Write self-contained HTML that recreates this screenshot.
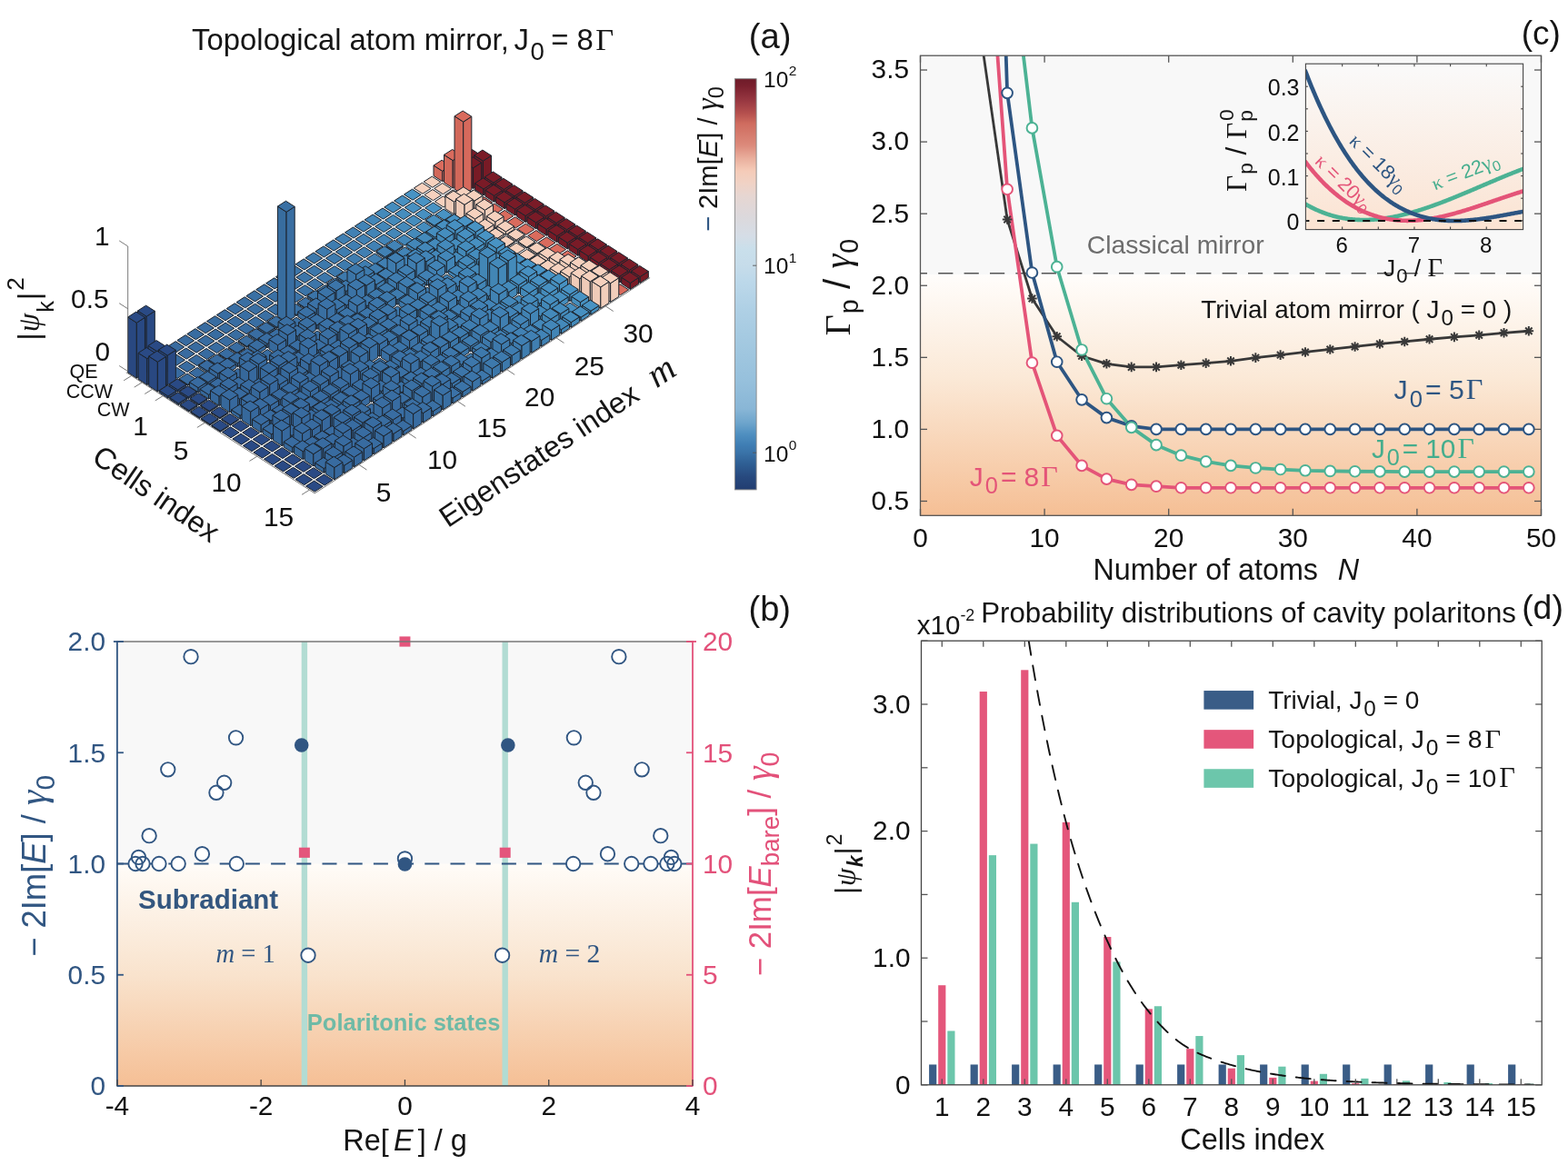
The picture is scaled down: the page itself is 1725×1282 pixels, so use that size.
<!DOCTYPE html><html><head><meta charset="utf-8"><title>Topological atom mirror</title><style>html,body{margin:0;padding:0;background:#fff;overflow:hidden}svg{display:block}</style></head><body><svg width="1725" height="1282" viewBox="0 0 1725 1282"><defs>
<linearGradient id="gc" x1="0" y1="0" x2="0" y2="1"><stop offset="0" stop-color="#f8f8f8"/><stop offset="0.475" stop-color="#f8f8f8"/><stop offset="0.477" stop-color="#fffdfb"/><stop offset="0.70" stop-color="#fbe9d7"/><stop offset="1" stop-color="#f5bf95"/></linearGradient>
<linearGradient id="gb" x1="0" y1="0" x2="0" y2="1"><stop offset="0" stop-color="#f8f8f8"/><stop offset="0.499" stop-color="#f8f8f8"/><stop offset="0.501" stop-color="#fffcf8"/><stop offset="0.75" stop-color="#f9e3cd"/><stop offset="1" stop-color="#f5bf95"/></linearGradient>
<linearGradient id="gi" x1="0" y1="0" x2="0" y2="1"><stop offset="0" stop-color="#fafafa"/><stop offset="1" stop-color="#fbe3d2"/></linearGradient>
<linearGradient id="gcb" x1="0" y1="1" x2="0" y2="0"><stop offset="0" stop-color="#223d70"/><stop offset="0.031" stop-color="#27497e"/><stop offset="0.064" stop-color="#2f5f94"/><stop offset="0.09" stop-color="#3a73a8"/><stop offset="0.108" stop-color="#3f7db3"/><stop offset="0.135" stop-color="#4f8fc0"/><stop offset="0.163" stop-color="#6ea5cc"/><stop offset="0.197" stop-color="#89b6d6"/><stop offset="0.263" stop-color="#96c0dc"/><stop offset="0.351" stop-color="#a2c8e0"/><stop offset="0.44" stop-color="#afd0e5"/><stop offset="0.506" stop-color="#bcd8ea"/><stop offset="0.546" stop-color="#c6dcea"/><stop offset="0.584" stop-color="#c9dfeb"/><stop offset="0.617" stop-color="#d5dde6"/><stop offset="0.668" stop-color="#dcd8db"/><stop offset="0.714" stop-color="#e6d6d2"/><stop offset="0.746" stop-color="#f0d2c5"/><stop offset="0.776" stop-color="#f5cbb8"/><stop offset="0.805" stop-color="#eab09e"/><stop offset="0.838" stop-color="#dc8a7b"/><stop offset="0.891" stop-color="#cf6c5f"/><stop offset="0.916" stop-color="#b5504e"/><stop offset="0.949" stop-color="#963640"/><stop offset="0.982" stop-color="#7a202e"/><stop offset="1.0" stop-color="#6e1c29"/></linearGradient>
<clipPath id="clipc"><rect x="1012.5" y="61.2" width="683" height="506.1"/></clipPath>
<clipPath id="clipi"><rect x="1436.4" y="70.2" width="239.2" height="182.4"/></clipPath>
</defs>
<rect x="0" y="0" width="1725" height="1282" fill="#fff"/>
<rect x="1012.5" y="61.2" width="683.0" height="506.09999999999997" fill="url(#gc)"/>
<line x1="1012.5" y1="300.8" x2="1695.5" y2="300.8" stroke="#555" stroke-width="1.6" stroke-dasharray="16.2 12.2" stroke-dashoffset="8.7"/>
<g clip-path="url(#clipc)">
<path d="M1080.8 51.71 L1108.12 241.5 L1135.44 328.48 L1162.76 370.24 L1190.08 391.75 L1217.4 400.29 L1244.72 403.92 L1272.04 403.92 L1299.36 401.71 L1326.68 399.65 L1354 397.28 L1381.32 393.64 L1408.64 390.64 L1435.96 387.48 L1463.28 384.47 L1490.6 381.47 L1517.92 378.46 L1545.24 375.93 L1572.56 373.24 L1599.88 370.87 L1627.2 368.81 L1654.52 366.28 L1681.84 364.23" fill="none" stroke="#383838" stroke-width="2.8" stroke-linejoin="round" stroke-linecap="round" />
<path d="M1080.8 -168.13 L1108.12 208.29 L1135.44 399.18 L1162.76 479.37 L1190.08 512.42 L1217.4 527.13 L1244.72 533.3 L1272.04 535.19 L1299.36 536.78 L1326.68 536.78 L1354 536.78 L1381.32 536.78 L1408.64 536.78 L1435.96 536.78 L1463.28 536.78 L1490.6 536.78 L1517.92 536.78 L1545.24 536.78 L1572.56 536.78 L1599.88 536.78 L1627.2 536.78 L1654.52 536.78 L1681.84 536.78" fill="none" stroke="#e45478" stroke-width="3.8" stroke-linejoin="round" stroke-linecap="round" />
<path d="M1080.8 -713.77 L1108.12 102.32 L1135.44 300.02 L1162.76 398.23 L1190.08 439.83 L1217.4 459.6 L1244.72 468.77 L1272.04 472.41 L1299.36 472.41 L1326.68 472.41 L1354 472.41 L1381.32 472.41 L1408.64 472.41 L1435.96 472.41 L1463.28 472.41 L1490.6 472.41 L1517.92 472.41 L1545.24 472.41 L1572.56 472.41 L1599.88 472.41 L1627.2 472.41 L1654.52 472.41 L1681.84 472.41" fill="none" stroke="#2d5582" stroke-width="3.8" stroke-linejoin="round" stroke-linecap="round" />
<path d="M1108.12 -87.47 L1135.44 140.91 L1162.76 293.69 L1190.08 384.95 L1217.4 438.72 L1244.72 470.35 L1272.04 489.65 L1299.36 501.19 L1326.68 507.83 L1354 512.42 L1381.32 514.95 L1408.64 516.53 L1435.96 517.8 L1463.28 518.43 L1490.6 518.75 L1517.92 518.9 L1545.24 519.06 L1572.56 519.06 L1599.88 519.06 L1627.2 519.06 L1654.52 519.06 L1681.84 519.06" fill="none" stroke="#4cb294" stroke-width="3.8" stroke-linejoin="round" stroke-linecap="round" />
</g>
<path d="M1102.82 241.5L1113.42 241.5M1104.37 237.75L1111.87 245.25M1108.12 236.2L1108.12 246.8M1111.87 237.75L1104.37 245.25" stroke="#383838" stroke-width="2.0" fill="none"/>
<path d="M1130.14 328.48L1140.74 328.48M1131.69 324.74L1139.19 332.23M1135.44 323.18L1135.44 333.78M1139.19 324.74L1131.69 332.23" stroke="#383838" stroke-width="2.0" fill="none"/>
<path d="M1157.46 370.24L1168.06 370.24M1159.01 366.49L1166.51 373.98M1162.76 364.94L1162.76 375.54M1166.51 366.49L1159.01 373.98" stroke="#383838" stroke-width="2.0" fill="none"/>
<path d="M1184.78 391.75L1195.38 391.75M1186.33 388L1193.83 395.49M1190.08 386.45L1190.08 397.05M1193.83 388L1186.33 395.49" stroke="#383838" stroke-width="2.0" fill="none"/>
<path d="M1212.1 400.29L1222.7 400.29M1213.65 396.54L1221.15 404.03M1217.4 394.99L1217.4 405.59M1221.15 396.54L1213.65 404.03" stroke="#383838" stroke-width="2.0" fill="none"/>
<path d="M1239.42 403.92L1250.02 403.92M1240.97 400.18L1248.47 407.67M1244.72 398.62L1244.72 409.22M1248.47 400.18L1240.97 407.67" stroke="#383838" stroke-width="2.0" fill="none"/>
<path d="M1266.74 403.92L1277.34 403.92M1268.29 400.18L1275.79 407.67M1272.04 398.62L1272.04 409.22M1275.79 400.18L1268.29 407.67" stroke="#383838" stroke-width="2.0" fill="none"/>
<path d="M1294.06 401.71L1304.66 401.71M1295.61 397.96L1303.11 405.46M1299.36 396.41L1299.36 407.01M1303.11 397.96L1295.61 405.46" stroke="#383838" stroke-width="2.0" fill="none"/>
<path d="M1321.38 399.65L1331.98 399.65M1322.93 395.91L1330.43 403.4M1326.68 394.35L1326.68 404.95M1330.43 395.91L1322.93 403.4" stroke="#383838" stroke-width="2.0" fill="none"/>
<path d="M1348.7 397.28L1359.3 397.28M1350.25 393.53L1357.75 401.03M1354 391.98L1354 402.58M1357.75 393.53L1350.25 401.03" stroke="#383838" stroke-width="2.0" fill="none"/>
<path d="M1376.02 393.64L1386.62 393.64M1377.57 389.9L1385.07 397.39M1381.32 388.34L1381.32 398.94M1385.07 389.9L1377.57 397.39" stroke="#383838" stroke-width="2.0" fill="none"/>
<path d="M1403.34 390.64L1413.94 390.64M1404.89 386.89L1412.39 394.39M1408.64 385.34L1408.64 395.94M1412.39 386.89L1404.89 394.39" stroke="#383838" stroke-width="2.0" fill="none"/>
<path d="M1430.66 387.48L1441.26 387.48M1432.21 383.73L1439.71 391.22M1435.96 382.18L1435.96 392.78M1439.71 383.73L1432.21 391.22" stroke="#383838" stroke-width="2.0" fill="none"/>
<path d="M1457.98 384.47L1468.58 384.47M1459.53 380.72L1467.03 388.22M1463.28 379.17L1463.28 389.77M1467.03 380.72L1459.53 388.22" stroke="#383838" stroke-width="2.0" fill="none"/>
<path d="M1485.3 381.47L1495.9 381.47M1486.85 377.72L1494.35 385.21M1490.6 376.17L1490.6 386.77M1494.35 377.72L1486.85 385.21" stroke="#383838" stroke-width="2.0" fill="none"/>
<path d="M1512.62 378.46L1523.22 378.46M1514.17 374.71L1521.67 382.21M1517.92 373.16L1517.92 383.76M1521.67 374.71L1514.17 382.21" stroke="#383838" stroke-width="2.0" fill="none"/>
<path d="M1539.94 375.93L1550.54 375.93M1541.49 372.18L1548.99 379.68M1545.24 370.63L1545.24 381.23M1548.99 372.18L1541.49 379.68" stroke="#383838" stroke-width="2.0" fill="none"/>
<path d="M1567.26 373.24L1577.86 373.24M1568.81 369.49L1576.31 376.99M1572.56 367.94L1572.56 378.54M1576.31 369.49L1568.81 376.99" stroke="#383838" stroke-width="2.0" fill="none"/>
<path d="M1594.58 370.87L1605.18 370.87M1596.13 367.12L1603.63 374.62M1599.88 365.57L1599.88 376.17M1603.63 367.12L1596.13 374.62" stroke="#383838" stroke-width="2.0" fill="none"/>
<path d="M1621.9 368.81L1632.5 368.81M1623.45 365.07L1630.95 372.56M1627.2 363.51L1627.2 374.11M1630.95 365.07L1623.45 372.56" stroke="#383838" stroke-width="2.0" fill="none"/>
<path d="M1649.22 366.28L1659.82 366.28M1650.77 362.54L1658.27 370.03M1654.52 360.98L1654.52 371.58M1658.27 362.54L1650.77 370.03" stroke="#383838" stroke-width="2.0" fill="none"/>
<path d="M1676.54 364.23L1687.14 364.23M1678.09 360.48L1685.59 367.98M1681.84 358.93L1681.84 369.53M1685.59 360.48L1678.09 367.98" stroke="#383838" stroke-width="2.0" fill="none"/>
<circle cx="1108.12" cy="102.32" r="5.85" fill="#fff" stroke="#2d5582" stroke-width="1.95"/>
<circle cx="1135.44" cy="300.02" r="5.85" fill="#fff" stroke="#2d5582" stroke-width="1.95"/>
<circle cx="1162.76" cy="398.23" r="5.85" fill="#fff" stroke="#2d5582" stroke-width="1.95"/>
<circle cx="1190.08" cy="439.83" r="5.85" fill="#fff" stroke="#2d5582" stroke-width="1.95"/>
<circle cx="1217.4" cy="459.6" r="5.85" fill="#fff" stroke="#2d5582" stroke-width="1.95"/>
<circle cx="1244.72" cy="468.77" r="5.85" fill="#fff" stroke="#2d5582" stroke-width="1.95"/>
<circle cx="1272.04" cy="472.41" r="5.85" fill="#fff" stroke="#2d5582" stroke-width="1.95"/>
<circle cx="1299.36" cy="472.41" r="5.85" fill="#fff" stroke="#2d5582" stroke-width="1.95"/>
<circle cx="1326.68" cy="472.41" r="5.85" fill="#fff" stroke="#2d5582" stroke-width="1.95"/>
<circle cx="1354" cy="472.41" r="5.85" fill="#fff" stroke="#2d5582" stroke-width="1.95"/>
<circle cx="1381.32" cy="472.41" r="5.85" fill="#fff" stroke="#2d5582" stroke-width="1.95"/>
<circle cx="1408.64" cy="472.41" r="5.85" fill="#fff" stroke="#2d5582" stroke-width="1.95"/>
<circle cx="1435.96" cy="472.41" r="5.85" fill="#fff" stroke="#2d5582" stroke-width="1.95"/>
<circle cx="1463.28" cy="472.41" r="5.85" fill="#fff" stroke="#2d5582" stroke-width="1.95"/>
<circle cx="1490.6" cy="472.41" r="5.85" fill="#fff" stroke="#2d5582" stroke-width="1.95"/>
<circle cx="1517.92" cy="472.41" r="5.85" fill="#fff" stroke="#2d5582" stroke-width="1.95"/>
<circle cx="1545.24" cy="472.41" r="5.85" fill="#fff" stroke="#2d5582" stroke-width="1.95"/>
<circle cx="1572.56" cy="472.41" r="5.85" fill="#fff" stroke="#2d5582" stroke-width="1.95"/>
<circle cx="1599.88" cy="472.41" r="5.85" fill="#fff" stroke="#2d5582" stroke-width="1.95"/>
<circle cx="1627.2" cy="472.41" r="5.85" fill="#fff" stroke="#2d5582" stroke-width="1.95"/>
<circle cx="1654.52" cy="472.41" r="5.85" fill="#fff" stroke="#2d5582" stroke-width="1.95"/>
<circle cx="1681.84" cy="472.41" r="5.85" fill="#fff" stroke="#2d5582" stroke-width="1.95"/>
<circle cx="1135.44" cy="140.91" r="5.85" fill="#fff" stroke="#4cb294" stroke-width="1.95"/>
<circle cx="1162.76" cy="293.69" r="5.85" fill="#fff" stroke="#4cb294" stroke-width="1.95"/>
<circle cx="1190.08" cy="384.95" r="5.85" fill="#fff" stroke="#4cb294" stroke-width="1.95"/>
<circle cx="1217.4" cy="438.72" r="5.85" fill="#fff" stroke="#4cb294" stroke-width="1.95"/>
<circle cx="1244.72" cy="470.35" r="5.85" fill="#fff" stroke="#4cb294" stroke-width="1.95"/>
<circle cx="1272.04" cy="489.65" r="5.85" fill="#fff" stroke="#4cb294" stroke-width="1.95"/>
<circle cx="1299.36" cy="501.19" r="5.85" fill="#fff" stroke="#4cb294" stroke-width="1.95"/>
<circle cx="1326.68" cy="507.83" r="5.85" fill="#fff" stroke="#4cb294" stroke-width="1.95"/>
<circle cx="1354" cy="512.42" r="5.85" fill="#fff" stroke="#4cb294" stroke-width="1.95"/>
<circle cx="1381.32" cy="514.95" r="5.85" fill="#fff" stroke="#4cb294" stroke-width="1.95"/>
<circle cx="1408.64" cy="516.53" r="5.85" fill="#fff" stroke="#4cb294" stroke-width="1.95"/>
<circle cx="1435.96" cy="517.8" r="5.85" fill="#fff" stroke="#4cb294" stroke-width="1.95"/>
<circle cx="1463.28" cy="518.43" r="5.85" fill="#fff" stroke="#4cb294" stroke-width="1.95"/>
<circle cx="1490.6" cy="518.75" r="5.85" fill="#fff" stroke="#4cb294" stroke-width="1.95"/>
<circle cx="1517.92" cy="518.9" r="5.85" fill="#fff" stroke="#4cb294" stroke-width="1.95"/>
<circle cx="1545.24" cy="519.06" r="5.85" fill="#fff" stroke="#4cb294" stroke-width="1.95"/>
<circle cx="1572.56" cy="519.06" r="5.85" fill="#fff" stroke="#4cb294" stroke-width="1.95"/>
<circle cx="1599.88" cy="519.06" r="5.85" fill="#fff" stroke="#4cb294" stroke-width="1.95"/>
<circle cx="1627.2" cy="519.06" r="5.85" fill="#fff" stroke="#4cb294" stroke-width="1.95"/>
<circle cx="1654.52" cy="519.06" r="5.85" fill="#fff" stroke="#4cb294" stroke-width="1.95"/>
<circle cx="1681.84" cy="519.06" r="5.85" fill="#fff" stroke="#4cb294" stroke-width="1.95"/>
<circle cx="1108.12" cy="208.29" r="5.85" fill="#fff" stroke="#e45478" stroke-width="1.95"/>
<circle cx="1135.44" cy="399.18" r="5.85" fill="#fff" stroke="#e45478" stroke-width="1.95"/>
<circle cx="1162.76" cy="479.37" r="5.85" fill="#fff" stroke="#e45478" stroke-width="1.95"/>
<circle cx="1190.08" cy="512.42" r="5.85" fill="#fff" stroke="#e45478" stroke-width="1.95"/>
<circle cx="1217.4" cy="527.13" r="5.85" fill="#fff" stroke="#e45478" stroke-width="1.95"/>
<circle cx="1244.72" cy="533.3" r="5.85" fill="#fff" stroke="#e45478" stroke-width="1.95"/>
<circle cx="1272.04" cy="535.19" r="5.85" fill="#fff" stroke="#e45478" stroke-width="1.95"/>
<circle cx="1299.36" cy="536.78" r="5.85" fill="#fff" stroke="#e45478" stroke-width="1.95"/>
<circle cx="1326.68" cy="536.78" r="5.85" fill="#fff" stroke="#e45478" stroke-width="1.95"/>
<circle cx="1354" cy="536.78" r="5.85" fill="#fff" stroke="#e45478" stroke-width="1.95"/>
<circle cx="1381.32" cy="536.78" r="5.85" fill="#fff" stroke="#e45478" stroke-width="1.95"/>
<circle cx="1408.64" cy="536.78" r="5.85" fill="#fff" stroke="#e45478" stroke-width="1.95"/>
<circle cx="1435.96" cy="536.78" r="5.85" fill="#fff" stroke="#e45478" stroke-width="1.95"/>
<circle cx="1463.28" cy="536.78" r="5.85" fill="#fff" stroke="#e45478" stroke-width="1.95"/>
<circle cx="1490.6" cy="536.78" r="5.85" fill="#fff" stroke="#e45478" stroke-width="1.95"/>
<circle cx="1517.92" cy="536.78" r="5.85" fill="#fff" stroke="#e45478" stroke-width="1.95"/>
<circle cx="1545.24" cy="536.78" r="5.85" fill="#fff" stroke="#e45478" stroke-width="1.95"/>
<circle cx="1572.56" cy="536.78" r="5.85" fill="#fff" stroke="#e45478" stroke-width="1.95"/>
<circle cx="1599.88" cy="536.78" r="5.85" fill="#fff" stroke="#e45478" stroke-width="1.95"/>
<circle cx="1627.2" cy="536.78" r="5.85" fill="#fff" stroke="#e45478" stroke-width="1.95"/>
<circle cx="1654.52" cy="536.78" r="5.85" fill="#fff" stroke="#e45478" stroke-width="1.95"/>
<circle cx="1681.84" cy="536.78" r="5.85" fill="#fff" stroke="#e45478" stroke-width="1.95"/>
<rect x="1012.5" y="61.2" width="683.0" height="506.09999999999997" fill="none" stroke="#555" stroke-width="1.3"/>
<line x1="1012.5" y1="551.48" x2="1020" y2="551.48" stroke="#555" stroke-width="1.3" />
<line x1="1695.5" y1="551.48" x2="1688" y2="551.48" stroke="#555" stroke-width="1.3" />
<text x="1000" y="560.88" font-size="29.8" text-anchor="end" fill="#111" font-family="'Liberation Sans', Arial, sans-serif" >0.5</text>
<line x1="1012.5" y1="472.41" x2="1020" y2="472.41" stroke="#555" stroke-width="1.3" />
<line x1="1695.5" y1="472.41" x2="1688" y2="472.41" stroke="#555" stroke-width="1.3" />
<text x="1000" y="481.81" font-size="29.8" text-anchor="end" fill="#111" font-family="'Liberation Sans', Arial, sans-serif" >1.0</text>
<line x1="1012.5" y1="393.33" x2="1020" y2="393.33" stroke="#555" stroke-width="1.3" />
<line x1="1695.5" y1="393.33" x2="1688" y2="393.33" stroke="#555" stroke-width="1.3" />
<text x="1000" y="402.73" font-size="29.8" text-anchor="end" fill="#111" font-family="'Liberation Sans', Arial, sans-serif" >1.5</text>
<line x1="1012.5" y1="314.25" x2="1020" y2="314.25" stroke="#555" stroke-width="1.3" />
<line x1="1695.5" y1="314.25" x2="1688" y2="314.25" stroke="#555" stroke-width="1.3" />
<text x="1000" y="323.65" font-size="29.8" text-anchor="end" fill="#111" font-family="'Liberation Sans', Arial, sans-serif" >2.0</text>
<line x1="1012.5" y1="235.17" x2="1020" y2="235.17" stroke="#555" stroke-width="1.3" />
<line x1="1695.5" y1="235.17" x2="1688" y2="235.17" stroke="#555" stroke-width="1.3" />
<text x="1000" y="244.57" font-size="29.8" text-anchor="end" fill="#111" font-family="'Liberation Sans', Arial, sans-serif" >2.5</text>
<line x1="1012.5" y1="156.09" x2="1020" y2="156.09" stroke="#555" stroke-width="1.3" />
<line x1="1695.5" y1="156.09" x2="1688" y2="156.09" stroke="#555" stroke-width="1.3" />
<text x="1000" y="165.49" font-size="29.8" text-anchor="end" fill="#111" font-family="'Liberation Sans', Arial, sans-serif" >3.0</text>
<line x1="1012.5" y1="77.02" x2="1020" y2="77.02" stroke="#555" stroke-width="1.3" />
<line x1="1695.5" y1="77.02" x2="1688" y2="77.02" stroke="#555" stroke-width="1.3" />
<text x="1000" y="86.42" font-size="29.8" text-anchor="end" fill="#111" font-family="'Liberation Sans', Arial, sans-serif" >3.5</text>
<line x1="1012.5" y1="567.3" x2="1012.5" y2="559.8" stroke="#555" stroke-width="1.3" />
<line x1="1012.5" y1="61.2" x2="1012.5" y2="68.7" stroke="#555" stroke-width="1.3" />
<text x="1012.5" y="601.7" font-size="29.8" text-anchor="middle" fill="#111" font-family="'Liberation Sans', Arial, sans-serif" >0</text>
<line x1="1149.1" y1="567.3" x2="1149.1" y2="559.8" stroke="#555" stroke-width="1.3" />
<line x1="1149.1" y1="61.2" x2="1149.1" y2="68.7" stroke="#555" stroke-width="1.3" />
<text x="1149.1" y="601.7" font-size="29.8" text-anchor="middle" fill="#111" font-family="'Liberation Sans', Arial, sans-serif" >10</text>
<line x1="1285.7" y1="567.3" x2="1285.7" y2="559.8" stroke="#555" stroke-width="1.3" />
<line x1="1285.7" y1="61.2" x2="1285.7" y2="68.7" stroke="#555" stroke-width="1.3" />
<text x="1285.7" y="601.7" font-size="29.8" text-anchor="middle" fill="#111" font-family="'Liberation Sans', Arial, sans-serif" >20</text>
<line x1="1422.3" y1="567.3" x2="1422.3" y2="559.8" stroke="#555" stroke-width="1.3" />
<line x1="1422.3" y1="61.2" x2="1422.3" y2="68.7" stroke="#555" stroke-width="1.3" />
<text x="1422.3" y="601.7" font-size="29.8" text-anchor="middle" fill="#111" font-family="'Liberation Sans', Arial, sans-serif" >30</text>
<line x1="1558.9" y1="567.3" x2="1558.9" y2="559.8" stroke="#555" stroke-width="1.3" />
<line x1="1558.9" y1="61.2" x2="1558.9" y2="68.7" stroke="#555" stroke-width="1.3" />
<text x="1558.9" y="601.7" font-size="29.8" text-anchor="middle" fill="#111" font-family="'Liberation Sans', Arial, sans-serif" >40</text>
<line x1="1695.5" y1="567.3" x2="1695.5" y2="559.8" stroke="#555" stroke-width="1.3" />
<line x1="1695.5" y1="61.2" x2="1695.5" y2="68.7" stroke="#555" stroke-width="1.3" />
<text x="1695.5" y="601.7" font-size="29.8" text-anchor="middle" fill="#111" font-family="'Liberation Sans', Arial, sans-serif" >50</text>
<rect x="1436.4" y="70.2" width="239.19999999999982" height="182.39999999999998" fill="url(#gi)"/>
<g clip-path="url(#clipi)">
<path d="M1436 224.49 L1437.01 225.07 L1438.01 225.65 L1439.02 226.21 L1440.03 226.77 L1441.03 227.31 L1442.04 227.84 L1443.04 228.36 L1444.05 228.87 L1445.06 229.37 L1446.06 229.85 L1447.07 230.33 L1448.08 230.79 L1449.08 231.25 L1450.09 231.7 L1451.09 232.13 L1452.1 232.55 L1453.11 232.97 L1454.11 233.37 L1455.12 233.76 L1456.13 234.15 L1457.13 234.52 L1458.14 234.88 L1459.14 235.24 L1460.15 235.58 L1461.16 235.91 L1462.16 236.24 L1463.17 236.55 L1464.18 236.86 L1465.18 237.15 L1466.19 237.44 L1467.19 237.72 L1468.2 237.98 L1469.21 238.24 L1470.21 238.49 L1471.22 238.73 L1472.23 238.96 L1473.23 239.18 L1474.24 239.4 L1475.24 239.6 L1476.25 239.79 L1477.26 239.98 L1478.26 240.16 L1479.27 240.33 L1480.28 240.49 L1481.28 240.64 L1482.29 240.78 L1483.29 240.92 L1484.3 241.05 L1485.31 241.17 L1486.31 241.28 L1487.32 241.38 L1488.33 241.47 L1489.33 241.56 L1490.34 241.64 L1491.35 241.71 L1492.35 241.78 L1493.36 241.83 L1494.36 241.88 L1495.37 241.92 L1496.38 241.95 L1497.38 241.98 L1498.39 242 L1499.4 242.01 L1500.4 242.01 L1501.41 242.01 L1502.41 242 L1503.42 241.98 L1504.43 241.96 L1505.43 241.93 L1506.44 241.89 L1507.45 241.85 L1508.45 241.79 L1509.46 241.74 L1510.46 241.67 L1511.47 241.6 L1512.48 241.52 L1513.48 241.44 L1514.49 241.35 L1515.5 241.25 L1516.5 241.15 L1517.51 241.04 L1518.51 240.93 L1519.52 240.81 L1520.53 240.68 L1521.53 240.55 L1522.54 240.41 L1523.55 240.27 L1524.55 240.12 L1525.56 239.96 L1526.56 239.8 L1527.57 239.64 L1528.58 239.47 L1529.58 239.29 L1530.59 239.11 L1531.6 238.92 L1532.6 238.73 L1533.61 238.53 L1534.62 238.33 L1535.62 238.12 L1536.63 237.91 L1537.63 237.7 L1538.64 237.48 L1539.65 237.25 L1540.65 237.02 L1541.66 236.78 L1542.67 236.55 L1543.67 236.3 L1544.68 236.05 L1545.68 235.8 L1546.69 235.54 L1547.7 235.28 L1548.7 235.02 L1549.71 234.75 L1550.72 234.48 L1551.72 234.2 L1552.73 233.92 L1553.73 233.63 L1554.74 233.35 L1555.75 233.05 L1556.75 232.76 L1557.76 232.46 L1558.77 232.15 L1559.77 231.85 L1560.78 231.54 L1561.78 231.22 L1562.79 230.91 L1563.8 230.58 L1564.8 230.26 L1565.81 229.93 L1566.82 229.6 L1567.82 229.27 L1568.83 228.93 L1569.83 228.59 L1570.84 228.25 L1571.85 227.9 L1572.85 227.55 L1573.86 227.2 L1574.87 226.85 L1575.87 226.49 L1576.88 226.13 L1577.88 225.77 L1578.89 225.4 L1579.9 225.04 L1580.9 224.67 L1581.91 224.29 L1582.92 223.92 L1583.92 223.54 L1584.93 223.16 L1585.94 222.78 L1586.94 222.39 L1587.95 222.01 L1588.95 221.62 L1589.96 221.23 L1590.97 220.84 L1591.97 220.44 L1592.98 220.05 L1593.99 219.65 L1594.99 219.25 L1596 218.85 L1597 218.44 L1598.01 218.04 L1599.02 217.63 L1600.02 217.22 L1601.03 216.81 L1602.04 216.4 L1603.04 215.99 L1604.05 215.57 L1605.05 215.16 L1606.06 214.74 L1607.07 214.33 L1608.07 213.91 L1609.08 213.49 L1610.09 213.07 L1611.09 212.64 L1612.1 212.22 L1613.1 211.8 L1614.11 211.37 L1615.12 210.95 L1616.12 210.52 L1617.13 210.1 L1618.14 209.67 L1619.14 209.24 L1620.15 208.81 L1621.15 208.38 L1622.16 207.95 L1623.17 207.52 L1624.17 207.09 L1625.18 206.66 L1626.19 206.23 L1627.19 205.8 L1628.2 205.37 L1629.21 204.94 L1630.21 204.51 L1631.22 204.08 L1632.22 203.65 L1633.23 203.22 L1634.24 202.79 L1635.24 202.36 L1636.25 201.93 L1637.26 201.5 L1638.26 201.07 L1639.27 200.64 L1640.27 200.21 L1641.28 199.79 L1642.29 199.36 L1643.29 198.93 L1644.3 198.51 L1645.31 198.08 L1646.31 197.66 L1647.32 197.23 L1648.32 196.81 L1649.33 196.39 L1650.34 195.97 L1651.34 195.55 L1652.35 195.13 L1653.36 194.72 L1654.36 194.3 L1655.37 193.88 L1656.37 193.47 L1657.38 193.06 L1658.39 192.65 L1659.39 192.24 L1660.4 191.83 L1661.41 191.43 L1662.41 191.02 L1663.42 190.62 L1664.42 190.22 L1665.43 189.82 L1666.44 189.42 L1667.44 189.03 L1668.45 188.63 L1669.46 188.24 L1670.46 187.85 L1671.47 187.46 L1672.47 187.08 L1673.48 186.69 L1674.49 186.31 L1675.49 185.93 L1676.5 185.56" fill="none" stroke="#4cb294" stroke-width="4.6" stroke-linejoin="round" stroke-linecap="round" />
<path d="M1436 177.91 L1437.01 179.23 L1438.01 180.53 L1439.02 181.82 L1440.03 183.09 L1441.03 184.34 L1442.04 185.58 L1443.04 186.8 L1444.05 188.01 L1445.06 189.2 L1446.06 190.37 L1447.07 191.53 L1448.08 192.67 L1449.08 193.8 L1450.09 194.91 L1451.09 196.01 L1452.1 197.09 L1453.11 198.16 L1454.11 199.22 L1455.12 200.25 L1456.13 201.28 L1457.13 202.28 L1458.14 203.28 L1459.14 204.26 L1460.15 205.22 L1461.16 206.17 L1462.16 207.11 L1463.17 208.03 L1464.18 208.94 L1465.18 209.83 L1466.19 210.71 L1467.19 211.58 L1468.2 212.43 L1469.21 213.27 L1470.21 214.09 L1471.22 214.91 L1472.23 215.7 L1473.23 216.49 L1474.24 217.26 L1475.24 218.02 L1476.25 218.76 L1477.26 219.49 L1478.26 220.21 L1479.27 220.91 L1480.28 221.61 L1481.28 222.29 L1482.29 222.95 L1483.29 223.61 L1484.3 224.25 L1485.31 224.88 L1486.31 225.5 L1487.32 226.1 L1488.33 226.69 L1489.33 227.27 L1490.34 227.84 L1491.35 228.4 L1492.35 228.94 L1493.36 229.47 L1494.36 229.99 L1495.37 230.5 L1496.38 231 L1497.38 231.48 L1498.39 231.96 L1499.4 232.42 L1500.4 232.87 L1501.41 233.31 L1502.41 233.74 L1503.42 234.16 L1504.43 234.57 L1505.43 234.96 L1506.44 235.35 L1507.45 235.72 L1508.45 236.09 L1509.46 236.44 L1510.46 236.79 L1511.47 237.12 L1512.48 237.44 L1513.48 237.75 L1514.49 238.05 L1515.5 238.35 L1516.5 238.63 L1517.51 238.9 L1518.51 239.16 L1519.52 239.41 L1520.53 239.66 L1521.53 239.89 L1522.54 240.11 L1523.55 240.33 L1524.55 240.53 L1525.56 240.73 L1526.56 240.91 L1527.57 241.09 L1528.58 241.26 L1529.58 241.41 L1530.59 241.56 L1531.6 241.71 L1532.6 241.84 L1533.61 241.96 L1534.62 242.08 L1535.62 242.18 L1536.63 242.28 L1537.63 242.37 L1538.64 242.45 L1539.65 242.53 L1540.65 242.59 L1541.66 242.65 L1542.67 242.7 L1543.67 242.74 L1544.68 242.77 L1545.68 242.8 L1546.69 242.82 L1547.7 242.83 L1548.7 242.83 L1549.71 242.82 L1550.72 242.81 L1551.72 242.79 L1552.73 242.77 L1553.73 242.73 L1554.74 242.69 L1555.75 242.65 L1556.75 242.59 L1557.76 242.53 L1558.77 242.46 L1559.77 242.39 L1560.78 242.31 L1561.78 242.22 L1562.79 242.13 L1563.8 242.03 L1564.8 241.92 L1565.81 241.81 L1566.82 241.69 L1567.82 241.57 L1568.83 241.44 L1569.83 241.3 L1570.84 241.16 L1571.85 241.02 L1572.85 240.86 L1573.86 240.7 L1574.87 240.54 L1575.87 240.37 L1576.88 240.2 L1577.88 240.02 L1578.89 239.83 L1579.9 239.64 L1580.9 239.45 L1581.91 239.25 L1582.92 239.05 L1583.92 238.84 L1584.93 238.62 L1585.94 238.41 L1586.94 238.18 L1587.95 237.96 L1588.95 237.73 L1589.96 237.49 L1590.97 237.25 L1591.97 237.01 L1592.98 236.76 L1593.99 236.51 L1594.99 236.25 L1596 235.99 L1597 235.73 L1598.01 235.46 L1599.02 235.19 L1600.02 234.92 L1601.03 234.64 L1602.04 234.36 L1603.04 234.08 L1604.05 233.79 L1605.05 233.5 L1606.06 233.21 L1607.07 232.92 L1608.07 232.62 L1609.08 232.32 L1610.09 232.01 L1611.09 231.71 L1612.1 231.4 L1613.1 231.09 L1614.11 230.78 L1615.12 230.46 L1616.12 230.14 L1617.13 229.82 L1618.14 229.5 L1619.14 229.18 L1620.15 228.85 L1621.15 228.53 L1622.16 228.2 L1623.17 227.87 L1624.17 227.53 L1625.18 227.2 L1626.19 226.87 L1627.19 226.53 L1628.2 226.19 L1629.21 225.85 L1630.21 225.51 L1631.22 225.17 L1632.22 224.83 L1633.23 224.49 L1634.24 224.15 L1635.24 223.8 L1636.25 223.46 L1637.26 223.11 L1638.26 222.77 L1639.27 222.42 L1640.27 222.08 L1641.28 221.73 L1642.29 221.38 L1643.29 221.04 L1644.3 220.69 L1645.31 220.35 L1646.31 220 L1647.32 219.65 L1648.32 219.31 L1649.33 218.97 L1650.34 218.62 L1651.34 218.28 L1652.35 217.93 L1653.36 217.59 L1654.36 217.25 L1655.37 216.91 L1656.37 216.57 L1657.38 216.23 L1658.39 215.9 L1659.39 215.56 L1660.4 215.23 L1661.41 214.89 L1662.41 214.56 L1663.42 214.23 L1664.42 213.9 L1665.43 213.58 L1666.44 213.25 L1667.44 212.93 L1668.45 212.61 L1669.46 212.29 L1670.46 211.97 L1671.47 211.66 L1672.47 211.34 L1673.48 211.03 L1674.49 210.73 L1675.49 210.42 L1676.5 210.12" fill="none" stroke="#e45478" stroke-width="4.6" stroke-linejoin="round" stroke-linecap="round" />
<path d="M1436 77.98 L1437.01 80.61 L1438.01 83.2 L1439.02 85.77 L1440.03 88.31 L1441.03 90.83 L1442.04 93.31 L1443.04 95.77 L1444.05 98.2 L1445.06 100.61 L1446.06 102.98 L1447.07 105.33 L1448.08 107.66 L1449.08 109.96 L1450.09 112.23 L1451.09 114.48 L1452.1 116.7 L1453.11 118.89 L1454.11 121.06 L1455.12 123.2 L1456.13 125.32 L1457.13 127.41 L1458.14 129.48 L1459.14 131.52 L1460.15 133.54 L1461.16 135.54 L1462.16 137.51 L1463.17 139.45 L1464.18 141.37 L1465.18 143.27 L1466.19 145.14 L1467.19 146.99 L1468.2 148.82 L1469.21 150.62 L1470.21 152.4 L1471.22 154.16 L1472.23 155.9 L1473.23 157.61 L1474.24 159.3 L1475.24 160.96 L1476.25 162.61 L1477.26 164.23 L1478.26 165.83 L1479.27 167.41 L1480.28 168.97 L1481.28 170.51 L1482.29 172.02 L1483.29 173.51 L1484.3 174.99 L1485.31 176.44 L1486.31 177.87 L1487.32 179.28 L1488.33 180.67 L1489.33 182.04 L1490.34 183.39 L1491.35 184.72 L1492.35 186.03 L1493.36 187.32 L1494.36 188.6 L1495.37 189.85 L1496.38 191.08 L1497.38 192.3 L1498.39 193.49 L1499.4 194.67 L1500.4 195.83 L1501.41 196.97 L1502.41 198.09 L1503.42 199.19 L1504.43 200.28 L1505.43 201.35 L1506.44 202.4 L1507.45 203.43 L1508.45 204.45 L1509.46 205.45 L1510.46 206.43 L1511.47 207.39 L1512.48 208.34 L1513.48 209.28 L1514.49 210.19 L1515.5 211.09 L1516.5 211.97 L1517.51 212.84 L1518.51 213.69 L1519.52 214.53 L1520.53 215.35 L1521.53 216.16 L1522.54 216.95 L1523.55 217.72 L1524.55 218.49 L1525.56 219.23 L1526.56 219.96 L1527.57 220.68 L1528.58 221.39 L1529.58 222.07 L1530.59 222.75 L1531.6 223.41 L1532.6 224.06 L1533.61 224.7 L1534.62 225.32 L1535.62 225.93 L1536.63 226.52 L1537.63 227.1 L1538.64 227.67 L1539.65 228.23 L1540.65 228.78 L1541.66 229.31 L1542.67 229.83 L1543.67 230.34 L1544.68 230.84 L1545.68 231.33 L1546.69 231.8 L1547.7 232.26 L1548.7 232.71 L1549.71 233.15 L1550.72 233.58 L1551.72 234 L1552.73 234.41 L1553.73 234.81 L1554.74 235.19 L1555.75 235.57 L1556.75 235.93 L1557.76 236.28 L1558.77 236.63 L1559.77 236.96 L1560.78 237.28 L1561.78 237.6 L1562.79 237.9 L1563.8 238.19 L1564.8 238.48 L1565.81 238.75 L1566.82 239.01 L1567.82 239.27 L1568.83 239.51 L1569.83 239.75 L1570.84 239.98 L1571.85 240.19 L1572.85 240.4 L1573.86 240.6 L1574.87 240.8 L1575.87 240.98 L1576.88 241.15 L1577.88 241.32 L1578.89 241.47 L1579.9 241.62 L1580.9 241.76 L1581.91 241.9 L1582.92 242.02 L1583.92 242.14 L1584.93 242.25 L1585.94 242.35 L1586.94 242.44 L1587.95 242.53 L1588.95 242.61 L1589.96 242.68 L1590.97 242.75 L1591.97 242.8 L1592.98 242.85 L1593.99 242.9 L1594.99 242.94 L1596 242.97 L1597 242.99 L1598.01 243.01 L1599.02 243.02 L1600.02 243.02 L1601.03 243.02 L1602.04 243.02 L1603.04 243 L1604.05 242.98 L1605.05 242.96 L1606.06 242.93 L1607.07 242.89 L1608.07 242.85 L1609.08 242.8 L1610.09 242.75 L1611.09 242.69 L1612.1 242.63 L1613.1 242.56 L1614.11 242.49 L1615.12 242.41 L1616.12 242.33 L1617.13 242.25 L1618.14 242.16 L1619.14 242.06 L1620.15 241.96 L1621.15 241.86 L1622.16 241.75 L1623.17 241.64 L1624.17 241.53 L1625.18 241.41 L1626.19 241.28 L1627.19 241.16 L1628.2 241.03 L1629.21 240.9 L1630.21 240.76 L1631.22 240.62 L1632.22 240.48 L1633.23 240.33 L1634.24 240.18 L1635.24 240.03 L1636.25 239.88 L1637.26 239.72 L1638.26 239.56 L1639.27 239.4 L1640.27 239.24 L1641.28 239.08 L1642.29 238.91 L1643.29 238.74 L1644.3 238.57 L1645.31 238.4 L1646.31 238.22 L1647.32 238.04 L1648.32 237.87 L1649.33 237.69 L1650.34 237.51 L1651.34 237.33 L1652.35 237.15 L1653.36 236.96 L1654.36 236.78 L1655.37 236.59 L1656.37 236.41 L1657.38 236.22 L1658.39 236.04 L1659.39 235.85 L1660.4 235.66 L1661.41 235.47 L1662.41 235.29 L1663.42 235.1 L1664.42 234.91 L1665.43 234.73 L1666.44 234.54 L1667.44 234.35 L1668.45 234.17 L1669.46 233.98 L1670.46 233.8 L1671.47 233.62 L1672.47 233.44 L1673.48 233.26 L1674.49 233.08 L1675.49 232.9 L1676.5 232.72" fill="none" stroke="#2d5582" stroke-width="4.6" stroke-linejoin="round" stroke-linecap="round" />
<line x1="1436.4" y1="243" x2="1675.6" y2="243" stroke="#111" stroke-width="2.0" stroke-dasharray="8 8.7" stroke-dashoffset="4"/>
</g>
<rect x="1436.4" y="70.2" width="239.19999999999982" height="182.39999999999998" fill="none" stroke="#444" stroke-width="1.1"/>
<line x1="1476.65" y1="252.6" x2="1476.65" y2="249.6" stroke="#444" stroke-width="1.1" />
<line x1="1476.65" y1="70.2" x2="1476.65" y2="73.2" stroke="#444" stroke-width="1.1" />
<line x1="1516.3" y1="252.6" x2="1516.3" y2="249.6" stroke="#444" stroke-width="1.1" />
<line x1="1516.3" y1="70.2" x2="1516.3" y2="73.2" stroke="#444" stroke-width="1.1" />
<line x1="1555.95" y1="252.6" x2="1555.95" y2="249.6" stroke="#444" stroke-width="1.1" />
<line x1="1555.95" y1="70.2" x2="1555.95" y2="73.2" stroke="#444" stroke-width="1.1" />
<line x1="1595.6" y1="252.6" x2="1595.6" y2="249.6" stroke="#444" stroke-width="1.1" />
<line x1="1595.6" y1="70.2" x2="1595.6" y2="73.2" stroke="#444" stroke-width="1.1" />
<line x1="1635.25" y1="252.6" x2="1635.25" y2="249.6" stroke="#444" stroke-width="1.1" />
<line x1="1635.25" y1="70.2" x2="1635.25" y2="73.2" stroke="#444" stroke-width="1.1" />
<line x1="1436.4" y1="242.8" x2="1438.9" y2="242.8" stroke="#444" stroke-width="1.1" />
<line x1="1675.6" y1="242.8" x2="1673.1" y2="242.8" stroke="#444" stroke-width="1.1" />
<line x1="1436.4" y1="218.2" x2="1438.9" y2="218.2" stroke="#444" stroke-width="1.1" />
<line x1="1675.6" y1="218.2" x2="1673.1" y2="218.2" stroke="#444" stroke-width="1.1" />
<line x1="1436.4" y1="193.6" x2="1438.9" y2="193.6" stroke="#444" stroke-width="1.1" />
<line x1="1675.6" y1="193.6" x2="1673.1" y2="193.6" stroke="#444" stroke-width="1.1" />
<line x1="1436.4" y1="169" x2="1438.9" y2="169" stroke="#444" stroke-width="1.1" />
<line x1="1675.6" y1="169" x2="1673.1" y2="169" stroke="#444" stroke-width="1.1" />
<line x1="1436.4" y1="144.4" x2="1438.9" y2="144.4" stroke="#444" stroke-width="1.1" />
<line x1="1675.6" y1="144.4" x2="1673.1" y2="144.4" stroke="#444" stroke-width="1.1" />
<line x1="1436.4" y1="119.8" x2="1438.9" y2="119.8" stroke="#444" stroke-width="1.1" />
<line x1="1675.6" y1="119.8" x2="1673.1" y2="119.8" stroke="#444" stroke-width="1.1" />
<line x1="1436.4" y1="95.2" x2="1438.9" y2="95.2" stroke="#444" stroke-width="1.1" />
<line x1="1675.6" y1="95.2" x2="1673.1" y2="95.2" stroke="#444" stroke-width="1.1" />
<text x="1429.5" y="253" font-size="25" text-anchor="end" fill="#111" font-family="'Liberation Sans', Arial, sans-serif" >0</text>
<text x="1429.5" y="203.8" font-size="25" text-anchor="end" fill="#111" font-family="'Liberation Sans', Arial, sans-serif" >0.1</text>
<text x="1429.5" y="154.6" font-size="25" text-anchor="end" fill="#111" font-family="'Liberation Sans', Arial, sans-serif" >0.2</text>
<text x="1429.5" y="105.4" font-size="25" text-anchor="end" fill="#111" font-family="'Liberation Sans', Arial, sans-serif" >0.3</text>
<text x="1476.15" y="277.8" font-size="24" text-anchor="middle" fill="#111" font-family="'Liberation Sans', Arial, sans-serif" >6</text>
<text x="1555.45" y="277.8" font-size="24" text-anchor="middle" fill="#111" font-family="'Liberation Sans', Arial, sans-serif" >7</text>
<text x="1634.75" y="277.8" font-size="24" text-anchor="middle" fill="#111" font-family="'Liberation Sans', Arial, sans-serif" >8</text>
<rect x="128.9" y="706.0" width="633.1" height="489.0" fill="url(#gb)"/>
<line x1="334.89" y1="706" x2="334.89" y2="1195" stroke="#b2dcd3" stroke-width="6.4" />
<line x1="555.69" y1="706" x2="555.69" y2="1195" stroke="#b2dcd3" stroke-width="6.4" />
<line x1="128.9" y1="950.5" x2="762" y2="950.5" stroke="#315682" stroke-width="2.0" stroke-dasharray="16 12.2"/>
<circle cx="210.02" cy="722.63" r="7.7" fill="#fff"/>
<circle cx="184.77" cy="846.83" r="7.7" fill="#fff"/>
<circle cx="259.56" cy="811.87" r="7.7" fill="#fff"/>
<circle cx="246.66" cy="861.26" r="7.7" fill="#fff"/>
<circle cx="237.95" cy="872.26" r="7.7" fill="#fff"/>
<circle cx="164.12" cy="919.69" r="7.7" fill="#fff"/>
<circle cx="222.44" cy="939.74" r="7.7" fill="#fff"/>
<circle cx="152.48" cy="943.41" r="7.7" fill="#fff"/>
<circle cx="149.08" cy="950.5" r="7.7" fill="#fff"/>
<circle cx="156.99" cy="950.5" r="7.7" fill="#fff"/>
<circle cx="174.96" cy="950.5" r="7.7" fill="#fff"/>
<circle cx="196.17" cy="950.5" r="7.7" fill="#fff"/>
<circle cx="260.27" cy="950.5" r="7.7" fill="#fff"/>
<circle cx="445.45" cy="944.88" r="7.7" fill="#fff"/>
<circle cx="339.01" cy="1051.23" r="7.7" fill="#fff"/>
<circle cx="552.6" cy="1051.23" r="7.7" fill="#fff"/>
<circle cx="680.88" cy="722.63" r="7.7" fill="#fff"/>
<circle cx="706.13" cy="846.83" r="7.7" fill="#fff"/>
<circle cx="631.34" cy="811.87" r="7.7" fill="#fff"/>
<circle cx="644.24" cy="861.26" r="7.7" fill="#fff"/>
<circle cx="652.95" cy="872.26" r="7.7" fill="#fff"/>
<circle cx="726.78" cy="919.69" r="7.7" fill="#fff"/>
<circle cx="668.46" cy="939.74" r="7.7" fill="#fff"/>
<circle cx="738.42" cy="943.41" r="7.7" fill="#fff"/>
<circle cx="741.82" cy="950.5" r="7.7" fill="#fff"/>
<circle cx="733.91" cy="950.5" r="7.7" fill="#fff"/>
<circle cx="715.94" cy="950.5" r="7.7" fill="#fff"/>
<circle cx="694.73" cy="950.5" r="7.7" fill="#fff"/>
<circle cx="630.63" cy="950.5" r="7.7" fill="#fff"/>
<circle cx="210.02" cy="722.63" r="7.7" fill="none" stroke="#315682" stroke-width="1.9"/>
<circle cx="184.77" cy="846.83" r="7.7" fill="none" stroke="#315682" stroke-width="1.9"/>
<circle cx="259.56" cy="811.87" r="7.7" fill="none" stroke="#315682" stroke-width="1.9"/>
<circle cx="246.66" cy="861.26" r="7.7" fill="none" stroke="#315682" stroke-width="1.9"/>
<circle cx="237.95" cy="872.26" r="7.7" fill="none" stroke="#315682" stroke-width="1.9"/>
<circle cx="164.12" cy="919.69" r="7.7" fill="none" stroke="#315682" stroke-width="1.9"/>
<circle cx="222.44" cy="939.74" r="7.7" fill="none" stroke="#315682" stroke-width="1.9"/>
<circle cx="152.48" cy="943.41" r="7.7" fill="none" stroke="#315682" stroke-width="1.9"/>
<circle cx="149.08" cy="950.5" r="7.7" fill="none" stroke="#315682" stroke-width="1.9"/>
<circle cx="156.99" cy="950.5" r="7.7" fill="none" stroke="#315682" stroke-width="1.9"/>
<circle cx="174.96" cy="950.5" r="7.7" fill="none" stroke="#315682" stroke-width="1.9"/>
<circle cx="196.17" cy="950.5" r="7.7" fill="none" stroke="#315682" stroke-width="1.9"/>
<circle cx="260.27" cy="950.5" r="7.7" fill="none" stroke="#315682" stroke-width="1.9"/>
<circle cx="445.45" cy="944.88" r="7.7" fill="none" stroke="#315682" stroke-width="1.9"/>
<circle cx="339.01" cy="1051.23" r="7.7" fill="none" stroke="#315682" stroke-width="1.9"/>
<circle cx="552.6" cy="1051.23" r="7.7" fill="none" stroke="#315682" stroke-width="1.9"/>
<circle cx="680.88" cy="722.63" r="7.7" fill="none" stroke="#315682" stroke-width="1.9"/>
<circle cx="706.13" cy="846.83" r="7.7" fill="none" stroke="#315682" stroke-width="1.9"/>
<circle cx="631.34" cy="811.87" r="7.7" fill="none" stroke="#315682" stroke-width="1.9"/>
<circle cx="644.24" cy="861.26" r="7.7" fill="none" stroke="#315682" stroke-width="1.9"/>
<circle cx="652.95" cy="872.26" r="7.7" fill="none" stroke="#315682" stroke-width="1.9"/>
<circle cx="726.78" cy="919.69" r="7.7" fill="none" stroke="#315682" stroke-width="1.9"/>
<circle cx="668.46" cy="939.74" r="7.7" fill="none" stroke="#315682" stroke-width="1.9"/>
<circle cx="738.42" cy="943.41" r="7.7" fill="none" stroke="#315682" stroke-width="1.9"/>
<circle cx="741.82" cy="950.5" r="7.7" fill="none" stroke="#315682" stroke-width="1.9"/>
<circle cx="733.91" cy="950.5" r="7.7" fill="none" stroke="#315682" stroke-width="1.9"/>
<circle cx="715.94" cy="950.5" r="7.7" fill="none" stroke="#315682" stroke-width="1.9"/>
<circle cx="694.73" cy="950.5" r="7.7" fill="none" stroke="#315682" stroke-width="1.9"/>
<circle cx="630.63" cy="950.5" r="7.7" fill="none" stroke="#315682" stroke-width="1.9"/>
<circle cx="445.45" cy="950.99" r="7.8" fill="#315682"/>
<circle cx="331.73" cy="819.94" r="7.8" fill="#315682"/>
<circle cx="558.85" cy="819.94" r="7.8" fill="#315682"/>
<rect x="439.45" y="700.4" width="12" height="11.2" fill="#e4557c"/>
<rect x="328.89" y="932.67" width="12" height="11.2" fill="#e4557c"/>
<rect x="549.69" y="932.67" width="12" height="11.2" fill="#e4557c"/>
<line x1="128.9" y1="706" x2="762" y2="706" stroke="#777" stroke-width="1.3" />
<line x1="128.9" y1="1195" x2="762" y2="1195" stroke="#444" stroke-width="1.3" />
<line x1="128.9" y1="705.4" x2="128.9" y2="1195.6" stroke="#315682" stroke-width="1.8" />
<line x1="762" y1="705.4" x2="762" y2="1195.6" stroke="#e3517a" stroke-width="1.8" />
<line x1="124.9" y1="706" x2="128.9" y2="706" stroke="#315682" stroke-width="1.8" />
<line x1="762" y1="706" x2="766" y2="706" stroke="#e3517a" stroke-width="1.8" />
<line x1="128.9" y1="1195" x2="135.9" y2="1195" stroke="#315682" stroke-width="1.8" />
<line x1="762" y1="1195" x2="755" y2="1195" stroke="#e3517a" stroke-width="1.8" />
<text x="116" y="1205.3" font-size="29.8" text-anchor="end" fill="#315682" font-family="'Liberation Sans', Arial, sans-serif" >0</text>
<text x="773" y="1205.3" font-size="29.8" text-anchor="start" fill="#e3517a" font-family="'Liberation Sans', Arial, sans-serif" >0</text>
<line x1="128.9" y1="1072.75" x2="135.9" y2="1072.75" stroke="#315682" stroke-width="1.8" />
<line x1="762" y1="1072.75" x2="755" y2="1072.75" stroke="#e3517a" stroke-width="1.8" />
<text x="116" y="1083.05" font-size="29.8" text-anchor="end" fill="#315682" font-family="'Liberation Sans', Arial, sans-serif" >0.5</text>
<text x="773" y="1083.05" font-size="29.8" text-anchor="start" fill="#e3517a" font-family="'Liberation Sans', Arial, sans-serif" >5</text>
<line x1="128.9" y1="950.5" x2="135.9" y2="950.5" stroke="#315682" stroke-width="1.8" />
<line x1="762" y1="950.5" x2="755" y2="950.5" stroke="#e3517a" stroke-width="1.8" />
<text x="116" y="960.8" font-size="29.8" text-anchor="end" fill="#315682" font-family="'Liberation Sans', Arial, sans-serif" >1.0</text>
<text x="773" y="960.8" font-size="29.8" text-anchor="start" fill="#e3517a" font-family="'Liberation Sans', Arial, sans-serif" >10</text>
<line x1="128.9" y1="828.25" x2="135.9" y2="828.25" stroke="#315682" stroke-width="1.8" />
<line x1="762" y1="828.25" x2="755" y2="828.25" stroke="#e3517a" stroke-width="1.8" />
<text x="116" y="838.55" font-size="29.8" text-anchor="end" fill="#315682" font-family="'Liberation Sans', Arial, sans-serif" >1.5</text>
<text x="773" y="838.55" font-size="29.8" text-anchor="start" fill="#e3517a" font-family="'Liberation Sans', Arial, sans-serif" >15</text>
<line x1="128.9" y1="706" x2="135.9" y2="706" stroke="#315682" stroke-width="1.8" />
<line x1="762" y1="706" x2="755" y2="706" stroke="#e3517a" stroke-width="1.8" />
<text x="116" y="716.3" font-size="29.8" text-anchor="end" fill="#315682" font-family="'Liberation Sans', Arial, sans-serif" >2.0</text>
<text x="773" y="716.3" font-size="29.8" text-anchor="start" fill="#e3517a" font-family="'Liberation Sans', Arial, sans-serif" >20</text>
<line x1="128.9" y1="1195" x2="128.9" y2="1188" stroke="#444" stroke-width="1.3" />
<text x="128.9" y="1227.4" font-size="29.8" text-anchor="middle" fill="#111" font-family="'Liberation Sans', Arial, sans-serif" >-4</text>
<line x1="287.17" y1="1195" x2="287.17" y2="1188" stroke="#444" stroke-width="1.3" />
<text x="287.17" y="1227.4" font-size="29.8" text-anchor="middle" fill="#111" font-family="'Liberation Sans', Arial, sans-serif" >-2</text>
<line x1="445.45" y1="1195" x2="445.45" y2="1188" stroke="#444" stroke-width="1.3" />
<text x="445.45" y="1227.4" font-size="29.8" text-anchor="middle" fill="#111" font-family="'Liberation Sans', Arial, sans-serif" >0</text>
<line x1="603.73" y1="1195" x2="603.73" y2="1188" stroke="#444" stroke-width="1.3" />
<text x="603.73" y="1227.4" font-size="29.8" text-anchor="middle" fill="#111" font-family="'Liberation Sans', Arial, sans-serif" >2</text>
<line x1="762" y1="1195" x2="762" y2="1188" stroke="#444" stroke-width="1.3" />
<text x="762" y="1227.4" font-size="29.8" text-anchor="middle" fill="#111" font-family="'Liberation Sans', Arial, sans-serif" >4</text>
<rect x="1022.1" y="1171.46" width="8.2" height="22.34" fill="#3a5d87"/>
<rect x="1032.2" y="1084.21" width="8.2" height="109.59" fill="#e4567b"/>
<rect x="1042.3" y="1134.47" width="8.2" height="59.33" fill="#6cc6ab"/>
<rect x="1067.6" y="1171.46" width="8.2" height="22.34" fill="#3a5d87"/>
<rect x="1077.7" y="761.04" width="8.2" height="432.76" fill="#e4567b"/>
<rect x="1087.8" y="941.12" width="8.2" height="252.68" fill="#6cc6ab"/>
<rect x="1113.1" y="1171.46" width="8.2" height="22.34" fill="#3a5d87"/>
<rect x="1123.2" y="737.31" width="8.2" height="456.49" fill="#e4567b"/>
<rect x="1133.3" y="928.56" width="8.2" height="265.24" fill="#6cc6ab"/>
<rect x="1158.6" y="1171.46" width="8.2" height="22.34" fill="#3a5d87"/>
<rect x="1168.7" y="904.83" width="8.2" height="288.97" fill="#e4567b"/>
<rect x="1178.8" y="992.78" width="8.2" height="201.02" fill="#6cc6ab"/>
<rect x="1204.1" y="1171.46" width="8.2" height="22.34" fill="#3a5d87"/>
<rect x="1214.2" y="1031.03" width="8.2" height="162.77" fill="#e4567b"/>
<rect x="1224.3" y="1058.39" width="8.2" height="135.41" fill="#6cc6ab"/>
<rect x="1249.6" y="1171.46" width="8.2" height="22.34" fill="#3a5d87"/>
<rect x="1259.7" y="1110.32" width="8.2" height="83.48" fill="#e4567b"/>
<rect x="1269.8" y="1107.25" width="8.2" height="86.55" fill="#6cc6ab"/>
<rect x="1295.1" y="1171.46" width="8.2" height="22.34" fill="#3a5d87"/>
<rect x="1305.2" y="1154.15" width="8.2" height="39.65" fill="#e4567b"/>
<rect x="1315.3" y="1140.05" width="8.2" height="53.75" fill="#6cc6ab"/>
<rect x="1340.6" y="1171.46" width="8.2" height="22.34" fill="#3a5d87"/>
<rect x="1350.7" y="1175.65" width="8.2" height="18.15" fill="#e4567b"/>
<rect x="1360.8" y="1161.13" width="8.2" height="32.67" fill="#6cc6ab"/>
<rect x="1386.1" y="1171.46" width="8.2" height="22.34" fill="#3a5d87"/>
<rect x="1396.2" y="1185.84" width="8.2" height="7.96" fill="#e4567b"/>
<rect x="1406.3" y="1173.7" width="8.2" height="20.1" fill="#6cc6ab"/>
<rect x="1431.6" y="1171.46" width="8.2" height="22.34" fill="#3a5d87"/>
<rect x="1441.7" y="1189.61" width="8.2" height="4.19" fill="#e4567b"/>
<rect x="1451.8" y="1181.79" width="8.2" height="12.01" fill="#6cc6ab"/>
<rect x="1477.1" y="1171.46" width="8.2" height="22.34" fill="#3a5d87"/>
<rect x="1487.2" y="1192.12" width="8.2" height="1.68" fill="#e4567b"/>
<rect x="1497.3" y="1186.82" width="8.2" height="6.98" fill="#6cc6ab"/>
<rect x="1522.6" y="1171.46" width="8.2" height="22.34" fill="#3a5d87"/>
<rect x="1532.7" y="1193.2" width="8.2" height="0.6" fill="#e4567b"/>
<rect x="1542.8" y="1189.33" width="8.2" height="4.47" fill="#6cc6ab"/>
<rect x="1568.1" y="1171.46" width="8.2" height="22.34" fill="#3a5d87"/>
<rect x="1578.2" y="1193.2" width="8.2" height="0.6" fill="#e4567b"/>
<rect x="1588.3" y="1191.01" width="8.2" height="2.79" fill="#6cc6ab"/>
<rect x="1613.6" y="1171.46" width="8.2" height="22.34" fill="#3a5d87"/>
<rect x="1623.7" y="1193.2" width="8.2" height="0.6" fill="#e4567b"/>
<rect x="1633.8" y="1192.12" width="8.2" height="1.68" fill="#6cc6ab"/>
<rect x="1659.1" y="1171.46" width="8.2" height="22.34" fill="#3a5d87"/>
<rect x="1669.2" y="1193.2" width="8.2" height="0.6" fill="#e4567b"/>
<rect x="1679.3" y="1192.68" width="8.2" height="1.12" fill="#6cc6ab"/>
<clipPath id="clipd"><rect x="1013.5" y="705.2" width="682.7" height="488.6"/></clipPath>
<g clip-path="url(#clipd)">
<path d="M1127.3 677.28 L1128.7 686.3 L1130.11 695.18 L1131.51 703.93 L1132.91 712.55 L1134.31 721.02 L1135.72 729.35 L1137.12 737.53 L1138.52 745.57 L1139.92 753.48 L1141.33 761.24 L1142.73 768.88 L1144.13 776.38 L1145.53 783.76 L1146.94 791.01 L1148.34 798.14 L1149.74 805.14 L1151.14 812.03 L1152.55 818.81 L1153.95 825.47 L1155.35 832.02 L1156.76 838.46 L1158.16 844.79 L1159.56 851.01 L1160.96 857.14 L1162.37 863.16 L1163.77 869.08 L1165.17 874.91 L1166.57 880.63 L1167.98 886.27 L1169.38 891.81 L1170.78 897.26 L1172.18 902.62 L1173.59 907.88 L1174.99 913.04 L1176.39 918.1 L1177.79 923.07 L1179.2 927.95 L1180.6 932.74 L1182 937.44 L1183.41 942.06 L1184.81 946.6 L1186.21 951.07 L1187.61 955.45 L1189.02 959.76 L1190.42 964 L1191.82 968.17 L1193.22 972.28 L1194.63 976.31 L1196.03 980.28 L1197.43 984.19 L1198.83 988.03 L1200.24 991.82 L1201.64 995.54 L1203.04 999.21 L1204.44 1002.83 L1205.85 1006.39 L1207.25 1009.89 L1208.65 1013.35 L1210.06 1016.75 L1211.46 1020.1 L1212.86 1023.4 L1214.26 1026.66 L1215.67 1029.87 L1217.07 1033.03 L1218.47 1036.15 L1219.87 1039.22 L1221.28 1042.25 L1222.68 1045.24 L1224.08 1048.17 L1225.48 1051.07 L1226.89 1053.92 L1228.29 1056.72 L1229.69 1059.48 L1231.09 1062.19 L1232.5 1064.86 L1233.9 1067.48 L1235.3 1070.06 L1236.71 1072.59 L1238.11 1075.08 L1239.51 1077.53 L1240.91 1079.93 L1242.32 1082.29 L1243.72 1084.6 L1245.12 1086.87 L1246.52 1089.1 L1247.93 1091.29 L1249.33 1093.44 L1250.73 1095.54 L1252.13 1097.61 L1253.54 1099.63 L1254.94 1101.61 L1256.34 1103.56 L1257.74 1105.46 L1259.15 1107.33 L1260.55 1109.16 L1261.95 1110.95 L1263.36 1112.7 L1264.76 1114.42 L1266.16 1116.12 L1267.56 1117.8 L1268.97 1119.45 L1270.37 1121.08 L1271.77 1122.68 L1273.17 1124.26 L1274.58 1125.81 L1275.98 1127.33 L1277.38 1128.82 L1278.78 1130.28 L1280.19 1131.71 L1281.59 1133.11 L1282.99 1134.48 L1284.39 1135.82 L1285.8 1137.12 L1287.2 1138.4 L1288.6 1139.64 L1290.01 1140.86 L1291.41 1142.04 L1292.81 1143.19 L1294.21 1144.31 L1295.62 1145.39 L1297.02 1146.45 L1298.42 1147.48 L1299.82 1148.47 L1301.23 1149.44 L1302.63 1150.37 L1304.03 1151.28 L1305.43 1152.16 L1306.84 1153.01 L1308.24 1153.83 L1309.64 1154.62 L1311.04 1155.39 L1312.45 1156.14 L1313.85 1156.86 L1315.25 1157.56 L1316.66 1158.25 L1318.06 1158.91 L1319.46 1159.56 L1320.86 1160.19 L1322.27 1160.8 L1323.67 1161.4 L1325.07 1161.98 L1326.47 1162.55 L1327.88 1163.11 L1329.28 1163.65 L1330.68 1164.19 L1332.08 1164.71 L1333.49 1165.22 L1334.89 1165.72 L1336.29 1166.21 L1337.69 1166.7 L1339.1 1167.17 L1340.5 1167.64 L1341.9 1168.1 L1343.31 1168.55 L1344.71 1168.99 L1346.11 1169.43 L1347.51 1169.87 L1348.92 1170.29 L1350.32 1170.71 L1351.72 1171.13 L1353.12 1171.54 L1354.53 1171.94 L1355.93 1172.34 L1357.33 1172.74 L1358.73 1173.12 L1360.14 1173.5 L1361.54 1173.87 L1362.94 1174.24 L1364.34 1174.6 L1365.75 1174.95 L1367.15 1175.3 L1368.55 1175.64 L1369.96 1175.97 L1371.36 1176.3 L1372.76 1176.62 L1374.16 1176.94 L1375.57 1177.25 L1376.97 1177.56 L1378.37 1177.86 L1379.77 1178.15 L1381.18 1178.44 L1382.58 1178.73 L1383.98 1179.01 L1385.38 1179.28 L1386.79 1179.55 L1388.19 1179.82 L1389.59 1180.08 L1390.99 1180.34 L1392.4 1180.59 L1393.8 1180.84 L1395.2 1181.08 L1396.61 1181.32 L1398.01 1181.56 L1399.41 1181.79 L1400.81 1182.02 L1402.22 1182.24 L1403.62 1182.46 L1405.02 1182.68 L1406.42 1182.89 L1407.83 1183.1 L1409.23 1183.31 L1410.63 1183.51 L1412.03 1183.71 L1413.44 1183.91 L1414.84 1184.1 L1416.24 1184.29 L1417.64 1184.47 L1419.05 1184.65 L1420.45 1184.83 L1421.85 1185.01 L1423.26 1185.18 L1424.66 1185.35 L1426.06 1185.51 L1427.46 1185.68 L1428.87 1185.83 L1430.27 1185.99 L1431.67 1186.14 L1433.07 1186.29 L1434.48 1186.44 L1435.88 1186.58 L1437.28 1186.72 L1438.68 1186.86 L1440.09 1187 L1441.49 1187.13 L1442.89 1187.26 L1444.29 1187.39 L1445.7 1187.51 L1447.1 1187.63 L1448.5 1187.75 L1449.91 1187.87 L1451.31 1187.98 L1452.71 1188.09 L1454.11 1188.2 L1455.52 1188.31 L1456.92 1188.42 L1458.32 1188.52 L1459.72 1188.62 L1461.13 1188.72 L1462.53 1188.82 L1463.93 1188.92 L1465.33 1189.01 L1466.74 1189.1 L1468.14 1189.19 L1469.54 1189.28 L1470.94 1189.37 L1472.35 1189.45 L1473.75 1189.54 L1475.15 1189.62 L1476.56 1189.7 L1477.96 1189.78 L1479.36 1189.85 L1480.76 1189.93 L1482.17 1190 L1483.57 1190.08 L1484.97 1190.15 L1486.37 1190.22 L1487.78 1190.28 L1489.18 1190.35 L1490.58 1190.42 L1491.98 1190.48 L1493.39 1190.54 L1494.79 1190.61 L1496.19 1190.67 L1497.59 1190.72 L1499 1190.78 L1500.4 1190.84 L1501.8 1190.89 L1503.21 1190.95 L1504.61 1191 L1506.01 1191.05 L1507.41 1191.11 L1508.82 1191.16 L1510.22 1191.21 L1511.62 1191.25 L1513.02 1191.3 L1514.43 1191.35 L1515.83 1191.39 L1517.23 1191.44 L1518.63 1191.48 L1520.04 1191.53 L1521.44 1191.57 L1522.84 1191.61 L1524.24 1191.65 L1525.65 1191.69 L1527.05 1191.73 L1528.45 1191.77 L1529.86 1191.81 L1531.26 1191.84 L1532.66 1191.88 L1534.06 1191.92 L1535.47 1191.95 L1536.87 1191.99 L1538.27 1192.02 L1539.67 1192.05 L1541.08 1192.09 L1542.48 1192.12 L1543.88 1192.15 L1545.28 1192.18 L1546.69 1192.21 L1548.09 1192.25 L1549.49 1192.28 L1550.89 1192.3 L1552.3 1192.33 L1553.7 1192.36 L1555.1 1192.39 L1556.51 1192.42 L1557.91 1192.44 L1559.31 1192.47 L1560.71 1192.49 L1562.12 1192.52 L1563.52 1192.54 L1564.92 1192.57 L1566.32 1192.59 L1567.73 1192.61 L1569.13 1192.64 L1570.53 1192.66 L1571.93 1192.68 L1573.34 1192.7 L1574.74 1192.72 L1576.14 1192.74 L1577.54 1192.76 L1578.95 1192.78 L1580.35 1192.8 L1581.75 1192.82 L1583.16 1192.83 L1584.56 1192.85 L1585.96 1192.87 L1587.36 1192.88 L1588.77 1192.9 L1590.17 1192.91 L1591.57 1192.93 L1592.97 1192.94 L1594.38 1192.96 L1595.78 1192.97 L1597.18 1192.99 L1598.58 1193 L1599.99 1193.01 L1601.39 1193.03 L1602.79 1193.04 L1604.19 1193.05 L1605.6 1193.06 L1607 1193.08 L1608.4 1193.09 L1609.81 1193.1 L1611.21 1193.11 L1612.61 1193.12 L1614.01 1193.13 L1615.42 1193.15 L1616.82 1193.16 L1618.22 1193.17 L1619.62 1193.18 L1621.03 1193.19 L1622.43 1193.2 L1623.83 1193.21 L1625.23 1193.22 L1626.64 1193.23 L1628.04 1193.24 L1629.44 1193.25 L1630.84 1193.26 L1632.25 1193.27 L1633.65 1193.28 L1635.05 1193.29 L1636.46 1193.3 L1637.86 1193.31 L1639.26 1193.32 L1640.66 1193.33 L1642.07 1193.34 L1643.47 1193.35 L1644.87 1193.36 L1646.27 1193.37 L1647.68 1193.38 L1649.08 1193.39 L1650.48 1193.39 L1651.88 1193.4 L1653.29 1193.41 L1654.69 1193.42 L1656.09 1193.43 L1657.49 1193.44 L1658.9 1193.44 L1660.3 1193.45 L1661.7 1193.46 L1663.11 1193.47 L1664.51 1193.47 L1665.91 1193.48 L1667.31 1193.49 L1668.72 1193.5 L1670.12 1193.5 L1671.52 1193.51 L1672.92 1193.52 L1674.33 1193.53 L1675.73 1193.53 L1677.13 1193.54 L1678.53 1193.55 L1679.94 1193.56 L1681.34 1193.56 L1682.74 1193.57 L1684.14 1193.58 L1685.55 1193.58 L1686.95 1193.59" fill="none" stroke="#111" stroke-width="1.9" stroke-linejoin="round" stroke-linecap="round" stroke-dasharray="16 12"/>
</g>
<rect x="1013.5" y="705.2" width="682.7" height="488.5999999999999" fill="none" stroke="#444" stroke-width="1.3"/>
<line x1="1013.5" y1="1193.8" x2="1020.5" y2="1193.8" stroke="#555" stroke-width="1.3" />
<line x1="1696.2" y1="1193.8" x2="1689.2" y2="1193.8" stroke="#555" stroke-width="1.3" />
<line x1="1013.5" y1="1124" x2="1020.5" y2="1124" stroke="#555" stroke-width="1.3" />
<line x1="1696.2" y1="1124" x2="1689.2" y2="1124" stroke="#555" stroke-width="1.3" />
<line x1="1013.5" y1="1054.2" x2="1020.5" y2="1054.2" stroke="#555" stroke-width="1.3" />
<line x1="1696.2" y1="1054.2" x2="1689.2" y2="1054.2" stroke="#555" stroke-width="1.3" />
<line x1="1013.5" y1="984.4" x2="1020.5" y2="984.4" stroke="#555" stroke-width="1.3" />
<line x1="1696.2" y1="984.4" x2="1689.2" y2="984.4" stroke="#555" stroke-width="1.3" />
<line x1="1013.5" y1="914.6" x2="1020.5" y2="914.6" stroke="#555" stroke-width="1.3" />
<line x1="1696.2" y1="914.6" x2="1689.2" y2="914.6" stroke="#555" stroke-width="1.3" />
<line x1="1013.5" y1="844.8" x2="1020.5" y2="844.8" stroke="#555" stroke-width="1.3" />
<line x1="1696.2" y1="844.8" x2="1689.2" y2="844.8" stroke="#555" stroke-width="1.3" />
<line x1="1013.5" y1="775" x2="1020.5" y2="775" stroke="#555" stroke-width="1.3" />
<line x1="1696.2" y1="775" x2="1689.2" y2="775" stroke="#555" stroke-width="1.3" />
<line x1="1013.5" y1="705.2" x2="1020.5" y2="705.2" stroke="#555" stroke-width="1.3" />
<line x1="1696.2" y1="705.2" x2="1689.2" y2="705.2" stroke="#555" stroke-width="1.3" />
<text x="1001.5" y="1203.5" font-size="29.8" text-anchor="end" fill="#111" font-family="'Liberation Sans', Arial, sans-serif" >0</text>
<text x="1001.5" y="1063.9" font-size="29.8" text-anchor="end" fill="#111" font-family="'Liberation Sans', Arial, sans-serif" >1.0</text>
<text x="1001.5" y="924.3" font-size="29.8" text-anchor="end" fill="#111" font-family="'Liberation Sans', Arial, sans-serif" >2.0</text>
<text x="1001.5" y="784.7" font-size="29.8" text-anchor="end" fill="#111" font-family="'Liberation Sans', Arial, sans-serif" >3.0</text>
<line x1="1036.3" y1="1193.8" x2="1036.3" y2="1187.3" stroke="#555" stroke-width="1.3" />
<line x1="1036.3" y1="705.2" x2="1036.3" y2="711.7" stroke="#555" stroke-width="1.3" />
<text x="1036.3" y="1227.8" font-size="29.8" text-anchor="middle" fill="#111" font-family="'Liberation Sans', Arial, sans-serif" >1</text>
<line x1="1081.8" y1="1193.8" x2="1081.8" y2="1187.3" stroke="#555" stroke-width="1.3" />
<line x1="1081.8" y1="705.2" x2="1081.8" y2="711.7" stroke="#555" stroke-width="1.3" />
<text x="1081.8" y="1227.8" font-size="29.8" text-anchor="middle" fill="#111" font-family="'Liberation Sans', Arial, sans-serif" >2</text>
<line x1="1127.3" y1="1193.8" x2="1127.3" y2="1187.3" stroke="#555" stroke-width="1.3" />
<line x1="1127.3" y1="705.2" x2="1127.3" y2="711.7" stroke="#555" stroke-width="1.3" />
<text x="1127.3" y="1227.8" font-size="29.8" text-anchor="middle" fill="#111" font-family="'Liberation Sans', Arial, sans-serif" >3</text>
<line x1="1172.8" y1="1193.8" x2="1172.8" y2="1187.3" stroke="#555" stroke-width="1.3" />
<line x1="1172.8" y1="705.2" x2="1172.8" y2="711.7" stroke="#555" stroke-width="1.3" />
<text x="1172.8" y="1227.8" font-size="29.8" text-anchor="middle" fill="#111" font-family="'Liberation Sans', Arial, sans-serif" >4</text>
<line x1="1218.3" y1="1193.8" x2="1218.3" y2="1187.3" stroke="#555" stroke-width="1.3" />
<line x1="1218.3" y1="705.2" x2="1218.3" y2="711.7" stroke="#555" stroke-width="1.3" />
<text x="1218.3" y="1227.8" font-size="29.8" text-anchor="middle" fill="#111" font-family="'Liberation Sans', Arial, sans-serif" >5</text>
<line x1="1263.8" y1="1193.8" x2="1263.8" y2="1187.3" stroke="#555" stroke-width="1.3" />
<line x1="1263.8" y1="705.2" x2="1263.8" y2="711.7" stroke="#555" stroke-width="1.3" />
<text x="1263.8" y="1227.8" font-size="29.8" text-anchor="middle" fill="#111" font-family="'Liberation Sans', Arial, sans-serif" >6</text>
<line x1="1309.3" y1="1193.8" x2="1309.3" y2="1187.3" stroke="#555" stroke-width="1.3" />
<line x1="1309.3" y1="705.2" x2="1309.3" y2="711.7" stroke="#555" stroke-width="1.3" />
<text x="1309.3" y="1227.8" font-size="29.8" text-anchor="middle" fill="#111" font-family="'Liberation Sans', Arial, sans-serif" >7</text>
<line x1="1354.8" y1="1193.8" x2="1354.8" y2="1187.3" stroke="#555" stroke-width="1.3" />
<line x1="1354.8" y1="705.2" x2="1354.8" y2="711.7" stroke="#555" stroke-width="1.3" />
<text x="1354.8" y="1227.8" font-size="29.8" text-anchor="middle" fill="#111" font-family="'Liberation Sans', Arial, sans-serif" >8</text>
<line x1="1400.3" y1="1193.8" x2="1400.3" y2="1187.3" stroke="#555" stroke-width="1.3" />
<line x1="1400.3" y1="705.2" x2="1400.3" y2="711.7" stroke="#555" stroke-width="1.3" />
<text x="1400.3" y="1227.8" font-size="29.8" text-anchor="middle" fill="#111" font-family="'Liberation Sans', Arial, sans-serif" >9</text>
<line x1="1445.8" y1="1193.8" x2="1445.8" y2="1187.3" stroke="#555" stroke-width="1.3" />
<line x1="1445.8" y1="705.2" x2="1445.8" y2="711.7" stroke="#555" stroke-width="1.3" />
<text x="1445.8" y="1227.8" font-size="29.8" text-anchor="middle" fill="#111" font-family="'Liberation Sans', Arial, sans-serif" >10</text>
<line x1="1491.3" y1="1193.8" x2="1491.3" y2="1187.3" stroke="#555" stroke-width="1.3" />
<line x1="1491.3" y1="705.2" x2="1491.3" y2="711.7" stroke="#555" stroke-width="1.3" />
<text x="1491.3" y="1227.8" font-size="29.8" text-anchor="middle" fill="#111" font-family="'Liberation Sans', Arial, sans-serif" >11</text>
<line x1="1536.8" y1="1193.8" x2="1536.8" y2="1187.3" stroke="#555" stroke-width="1.3" />
<line x1="1536.8" y1="705.2" x2="1536.8" y2="711.7" stroke="#555" stroke-width="1.3" />
<text x="1536.8" y="1227.8" font-size="29.8" text-anchor="middle" fill="#111" font-family="'Liberation Sans', Arial, sans-serif" >12</text>
<line x1="1582.3" y1="1193.8" x2="1582.3" y2="1187.3" stroke="#555" stroke-width="1.3" />
<line x1="1582.3" y1="705.2" x2="1582.3" y2="711.7" stroke="#555" stroke-width="1.3" />
<text x="1582.3" y="1227.8" font-size="29.8" text-anchor="middle" fill="#111" font-family="'Liberation Sans', Arial, sans-serif" >13</text>
<line x1="1627.8" y1="1193.8" x2="1627.8" y2="1187.3" stroke="#555" stroke-width="1.3" />
<line x1="1627.8" y1="705.2" x2="1627.8" y2="711.7" stroke="#555" stroke-width="1.3" />
<text x="1627.8" y="1227.8" font-size="29.8" text-anchor="middle" fill="#111" font-family="'Liberation Sans', Arial, sans-serif" >14</text>
<line x1="1673.3" y1="1193.8" x2="1673.3" y2="1187.3" stroke="#555" stroke-width="1.3" />
<line x1="1673.3" y1="705.2" x2="1673.3" y2="711.7" stroke="#555" stroke-width="1.3" />
<text x="1673.3" y="1227.8" font-size="29.8" text-anchor="middle" fill="#111" font-family="'Liberation Sans', Arial, sans-serif" >15</text>
<rect x="1324.4" y="760.05" width="54.7" height="20.6" fill="#3a5d87"/>
<rect x="1324.4" y="803.15" width="54.7" height="20.6" fill="#e4567b"/>
<rect x="1324.4" y="846.25" width="54.7" height="20.6" fill="#6cc6ab"/>
<g>
<line x1="138.87" y1="409.81" x2="346.22" y2="542.84" stroke="#6a6a6a" stroke-width="0.9" />
<line x1="346.22" y1="542.84" x2="715.12" y2="305.52" stroke="#6a6a6a" stroke-width="0.9" />
<path d="M498.7 179.51L508.38 185.72L508.38 177.47L498.7 171.26Z" fill="#761a26" stroke="#1c232c" stroke-width="1.0" stroke-linejoin="round"/>
<path d="M508.38 185.72L517.5 179.85L517.5 171.61L508.38 177.47Z" fill="#781b26" stroke="#1c232c" stroke-width="1.0" stroke-linejoin="round"/>
<path d="M498.7 171.26L507.82 165.4L517.5 171.61L508.38 177.47Z" fill="#7a1b27" stroke="#1c232c" stroke-width="1.0" stroke-linejoin="round"/>
<path d="M487.85 186.49L497.53 192.7L497.53 185.83L487.85 179.62Z" fill="#761a26" stroke="#1c232c" stroke-width="1.0" stroke-linejoin="round"/>
<path d="M497.53 192.7L506.65 186.83L506.65 179.96L497.53 185.83Z" fill="#781b26" stroke="#1c232c" stroke-width="1.0" stroke-linejoin="round"/>
<path d="M487.85 179.62L496.97 173.75L506.65 179.96L497.53 185.83Z" fill="#7a1b27" stroke="#1c232c" stroke-width="1.0" stroke-linejoin="round"/>
<path d="M510.22 186.9L519.9 193.11L519.9 176.62L510.22 170.41Z" fill="#761a26" stroke="#1c232c" stroke-width="1.0" stroke-linejoin="round"/>
<path d="M519.9 193.11L529.02 187.24L529.02 170.75L519.9 176.62Z" fill="#781b26" stroke="#1c232c" stroke-width="1.0" stroke-linejoin="round"/>
<path d="M510.22 170.41L519.34 164.55L529.02 170.75L519.9 176.62Z" fill="#7a1b27" stroke="#1c232c" stroke-width="1.0" stroke-linejoin="round"/>
<path d="M477 193.47L486.68 199.68L486.68 188.27L477 182.06Z" fill="#d2685a" stroke="#1c232c" stroke-width="1.0" stroke-linejoin="round"/>
<path d="M486.68 199.68L495.8 193.81L495.8 182.41L486.68 188.27Z" fill="#d6695c" stroke="#1c232c" stroke-width="1.0" stroke-linejoin="round"/>
<path d="M477 182.06L486.12 176.2L495.8 182.41L486.68 188.27Z" fill="#d96b5d" stroke="#1c232c" stroke-width="1.0" stroke-linejoin="round"/>
<path d="M499.37 193.88L509.05 200.09L509.05 186.35L499.37 180.14Z" fill="#761a26" stroke="#1c232c" stroke-width="1.0" stroke-linejoin="round"/>
<path d="M509.05 200.09L518.17 194.22L518.17 180.48L509.05 186.35Z" fill="#781b26" stroke="#1c232c" stroke-width="1.0" stroke-linejoin="round"/>
<path d="M499.37 180.14L508.49 174.27L518.17 180.48L509.05 186.35Z" fill="#7a1b27" stroke="#1c232c" stroke-width="1.0" stroke-linejoin="round"/>
<path d="M521.74 194.29L531.42 200.5L531.42 177.14L521.74 170.93Z" fill="#761a26" stroke="#1c232c" stroke-width="1.0" stroke-linejoin="round"/>
<path d="M531.42 200.5L540.54 194.63L540.54 171.27L531.42 177.14Z" fill="#781b26" stroke="#1c232c" stroke-width="1.0" stroke-linejoin="round"/>
<path d="M521.74 170.93L530.86 165.07L540.54 171.27L531.42 177.14Z" fill="#7a1b27" stroke="#1c232c" stroke-width="1.0" stroke-linejoin="round"/>
<path d="M466.15 200.04L475.27 194.17L484.95 200.38L475.83 206.24Z" fill="#f6d1be" stroke="#1c232c" stroke-width="1.0" stroke-linejoin="round"/>
<path d="M488.52 200.86L498.2 207.07L498.2 176.56L488.52 170.35Z" fill="#d2685a" stroke="#1c232c" stroke-width="1.0" stroke-linejoin="round"/>
<path d="M498.2 207.07L507.32 201.2L507.32 170.7L498.2 176.56Z" fill="#d6695c" stroke="#1c232c" stroke-width="1.0" stroke-linejoin="round"/>
<path d="M488.52 170.35L497.64 164.49L507.32 170.7L498.2 176.56Z" fill="#d96b5d" stroke="#1c232c" stroke-width="1.0" stroke-linejoin="round"/>
<path d="M510.89 201.27L520.57 207.48L520.57 184.8L510.89 178.6Z" fill="#761a26" stroke="#1c232c" stroke-width="1.0" stroke-linejoin="round"/>
<path d="M520.57 207.48L529.69 201.61L529.69 178.94L520.57 184.8Z" fill="#781b26" stroke="#1c232c" stroke-width="1.0" stroke-linejoin="round"/>
<path d="M510.89 178.6L520.01 172.73L529.69 178.94L520.57 184.8Z" fill="#7a1b27" stroke="#1c232c" stroke-width="1.0" stroke-linejoin="round"/>
<path d="M533.26 201.68L542.94 207.89L542.94 201.02L533.26 194.81Z" fill="#761a26" stroke="#1c232c" stroke-width="1.0" stroke-linejoin="round"/>
<path d="M542.94 207.89L552.06 202.02L552.06 195.15L542.94 201.02Z" fill="#781b26" stroke="#1c232c" stroke-width="1.0" stroke-linejoin="round"/>
<path d="M533.26 194.81L542.38 188.94L552.06 195.15L542.94 201.02Z" fill="#7a1b27" stroke="#1c232c" stroke-width="1.0" stroke-linejoin="round"/>
<path d="M455.3 207.02L464.42 201.15L474.1 207.36L464.98 213.22Z" fill="#f6d1be" stroke="#1c232c" stroke-width="1.0" stroke-linejoin="round"/>
<path d="M477.67 207.43L486.79 201.56L496.47 207.77L487.35 213.63Z" fill="#f6d1be" stroke="#1c232c" stroke-width="1.0" stroke-linejoin="round"/>
<path d="M500.04 208.25L509.72 214.46L509.72 134.08L500.04 127.87Z" fill="#d2685a" stroke="#1c232c" stroke-width="1.0" stroke-linejoin="round"/>
<path d="M509.72 214.46L518.84 208.59L518.84 128.21L509.72 134.08Z" fill="#d6695c" stroke="#1c232c" stroke-width="1.0" stroke-linejoin="round"/>
<path d="M500.04 127.87L509.16 122.01L518.84 128.21L509.72 134.08Z" fill="#d96b5d" stroke="#1c232c" stroke-width="1.0" stroke-linejoin="round"/>
<path d="M522.41 208.66L532.09 214.87L532.09 208L522.41 201.79Z" fill="#761a26" stroke="#1c232c" stroke-width="1.0" stroke-linejoin="round"/>
<path d="M532.09 214.87L541.21 209L541.21 202.13L532.09 208Z" fill="#781b26" stroke="#1c232c" stroke-width="1.0" stroke-linejoin="round"/>
<path d="M522.41 201.79L531.53 195.92L541.21 202.13L532.09 208Z" fill="#7a1b27" stroke="#1c232c" stroke-width="1.0" stroke-linejoin="round"/>
<path d="M544.78 209.07L554.46 215.28L554.46 208.41L544.78 202.2Z" fill="#761a26" stroke="#1c232c" stroke-width="1.0" stroke-linejoin="round"/>
<path d="M554.46 215.28L563.58 209.41L563.58 202.54L554.46 208.41Z" fill="#781b26" stroke="#1c232c" stroke-width="1.0" stroke-linejoin="round"/>
<path d="M544.78 202.2L553.9 196.33L563.58 202.54L554.46 208.41Z" fill="#7a1b27" stroke="#1c232c" stroke-width="1.0" stroke-linejoin="round"/>
<path d="M444.45 214L453.57 208.13L463.25 214.34L454.13 220.2Z" fill="#4893c4" stroke="#1c232c" stroke-width="1.0" stroke-linejoin="round"/>
<path d="M466.82 214.41L475.94 208.54L485.62 214.75L476.5 220.61Z" fill="#f6d1be" stroke="#1c232c" stroke-width="1.0" stroke-linejoin="round"/>
<path d="M489.19 214.82L498.31 208.95L507.99 215.16L498.87 221.02Z" fill="#f6d1be" stroke="#1c232c" stroke-width="1.0" stroke-linejoin="round"/>
<path d="M511.56 215.09L520.68 209.22L530.36 215.43L521.24 221.3Z" fill="#d96b5d" stroke="#1c232c" stroke-width="1.0" stroke-linejoin="round"/>
<path d="M533.93 216.05L543.61 222.26L543.61 215.39L533.93 209.18Z" fill="#761a26" stroke="#1c232c" stroke-width="1.0" stroke-linejoin="round"/>
<path d="M543.61 222.26L552.73 216.39L552.73 209.52L543.61 215.39Z" fill="#781b26" stroke="#1c232c" stroke-width="1.0" stroke-linejoin="round"/>
<path d="M533.93 209.18L543.05 203.31L552.73 209.52L543.61 215.39Z" fill="#7a1b27" stroke="#1c232c" stroke-width="1.0" stroke-linejoin="round"/>
<path d="M556.3 216.46L565.98 222.67L565.98 215.8L556.3 209.59Z" fill="#761a26" stroke="#1c232c" stroke-width="1.0" stroke-linejoin="round"/>
<path d="M565.98 222.67L575.1 216.8L575.1 209.93L565.98 215.8Z" fill="#781b26" stroke="#1c232c" stroke-width="1.0" stroke-linejoin="round"/>
<path d="M556.3 209.59L565.42 203.72L575.1 209.93L565.98 215.8Z" fill="#7a1b27" stroke="#1c232c" stroke-width="1.0" stroke-linejoin="round"/>
<path d="M433.6 220.98L442.72 215.11L452.4 221.32L443.28 227.18Z" fill="#4790c1" stroke="#1c232c" stroke-width="1.0" stroke-linejoin="round"/>
<path d="M455.97 221.39L465.09 215.52L474.77 221.73L465.65 227.59Z" fill="#4893c4" stroke="#1c232c" stroke-width="1.0" stroke-linejoin="round"/>
<path d="M478.34 221.8L487.46 215.93L497.14 222.14L488.02 228Z" fill="#f6d1be" stroke="#1c232c" stroke-width="1.0" stroke-linejoin="round"/>
<path d="M500.71 222.62L510.39 228.83L510.39 217.83L500.71 211.63Z" fill="#efcbb8" stroke="#1c232c" stroke-width="1.0" stroke-linejoin="round"/>
<path d="M510.39 228.83L519.51 222.96L519.51 211.97L510.39 217.83Z" fill="#f2cebb" stroke="#1c232c" stroke-width="1.0" stroke-linejoin="round"/>
<path d="M500.71 211.63L509.83 205.76L519.51 211.97L510.39 217.83Z" fill="#f6d1be" stroke="#1c232c" stroke-width="1.0" stroke-linejoin="round"/>
<path d="M523.08 222.48L532.2 216.62L541.88 222.82L532.76 228.69Z" fill="#d96b5d" stroke="#1c232c" stroke-width="1.0" stroke-linejoin="round"/>
<path d="M545.45 223.44L555.13 229.65L555.13 222.78L545.45 216.57Z" fill="#761a26" stroke="#1c232c" stroke-width="1.0" stroke-linejoin="round"/>
<path d="M555.13 229.65L564.25 223.78L564.25 216.91L555.13 222.78Z" fill="#781b26" stroke="#1c232c" stroke-width="1.0" stroke-linejoin="round"/>
<path d="M545.45 216.57L554.57 210.7L564.25 216.91L555.13 222.78Z" fill="#7a1b27" stroke="#1c232c" stroke-width="1.0" stroke-linejoin="round"/>
<path d="M567.82 223.85L577.5 230.06L577.5 223.19L567.82 216.98Z" fill="#761a26" stroke="#1c232c" stroke-width="1.0" stroke-linejoin="round"/>
<path d="M577.5 230.06L586.62 224.19L586.62 217.32L577.5 223.19Z" fill="#781b26" stroke="#1c232c" stroke-width="1.0" stroke-linejoin="round"/>
<path d="M567.82 216.98L576.94 211.11L586.62 217.32L577.5 223.19Z" fill="#7a1b27" stroke="#1c232c" stroke-width="1.0" stroke-linejoin="round"/>
<path d="M422.75 227.96L431.87 222.09L441.55 228.3L432.43 234.16Z" fill="#458dbe" stroke="#1c232c" stroke-width="1.0" stroke-linejoin="round"/>
<path d="M445.12 228.37L454.24 222.5L463.92 228.71L454.8 234.57Z" fill="#4790c1" stroke="#1c232c" stroke-width="1.0" stroke-linejoin="round"/>
<path d="M467.49 228.78L476.61 222.91L486.29 229.12L477.17 234.98Z" fill="#4893c4" stroke="#1c232c" stroke-width="1.0" stroke-linejoin="round"/>
<path d="M489.86 229.6L499.54 235.81L499.54 222.07L489.86 215.86Z" fill="#efcbb8" stroke="#1c232c" stroke-width="1.0" stroke-linejoin="round"/>
<path d="M499.54 235.81L508.66 229.94L508.66 216.2L499.54 222.07Z" fill="#f2cebb" stroke="#1c232c" stroke-width="1.0" stroke-linejoin="round"/>
<path d="M489.86 215.86L498.98 209.99L508.66 216.2L499.54 222.07Z" fill="#f6d1be" stroke="#1c232c" stroke-width="1.0" stroke-linejoin="round"/>
<path d="M512.23 230.01L521.91 236.22L521.91 221.1L512.23 214.89Z" fill="#efcbb8" stroke="#1c232c" stroke-width="1.0" stroke-linejoin="round"/>
<path d="M521.91 236.22L531.03 230.35L531.03 215.24L521.91 221.1Z" fill="#f2cebb" stroke="#1c232c" stroke-width="1.0" stroke-linejoin="round"/>
<path d="M512.23 214.89L521.35 209.03L531.03 215.24L521.91 221.1Z" fill="#f6d1be" stroke="#1c232c" stroke-width="1.0" stroke-linejoin="round"/>
<path d="M534.6 229.87L543.72 224L553.4 230.21L544.28 236.08Z" fill="#d96b5d" stroke="#1c232c" stroke-width="1.0" stroke-linejoin="round"/>
<path d="M556.97 230.83L566.65 237.04L566.65 230.17L556.97 223.96Z" fill="#761a26" stroke="#1c232c" stroke-width="1.0" stroke-linejoin="round"/>
<path d="M566.65 237.04L575.77 231.17L575.77 224.3L566.65 230.17Z" fill="#781b26" stroke="#1c232c" stroke-width="1.0" stroke-linejoin="round"/>
<path d="M556.97 223.96L566.09 218.09L575.77 224.3L566.65 230.17Z" fill="#7a1b27" stroke="#1c232c" stroke-width="1.0" stroke-linejoin="round"/>
<path d="M579.34 231.24L589.02 237.45L589.02 230.58L579.34 224.37Z" fill="#761a26" stroke="#1c232c" stroke-width="1.0" stroke-linejoin="round"/>
<path d="M589.02 237.45L598.14 231.58L598.14 224.71L589.02 230.58Z" fill="#781b26" stroke="#1c232c" stroke-width="1.0" stroke-linejoin="round"/>
<path d="M579.34 224.37L588.46 218.5L598.14 224.71L589.02 230.58Z" fill="#7a1b27" stroke="#1c232c" stroke-width="1.0" stroke-linejoin="round"/>
<path d="M411.9 234.94L421.02 229.07L430.7 235.28L421.58 241.14Z" fill="#448abb" stroke="#1c232c" stroke-width="1.0" stroke-linejoin="round"/>
<path d="M434.27 235.35L443.39 229.48L453.07 235.69L443.95 241.55Z" fill="#458dbe" stroke="#1c232c" stroke-width="1.0" stroke-linejoin="round"/>
<path d="M456.64 235.76L465.76 229.89L475.44 236.1L466.32 241.96Z" fill="#4790c1" stroke="#1c232c" stroke-width="1.0" stroke-linejoin="round"/>
<path d="M479.01 235.92L488.13 230.06L497.81 236.27L488.69 242.13Z" fill="#4893c4" stroke="#1c232c" stroke-width="1.0" stroke-linejoin="round"/>
<path d="M501.38 236.99L511.06 243.2L511.06 225.33L501.38 219.13Z" fill="#efcbb8" stroke="#1c232c" stroke-width="1.0" stroke-linejoin="round"/>
<path d="M511.06 243.2L520.18 237.33L520.18 219.47L511.06 225.33Z" fill="#f2cebb" stroke="#1c232c" stroke-width="1.0" stroke-linejoin="round"/>
<path d="M501.38 219.13L510.5 213.26L520.18 219.47L511.06 225.33Z" fill="#f6d1be" stroke="#1c232c" stroke-width="1.0" stroke-linejoin="round"/>
<path d="M523.75 237.4L533.43 243.61L533.43 231.24L523.75 225.03Z" fill="#efcbb8" stroke="#1c232c" stroke-width="1.0" stroke-linejoin="round"/>
<path d="M533.43 243.61L542.55 237.74L542.55 225.38L533.43 231.24Z" fill="#f2cebb" stroke="#1c232c" stroke-width="1.0" stroke-linejoin="round"/>
<path d="M523.75 225.03L532.87 219.17L542.55 225.38L533.43 231.24Z" fill="#f6d1be" stroke="#1c232c" stroke-width="1.0" stroke-linejoin="round"/>
<path d="M546.12 237.26L555.24 231.39L564.92 237.6L555.8 243.47Z" fill="#d96b5d" stroke="#1c232c" stroke-width="1.0" stroke-linejoin="round"/>
<path d="M568.49 238.22L578.17 244.43L578.17 237.56L568.49 231.35Z" fill="#761a26" stroke="#1c232c" stroke-width="1.0" stroke-linejoin="round"/>
<path d="M578.17 244.43L587.29 238.56L587.29 231.69L578.17 237.56Z" fill="#781b26" stroke="#1c232c" stroke-width="1.0" stroke-linejoin="round"/>
<path d="M568.49 231.35L577.61 225.48L587.29 231.69L578.17 237.56Z" fill="#7a1b27" stroke="#1c232c" stroke-width="1.0" stroke-linejoin="round"/>
<path d="M590.86 238.63L600.54 244.84L600.54 237.97L590.86 231.76Z" fill="#761a26" stroke="#1c232c" stroke-width="1.0" stroke-linejoin="round"/>
<path d="M600.54 244.84L609.66 238.97L609.66 232.1L600.54 237.97Z" fill="#781b26" stroke="#1c232c" stroke-width="1.0" stroke-linejoin="round"/>
<path d="M590.86 231.76L599.98 225.89L609.66 232.1L600.54 237.97Z" fill="#7a1b27" stroke="#1c232c" stroke-width="1.0" stroke-linejoin="round"/>
<path d="M401.05 241.92L410.17 236.05L419.85 242.26L410.73 248.12Z" fill="#4387b9" stroke="#1c232c" stroke-width="1.0" stroke-linejoin="round"/>
<path d="M423.42 242.33L432.54 236.46L442.22 242.67L433.1 248.53Z" fill="#448abb" stroke="#1c232c" stroke-width="1.0" stroke-linejoin="round"/>
<path d="M445.79 242.74L454.91 236.87L464.59 243.08L455.47 248.94Z" fill="#458dbe" stroke="#1c232c" stroke-width="1.0" stroke-linejoin="round"/>
<path d="M468.16 243.56L477.84 249.77L477.84 248.27L468.16 242.06Z" fill="#458cbb" stroke="#1c232c" stroke-width="1.0" stroke-linejoin="round"/>
<path d="M477.84 249.77L486.96 243.9L486.96 242.4L477.84 248.27Z" fill="#468ebe" stroke="#1c232c" stroke-width="1.0" stroke-linejoin="round"/>
<path d="M468.16 242.06L477.28 236.19L486.96 242.4L477.84 248.27Z" fill="#4790c1" stroke="#1c232c" stroke-width="1.0" stroke-linejoin="round"/>
<path d="M490.53 243.97L500.21 250.18L500.21 247.75L490.53 241.54Z" fill="#468fbe" stroke="#1c232c" stroke-width="1.0" stroke-linejoin="round"/>
<path d="M500.21 250.18L509.33 244.31L509.33 241.89L500.21 247.75Z" fill="#4791c1" stroke="#1c232c" stroke-width="1.0" stroke-linejoin="round"/>
<path d="M490.53 241.54L499.65 235.68L509.33 241.89L500.21 247.75Z" fill="#4893c4" stroke="#1c232c" stroke-width="1.0" stroke-linejoin="round"/>
<path d="M512.9 244.38L522.58 250.59L522.58 240.97L512.9 234.76Z" fill="#efcbb8" stroke="#1c232c" stroke-width="1.0" stroke-linejoin="round"/>
<path d="M522.58 250.59L531.7 244.72L531.7 235.1L522.58 240.97Z" fill="#f2cebb" stroke="#1c232c" stroke-width="1.0" stroke-linejoin="round"/>
<path d="M512.9 234.76L522.02 228.9L531.7 235.1L522.58 240.97Z" fill="#f6d1be" stroke="#1c232c" stroke-width="1.0" stroke-linejoin="round"/>
<path d="M535.27 244.79L544.95 251L544.95 244.13L535.27 237.92Z" fill="#efcbb8" stroke="#1c232c" stroke-width="1.0" stroke-linejoin="round"/>
<path d="M544.95 251L554.07 245.13L554.07 238.26L544.95 244.13Z" fill="#f2cebb" stroke="#1c232c" stroke-width="1.0" stroke-linejoin="round"/>
<path d="M535.27 237.92L544.39 232.05L554.07 238.26L544.95 244.13Z" fill="#f6d1be" stroke="#1c232c" stroke-width="1.0" stroke-linejoin="round"/>
<path d="M557.64 244.65L566.76 238.78L576.44 244.99L567.32 250.86Z" fill="#d96b5d" stroke="#1c232c" stroke-width="1.0" stroke-linejoin="round"/>
<path d="M580.01 245.61L589.69 251.82L589.69 244.95L580.01 238.74Z" fill="#761a26" stroke="#1c232c" stroke-width="1.0" stroke-linejoin="round"/>
<path d="M589.69 251.82L598.81 245.95L598.81 239.08L589.69 244.95Z" fill="#781b26" stroke="#1c232c" stroke-width="1.0" stroke-linejoin="round"/>
<path d="M580.01 238.74L589.13 232.87L598.81 239.08L589.69 244.95Z" fill="#7a1b27" stroke="#1c232c" stroke-width="1.0" stroke-linejoin="round"/>
<path d="M602.38 246.02L612.06 252.23L612.06 245.36L602.38 239.15Z" fill="#761a26" stroke="#1c232c" stroke-width="1.0" stroke-linejoin="round"/>
<path d="M612.06 252.23L621.18 246.36L621.18 239.49L612.06 245.36Z" fill="#781b26" stroke="#1c232c" stroke-width="1.0" stroke-linejoin="round"/>
<path d="M602.38 239.15L611.5 233.28L621.18 239.49L612.06 245.36Z" fill="#7a1b27" stroke="#1c232c" stroke-width="1.0" stroke-linejoin="round"/>
<path d="M390.2 248.9L399.32 243.03L409 249.24L399.88 255.1Z" fill="#4284b7" stroke="#1c232c" stroke-width="1.0" stroke-linejoin="round"/>
<path d="M412.57 249.31L421.69 243.44L431.37 249.65L422.25 255.51Z" fill="#4387b9" stroke="#1c232c" stroke-width="1.0" stroke-linejoin="round"/>
<path d="M434.94 249.72L444.06 243.85L453.74 250.06L444.62 255.92Z" fill="#448abb" stroke="#1c232c" stroke-width="1.0" stroke-linejoin="round"/>
<path d="M457.31 249.89L466.43 244.03L476.11 250.24L466.99 256.1Z" fill="#458dbe" stroke="#1c232c" stroke-width="1.0" stroke-linejoin="round"/>
<path d="M479.68 250.95L489.36 257.16L489.36 253.94L479.68 247.73Z" fill="#458cbb" stroke="#1c232c" stroke-width="1.0" stroke-linejoin="round"/>
<path d="M489.36 257.16L498.48 251.29L498.48 248.07L489.36 253.94Z" fill="#468ebe" stroke="#1c232c" stroke-width="1.0" stroke-linejoin="round"/>
<path d="M479.68 247.73L488.8 241.87L498.48 248.07L489.36 253.94Z" fill="#4790c1" stroke="#1c232c" stroke-width="1.0" stroke-linejoin="round"/>
<path d="M502.05 251.36L511.73 257.57L511.73 249.32L502.05 243.11Z" fill="#468fbe" stroke="#1c232c" stroke-width="1.0" stroke-linejoin="round"/>
<path d="M511.73 257.57L520.85 251.7L520.85 243.46L511.73 249.32Z" fill="#4791c1" stroke="#1c232c" stroke-width="1.0" stroke-linejoin="round"/>
<path d="M502.05 243.11L511.17 237.25L520.85 243.46L511.73 249.32Z" fill="#4893c4" stroke="#1c232c" stroke-width="1.0" stroke-linejoin="round"/>
<path d="M524.42 251.77L534.1 257.98L534.1 253.17L524.42 246.96Z" fill="#efcbb8" stroke="#1c232c" stroke-width="1.0" stroke-linejoin="round"/>
<path d="M534.1 257.98L543.22 252.11L543.22 247.3L534.1 253.17Z" fill="#f2cebb" stroke="#1c232c" stroke-width="1.0" stroke-linejoin="round"/>
<path d="M524.42 246.96L533.54 241.1L543.22 247.3L534.1 253.17Z" fill="#f6d1be" stroke="#1c232c" stroke-width="1.0" stroke-linejoin="round"/>
<path d="M546.79 252.18L556.47 258.39L556.47 254.95L546.79 248.74Z" fill="#efcbb8" stroke="#1c232c" stroke-width="1.0" stroke-linejoin="round"/>
<path d="M556.47 258.39L565.59 252.52L565.59 249.09L556.47 254.95Z" fill="#f2cebb" stroke="#1c232c" stroke-width="1.0" stroke-linejoin="round"/>
<path d="M546.79 248.74L555.91 242.88L565.59 249.09L556.47 254.95Z" fill="#f6d1be" stroke="#1c232c" stroke-width="1.0" stroke-linejoin="round"/>
<path d="M569.16 252.04L578.28 246.18L587.96 252.38L578.84 258.25Z" fill="#d96b5d" stroke="#1c232c" stroke-width="1.0" stroke-linejoin="round"/>
<path d="M591.53 253L601.21 259.21L601.21 252.34L591.53 246.13Z" fill="#761a26" stroke="#1c232c" stroke-width="1.0" stroke-linejoin="round"/>
<path d="M601.21 259.21L610.33 253.34L610.33 246.47L601.21 252.34Z" fill="#781b26" stroke="#1c232c" stroke-width="1.0" stroke-linejoin="round"/>
<path d="M591.53 246.13L600.65 240.26L610.33 246.47L601.21 252.34Z" fill="#7a1b27" stroke="#1c232c" stroke-width="1.0" stroke-linejoin="round"/>
<path d="M613.9 253.41L623.58 259.62L623.58 252.75L613.9 246.54Z" fill="#761a26" stroke="#1c232c" stroke-width="1.0" stroke-linejoin="round"/>
<path d="M623.58 259.62L632.7 253.75L632.7 246.88L623.58 252.75Z" fill="#781b26" stroke="#1c232c" stroke-width="1.0" stroke-linejoin="round"/>
<path d="M613.9 246.54L623.02 240.67L632.7 246.88L623.58 252.75Z" fill="#7a1b27" stroke="#1c232c" stroke-width="1.0" stroke-linejoin="round"/>
<path d="M379.35 255.88L388.47 250.01L398.15 256.22L389.03 262.08Z" fill="#4181b4" stroke="#1c232c" stroke-width="1.0" stroke-linejoin="round"/>
<path d="M401.72 256.29L410.84 250.42L420.52 256.63L411.4 262.49Z" fill="#4284b7" stroke="#1c232c" stroke-width="1.0" stroke-linejoin="round"/>
<path d="M424.09 256.7L433.21 250.83L442.89 257.04L433.77 262.9Z" fill="#4387b9" stroke="#1c232c" stroke-width="1.0" stroke-linejoin="round"/>
<path d="M446.46 256.94L455.58 251.07L465.26 257.28L456.14 263.14Z" fill="#448abb" stroke="#1c232c" stroke-width="1.0" stroke-linejoin="round"/>
<path d="M468.83 257.93L478.51 264.14L478.51 261.08L468.83 254.87Z" fill="#4389b8" stroke="#1c232c" stroke-width="1.0" stroke-linejoin="round"/>
<path d="M478.51 264.14L487.63 258.27L487.63 255.21L478.51 261.08Z" fill="#448bbb" stroke="#1c232c" stroke-width="1.0" stroke-linejoin="round"/>
<path d="M468.83 254.87L477.95 249.01L487.63 255.21L478.51 261.08Z" fill="#458dbe" stroke="#1c232c" stroke-width="1.0" stroke-linejoin="round"/>
<path d="M491.2 258.34L500.88 264.55L500.88 253.68L491.2 247.47Z" fill="#458cbb" stroke="#1c232c" stroke-width="1.0" stroke-linejoin="round"/>
<path d="M500.88 264.55L510 258.68L510 247.82L500.88 253.68Z" fill="#468ebe" stroke="#1c232c" stroke-width="1.0" stroke-linejoin="round"/>
<path d="M491.2 247.47L500.32 241.61L510 247.82L500.88 253.68Z" fill="#4790c1" stroke="#1c232c" stroke-width="1.0" stroke-linejoin="round"/>
<path d="M513.57 258.75L523.25 264.96L523.25 255.38L513.57 249.18Z" fill="#468fbe" stroke="#1c232c" stroke-width="1.0" stroke-linejoin="round"/>
<path d="M523.25 264.96L532.37 259.09L532.37 249.52L523.25 255.38Z" fill="#4791c1" stroke="#1c232c" stroke-width="1.0" stroke-linejoin="round"/>
<path d="M513.57 249.18L522.69 243.31L532.37 249.52L523.25 255.38Z" fill="#4893c4" stroke="#1c232c" stroke-width="1.0" stroke-linejoin="round"/>
<path d="M535.94 259.16L545.62 265.37L545.62 263.3L535.94 257.1Z" fill="#efcbb8" stroke="#1c232c" stroke-width="1.0" stroke-linejoin="round"/>
<path d="M545.62 265.37L554.74 259.5L554.74 257.44L545.62 263.3Z" fill="#f2cebb" stroke="#1c232c" stroke-width="1.0" stroke-linejoin="round"/>
<path d="M535.94 257.1L545.06 251.23L554.74 257.44L545.62 263.3Z" fill="#f6d1be" stroke="#1c232c" stroke-width="1.0" stroke-linejoin="round"/>
<path d="M558.31 259.57L567.99 265.78L567.99 264.13L558.31 257.92Z" fill="#efcbb8" stroke="#1c232c" stroke-width="1.0" stroke-linejoin="round"/>
<path d="M567.99 265.78L577.11 259.91L577.11 258.26L567.99 264.13Z" fill="#f2cebb" stroke="#1c232c" stroke-width="1.0" stroke-linejoin="round"/>
<path d="M558.31 257.92L567.43 252.06L577.11 258.26L567.99 264.13Z" fill="#f6d1be" stroke="#1c232c" stroke-width="1.0" stroke-linejoin="round"/>
<path d="M580.68 259.43L589.8 253.56L599.48 259.77L590.36 265.64Z" fill="#d96b5d" stroke="#1c232c" stroke-width="1.0" stroke-linejoin="round"/>
<path d="M603.05 260.39L612.73 266.6L612.73 259.73L603.05 253.52Z" fill="#761a26" stroke="#1c232c" stroke-width="1.0" stroke-linejoin="round"/>
<path d="M612.73 266.6L621.85 260.73L621.85 253.86L612.73 259.73Z" fill="#781b26" stroke="#1c232c" stroke-width="1.0" stroke-linejoin="round"/>
<path d="M603.05 253.52L612.17 247.65L621.85 253.86L612.73 259.73Z" fill="#7a1b27" stroke="#1c232c" stroke-width="1.0" stroke-linejoin="round"/>
<path d="M625.42 260.8L635.1 267.01L635.1 260.14L625.42 253.93Z" fill="#761a26" stroke="#1c232c" stroke-width="1.0" stroke-linejoin="round"/>
<path d="M635.1 267.01L644.22 261.14L644.22 254.27L635.1 260.14Z" fill="#781b26" stroke="#1c232c" stroke-width="1.0" stroke-linejoin="round"/>
<path d="M625.42 253.93L634.54 248.06L644.22 254.27L635.1 260.14Z" fill="#7a1b27" stroke="#1c232c" stroke-width="1.0" stroke-linejoin="round"/>
<path d="M368.5 262.86L377.62 256.99L387.3 263.2L378.18 269.06Z" fill="#407fb2" stroke="#1c232c" stroke-width="1.0" stroke-linejoin="round"/>
<path d="M390.87 263.27L399.99 257.4L409.67 263.61L400.55 269.47Z" fill="#4181b4" stroke="#1c232c" stroke-width="1.0" stroke-linejoin="round"/>
<path d="M413.24 263.68L422.36 257.81L432.04 264.02L422.92 269.88Z" fill="#4284b7" stroke="#1c232c" stroke-width="1.0" stroke-linejoin="round"/>
<path d="M435.61 263.95L444.73 258.08L454.41 264.29L445.29 270.16Z" fill="#4387b9" stroke="#1c232c" stroke-width="1.0" stroke-linejoin="round"/>
<path d="M457.98 264.91L467.66 271.12L467.66 267.72L457.98 261.52Z" fill="#4286b5" stroke="#1c232c" stroke-width="1.0" stroke-linejoin="round"/>
<path d="M467.66 271.12L476.78 265.25L476.78 261.86L467.66 267.72Z" fill="#4388b8" stroke="#1c232c" stroke-width="1.0" stroke-linejoin="round"/>
<path d="M457.98 261.52L467.1 255.65L476.78 261.86L467.66 267.72Z" fill="#448abb" stroke="#1c232c" stroke-width="1.0" stroke-linejoin="round"/>
<path d="M480.35 265.32L490.03 271.53L490.03 262.65L480.35 256.44Z" fill="#4389b8" stroke="#1c232c" stroke-width="1.0" stroke-linejoin="round"/>
<path d="M490.03 271.53L499.15 265.66L499.15 256.78L490.03 262.65Z" fill="#448bbb" stroke="#1c232c" stroke-width="1.0" stroke-linejoin="round"/>
<path d="M480.35 256.44L489.47 250.58L499.15 256.78L490.03 262.65Z" fill="#458dbe" stroke="#1c232c" stroke-width="1.0" stroke-linejoin="round"/>
<path d="M502.72 265.73L512.4 271.94L512.4 263.49L502.72 257.28Z" fill="#458cbb" stroke="#1c232c" stroke-width="1.0" stroke-linejoin="round"/>
<path d="M512.4 271.94L521.52 266.07L521.52 257.62L512.4 263.49Z" fill="#468ebe" stroke="#1c232c" stroke-width="1.0" stroke-linejoin="round"/>
<path d="M502.72 257.28L511.84 251.42L521.52 257.62L512.4 263.49Z" fill="#4790c1" stroke="#1c232c" stroke-width="1.0" stroke-linejoin="round"/>
<path d="M525.09 266.14L534.77 272.35L534.77 265.23L525.09 259.02Z" fill="#468fbe" stroke="#1c232c" stroke-width="1.0" stroke-linejoin="round"/>
<path d="M534.77 272.35L543.89 266.48L543.89 259.37L534.77 265.23Z" fill="#4791c1" stroke="#1c232c" stroke-width="1.0" stroke-linejoin="round"/>
<path d="M525.09 259.02L534.21 253.16L543.89 259.37L534.77 265.23Z" fill="#4893c4" stroke="#1c232c" stroke-width="1.0" stroke-linejoin="round"/>
<path d="M547.46 266.55L557.14 272.76L557.14 271.66L547.46 265.45Z" fill="#efcbb8" stroke="#1c232c" stroke-width="1.0" stroke-linejoin="round"/>
<path d="M557.14 272.76L566.26 266.89L566.26 265.79L557.14 271.66Z" fill="#f2cebb" stroke="#1c232c" stroke-width="1.0" stroke-linejoin="round"/>
<path d="M547.46 265.45L556.58 259.59L566.26 265.79L557.14 271.66Z" fill="#f6d1be" stroke="#1c232c" stroke-width="1.0" stroke-linejoin="round"/>
<path d="M569.83 266.96L579.51 273.17L579.51 272.07L569.83 265.86Z" fill="#efcbb8" stroke="#1c232c" stroke-width="1.0" stroke-linejoin="round"/>
<path d="M579.51 273.17L588.63 267.3L588.63 266.2L579.51 272.07Z" fill="#f2cebb" stroke="#1c232c" stroke-width="1.0" stroke-linejoin="round"/>
<path d="M569.83 265.86L578.95 260L588.63 266.2L579.51 272.07Z" fill="#f6d1be" stroke="#1c232c" stroke-width="1.0" stroke-linejoin="round"/>
<path d="M592.2 266.82L601.32 260.95L611 267.16L601.88 273.03Z" fill="#d96b5d" stroke="#1c232c" stroke-width="1.0" stroke-linejoin="round"/>
<path d="M614.57 267.78L624.25 273.99L624.25 267.12L614.57 260.91Z" fill="#761a26" stroke="#1c232c" stroke-width="1.0" stroke-linejoin="round"/>
<path d="M624.25 273.99L633.37 268.12L633.37 261.25L624.25 267.12Z" fill="#781b26" stroke="#1c232c" stroke-width="1.0" stroke-linejoin="round"/>
<path d="M614.57 260.91L623.69 255.04L633.37 261.25L624.25 267.12Z" fill="#7a1b27" stroke="#1c232c" stroke-width="1.0" stroke-linejoin="round"/>
<path d="M636.94 268.19L646.62 274.4L646.62 267.53L636.94 261.32Z" fill="#761a26" stroke="#1c232c" stroke-width="1.0" stroke-linejoin="round"/>
<path d="M646.62 274.4L655.74 268.53L655.74 261.66L646.62 267.53Z" fill="#781b26" stroke="#1c232c" stroke-width="1.0" stroke-linejoin="round"/>
<path d="M636.94 261.32L646.06 255.45L655.74 261.66L646.62 267.53Z" fill="#7a1b27" stroke="#1c232c" stroke-width="1.0" stroke-linejoin="round"/>
<path d="M357.65 269.84L366.77 263.97L376.45 270.18L367.33 276.04Z" fill="#3f7db0" stroke="#1c232c" stroke-width="1.0" stroke-linejoin="round"/>
<path d="M380.02 270.25L389.14 264.38L398.82 270.59L389.7 276.45Z" fill="#407fb2" stroke="#1c232c" stroke-width="1.0" stroke-linejoin="round"/>
<path d="M402.39 270.66L411.51 264.79L421.19 271L412.07 276.86Z" fill="#4181b4" stroke="#1c232c" stroke-width="1.0" stroke-linejoin="round"/>
<path d="M424.76 271.48L434.44 277.69L434.44 276.29L424.76 270.08Z" fill="#4080b2" stroke="#1c232c" stroke-width="1.0" stroke-linejoin="round"/>
<path d="M434.44 277.69L443.56 271.82L443.56 270.43L434.44 276.29Z" fill="#4182b4" stroke="#1c232c" stroke-width="1.0" stroke-linejoin="round"/>
<path d="M424.76 270.08L433.88 264.22L443.56 270.43L434.44 276.29Z" fill="#4284b7" stroke="#1c232c" stroke-width="1.0" stroke-linejoin="round"/>
<path d="M447.13 271.89L456.81 278.1L456.81 274.55L447.13 268.34Z" fill="#4183b3" stroke="#1c232c" stroke-width="1.0" stroke-linejoin="round"/>
<path d="M456.81 278.1L465.93 272.23L465.93 268.69L456.81 274.55Z" fill="#4285b6" stroke="#1c232c" stroke-width="1.0" stroke-linejoin="round"/>
<path d="M447.13 268.34L456.25 262.48L465.93 268.69L456.81 274.55Z" fill="#4387b9" stroke="#1c232c" stroke-width="1.0" stroke-linejoin="round"/>
<path d="M469.5 272.3L479.18 278.51L479.18 274.3L469.5 268.1Z" fill="#4286b5" stroke="#1c232c" stroke-width="1.0" stroke-linejoin="round"/>
<path d="M479.18 278.51L488.3 272.64L488.3 268.44L479.18 274.3Z" fill="#4388b8" stroke="#1c232c" stroke-width="1.0" stroke-linejoin="round"/>
<path d="M469.5 268.1L478.62 262.23L488.3 268.44L479.18 274.3Z" fill="#448abb" stroke="#1c232c" stroke-width="1.0" stroke-linejoin="round"/>
<path d="M491.87 272.71L501.55 278.92L501.55 274.51L491.87 268.3Z" fill="#4389b8" stroke="#1c232c" stroke-width="1.0" stroke-linejoin="round"/>
<path d="M501.55 278.92L510.67 273.05L510.67 268.65L501.55 274.51Z" fill="#448bbb" stroke="#1c232c" stroke-width="1.0" stroke-linejoin="round"/>
<path d="M491.87 268.3L500.99 262.44L510.67 268.65L501.55 274.51Z" fill="#458dbe" stroke="#1c232c" stroke-width="1.0" stroke-linejoin="round"/>
<path d="M514.24 273.12L523.92 279.33L523.92 273.56L514.24 267.36Z" fill="#458cbb" stroke="#1c232c" stroke-width="1.0" stroke-linejoin="round"/>
<path d="M523.92 279.33L533.04 273.46L533.04 267.7L523.92 273.56Z" fill="#468ebe" stroke="#1c232c" stroke-width="1.0" stroke-linejoin="round"/>
<path d="M514.24 267.36L523.36 261.49L533.04 267.7L523.92 273.56Z" fill="#4790c1" stroke="#1c232c" stroke-width="1.0" stroke-linejoin="round"/>
<path d="M536.61 273.53L546.29 279.74L546.29 273.41L536.61 267.2Z" fill="#468fbe" stroke="#1c232c" stroke-width="1.0" stroke-linejoin="round"/>
<path d="M546.29 279.74L555.41 273.87L555.41 267.55L546.29 273.41Z" fill="#4791c1" stroke="#1c232c" stroke-width="1.0" stroke-linejoin="round"/>
<path d="M536.61 267.2L545.73 261.34L555.41 267.55L546.29 273.41Z" fill="#4893c4" stroke="#1c232c" stroke-width="1.0" stroke-linejoin="round"/>
<path d="M558.98 273.11L568.1 267.25L577.78 273.46L568.66 279.32Z" fill="#f6d1be" stroke="#1c232c" stroke-width="1.0" stroke-linejoin="round"/>
<path d="M581.35 274.35L591.03 280.56L591.03 278.91L581.35 272.7Z" fill="#efcbb8" stroke="#1c232c" stroke-width="1.0" stroke-linejoin="round"/>
<path d="M591.03 280.56L600.15 274.69L600.15 273.04L591.03 278.91Z" fill="#f2cebb" stroke="#1c232c" stroke-width="1.0" stroke-linejoin="round"/>
<path d="M581.35 272.7L590.47 266.84L600.15 273.04L591.03 278.91Z" fill="#f6d1be" stroke="#1c232c" stroke-width="1.0" stroke-linejoin="round"/>
<path d="M603.72 274.21L612.84 268.34L622.52 274.55L613.4 280.42Z" fill="#d96b5d" stroke="#1c232c" stroke-width="1.0" stroke-linejoin="round"/>
<path d="M626.09 275.17L635.77 281.38L635.77 274.51L626.09 268.3Z" fill="#761a26" stroke="#1c232c" stroke-width="1.0" stroke-linejoin="round"/>
<path d="M635.77 281.38L644.89 275.51L644.89 268.64L635.77 274.51Z" fill="#781b26" stroke="#1c232c" stroke-width="1.0" stroke-linejoin="round"/>
<path d="M626.09 268.3L635.21 262.43L644.89 268.64L635.77 274.51Z" fill="#7a1b27" stroke="#1c232c" stroke-width="1.0" stroke-linejoin="round"/>
<path d="M648.46 275.58L658.14 281.79L658.14 274.92L648.46 268.71Z" fill="#761a26" stroke="#1c232c" stroke-width="1.0" stroke-linejoin="round"/>
<path d="M658.14 281.79L667.26 275.92L667.26 269.05L658.14 274.92Z" fill="#781b26" stroke="#1c232c" stroke-width="1.0" stroke-linejoin="round"/>
<path d="M648.46 268.71L657.58 262.84L667.26 269.05L658.14 274.92Z" fill="#7a1b27" stroke="#1c232c" stroke-width="1.0" stroke-linejoin="round"/>
<path d="M346.8 276.82L355.92 270.95L365.6 277.16L356.48 283.02Z" fill="#3e7bae" stroke="#1c232c" stroke-width="1.0" stroke-linejoin="round"/>
<path d="M369.17 277.23L378.29 271.36L387.97 277.57L378.85 283.43Z" fill="#3f7db0" stroke="#1c232c" stroke-width="1.0" stroke-linejoin="round"/>
<path d="M391.54 277.64L400.66 271.77L410.34 277.98L401.22 283.84Z" fill="#407fb2" stroke="#1c232c" stroke-width="1.0" stroke-linejoin="round"/>
<path d="M413.91 278.46L423.59 284.67L423.59 282.9L413.91 276.69Z" fill="#3f7daf" stroke="#1c232c" stroke-width="1.0" stroke-linejoin="round"/>
<path d="M423.59 284.67L432.71 278.8L432.71 277.04L423.59 282.9Z" fill="#407fb1" stroke="#1c232c" stroke-width="1.0" stroke-linejoin="round"/>
<path d="M413.91 276.69L423.03 270.83L432.71 277.04L423.59 282.9Z" fill="#4181b4" stroke="#1c232c" stroke-width="1.0" stroke-linejoin="round"/>
<path d="M436.28 278.87L445.96 285.08L445.96 284.01L436.28 277.8Z" fill="#4080b2" stroke="#1c232c" stroke-width="1.0" stroke-linejoin="round"/>
<path d="M445.96 285.08L455.08 279.21L455.08 278.15L445.96 284.01Z" fill="#4182b4" stroke="#1c232c" stroke-width="1.0" stroke-linejoin="round"/>
<path d="M436.28 277.8L445.4 271.94L455.08 278.15L445.96 284.01Z" fill="#4284b7" stroke="#1c232c" stroke-width="1.0" stroke-linejoin="round"/>
<path d="M458.65 279.28L468.33 285.49L468.33 278.43L458.65 272.22Z" fill="#4183b3" stroke="#1c232c" stroke-width="1.0" stroke-linejoin="round"/>
<path d="M468.33 285.49L477.45 279.62L477.45 272.56L468.33 278.43Z" fill="#4285b6" stroke="#1c232c" stroke-width="1.0" stroke-linejoin="round"/>
<path d="M458.65 272.22L467.77 266.35L477.45 272.56L468.33 278.43Z" fill="#4387b9" stroke="#1c232c" stroke-width="1.0" stroke-linejoin="round"/>
<path d="M481.02 279.69L490.7 285.9L490.7 275.36L481.02 269.15Z" fill="#4286b5" stroke="#1c232c" stroke-width="1.0" stroke-linejoin="round"/>
<path d="M490.7 285.9L499.82 280.03L499.82 269.49L490.7 275.36Z" fill="#4388b8" stroke="#1c232c" stroke-width="1.0" stroke-linejoin="round"/>
<path d="M481.02 269.15L490.14 263.29L499.82 269.49L490.7 275.36Z" fill="#448abb" stroke="#1c232c" stroke-width="1.0" stroke-linejoin="round"/>
<path d="M503.39 280.1L513.07 286.31L513.07 276.74L503.39 270.53Z" fill="#4389b8" stroke="#1c232c" stroke-width="1.0" stroke-linejoin="round"/>
<path d="M513.07 286.31L522.19 280.44L522.19 270.87L513.07 276.74Z" fill="#448bbb" stroke="#1c232c" stroke-width="1.0" stroke-linejoin="round"/>
<path d="M503.39 270.53L512.51 264.67L522.19 270.87L513.07 276.74Z" fill="#458dbe" stroke="#1c232c" stroke-width="1.0" stroke-linejoin="round"/>
<path d="M525.76 280.51L535.44 286.72L535.44 282.93L525.76 276.73Z" fill="#458cbb" stroke="#1c232c" stroke-width="1.0" stroke-linejoin="round"/>
<path d="M535.44 286.72L544.56 280.85L544.56 277.07L535.44 282.93Z" fill="#468ebe" stroke="#1c232c" stroke-width="1.0" stroke-linejoin="round"/>
<path d="M525.76 276.73L534.88 270.86L544.56 277.07L535.44 282.93Z" fill="#4790c1" stroke="#1c232c" stroke-width="1.0" stroke-linejoin="round"/>
<path d="M548.13 280.92L557.81 287.13L557.81 283.39L548.13 277.18Z" fill="#468fbe" stroke="#1c232c" stroke-width="1.0" stroke-linejoin="round"/>
<path d="M557.81 287.13L566.93 281.26L566.93 277.53L557.81 283.39Z" fill="#4791c1" stroke="#1c232c" stroke-width="1.0" stroke-linejoin="round"/>
<path d="M548.13 277.18L557.25 271.32L566.93 277.53L557.81 283.39Z" fill="#4893c4" stroke="#1c232c" stroke-width="1.0" stroke-linejoin="round"/>
<path d="M570.5 281.33L580.18 287.54L580.18 286.44L570.5 280.23Z" fill="#efcbb8" stroke="#1c232c" stroke-width="1.0" stroke-linejoin="round"/>
<path d="M580.18 287.54L589.3 281.67L589.3 280.57L580.18 286.44Z" fill="#f2cebb" stroke="#1c232c" stroke-width="1.0" stroke-linejoin="round"/>
<path d="M570.5 280.23L579.62 274.37L589.3 280.57L580.18 286.44Z" fill="#f6d1be" stroke="#1c232c" stroke-width="1.0" stroke-linejoin="round"/>
<path d="M592.87 281.74L602.55 287.95L602.55 284.51L592.87 278.3Z" fill="#efcbb8" stroke="#1c232c" stroke-width="1.0" stroke-linejoin="round"/>
<path d="M602.55 287.95L611.67 282.08L611.67 278.65L602.55 284.51Z" fill="#f2cebb" stroke="#1c232c" stroke-width="1.0" stroke-linejoin="round"/>
<path d="M592.87 278.3L601.99 272.44L611.67 278.65L602.55 284.51Z" fill="#f6d1be" stroke="#1c232c" stroke-width="1.0" stroke-linejoin="round"/>
<path d="M615.24 281.6L624.36 275.73L634.04 281.94L624.92 287.81Z" fill="#d96b5d" stroke="#1c232c" stroke-width="1.0" stroke-linejoin="round"/>
<path d="M637.61 282.56L647.29 288.77L647.29 281.9L637.61 275.69Z" fill="#761a26" stroke="#1c232c" stroke-width="1.0" stroke-linejoin="round"/>
<path d="M647.29 288.77L656.41 282.9L656.41 276.03L647.29 281.9Z" fill="#781b26" stroke="#1c232c" stroke-width="1.0" stroke-linejoin="round"/>
<path d="M637.61 275.69L646.73 269.82L656.41 276.03L647.29 281.9Z" fill="#7a1b27" stroke="#1c232c" stroke-width="1.0" stroke-linejoin="round"/>
<path d="M659.98 282.97L669.66 289.18L669.66 282.31L659.98 276.1Z" fill="#761a26" stroke="#1c232c" stroke-width="1.0" stroke-linejoin="round"/>
<path d="M669.66 289.18L678.78 283.31L678.78 276.44L669.66 282.31Z" fill="#781b26" stroke="#1c232c" stroke-width="1.0" stroke-linejoin="round"/>
<path d="M659.98 276.1L669.1 270.23L678.78 276.44L669.66 282.31Z" fill="#7a1b27" stroke="#1c232c" stroke-width="1.0" stroke-linejoin="round"/>
<path d="M335.95 283.8L345.07 277.93L354.75 284.14L345.63 290Z" fill="#3d79ac" stroke="#1c232c" stroke-width="1.0" stroke-linejoin="round"/>
<path d="M358.32 284.21L367.44 278.34L377.12 284.55L368 290.41Z" fill="#3e7bae" stroke="#1c232c" stroke-width="1.0" stroke-linejoin="round"/>
<path d="M380.69 284.62L389.81 278.75L399.49 284.96L390.37 290.82Z" fill="#3f7db0" stroke="#1c232c" stroke-width="1.0" stroke-linejoin="round"/>
<path d="M403.06 284.81L412.18 278.95L421.86 285.15L412.74 291.02Z" fill="#407fb2" stroke="#1c232c" stroke-width="1.0" stroke-linejoin="round"/>
<path d="M425.43 285.85L435.11 292.06L435.11 289.28L425.43 283.07Z" fill="#3f7daf" stroke="#1c232c" stroke-width="1.0" stroke-linejoin="round"/>
<path d="M435.11 292.06L444.23 286.19L444.23 283.41L435.11 289.28Z" fill="#407fb1" stroke="#1c232c" stroke-width="1.0" stroke-linejoin="round"/>
<path d="M425.43 283.07L434.55 277.21L444.23 283.41L435.11 289.28Z" fill="#4181b4" stroke="#1c232c" stroke-width="1.0" stroke-linejoin="round"/>
<path d="M447.8 286.26L457.48 292.47L457.48 286.12L447.8 279.91Z" fill="#4080b2" stroke="#1c232c" stroke-width="1.0" stroke-linejoin="round"/>
<path d="M457.48 292.47L466.6 286.6L466.6 280.26L457.48 286.12Z" fill="#4182b4" stroke="#1c232c" stroke-width="1.0" stroke-linejoin="round"/>
<path d="M447.8 279.91L456.92 274.05L466.6 280.26L457.48 286.12Z" fill="#4284b7" stroke="#1c232c" stroke-width="1.0" stroke-linejoin="round"/>
<path d="M470.17 286.67L479.85 292.88L479.85 287.15L470.17 280.95Z" fill="#4183b3" stroke="#1c232c" stroke-width="1.0" stroke-linejoin="round"/>
<path d="M479.85 292.88L488.97 287.01L488.97 281.29L479.85 287.15Z" fill="#4285b6" stroke="#1c232c" stroke-width="1.0" stroke-linejoin="round"/>
<path d="M470.17 280.95L479.29 275.08L488.97 281.29L479.85 287.15Z" fill="#4387b9" stroke="#1c232c" stroke-width="1.0" stroke-linejoin="round"/>
<path d="M492.54 287.08L502.22 293.29L502.22 289.14L492.54 282.93Z" fill="#4286b5" stroke="#1c232c" stroke-width="1.0" stroke-linejoin="round"/>
<path d="M502.22 293.29L511.34 287.42L511.34 283.27L502.22 289.14Z" fill="#4388b8" stroke="#1c232c" stroke-width="1.0" stroke-linejoin="round"/>
<path d="M492.54 282.93L501.66 277.06L511.34 283.27L502.22 289.14Z" fill="#448abb" stroke="#1c232c" stroke-width="1.0" stroke-linejoin="round"/>
<path d="M514.91 287.49L524.59 293.7L524.59 285.7L514.91 279.49Z" fill="#4389b8" stroke="#1c232c" stroke-width="1.0" stroke-linejoin="round"/>
<path d="M524.59 293.7L533.71 287.83L533.71 279.84L524.59 285.7Z" fill="#448bbb" stroke="#1c232c" stroke-width="1.0" stroke-linejoin="round"/>
<path d="M514.91 279.49L524.03 273.63L533.71 279.84L524.59 285.7Z" fill="#458dbe" stroke="#1c232c" stroke-width="1.0" stroke-linejoin="round"/>
<path d="M537.28 287.9L546.96 294.11L546.96 290.18L537.28 283.97Z" fill="#458cbb" stroke="#1c232c" stroke-width="1.0" stroke-linejoin="round"/>
<path d="M546.96 294.11L556.08 288.24L556.08 284.32L546.96 290.18Z" fill="#468ebe" stroke="#1c232c" stroke-width="1.0" stroke-linejoin="round"/>
<path d="M537.28 283.97L546.4 278.11L556.08 284.32L546.96 290.18Z" fill="#4790c1" stroke="#1c232c" stroke-width="1.0" stroke-linejoin="round"/>
<path d="M559.65 288.31L569.33 294.52L569.33 290.76L559.65 284.55Z" fill="#468fbe" stroke="#1c232c" stroke-width="1.0" stroke-linejoin="round"/>
<path d="M569.33 294.52L578.45 288.65L578.45 284.89L569.33 290.76Z" fill="#4791c1" stroke="#1c232c" stroke-width="1.0" stroke-linejoin="round"/>
<path d="M559.65 284.55L568.77 278.69L578.45 284.89L569.33 290.76Z" fill="#4893c4" stroke="#1c232c" stroke-width="1.0" stroke-linejoin="round"/>
<path d="M582.02 288.72L591.7 294.93L591.7 292.86L582.02 286.66Z" fill="#efcbb8" stroke="#1c232c" stroke-width="1.0" stroke-linejoin="round"/>
<path d="M591.7 294.93L600.82 289.06L600.82 287L591.7 292.86Z" fill="#f2cebb" stroke="#1c232c" stroke-width="1.0" stroke-linejoin="round"/>
<path d="M582.02 286.66L591.14 280.79L600.82 287L591.7 292.86Z" fill="#f6d1be" stroke="#1c232c" stroke-width="1.0" stroke-linejoin="round"/>
<path d="M604.39 289.13L614.07 295.34L614.07 289.15L604.39 282.94Z" fill="#efcbb8" stroke="#1c232c" stroke-width="1.0" stroke-linejoin="round"/>
<path d="M614.07 295.34L623.19 289.47L623.19 283.29L614.07 289.15Z" fill="#f2cebb" stroke="#1c232c" stroke-width="1.0" stroke-linejoin="round"/>
<path d="M604.39 282.94L613.51 277.08L623.19 283.29L614.07 289.15Z" fill="#f6d1be" stroke="#1c232c" stroke-width="1.0" stroke-linejoin="round"/>
<path d="M626.76 288.99L635.88 283.12L645.56 289.33L636.44 295.2Z" fill="#d96b5d" stroke="#1c232c" stroke-width="1.0" stroke-linejoin="round"/>
<path d="M649.13 289.95L658.81 296.16L658.81 289.29L649.13 283.08Z" fill="#761a26" stroke="#1c232c" stroke-width="1.0" stroke-linejoin="round"/>
<path d="M658.81 296.16L667.93 290.29L667.93 283.42L658.81 289.29Z" fill="#781b26" stroke="#1c232c" stroke-width="1.0" stroke-linejoin="round"/>
<path d="M649.13 283.08L658.25 277.21L667.93 283.42L658.81 289.29Z" fill="#7a1b27" stroke="#1c232c" stroke-width="1.0" stroke-linejoin="round"/>
<path d="M671.5 290.36L681.18 296.57L681.18 289.7L671.5 283.49Z" fill="#761a26" stroke="#1c232c" stroke-width="1.0" stroke-linejoin="round"/>
<path d="M681.18 296.57L690.3 290.7L690.3 283.83L681.18 289.7Z" fill="#781b26" stroke="#1c232c" stroke-width="1.0" stroke-linejoin="round"/>
<path d="M671.5 283.49L680.62 277.62L690.3 283.83L681.18 289.7Z" fill="#7a1b27" stroke="#1c232c" stroke-width="1.0" stroke-linejoin="round"/>
<path d="M325.1 290.78L334.22 284.91L343.9 291.12L334.78 296.98Z" fill="#3d77ab" stroke="#1c232c" stroke-width="1.0" stroke-linejoin="round"/>
<path d="M347.47 291.19L356.59 285.32L366.27 291.53L357.15 297.39Z" fill="#3d79ac" stroke="#1c232c" stroke-width="1.0" stroke-linejoin="round"/>
<path d="M369.84 291.6L378.96 285.73L388.64 291.94L379.52 297.8Z" fill="#3e7bae" stroke="#1c232c" stroke-width="1.0" stroke-linejoin="round"/>
<path d="M392.21 291.79L401.33 285.93L411.01 292.14L401.89 298Z" fill="#3f7db0" stroke="#1c232c" stroke-width="1.0" stroke-linejoin="round"/>
<path d="M414.58 292.83L424.26 299.04L424.26 295.61L414.58 289.4Z" fill="#3e7bad" stroke="#1c232c" stroke-width="1.0" stroke-linejoin="round"/>
<path d="M424.26 299.04L433.38 293.17L433.38 289.74L424.26 295.61Z" fill="#3f7daf" stroke="#1c232c" stroke-width="1.0" stroke-linejoin="round"/>
<path d="M414.58 289.4L423.7 283.54L433.38 289.74L424.26 295.61Z" fill="#407fb2" stroke="#1c232c" stroke-width="1.0" stroke-linejoin="round"/>
<path d="M436.95 293.24L446.63 299.45L446.63 292.81L436.95 286.61Z" fill="#3f7daf" stroke="#1c232c" stroke-width="1.0" stroke-linejoin="round"/>
<path d="M446.63 299.45L455.75 293.58L455.75 286.95L446.63 292.81Z" fill="#407fb1" stroke="#1c232c" stroke-width="1.0" stroke-linejoin="round"/>
<path d="M436.95 286.61L446.07 280.74L455.75 286.95L446.63 292.81Z" fill="#4181b4" stroke="#1c232c" stroke-width="1.0" stroke-linejoin="round"/>
<path d="M459.32 293.65L469 299.86L469 287.77L459.32 281.57Z" fill="#4080b2" stroke="#1c232c" stroke-width="1.0" stroke-linejoin="round"/>
<path d="M469 299.86L478.12 293.99L478.12 281.91L469 287.77Z" fill="#4182b4" stroke="#1c232c" stroke-width="1.0" stroke-linejoin="round"/>
<path d="M459.32 281.57L468.44 275.7L478.12 281.91L469 287.77Z" fill="#4284b7" stroke="#1c232c" stroke-width="1.0" stroke-linejoin="round"/>
<path d="M481.69 294.06L491.37 300.27L491.37 287.45L481.69 281.24Z" fill="#4183b3" stroke="#1c232c" stroke-width="1.0" stroke-linejoin="round"/>
<path d="M491.37 300.27L500.49 294.4L500.49 281.58L491.37 287.45Z" fill="#4285b6" stroke="#1c232c" stroke-width="1.0" stroke-linejoin="round"/>
<path d="M481.69 281.24L490.81 275.37L500.49 281.58L491.37 287.45Z" fill="#4387b9" stroke="#1c232c" stroke-width="1.0" stroke-linejoin="round"/>
<path d="M504.06 294.47L513.74 300.68L513.74 293.05L504.06 286.84Z" fill="#4286b5" stroke="#1c232c" stroke-width="1.0" stroke-linejoin="round"/>
<path d="M513.74 300.68L522.86 294.81L522.86 287.18L513.74 293.05Z" fill="#4388b8" stroke="#1c232c" stroke-width="1.0" stroke-linejoin="round"/>
<path d="M504.06 286.84L513.18 280.98L522.86 287.18L513.74 293.05Z" fill="#448abb" stroke="#1c232c" stroke-width="1.0" stroke-linejoin="round"/>
<path d="M526.43 294.88L536.11 301.09L536.11 294.18L526.43 287.98Z" fill="#4389b8" stroke="#1c232c" stroke-width="1.0" stroke-linejoin="round"/>
<path d="M536.11 301.09L545.23 295.22L545.23 288.32L536.11 294.18Z" fill="#448bbb" stroke="#1c232c" stroke-width="1.0" stroke-linejoin="round"/>
<path d="M526.43 287.98L535.55 282.11L545.23 288.32L536.11 294.18Z" fill="#458dbe" stroke="#1c232c" stroke-width="1.0" stroke-linejoin="round"/>
<path d="M548.8 295.29L558.48 301.5L558.48 295.67L548.8 289.46Z" fill="#458cbb" stroke="#1c232c" stroke-width="1.0" stroke-linejoin="round"/>
<path d="M558.48 301.5L567.6 295.63L567.6 289.81L558.48 295.67Z" fill="#468ebe" stroke="#1c232c" stroke-width="1.0" stroke-linejoin="round"/>
<path d="M548.8 289.46L557.92 283.6L567.6 289.81L558.48 295.67Z" fill="#4790c1" stroke="#1c232c" stroke-width="1.0" stroke-linejoin="round"/>
<path d="M571.17 295.7L580.85 301.91L580.85 296.82L571.17 290.61Z" fill="#468fbe" stroke="#1c232c" stroke-width="1.0" stroke-linejoin="round"/>
<path d="M580.85 301.91L589.97 296.04L589.97 290.95L580.85 296.82Z" fill="#4791c1" stroke="#1c232c" stroke-width="1.0" stroke-linejoin="round"/>
<path d="M571.17 290.61L580.29 284.75L589.97 290.95L580.85 296.82Z" fill="#4893c4" stroke="#1c232c" stroke-width="1.0" stroke-linejoin="round"/>
<path d="M593.54 296.11L603.22 302.32L603.22 298.19L593.54 291.99Z" fill="#efcbb8" stroke="#1c232c" stroke-width="1.0" stroke-linejoin="round"/>
<path d="M603.22 302.32L612.34 296.45L612.34 292.33L603.22 298.19Z" fill="#f2cebb" stroke="#1c232c" stroke-width="1.0" stroke-linejoin="round"/>
<path d="M593.54 291.99L602.66 286.12L612.34 292.33L603.22 298.19Z" fill="#f6d1be" stroke="#1c232c" stroke-width="1.0" stroke-linejoin="round"/>
<path d="M615.91 296.52L625.59 302.73L625.59 291.73L615.91 285.53Z" fill="#efcbb8" stroke="#1c232c" stroke-width="1.0" stroke-linejoin="round"/>
<path d="M625.59 302.73L634.71 296.86L634.71 285.87L625.59 291.73Z" fill="#f2cebb" stroke="#1c232c" stroke-width="1.0" stroke-linejoin="round"/>
<path d="M615.91 285.53L625.03 279.66L634.71 285.87L625.59 291.73Z" fill="#f6d1be" stroke="#1c232c" stroke-width="1.0" stroke-linejoin="round"/>
<path d="M638.28 296.38L647.4 290.51L657.08 296.72L647.96 302.59Z" fill="#d96b5d" stroke="#1c232c" stroke-width="1.0" stroke-linejoin="round"/>
<path d="M660.65 297.34L670.33 303.55L670.33 296.68L660.65 290.47Z" fill="#761a26" stroke="#1c232c" stroke-width="1.0" stroke-linejoin="round"/>
<path d="M670.33 303.55L679.45 297.68L679.45 290.81L670.33 296.68Z" fill="#781b26" stroke="#1c232c" stroke-width="1.0" stroke-linejoin="round"/>
<path d="M660.65 290.47L669.77 284.6L679.45 290.81L670.33 296.68Z" fill="#7a1b27" stroke="#1c232c" stroke-width="1.0" stroke-linejoin="round"/>
<path d="M683.02 297.75L692.7 303.96L692.7 297.09L683.02 290.88Z" fill="#761a26" stroke="#1c232c" stroke-width="1.0" stroke-linejoin="round"/>
<path d="M692.7 303.96L701.82 298.09L701.82 291.22L692.7 297.09Z" fill="#781b26" stroke="#1c232c" stroke-width="1.0" stroke-linejoin="round"/>
<path d="M683.02 290.88L692.14 285.01L701.82 291.22L692.7 297.09Z" fill="#7a1b27" stroke="#1c232c" stroke-width="1.0" stroke-linejoin="round"/>
<path d="M314.25 297.76L323.37 291.89L333.05 298.1L323.93 303.96Z" fill="#3c75a9" stroke="#1c232c" stroke-width="1.0" stroke-linejoin="round"/>
<path d="M336.62 298.17L345.74 292.3L355.42 298.51L346.3 304.37Z" fill="#3d77ab" stroke="#1c232c" stroke-width="1.0" stroke-linejoin="round"/>
<path d="M358.99 298.58L368.11 292.71L377.79 298.92L368.67 304.78Z" fill="#3d79ac" stroke="#1c232c" stroke-width="1.0" stroke-linejoin="round"/>
<path d="M381.36 298.85L390.48 292.98L400.16 299.19L391.04 305.06Z" fill="#3e7bae" stroke="#1c232c" stroke-width="1.0" stroke-linejoin="round"/>
<path d="M403.73 299.81L413.41 306.02L413.41 301.68L403.73 295.48Z" fill="#3d79ab" stroke="#1c232c" stroke-width="1.0" stroke-linejoin="round"/>
<path d="M413.41 306.02L422.53 300.15L422.53 295.82L413.41 301.68Z" fill="#3e7bad" stroke="#1c232c" stroke-width="1.0" stroke-linejoin="round"/>
<path d="M403.73 295.48L412.85 289.61L422.53 295.82L413.41 301.68Z" fill="#3f7db0" stroke="#1c232c" stroke-width="1.0" stroke-linejoin="round"/>
<path d="M426.1 300.22L435.78 306.43L435.78 289.79L426.1 283.58Z" fill="#3e7bad" stroke="#1c232c" stroke-width="1.0" stroke-linejoin="round"/>
<path d="M435.78 306.43L444.9 300.56L444.9 283.93L435.78 289.79Z" fill="#3f7daf" stroke="#1c232c" stroke-width="1.0" stroke-linejoin="round"/>
<path d="M426.1 283.58L435.22 277.72L444.9 283.93L435.78 289.79Z" fill="#407fb2" stroke="#1c232c" stroke-width="1.0" stroke-linejoin="round"/>
<path d="M448.47 300.63L458.15 306.84L458.15 289.77L448.47 283.57Z" fill="#3f7daf" stroke="#1c232c" stroke-width="1.0" stroke-linejoin="round"/>
<path d="M458.15 306.84L467.27 300.97L467.27 283.91L458.15 289.77Z" fill="#407fb1" stroke="#1c232c" stroke-width="1.0" stroke-linejoin="round"/>
<path d="M448.47 283.57L457.59 277.7L467.27 283.91L458.15 289.77Z" fill="#4181b4" stroke="#1c232c" stroke-width="1.0" stroke-linejoin="round"/>
<path d="M470.84 301.04L480.52 307.25L480.52 298.05L470.84 291.84Z" fill="#4080b2" stroke="#1c232c" stroke-width="1.0" stroke-linejoin="round"/>
<path d="M480.52 307.25L489.64 301.38L489.64 292.19L480.52 298.05Z" fill="#4182b4" stroke="#1c232c" stroke-width="1.0" stroke-linejoin="round"/>
<path d="M470.84 291.84L479.96 285.98L489.64 292.19L480.52 298.05Z" fill="#4284b7" stroke="#1c232c" stroke-width="1.0" stroke-linejoin="round"/>
<path d="M493.21 301.45L502.89 307.66L502.89 303.74L493.21 297.53Z" fill="#4183b3" stroke="#1c232c" stroke-width="1.0" stroke-linejoin="round"/>
<path d="M502.89 307.66L512.01 301.79L512.01 297.88L502.89 303.74Z" fill="#4285b6" stroke="#1c232c" stroke-width="1.0" stroke-linejoin="round"/>
<path d="M493.21 297.53L502.33 291.67L512.01 297.88L502.89 303.74Z" fill="#4387b9" stroke="#1c232c" stroke-width="1.0" stroke-linejoin="round"/>
<path d="M515.58 301.86L525.26 308.07L525.26 302.6L515.58 296.39Z" fill="#4286b5" stroke="#1c232c" stroke-width="1.0" stroke-linejoin="round"/>
<path d="M525.26 308.07L534.38 302.2L534.38 296.74L525.26 302.6Z" fill="#4388b8" stroke="#1c232c" stroke-width="1.0" stroke-linejoin="round"/>
<path d="M515.58 296.39L524.7 290.53L534.38 296.74L525.26 302.6Z" fill="#448abb" stroke="#1c232c" stroke-width="1.0" stroke-linejoin="round"/>
<path d="M537.95 302.27L547.63 308.48L547.63 300.23L537.95 294.02Z" fill="#4389b8" stroke="#1c232c" stroke-width="1.0" stroke-linejoin="round"/>
<path d="M547.63 308.48L556.75 302.61L556.75 294.37L547.63 300.23Z" fill="#448bbb" stroke="#1c232c" stroke-width="1.0" stroke-linejoin="round"/>
<path d="M537.95 294.02L547.07 288.16L556.75 294.37L547.63 300.23Z" fill="#458dbe" stroke="#1c232c" stroke-width="1.0" stroke-linejoin="round"/>
<path d="M560.32 302.68L570 308.89L570 300.39L560.32 294.18Z" fill="#458cbb" stroke="#1c232c" stroke-width="1.0" stroke-linejoin="round"/>
<path d="M570 308.89L579.12 303.02L579.12 294.52L570 300.39Z" fill="#468ebe" stroke="#1c232c" stroke-width="1.0" stroke-linejoin="round"/>
<path d="M560.32 294.18L569.44 288.32L579.12 294.52L570 300.39Z" fill="#4790c1" stroke="#1c232c" stroke-width="1.0" stroke-linejoin="round"/>
<path d="M582.69 303.09L592.37 309.3L592.37 302.89L582.69 296.68Z" fill="#468fbe" stroke="#1c232c" stroke-width="1.0" stroke-linejoin="round"/>
<path d="M592.37 309.3L601.49 303.43L601.49 297.02L592.37 302.89Z" fill="#4791c1" stroke="#1c232c" stroke-width="1.0" stroke-linejoin="round"/>
<path d="M582.69 296.68L591.81 290.82L601.49 297.02L592.37 302.89Z" fill="#4893c4" stroke="#1c232c" stroke-width="1.0" stroke-linejoin="round"/>
<path d="M605.06 303.5L614.74 309.71L614.74 301.46L605.06 295.25Z" fill="#efcbb8" stroke="#1c232c" stroke-width="1.0" stroke-linejoin="round"/>
<path d="M614.74 309.71L623.86 303.84L623.86 295.6L614.74 301.46Z" fill="#f2cebb" stroke="#1c232c" stroke-width="1.0" stroke-linejoin="round"/>
<path d="M605.06 295.25L614.18 289.39L623.86 295.6L614.74 301.46Z" fill="#f6d1be" stroke="#1c232c" stroke-width="1.0" stroke-linejoin="round"/>
<path d="M627.43 303.91L637.11 310.12L637.11 295L627.43 288.79Z" fill="#efcbb8" stroke="#1c232c" stroke-width="1.0" stroke-linejoin="round"/>
<path d="M637.11 310.12L646.23 304.25L646.23 289.14L637.11 295Z" fill="#f2cebb" stroke="#1c232c" stroke-width="1.0" stroke-linejoin="round"/>
<path d="M627.43 288.79L636.55 282.93L646.23 289.14L637.11 295Z" fill="#f6d1be" stroke="#1c232c" stroke-width="1.0" stroke-linejoin="round"/>
<path d="M649.8 303.77L658.92 297.91L668.6 304.11L659.48 309.98Z" fill="#d96b5d" stroke="#1c232c" stroke-width="1.0" stroke-linejoin="round"/>
<path d="M672.17 304.73L681.85 310.94L681.85 304.07L672.17 297.86Z" fill="#761a26" stroke="#1c232c" stroke-width="1.0" stroke-linejoin="round"/>
<path d="M681.85 310.94L690.97 305.07L690.97 298.2L681.85 304.07Z" fill="#781b26" stroke="#1c232c" stroke-width="1.0" stroke-linejoin="round"/>
<path d="M672.17 297.86L681.29 291.99L690.97 298.2L681.85 304.07Z" fill="#7a1b27" stroke="#1c232c" stroke-width="1.0" stroke-linejoin="round"/>
<path d="M694.54 305.14L704.22 311.35L704.22 304.48L694.54 298.27Z" fill="#761a26" stroke="#1c232c" stroke-width="1.0" stroke-linejoin="round"/>
<path d="M704.22 311.35L713.34 305.48L713.34 298.61L704.22 304.48Z" fill="#781b26" stroke="#1c232c" stroke-width="1.0" stroke-linejoin="round"/>
<path d="M694.54 298.27L703.66 292.4L713.34 298.61L704.22 304.48Z" fill="#7a1b27" stroke="#1c232c" stroke-width="1.0" stroke-linejoin="round"/>
<path d="M303.4 304.74L312.52 298.87L322.2 305.08L313.08 310.94Z" fill="#3b74a8" stroke="#1c232c" stroke-width="1.0" stroke-linejoin="round"/>
<path d="M325.77 305.15L334.89 299.28L344.57 305.49L335.45 311.35Z" fill="#3c75a9" stroke="#1c232c" stroke-width="1.0" stroke-linejoin="round"/>
<path d="M348.14 305.56L357.26 299.69L366.94 305.9L357.82 311.76Z" fill="#3d77ab" stroke="#1c232c" stroke-width="1.0" stroke-linejoin="round"/>
<path d="M370.51 306.38L380.19 312.59L380.19 310.7L370.51 304.5Z" fill="#3b75a7" stroke="#1c232c" stroke-width="1.0" stroke-linejoin="round"/>
<path d="M380.19 312.59L389.31 306.72L389.31 304.84L380.19 310.7Z" fill="#3c77a9" stroke="#1c232c" stroke-width="1.0" stroke-linejoin="round"/>
<path d="M370.51 304.5L379.63 298.63L389.31 304.84L380.19 310.7Z" fill="#3d79ac" stroke="#1c232c" stroke-width="1.0" stroke-linejoin="round"/>
<path d="M392.88 306.79L402.56 313L402.56 304.84L392.88 298.63Z" fill="#3c77a9" stroke="#1c232c" stroke-width="1.0" stroke-linejoin="round"/>
<path d="M402.56 313L411.68 307.13L411.68 298.98L402.56 304.84Z" fill="#3d79ab" stroke="#1c232c" stroke-width="1.0" stroke-linejoin="round"/>
<path d="M392.88 298.63L402 292.77L411.68 298.98L402.56 304.84Z" fill="#3e7bae" stroke="#1c232c" stroke-width="1.0" stroke-linejoin="round"/>
<path d="M415.25 307.2L424.93 313.41L424.93 307.32L415.25 301.11Z" fill="#3d79ab" stroke="#1c232c" stroke-width="1.0" stroke-linejoin="round"/>
<path d="M424.93 313.41L434.05 307.54L434.05 301.46L424.93 307.32Z" fill="#3e7bad" stroke="#1c232c" stroke-width="1.0" stroke-linejoin="round"/>
<path d="M415.25 301.11L424.37 295.25L434.05 301.46L424.93 307.32Z" fill="#3f7db0" stroke="#1c232c" stroke-width="1.0" stroke-linejoin="round"/>
<path d="M437.62 307.61L447.3 313.82L447.3 303.28L437.62 297.07Z" fill="#3e7bad" stroke="#1c232c" stroke-width="1.0" stroke-linejoin="round"/>
<path d="M447.3 313.82L456.42 307.95L456.42 297.41L447.3 303.28Z" fill="#3f7daf" stroke="#1c232c" stroke-width="1.0" stroke-linejoin="round"/>
<path d="M437.62 297.07L446.74 291.2L456.42 297.41L447.3 303.28Z" fill="#407fb2" stroke="#1c232c" stroke-width="1.0" stroke-linejoin="round"/>
<path d="M459.99 308.02L469.67 314.23L469.67 308.95L459.99 302.74Z" fill="#3f7daf" stroke="#1c232c" stroke-width="1.0" stroke-linejoin="round"/>
<path d="M469.67 314.23L478.79 308.36L478.79 303.08L469.67 308.95Z" fill="#407fb1" stroke="#1c232c" stroke-width="1.0" stroke-linejoin="round"/>
<path d="M459.99 302.74L469.11 296.87L478.79 303.08L469.67 308.95Z" fill="#4181b4" stroke="#1c232c" stroke-width="1.0" stroke-linejoin="round"/>
<path d="M482.36 307.88L491.48 302.02L501.16 308.22L492.04 314.09Z" fill="#4284b7" stroke="#1c232c" stroke-width="1.0" stroke-linejoin="round"/>
<path d="M504.73 308.84L514.41 315.05L514.41 306.14L504.73 299.93Z" fill="#4183b3" stroke="#1c232c" stroke-width="1.0" stroke-linejoin="round"/>
<path d="M514.41 315.05L523.53 309.18L523.53 300.27L514.41 306.14Z" fill="#4285b6" stroke="#1c232c" stroke-width="1.0" stroke-linejoin="round"/>
<path d="M504.73 299.93L513.85 294.07L523.53 300.27L514.41 306.14Z" fill="#4387b9" stroke="#1c232c" stroke-width="1.0" stroke-linejoin="round"/>
<path d="M527.1 309.25L536.78 315.46L536.78 283.85L527.1 277.65Z" fill="#4286b5" stroke="#1c232c" stroke-width="1.0" stroke-linejoin="round"/>
<path d="M536.78 315.46L545.9 309.59L545.9 277.99L536.78 283.85Z" fill="#4388b8" stroke="#1c232c" stroke-width="1.0" stroke-linejoin="round"/>
<path d="M527.1 277.65L536.22 271.78L545.9 277.99L536.78 283.85Z" fill="#448abb" stroke="#1c232c" stroke-width="1.0" stroke-linejoin="round"/>
<path d="M549.47 309.66L559.15 315.87L559.15 287.01L549.47 280.8Z" fill="#4389b8" stroke="#1c232c" stroke-width="1.0" stroke-linejoin="round"/>
<path d="M559.15 315.87L568.27 310L568.27 281.15L559.15 287.01Z" fill="#448bbb" stroke="#1c232c" stroke-width="1.0" stroke-linejoin="round"/>
<path d="M549.47 280.8L558.59 274.94L568.27 281.15L559.15 287.01Z" fill="#458dbe" stroke="#1c232c" stroke-width="1.0" stroke-linejoin="round"/>
<path d="M571.84 310.07L581.52 316.28L581.52 304.7L571.84 298.49Z" fill="#458cbb" stroke="#1c232c" stroke-width="1.0" stroke-linejoin="round"/>
<path d="M581.52 316.28L590.64 310.41L590.64 298.83L581.52 304.7Z" fill="#468ebe" stroke="#1c232c" stroke-width="1.0" stroke-linejoin="round"/>
<path d="M571.84 298.49L580.96 292.63L590.64 298.83L581.52 304.7Z" fill="#4790c1" stroke="#1c232c" stroke-width="1.0" stroke-linejoin="round"/>
<path d="M594.21 310.48L603.89 316.69L603.89 309.14L594.21 302.93Z" fill="#468fbe" stroke="#1c232c" stroke-width="1.0" stroke-linejoin="round"/>
<path d="M603.89 316.69L613.01 310.82L613.01 303.27L603.89 309.14Z" fill="#4791c1" stroke="#1c232c" stroke-width="1.0" stroke-linejoin="round"/>
<path d="M594.21 302.93L603.33 297.07L613.01 303.27L603.89 309.14Z" fill="#4893c4" stroke="#1c232c" stroke-width="1.0" stroke-linejoin="round"/>
<path d="M616.58 310.89L626.26 317.1L626.26 304.73L616.58 298.52Z" fill="#efcbb8" stroke="#1c232c" stroke-width="1.0" stroke-linejoin="round"/>
<path d="M626.26 317.1L635.38 311.23L635.38 298.87L626.26 304.73Z" fill="#f2cebb" stroke="#1c232c" stroke-width="1.0" stroke-linejoin="round"/>
<path d="M616.58 298.52L625.7 292.66L635.38 298.87L626.26 304.73Z" fill="#f6d1be" stroke="#1c232c" stroke-width="1.0" stroke-linejoin="round"/>
<path d="M638.95 311.3L648.63 317.51L648.63 298.27L638.95 292.06Z" fill="#efcbb8" stroke="#1c232c" stroke-width="1.0" stroke-linejoin="round"/>
<path d="M648.63 317.51L657.75 311.64L657.75 292.41L648.63 298.27Z" fill="#f2cebb" stroke="#1c232c" stroke-width="1.0" stroke-linejoin="round"/>
<path d="M638.95 292.06L648.07 286.2L657.75 292.41L648.63 298.27Z" fill="#f6d1be" stroke="#1c232c" stroke-width="1.0" stroke-linejoin="round"/>
<path d="M661.32 311.16L670.44 305.3L680.12 311.5L671 317.37Z" fill="#d96b5d" stroke="#1c232c" stroke-width="1.0" stroke-linejoin="round"/>
<path d="M683.69 312.12L693.37 318.33L693.37 311.46L683.69 305.25Z" fill="#761a26" stroke="#1c232c" stroke-width="1.0" stroke-linejoin="round"/>
<path d="M693.37 318.33L702.49 312.46L702.49 305.59L693.37 311.46Z" fill="#781b26" stroke="#1c232c" stroke-width="1.0" stroke-linejoin="round"/>
<path d="M683.69 305.25L692.81 299.38L702.49 305.59L693.37 311.46Z" fill="#7a1b27" stroke="#1c232c" stroke-width="1.0" stroke-linejoin="round"/>
<path d="M292.55 311.72L301.67 305.85L311.35 312.06L302.23 317.92Z" fill="#3b72a7" stroke="#1c232c" stroke-width="1.0" stroke-linejoin="round"/>
<path d="M314.92 312.13L324.04 306.26L333.72 312.47L324.6 318.33Z" fill="#3b74a8" stroke="#1c232c" stroke-width="1.0" stroke-linejoin="round"/>
<path d="M337.29 312.54L346.41 306.67L356.09 312.88L346.97 318.74Z" fill="#3c75a9" stroke="#1c232c" stroke-width="1.0" stroke-linejoin="round"/>
<path d="M359.66 313.36L369.34 319.57L369.34 318.07L359.66 311.86Z" fill="#3b73a6" stroke="#1c232c" stroke-width="1.0" stroke-linejoin="round"/>
<path d="M369.34 319.57L378.46 313.7L378.46 312.21L369.34 318.07Z" fill="#3c75a8" stroke="#1c232c" stroke-width="1.0" stroke-linejoin="round"/>
<path d="M359.66 311.86L368.78 306L378.46 312.21L369.34 318.07Z" fill="#3d77ab" stroke="#1c232c" stroke-width="1.0" stroke-linejoin="round"/>
<path d="M382.03 313.77L391.71 319.98L391.71 302.11L382.03 295.9Z" fill="#3b75a7" stroke="#1c232c" stroke-width="1.0" stroke-linejoin="round"/>
<path d="M391.71 319.98L400.83 314.11L400.83 296.25L391.71 302.11Z" fill="#3c77a9" stroke="#1c232c" stroke-width="1.0" stroke-linejoin="round"/>
<path d="M382.03 295.9L391.15 290.04L400.83 296.25L391.71 302.11Z" fill="#3d79ac" stroke="#1c232c" stroke-width="1.0" stroke-linejoin="round"/>
<path d="M404.4 314.18L414.08 320.39L414.08 313.19L404.4 306.98Z" fill="#3c77a9" stroke="#1c232c" stroke-width="1.0" stroke-linejoin="round"/>
<path d="M414.08 320.39L423.2 314.52L423.2 307.32L414.08 313.19Z" fill="#3d79ab" stroke="#1c232c" stroke-width="1.0" stroke-linejoin="round"/>
<path d="M404.4 306.98L413.52 301.12L423.2 307.32L414.08 313.19Z" fill="#3e7bae" stroke="#1c232c" stroke-width="1.0" stroke-linejoin="round"/>
<path d="M426.77 314.59L436.45 320.8L436.45 311.65L426.77 305.44Z" fill="#3d79ab" stroke="#1c232c" stroke-width="1.0" stroke-linejoin="round"/>
<path d="M436.45 320.8L445.57 314.93L445.57 305.78L436.45 311.65Z" fill="#3e7bad" stroke="#1c232c" stroke-width="1.0" stroke-linejoin="round"/>
<path d="M426.77 305.44L435.89 299.58L445.57 305.78L436.45 311.65Z" fill="#3f7db0" stroke="#1c232c" stroke-width="1.0" stroke-linejoin="round"/>
<path d="M449.14 315L458.82 321.21L458.82 316.75L449.14 310.54Z" fill="#3e7bad" stroke="#1c232c" stroke-width="1.0" stroke-linejoin="round"/>
<path d="M458.82 321.21L467.94 315.34L467.94 310.88L458.82 316.75Z" fill="#3f7daf" stroke="#1c232c" stroke-width="1.0" stroke-linejoin="round"/>
<path d="M449.14 310.54L458.26 304.68L467.94 310.88L458.82 316.75Z" fill="#407fb2" stroke="#1c232c" stroke-width="1.0" stroke-linejoin="round"/>
<path d="M471.51 315.41L481.19 321.62L481.19 313.34L471.51 307.13Z" fill="#3f7daf" stroke="#1c232c" stroke-width="1.0" stroke-linejoin="round"/>
<path d="M481.19 321.62L490.31 315.75L490.31 307.47L481.19 313.34Z" fill="#407fb1" stroke="#1c232c" stroke-width="1.0" stroke-linejoin="round"/>
<path d="M471.51 307.13L480.63 301.27L490.31 307.47L481.19 313.34Z" fill="#4181b4" stroke="#1c232c" stroke-width="1.0" stroke-linejoin="round"/>
<path d="M493.88 315.82L503.56 322.03L503.56 315.38L493.88 309.17Z" fill="#4080b2" stroke="#1c232c" stroke-width="1.0" stroke-linejoin="round"/>
<path d="M503.56 322.03L512.68 316.16L512.68 309.51L503.56 315.38Z" fill="#4182b4" stroke="#1c232c" stroke-width="1.0" stroke-linejoin="round"/>
<path d="M493.88 309.17L503 303.31L512.68 309.51L503.56 315.38Z" fill="#4284b7" stroke="#1c232c" stroke-width="1.0" stroke-linejoin="round"/>
<path d="M516.25 316.23L525.93 322.44L525.93 313.56L516.25 307.35Z" fill="#4183b3" stroke="#1c232c" stroke-width="1.0" stroke-linejoin="round"/>
<path d="M525.93 322.44L535.05 316.57L535.05 307.69L525.93 313.56Z" fill="#4285b6" stroke="#1c232c" stroke-width="1.0" stroke-linejoin="round"/>
<path d="M516.25 307.35L525.37 301.48L535.05 307.69L525.93 313.56Z" fill="#4387b9" stroke="#1c232c" stroke-width="1.0" stroke-linejoin="round"/>
<path d="M538.62 316.64L548.3 322.85L548.3 295.37L538.62 289.16Z" fill="#4286b5" stroke="#1c232c" stroke-width="1.0" stroke-linejoin="round"/>
<path d="M548.3 322.85L557.42 316.98L557.42 289.5L548.3 295.37Z" fill="#4388b8" stroke="#1c232c" stroke-width="1.0" stroke-linejoin="round"/>
<path d="M538.62 289.16L547.74 283.29L557.42 289.5L548.3 295.37Z" fill="#448abb" stroke="#1c232c" stroke-width="1.0" stroke-linejoin="round"/>
<path d="M560.99 317.05L570.67 323.26L570.67 313.71L560.99 307.5Z" fill="#4389b8" stroke="#1c232c" stroke-width="1.0" stroke-linejoin="round"/>
<path d="M570.67 323.26L579.79 317.39L579.79 307.85L570.67 313.71Z" fill="#448bbb" stroke="#1c232c" stroke-width="1.0" stroke-linejoin="round"/>
<path d="M560.99 307.5L570.11 301.64L579.79 307.85L570.67 313.71Z" fill="#458dbe" stroke="#1c232c" stroke-width="1.0" stroke-linejoin="round"/>
<path d="M583.36 317.46L593.04 323.67L593.04 314.63L583.36 308.42Z" fill="#458cbb" stroke="#1c232c" stroke-width="1.0" stroke-linejoin="round"/>
<path d="M593.04 323.67L602.16 317.8L602.16 308.77L593.04 314.63Z" fill="#468ebe" stroke="#1c232c" stroke-width="1.0" stroke-linejoin="round"/>
<path d="M583.36 308.42L592.48 302.56L602.16 308.77L593.04 314.63Z" fill="#4790c1" stroke="#1c232c" stroke-width="1.0" stroke-linejoin="round"/>
<path d="M605.73 317.87L615.41 324.08L615.41 312.94L605.73 306.73Z" fill="#468fbe" stroke="#1c232c" stroke-width="1.0" stroke-linejoin="round"/>
<path d="M615.41 324.08L624.53 318.21L624.53 307.07L615.41 312.94Z" fill="#4791c1" stroke="#1c232c" stroke-width="1.0" stroke-linejoin="round"/>
<path d="M605.73 306.73L614.85 300.87L624.53 307.07L615.41 312.94Z" fill="#4893c4" stroke="#1c232c" stroke-width="1.0" stroke-linejoin="round"/>
<path d="M628.1 318.28L637.78 324.49L637.78 306.62L628.1 300.42Z" fill="#efcbb8" stroke="#1c232c" stroke-width="1.0" stroke-linejoin="round"/>
<path d="M637.78 324.49L646.9 318.62L646.9 300.76L637.78 306.62Z" fill="#f2cebb" stroke="#1c232c" stroke-width="1.0" stroke-linejoin="round"/>
<path d="M628.1 300.42L637.22 294.55L646.9 300.76L637.78 306.62Z" fill="#f6d1be" stroke="#1c232c" stroke-width="1.0" stroke-linejoin="round"/>
<path d="M650.47 318.69L660.15 324.9L660.15 304.29L650.47 298.08Z" fill="#efcbb8" stroke="#1c232c" stroke-width="1.0" stroke-linejoin="round"/>
<path d="M660.15 324.9L669.27 319.03L669.27 298.42L660.15 304.29Z" fill="#f2cebb" stroke="#1c232c" stroke-width="1.0" stroke-linejoin="round"/>
<path d="M650.47 298.08L659.59 292.21L669.27 298.42L660.15 304.29Z" fill="#f6d1be" stroke="#1c232c" stroke-width="1.0" stroke-linejoin="round"/>
<path d="M672.84 318.55L681.96 312.69L691.64 318.89L682.52 324.76Z" fill="#d96b5d" stroke="#1c232c" stroke-width="1.0" stroke-linejoin="round"/>
<path d="M281.7 318.7L290.82 312.83L300.5 319.04L291.38 324.9Z" fill="#3a71a5" stroke="#1c232c" stroke-width="1.0" stroke-linejoin="round"/>
<path d="M304.07 319.11L313.19 313.24L322.87 319.45L313.75 325.31Z" fill="#3b72a7" stroke="#1c232c" stroke-width="1.0" stroke-linejoin="round"/>
<path d="M326.44 319.52L335.56 313.65L345.24 319.86L336.12 325.72Z" fill="#3b74a8" stroke="#1c232c" stroke-width="1.0" stroke-linejoin="round"/>
<path d="M348.81 320.34L358.49 326.55L358.49 325.56L348.81 319.35Z" fill="#3a71a4" stroke="#1c232c" stroke-width="1.0" stroke-linejoin="round"/>
<path d="M358.49 326.55L367.61 320.68L367.61 319.69L358.49 325.56Z" fill="#3b73a6" stroke="#1c232c" stroke-width="1.0" stroke-linejoin="round"/>
<path d="M348.81 319.35L357.93 313.49L367.61 319.69L358.49 325.56Z" fill="#3c75a9" stroke="#1c232c" stroke-width="1.0" stroke-linejoin="round"/>
<path d="M371.18 320.75L380.86 326.96L380.86 320.42L371.18 314.21Z" fill="#3b73a6" stroke="#1c232c" stroke-width="1.0" stroke-linejoin="round"/>
<path d="M380.86 326.96L389.98 321.09L389.98 314.56L380.86 320.42Z" fill="#3c75a8" stroke="#1c232c" stroke-width="1.0" stroke-linejoin="round"/>
<path d="M371.18 314.21L380.3 308.35L389.98 314.56L380.86 320.42Z" fill="#3d77ab" stroke="#1c232c" stroke-width="1.0" stroke-linejoin="round"/>
<path d="M393.55 321.16L403.23 327.37L403.23 314.12L393.55 307.91Z" fill="#3b75a7" stroke="#1c232c" stroke-width="1.0" stroke-linejoin="round"/>
<path d="M403.23 327.37L412.35 321.5L412.35 308.26L403.23 314.12Z" fill="#3c77a9" stroke="#1c232c" stroke-width="1.0" stroke-linejoin="round"/>
<path d="M393.55 307.91L402.67 302.05L412.35 308.26L403.23 314.12Z" fill="#3d79ac" stroke="#1c232c" stroke-width="1.0" stroke-linejoin="round"/>
<path d="M415.92 321.57L425.6 327.78L425.6 322.91L415.92 316.71Z" fill="#3c77a9" stroke="#1c232c" stroke-width="1.0" stroke-linejoin="round"/>
<path d="M425.6 327.78L434.72 321.91L434.72 317.05L425.6 322.91Z" fill="#3d79ab" stroke="#1c232c" stroke-width="1.0" stroke-linejoin="round"/>
<path d="M415.92 316.71L425.04 310.84L434.72 317.05L425.6 322.91Z" fill="#3e7bae" stroke="#1c232c" stroke-width="1.0" stroke-linejoin="round"/>
<path d="M438.29 321.98L447.97 328.19L447.97 316.47L438.29 310.26Z" fill="#3d79ab" stroke="#1c232c" stroke-width="1.0" stroke-linejoin="round"/>
<path d="M447.97 328.19L457.09 322.32L457.09 310.61L447.97 316.47Z" fill="#3e7bad" stroke="#1c232c" stroke-width="1.0" stroke-linejoin="round"/>
<path d="M438.29 310.26L447.41 304.4L457.09 310.61L447.97 316.47Z" fill="#3f7db0" stroke="#1c232c" stroke-width="1.0" stroke-linejoin="round"/>
<path d="M460.66 321.84L469.78 315.97L479.46 322.18L470.34 328.05Z" fill="#407fb2" stroke="#1c232c" stroke-width="1.0" stroke-linejoin="round"/>
<path d="M483.03 322.8L492.71 329.01L492.71 317.5L483.03 311.29Z" fill="#3f7daf" stroke="#1c232c" stroke-width="1.0" stroke-linejoin="round"/>
<path d="M492.71 329.01L501.83 323.14L501.83 311.63L492.71 317.5Z" fill="#407fb1" stroke="#1c232c" stroke-width="1.0" stroke-linejoin="round"/>
<path d="M483.03 311.29L492.15 305.43L501.83 311.63L492.71 317.5Z" fill="#4181b4" stroke="#1c232c" stroke-width="1.0" stroke-linejoin="round"/>
<path d="M505.4 323.21L515.08 329.42L515.08 315.69L505.4 309.48Z" fill="#4080b2" stroke="#1c232c" stroke-width="1.0" stroke-linejoin="round"/>
<path d="M515.08 329.42L524.2 323.55L524.2 309.82L515.08 315.69Z" fill="#4182b4" stroke="#1c232c" stroke-width="1.0" stroke-linejoin="round"/>
<path d="M505.4 309.48L514.52 303.62L524.2 309.82L515.08 315.69Z" fill="#4284b7" stroke="#1c232c" stroke-width="1.0" stroke-linejoin="round"/>
<path d="M527.77 323.62L537.45 329.83L537.45 325.94L527.77 319.74Z" fill="#4183b3" stroke="#1c232c" stroke-width="1.0" stroke-linejoin="round"/>
<path d="M537.45 329.83L546.57 323.96L546.57 320.08L537.45 325.94Z" fill="#4285b6" stroke="#1c232c" stroke-width="1.0" stroke-linejoin="round"/>
<path d="M527.77 319.74L536.89 313.87L546.57 320.08L537.45 325.94Z" fill="#4387b9" stroke="#1c232c" stroke-width="1.0" stroke-linejoin="round"/>
<path d="M550.14 324.03L559.82 330.24L559.82 321.4L550.14 315.2Z" fill="#4286b5" stroke="#1c232c" stroke-width="1.0" stroke-linejoin="round"/>
<path d="M559.82 330.24L568.94 324.37L568.94 315.54L559.82 321.4Z" fill="#4388b8" stroke="#1c232c" stroke-width="1.0" stroke-linejoin="round"/>
<path d="M550.14 315.2L559.26 309.33L568.94 315.54L559.82 321.4Z" fill="#448abb" stroke="#1c232c" stroke-width="1.0" stroke-linejoin="round"/>
<path d="M572.51 324.44L582.19 330.65L582.19 322.56L572.51 316.35Z" fill="#4389b8" stroke="#1c232c" stroke-width="1.0" stroke-linejoin="round"/>
<path d="M582.19 330.65L591.31 324.78L591.31 316.69L582.19 322.56Z" fill="#448bbb" stroke="#1c232c" stroke-width="1.0" stroke-linejoin="round"/>
<path d="M572.51 316.35L581.63 310.48L591.31 316.69L582.19 322.56Z" fill="#458dbe" stroke="#1c232c" stroke-width="1.0" stroke-linejoin="round"/>
<path d="M594.88 324.85L604.56 331.06L604.56 322.81L594.88 316.6Z" fill="#458cbb" stroke="#1c232c" stroke-width="1.0" stroke-linejoin="round"/>
<path d="M604.56 331.06L613.68 325.19L613.68 316.95L604.56 322.81Z" fill="#468ebe" stroke="#1c232c" stroke-width="1.0" stroke-linejoin="round"/>
<path d="M594.88 316.6L604 310.74L613.68 316.95L604.56 322.81Z" fill="#4790c1" stroke="#1c232c" stroke-width="1.0" stroke-linejoin="round"/>
<path d="M617.25 325.26L626.93 331.47L626.93 324.24L617.25 318.04Z" fill="#468fbe" stroke="#1c232c" stroke-width="1.0" stroke-linejoin="round"/>
<path d="M626.93 331.47L636.05 325.6L636.05 318.38L626.93 324.24Z" fill="#4791c1" stroke="#1c232c" stroke-width="1.0" stroke-linejoin="round"/>
<path d="M617.25 318.04L626.37 312.17L636.05 318.38L626.93 324.24Z" fill="#4893c4" stroke="#1c232c" stroke-width="1.0" stroke-linejoin="round"/>
<path d="M639.62 325.67L649.3 331.88L649.3 309.89L639.62 303.68Z" fill="#efcbb8" stroke="#1c232c" stroke-width="1.0" stroke-linejoin="round"/>
<path d="M649.3 331.88L658.42 326.01L658.42 304.03L649.3 309.89Z" fill="#f2cebb" stroke="#1c232c" stroke-width="1.0" stroke-linejoin="round"/>
<path d="M639.62 303.68L648.74 297.82L658.42 304.03L649.3 309.89Z" fill="#f6d1be" stroke="#1c232c" stroke-width="1.0" stroke-linejoin="round"/>
<path d="M661.99 326.08L671.67 332.29L671.67 311.68L661.99 305.47Z" fill="#efcbb8" stroke="#1c232c" stroke-width="1.0" stroke-linejoin="round"/>
<path d="M671.67 332.29L680.79 326.42L680.79 305.81L671.67 311.68Z" fill="#f2cebb" stroke="#1c232c" stroke-width="1.0" stroke-linejoin="round"/>
<path d="M661.99 305.47L671.11 299.6L680.79 305.81L671.67 311.68Z" fill="#f6d1be" stroke="#1c232c" stroke-width="1.0" stroke-linejoin="round"/>
<path d="M270.85 325.68L279.97 319.81L289.65 326.02L280.53 331.88Z" fill="#3a70a4" stroke="#1c232c" stroke-width="1.0" stroke-linejoin="round"/>
<path d="M293.22 326.09L302.34 320.22L312.02 326.43L302.9 332.29Z" fill="#3a71a5" stroke="#1c232c" stroke-width="1.0" stroke-linejoin="round"/>
<path d="M315.59 326.5L324.71 320.63L334.39 326.84L325.27 332.7Z" fill="#3b72a7" stroke="#1c232c" stroke-width="1.0" stroke-linejoin="round"/>
<path d="M337.96 327.32L347.64 333.53L347.64 331.62L337.96 325.41Z" fill="#3971a3" stroke="#1c232c" stroke-width="1.0" stroke-linejoin="round"/>
<path d="M347.64 333.53L356.76 327.66L356.76 325.75L347.64 331.62Z" fill="#3a72a5" stroke="#1c232c" stroke-width="1.0" stroke-linejoin="round"/>
<path d="M337.96 325.41L347.08 319.55L356.76 325.75L347.64 331.62Z" fill="#3b74a8" stroke="#1c232c" stroke-width="1.0" stroke-linejoin="round"/>
<path d="M360.33 327.73L370.01 333.94L370.01 320L360.33 313.79Z" fill="#3a71a4" stroke="#1c232c" stroke-width="1.0" stroke-linejoin="round"/>
<path d="M370.01 333.94L379.13 328.07L379.13 314.14L370.01 320Z" fill="#3b73a6" stroke="#1c232c" stroke-width="1.0" stroke-linejoin="round"/>
<path d="M360.33 313.79L369.45 307.93L379.13 314.14L370.01 320Z" fill="#3c75a9" stroke="#1c232c" stroke-width="1.0" stroke-linejoin="round"/>
<path d="M382.7 328.14L392.38 334.35L392.38 319.29L382.7 313.08Z" fill="#3b73a6" stroke="#1c232c" stroke-width="1.0" stroke-linejoin="round"/>
<path d="M392.38 334.35L401.5 328.48L401.5 313.42L392.38 319.29Z" fill="#3c75a8" stroke="#1c232c" stroke-width="1.0" stroke-linejoin="round"/>
<path d="M382.7 313.08L391.82 307.22L401.5 313.42L392.38 319.29Z" fill="#3d77ab" stroke="#1c232c" stroke-width="1.0" stroke-linejoin="round"/>
<path d="M405.07 328.55L414.75 334.76L414.75 329.78L405.07 323.57Z" fill="#3b75a7" stroke="#1c232c" stroke-width="1.0" stroke-linejoin="round"/>
<path d="M414.75 334.76L423.87 328.89L423.87 323.91L414.75 329.78Z" fill="#3c77a9" stroke="#1c232c" stroke-width="1.0" stroke-linejoin="round"/>
<path d="M405.07 323.57L414.19 317.7L423.87 323.91L414.75 329.78Z" fill="#3d79ac" stroke="#1c232c" stroke-width="1.0" stroke-linejoin="round"/>
<path d="M427.44 328.96L437.12 335.17L437.12 329.76L427.44 323.55Z" fill="#3c77a9" stroke="#1c232c" stroke-width="1.0" stroke-linejoin="round"/>
<path d="M437.12 335.17L446.24 329.3L446.24 323.89L437.12 329.76Z" fill="#3d79ab" stroke="#1c232c" stroke-width="1.0" stroke-linejoin="round"/>
<path d="M427.44 323.55L436.56 317.69L446.24 323.89L437.12 329.76Z" fill="#3e7bae" stroke="#1c232c" stroke-width="1.0" stroke-linejoin="round"/>
<path d="M449.81 329.37L459.49 335.58L459.49 322.86L449.81 316.65Z" fill="#3d79ab" stroke="#1c232c" stroke-width="1.0" stroke-linejoin="round"/>
<path d="M459.49 335.58L468.61 329.71L468.61 317L459.49 322.86Z" fill="#3e7bad" stroke="#1c232c" stroke-width="1.0" stroke-linejoin="round"/>
<path d="M449.81 316.65L458.93 310.79L468.61 317L459.49 322.86Z" fill="#3f7db0" stroke="#1c232c" stroke-width="1.0" stroke-linejoin="round"/>
<path d="M472.18 329.78L481.86 335.99L481.86 318.76L472.18 312.55Z" fill="#3e7bad" stroke="#1c232c" stroke-width="1.0" stroke-linejoin="round"/>
<path d="M481.86 335.99L490.98 330.12L490.98 312.9L481.86 318.76Z" fill="#3f7daf" stroke="#1c232c" stroke-width="1.0" stroke-linejoin="round"/>
<path d="M472.18 312.55L481.3 306.69L490.98 312.9L481.86 318.76Z" fill="#407fb2" stroke="#1c232c" stroke-width="1.0" stroke-linejoin="round"/>
<path d="M494.55 330.19L504.23 336.4L504.23 330.97L494.55 324.76Z" fill="#3f7daf" stroke="#1c232c" stroke-width="1.0" stroke-linejoin="round"/>
<path d="M504.23 336.4L513.35 330.53L513.35 325.1L504.23 330.97Z" fill="#407fb1" stroke="#1c232c" stroke-width="1.0" stroke-linejoin="round"/>
<path d="M494.55 324.76L503.67 318.89L513.35 325.1L504.23 330.97Z" fill="#4181b4" stroke="#1c232c" stroke-width="1.0" stroke-linejoin="round"/>
<path d="M516.92 330.6L526.6 336.81L526.6 329.11L516.92 322.9Z" fill="#4080b2" stroke="#1c232c" stroke-width="1.0" stroke-linejoin="round"/>
<path d="M526.6 336.81L535.72 330.94L535.72 323.25L526.6 329.11Z" fill="#4182b4" stroke="#1c232c" stroke-width="1.0" stroke-linejoin="round"/>
<path d="M516.92 322.9L526.04 317.04L535.72 323.25L526.6 329.11Z" fill="#4284b7" stroke="#1c232c" stroke-width="1.0" stroke-linejoin="round"/>
<path d="M539.29 331.01L548.97 337.22L548.97 323.99L539.29 317.78Z" fill="#4183b3" stroke="#1c232c" stroke-width="1.0" stroke-linejoin="round"/>
<path d="M548.97 337.22L558.09 331.35L558.09 318.12L548.97 323.99Z" fill="#4285b6" stroke="#1c232c" stroke-width="1.0" stroke-linejoin="round"/>
<path d="M539.29 317.78L548.41 311.92L558.09 318.12L548.97 323.99Z" fill="#4387b9" stroke="#1c232c" stroke-width="1.0" stroke-linejoin="round"/>
<path d="M561.66 330.87L570.78 325L580.46 331.21L571.34 337.08Z" fill="#448abb" stroke="#1c232c" stroke-width="1.0" stroke-linejoin="round"/>
<path d="M584.03 331.83L593.71 338.04L593.71 333.88L584.03 327.68Z" fill="#4389b8" stroke="#1c232c" stroke-width="1.0" stroke-linejoin="round"/>
<path d="M593.71 338.04L602.83 332.17L602.83 328.02L593.71 333.88Z" fill="#448bbb" stroke="#1c232c" stroke-width="1.0" stroke-linejoin="round"/>
<path d="M584.03 327.68L593.15 321.81L602.83 328.02L593.71 333.88Z" fill="#458dbe" stroke="#1c232c" stroke-width="1.0" stroke-linejoin="round"/>
<path d="M606.4 332.24L616.08 338.45L616.08 332.59L606.4 326.38Z" fill="#458cbb" stroke="#1c232c" stroke-width="1.0" stroke-linejoin="round"/>
<path d="M616.08 338.45L625.2 332.58L625.2 326.73L616.08 332.59Z" fill="#468ebe" stroke="#1c232c" stroke-width="1.0" stroke-linejoin="round"/>
<path d="M606.4 326.38L615.52 320.52L625.2 326.73L616.08 332.59Z" fill="#4790c1" stroke="#1c232c" stroke-width="1.0" stroke-linejoin="round"/>
<path d="M628.77 332.65L638.45 338.86L638.45 332.57L628.77 326.37Z" fill="#468fbe" stroke="#1c232c" stroke-width="1.0" stroke-linejoin="round"/>
<path d="M638.45 338.86L647.57 332.99L647.57 326.71L638.45 332.57Z" fill="#4791c1" stroke="#1c232c" stroke-width="1.0" stroke-linejoin="round"/>
<path d="M628.77 326.37L637.89 320.5L647.57 326.71L638.45 332.57Z" fill="#4893c4" stroke="#1c232c" stroke-width="1.0" stroke-linejoin="round"/>
<path d="M651.14 333.06L660.82 339.27L660.82 315.91L651.14 309.7Z" fill="#efcbb8" stroke="#1c232c" stroke-width="1.0" stroke-linejoin="round"/>
<path d="M660.82 339.27L669.94 333.4L669.94 310.04L660.82 315.91Z" fill="#f2cebb" stroke="#1c232c" stroke-width="1.0" stroke-linejoin="round"/>
<path d="M651.14 309.7L660.26 303.84L669.94 310.04L660.82 315.91Z" fill="#f6d1be" stroke="#1c232c" stroke-width="1.0" stroke-linejoin="round"/>
<path d="M260 332.66L269.12 326.79L278.8 333L269.68 338.86Z" fill="#3a6fa3" stroke="#1c232c" stroke-width="1.0" stroke-linejoin="round"/>
<path d="M282.37 333.07L291.49 327.2L301.17 333.41L292.05 339.27Z" fill="#3a70a4" stroke="#1c232c" stroke-width="1.0" stroke-linejoin="round"/>
<path d="M304.74 333.48L313.86 327.61L323.54 333.82L314.42 339.68Z" fill="#3a71a5" stroke="#1c232c" stroke-width="1.0" stroke-linejoin="round"/>
<path d="M327.11 334.3L336.79 340.51L336.79 339.34L327.11 333.13Z" fill="#396fa2" stroke="#1c232c" stroke-width="1.0" stroke-linejoin="round"/>
<path d="M336.79 340.51L345.91 334.64L345.91 333.47L336.79 339.34Z" fill="#3a70a4" stroke="#1c232c" stroke-width="1.0" stroke-linejoin="round"/>
<path d="M327.11 333.13L336.23 327.26L345.91 333.47L336.79 339.34Z" fill="#3b72a7" stroke="#1c232c" stroke-width="1.0" stroke-linejoin="round"/>
<path d="M349.48 334.71L359.16 340.92L359.16 327.55L349.48 321.34Z" fill="#3971a3" stroke="#1c232c" stroke-width="1.0" stroke-linejoin="round"/>
<path d="M359.16 340.92L368.28 335.05L368.28 321.68L359.16 327.55Z" fill="#3a72a5" stroke="#1c232c" stroke-width="1.0" stroke-linejoin="round"/>
<path d="M349.48 321.34L358.6 315.48L368.28 321.68L359.16 327.55Z" fill="#3b74a8" stroke="#1c232c" stroke-width="1.0" stroke-linejoin="round"/>
<path d="M371.85 335.12L381.53 341.33L381.53 335.95L371.85 329.74Z" fill="#3a71a4" stroke="#1c232c" stroke-width="1.0" stroke-linejoin="round"/>
<path d="M381.53 341.33L390.65 335.46L390.65 330.09L381.53 335.95Z" fill="#3b73a6" stroke="#1c232c" stroke-width="1.0" stroke-linejoin="round"/>
<path d="M371.85 329.74L380.97 323.88L390.65 330.09L381.53 335.95Z" fill="#3c75a9" stroke="#1c232c" stroke-width="1.0" stroke-linejoin="round"/>
<path d="M394.22 335.53L403.9 341.74L403.9 336.59L394.22 330.38Z" fill="#3b73a6" stroke="#1c232c" stroke-width="1.0" stroke-linejoin="round"/>
<path d="M403.9 341.74L413.02 335.87L413.02 330.73L403.9 336.59Z" fill="#3c75a8" stroke="#1c232c" stroke-width="1.0" stroke-linejoin="round"/>
<path d="M394.22 330.38L403.34 324.52L413.02 330.73L403.9 336.59Z" fill="#3d77ab" stroke="#1c232c" stroke-width="1.0" stroke-linejoin="round"/>
<path d="M416.59 335.94L426.27 342.15L426.27 332.67L416.59 326.46Z" fill="#3b75a7" stroke="#1c232c" stroke-width="1.0" stroke-linejoin="round"/>
<path d="M426.27 342.15L435.39 336.28L435.39 326.81L426.27 332.67Z" fill="#3c77a9" stroke="#1c232c" stroke-width="1.0" stroke-linejoin="round"/>
<path d="M416.59 326.46L425.71 320.6L435.39 326.81L426.27 332.67Z" fill="#3d79ac" stroke="#1c232c" stroke-width="1.0" stroke-linejoin="round"/>
<path d="M438.96 336.35L448.64 342.56L448.64 336.4L438.96 330.2Z" fill="#3c77a9" stroke="#1c232c" stroke-width="1.0" stroke-linejoin="round"/>
<path d="M448.64 342.56L457.76 336.69L457.76 330.54L448.64 336.4Z" fill="#3d79ab" stroke="#1c232c" stroke-width="1.0" stroke-linejoin="round"/>
<path d="M438.96 330.2L448.08 324.33L457.76 330.54L448.64 336.4Z" fill="#3e7bae" stroke="#1c232c" stroke-width="1.0" stroke-linejoin="round"/>
<path d="M461.33 336.76L471.01 342.97L471.01 333.19L461.33 326.98Z" fill="#3d79ab" stroke="#1c232c" stroke-width="1.0" stroke-linejoin="round"/>
<path d="M471.01 342.97L480.13 337.1L480.13 327.33L471.01 333.19Z" fill="#3e7bad" stroke="#1c232c" stroke-width="1.0" stroke-linejoin="round"/>
<path d="M461.33 326.98L470.45 321.12L480.13 327.33L471.01 333.19Z" fill="#3f7db0" stroke="#1c232c" stroke-width="1.0" stroke-linejoin="round"/>
<path d="M483.7 337.17L493.38 343.38L493.38 332.27L483.7 326.07Z" fill="#3e7bad" stroke="#1c232c" stroke-width="1.0" stroke-linejoin="round"/>
<path d="M493.38 343.38L502.5 337.51L502.5 326.41L493.38 332.27Z" fill="#3f7daf" stroke="#1c232c" stroke-width="1.0" stroke-linejoin="round"/>
<path d="M483.7 326.07L492.82 320.2L502.5 326.41L493.38 332.27Z" fill="#407fb2" stroke="#1c232c" stroke-width="1.0" stroke-linejoin="round"/>
<path d="M506.07 337.58L515.75 343.79L515.75 332.36L506.07 326.16Z" fill="#3f7daf" stroke="#1c232c" stroke-width="1.0" stroke-linejoin="round"/>
<path d="M515.75 343.79L524.87 337.92L524.87 326.5L515.75 332.36Z" fill="#407fb1" stroke="#1c232c" stroke-width="1.0" stroke-linejoin="round"/>
<path d="M506.07 326.16L515.19 320.29L524.87 326.5L515.75 332.36Z" fill="#4181b4" stroke="#1c232c" stroke-width="1.0" stroke-linejoin="round"/>
<path d="M528.44 337.99L538.12 344.2L538.12 341.22L528.44 335.02Z" fill="#4080b2" stroke="#1c232c" stroke-width="1.0" stroke-linejoin="round"/>
<path d="M538.12 344.2L547.24 338.33L547.24 335.36L538.12 341.22Z" fill="#4182b4" stroke="#1c232c" stroke-width="1.0" stroke-linejoin="round"/>
<path d="M528.44 335.02L537.56 329.15L547.24 335.36L538.12 341.22Z" fill="#4284b7" stroke="#1c232c" stroke-width="1.0" stroke-linejoin="round"/>
<path d="M550.81 338.4L560.49 344.61L560.49 337.43L550.81 331.23Z" fill="#4183b3" stroke="#1c232c" stroke-width="1.0" stroke-linejoin="round"/>
<path d="M560.49 344.61L569.61 338.74L569.61 331.57L560.49 337.43Z" fill="#4285b6" stroke="#1c232c" stroke-width="1.0" stroke-linejoin="round"/>
<path d="M550.81 331.23L559.93 325.36L569.61 331.57L560.49 337.43Z" fill="#4387b9" stroke="#1c232c" stroke-width="1.0" stroke-linejoin="round"/>
<path d="M573.18 338.81L582.86 345.02L582.86 335.13L573.18 328.93Z" fill="#4286b5" stroke="#1c232c" stroke-width="1.0" stroke-linejoin="round"/>
<path d="M582.86 345.02L591.98 339.15L591.98 329.27L582.86 335.13Z" fill="#4388b8" stroke="#1c232c" stroke-width="1.0" stroke-linejoin="round"/>
<path d="M573.18 328.93L582.3 323.06L591.98 329.27L582.86 335.13Z" fill="#448abb" stroke="#1c232c" stroke-width="1.0" stroke-linejoin="round"/>
<path d="M595.55 339.22L605.23 345.43L605.23 335.47L595.55 329.26Z" fill="#4389b8" stroke="#1c232c" stroke-width="1.0" stroke-linejoin="round"/>
<path d="M605.23 345.43L614.35 339.56L614.35 329.61L605.23 335.47Z" fill="#448bbb" stroke="#1c232c" stroke-width="1.0" stroke-linejoin="round"/>
<path d="M595.55 329.26L604.67 323.4L614.35 329.61L605.23 335.47Z" fill="#458dbe" stroke="#1c232c" stroke-width="1.0" stroke-linejoin="round"/>
<path d="M617.92 339.08L627.04 333.21L636.72 339.42L627.6 345.29Z" fill="#4790c1" stroke="#1c232c" stroke-width="1.0" stroke-linejoin="round"/>
<path d="M640.29 340.04L649.97 346.25L649.97 342.21L640.29 336Z" fill="#468fbe" stroke="#1c232c" stroke-width="1.0" stroke-linejoin="round"/>
<path d="M649.97 346.25L659.09 340.38L659.09 336.34L649.97 342.21Z" fill="#4791c1" stroke="#1c232c" stroke-width="1.0" stroke-linejoin="round"/>
<path d="M640.29 336L649.41 330.14L659.09 336.34L649.97 342.21Z" fill="#4893c4" stroke="#1c232c" stroke-width="1.0" stroke-linejoin="round"/>
<path d="M249.15 339.64L258.27 333.77L267.95 339.98L258.83 345.84Z" fill="#396ea3" stroke="#1c232c" stroke-width="1.0" stroke-linejoin="round"/>
<path d="M271.52 340.05L280.64 334.18L290.32 340.39L281.2 346.25Z" fill="#3a6fa3" stroke="#1c232c" stroke-width="1.0" stroke-linejoin="round"/>
<path d="M293.89 340.46L303.01 334.59L312.69 340.8L303.57 346.66Z" fill="#3a70a4" stroke="#1c232c" stroke-width="1.0" stroke-linejoin="round"/>
<path d="M316.26 341.28L325.94 347.49L325.94 346.4L316.26 340.19Z" fill="#386ea0" stroke="#1c232c" stroke-width="1.0" stroke-linejoin="round"/>
<path d="M325.94 347.49L335.06 341.62L335.06 340.53L325.94 346.4Z" fill="#396fa3" stroke="#1c232c" stroke-width="1.0" stroke-linejoin="round"/>
<path d="M316.26 340.19L325.38 334.32L335.06 340.53L325.94 346.4Z" fill="#3a71a5" stroke="#1c232c" stroke-width="1.0" stroke-linejoin="round"/>
<path d="M338.63 341.69L348.31 347.9L348.31 340.05L338.63 333.84Z" fill="#396fa2" stroke="#1c232c" stroke-width="1.0" stroke-linejoin="round"/>
<path d="M348.31 347.9L357.43 342.03L357.43 334.18L348.31 340.05Z" fill="#3a70a4" stroke="#1c232c" stroke-width="1.0" stroke-linejoin="round"/>
<path d="M338.63 333.84L347.75 327.98L357.43 334.18L348.31 340.05Z" fill="#3b72a7" stroke="#1c232c" stroke-width="1.0" stroke-linejoin="round"/>
<path d="M361 342.1L370.68 348.31L370.68 340.78L361 334.57Z" fill="#3971a3" stroke="#1c232c" stroke-width="1.0" stroke-linejoin="round"/>
<path d="M370.68 348.31L379.8 342.44L379.8 334.91L370.68 340.78Z" fill="#3a72a5" stroke="#1c232c" stroke-width="1.0" stroke-linejoin="round"/>
<path d="M361 334.57L370.12 328.71L379.8 334.91L370.68 340.78Z" fill="#3b74a8" stroke="#1c232c" stroke-width="1.0" stroke-linejoin="round"/>
<path d="M383.37 342.51L393.05 348.72L393.05 336.56L383.37 330.36Z" fill="#3a71a4" stroke="#1c232c" stroke-width="1.0" stroke-linejoin="round"/>
<path d="M393.05 348.72L402.17 342.85L402.17 330.7L393.05 336.56Z" fill="#3b73a6" stroke="#1c232c" stroke-width="1.0" stroke-linejoin="round"/>
<path d="M383.37 330.36L392.49 324.49L402.17 330.7L393.05 336.56Z" fill="#3c75a9" stroke="#1c232c" stroke-width="1.0" stroke-linejoin="round"/>
<path d="M405.74 342.92L415.42 349.13L415.42 339.15L405.74 332.94Z" fill="#3b73a6" stroke="#1c232c" stroke-width="1.0" stroke-linejoin="round"/>
<path d="M415.42 349.13L424.54 343.26L424.54 333.28L415.42 339.15Z" fill="#3c75a8" stroke="#1c232c" stroke-width="1.0" stroke-linejoin="round"/>
<path d="M405.74 332.94L414.86 327.08L424.54 333.28L415.42 339.15Z" fill="#3d77ab" stroke="#1c232c" stroke-width="1.0" stroke-linejoin="round"/>
<path d="M428.11 342.78L437.23 336.92L446.91 343.12L437.79 348.99Z" fill="#3d79ac" stroke="#1c232c" stroke-width="1.0" stroke-linejoin="round"/>
<path d="M450.48 343.74L460.16 349.95L460.16 341.11L450.48 334.9Z" fill="#3c77a9" stroke="#1c232c" stroke-width="1.0" stroke-linejoin="round"/>
<path d="M460.16 349.95L469.28 344.08L469.28 335.24L460.16 341.11Z" fill="#3d79ab" stroke="#1c232c" stroke-width="1.0" stroke-linejoin="round"/>
<path d="M450.48 334.9L459.6 329.04L469.28 335.24L460.16 341.11Z" fill="#3e7bae" stroke="#1c232c" stroke-width="1.0" stroke-linejoin="round"/>
<path d="M472.85 344.15L482.53 350.36L482.53 344.07L472.85 337.87Z" fill="#3d79ab" stroke="#1c232c" stroke-width="1.0" stroke-linejoin="round"/>
<path d="M482.53 350.36L491.65 344.49L491.65 338.21L482.53 344.07Z" fill="#3e7bad" stroke="#1c232c" stroke-width="1.0" stroke-linejoin="round"/>
<path d="M472.85 337.87L481.97 332L491.65 338.21L482.53 344.07Z" fill="#3f7db0" stroke="#1c232c" stroke-width="1.0" stroke-linejoin="round"/>
<path d="M495.22 344.56L504.9 350.77L504.9 346.42L495.22 340.21Z" fill="#3e7bad" stroke="#1c232c" stroke-width="1.0" stroke-linejoin="round"/>
<path d="M504.9 350.77L514.02 344.9L514.02 340.55L504.9 346.42Z" fill="#3f7daf" stroke="#1c232c" stroke-width="1.0" stroke-linejoin="round"/>
<path d="M495.22 340.21L504.34 334.35L514.02 340.55L504.9 346.42Z" fill="#407fb2" stroke="#1c232c" stroke-width="1.0" stroke-linejoin="round"/>
<path d="M517.59 344.97L527.27 351.18L527.27 341.93L517.59 335.72Z" fill="#3f7daf" stroke="#1c232c" stroke-width="1.0" stroke-linejoin="round"/>
<path d="M527.27 351.18L536.39 345.31L536.39 336.07L527.27 341.93Z" fill="#407fb1" stroke="#1c232c" stroke-width="1.0" stroke-linejoin="round"/>
<path d="M517.59 335.72L526.71 329.86L536.39 336.07L527.27 341.93Z" fill="#4181b4" stroke="#1c232c" stroke-width="1.0" stroke-linejoin="round"/>
<path d="M539.96 345.38L549.64 351.59L549.64 345.45L539.96 339.24Z" fill="#4080b2" stroke="#1c232c" stroke-width="1.0" stroke-linejoin="round"/>
<path d="M549.64 351.59L558.76 345.72L558.76 339.59L549.64 345.45Z" fill="#4182b4" stroke="#1c232c" stroke-width="1.0" stroke-linejoin="round"/>
<path d="M539.96 339.24L549.08 333.38L558.76 339.59L549.64 345.45Z" fill="#4284b7" stroke="#1c232c" stroke-width="1.0" stroke-linejoin="round"/>
<path d="M562.33 345.79L572.01 352L572.01 344.9L562.33 338.69Z" fill="#4183b3" stroke="#1c232c" stroke-width="1.0" stroke-linejoin="round"/>
<path d="M572.01 352L581.13 346.13L581.13 339.04L572.01 344.9Z" fill="#4285b6" stroke="#1c232c" stroke-width="1.0" stroke-linejoin="round"/>
<path d="M562.33 338.69L571.45 332.83L581.13 339.04L572.01 344.9Z" fill="#4387b9" stroke="#1c232c" stroke-width="1.0" stroke-linejoin="round"/>
<path d="M584.7 346.2L594.38 352.41L594.38 348.11L584.7 341.91Z" fill="#4286b5" stroke="#1c232c" stroke-width="1.0" stroke-linejoin="round"/>
<path d="M594.38 352.41L603.5 346.54L603.5 342.25L594.38 348.11Z" fill="#4388b8" stroke="#1c232c" stroke-width="1.0" stroke-linejoin="round"/>
<path d="M584.7 341.91L593.82 336.04L603.5 342.25L594.38 348.11Z" fill="#448abb" stroke="#1c232c" stroke-width="1.0" stroke-linejoin="round"/>
<path d="M607.07 346.61L616.75 352.82L616.75 345.35L607.07 339.15Z" fill="#4389b8" stroke="#1c232c" stroke-width="1.0" stroke-linejoin="round"/>
<path d="M616.75 352.82L625.87 346.95L625.87 339.49L616.75 345.35Z" fill="#448bbb" stroke="#1c232c" stroke-width="1.0" stroke-linejoin="round"/>
<path d="M607.07 339.15L616.19 333.28L625.87 339.49L616.75 345.35Z" fill="#458dbe" stroke="#1c232c" stroke-width="1.0" stroke-linejoin="round"/>
<path d="M629.44 347.02L639.12 353.23L639.12 349.13L629.44 342.93Z" fill="#458cbb" stroke="#1c232c" stroke-width="1.0" stroke-linejoin="round"/>
<path d="M639.12 353.23L648.24 347.36L648.24 343.27L639.12 349.13Z" fill="#468ebe" stroke="#1c232c" stroke-width="1.0" stroke-linejoin="round"/>
<path d="M629.44 342.93L638.56 337.06L648.24 343.27L639.12 349.13Z" fill="#4790c1" stroke="#1c232c" stroke-width="1.0" stroke-linejoin="round"/>
<path d="M238.3 346.62L247.42 340.75L257.1 346.96L247.98 352.82Z" fill="#396da2" stroke="#1c232c" stroke-width="1.0" stroke-linejoin="round"/>
<path d="M260.67 347.03L269.79 341.16L279.47 347.37L270.35 353.23Z" fill="#396ea3" stroke="#1c232c" stroke-width="1.0" stroke-linejoin="round"/>
<path d="M283.04 347.44L292.16 341.57L301.84 347.78L292.72 353.64Z" fill="#3a6fa3" stroke="#1c232c" stroke-width="1.0" stroke-linejoin="round"/>
<path d="M305.41 348.26L315.09 354.47L315.09 233.28L305.41 227.07Z" fill="#386d9f" stroke="#1c232c" stroke-width="1.0" stroke-linejoin="round"/>
<path d="M315.09 354.47L324.21 348.6L324.21 227.42L315.09 233.28Z" fill="#396ea2" stroke="#1c232c" stroke-width="1.0" stroke-linejoin="round"/>
<path d="M305.41 227.07L314.53 221.21L324.21 227.42L315.09 233.28Z" fill="#3a70a4" stroke="#1c232c" stroke-width="1.0" stroke-linejoin="round"/>
<path d="M327.78 348.67L337.46 354.88L337.46 349.38L327.78 343.18Z" fill="#386ea0" stroke="#1c232c" stroke-width="1.0" stroke-linejoin="round"/>
<path d="M337.46 354.88L346.58 349.01L346.58 343.52L337.46 349.38Z" fill="#396fa3" stroke="#1c232c" stroke-width="1.0" stroke-linejoin="round"/>
<path d="M327.78 343.18L336.9 337.31L346.58 343.52L337.46 349.38Z" fill="#3a71a5" stroke="#1c232c" stroke-width="1.0" stroke-linejoin="round"/>
<path d="M350.15 349.08L359.83 355.29L359.83 340.33L350.15 334.12Z" fill="#396fa2" stroke="#1c232c" stroke-width="1.0" stroke-linejoin="round"/>
<path d="M359.83 355.29L368.95 349.42L368.95 334.47L359.83 340.33Z" fill="#3a70a4" stroke="#1c232c" stroke-width="1.0" stroke-linejoin="round"/>
<path d="M350.15 334.12L359.27 328.26L368.95 334.47L359.83 340.33Z" fill="#3b72a7" stroke="#1c232c" stroke-width="1.0" stroke-linejoin="round"/>
<path d="M372.52 349.49L382.2 355.7L382.2 350.35L372.52 344.14Z" fill="#3971a3" stroke="#1c232c" stroke-width="1.0" stroke-linejoin="round"/>
<path d="M382.2 355.7L391.32 349.83L391.32 344.49L382.2 350.35Z" fill="#3a72a5" stroke="#1c232c" stroke-width="1.0" stroke-linejoin="round"/>
<path d="M372.52 344.14L381.64 338.28L391.32 344.49L382.2 350.35Z" fill="#3b74a8" stroke="#1c232c" stroke-width="1.0" stroke-linejoin="round"/>
<path d="M394.89 349.9L404.57 356.11L404.57 350.46L394.89 344.25Z" fill="#3a71a4" stroke="#1c232c" stroke-width="1.0" stroke-linejoin="round"/>
<path d="M404.57 356.11L413.69 350.24L413.69 344.59L404.57 350.46Z" fill="#3b73a6" stroke="#1c232c" stroke-width="1.0" stroke-linejoin="round"/>
<path d="M394.89 344.25L404.01 338.39L413.69 344.59L404.57 350.46Z" fill="#3c75a9" stroke="#1c232c" stroke-width="1.0" stroke-linejoin="round"/>
<path d="M417.26 350.31L426.94 356.52L426.94 346.87L417.26 340.66Z" fill="#3b73a6" stroke="#1c232c" stroke-width="1.0" stroke-linejoin="round"/>
<path d="M426.94 356.52L436.06 350.65L436.06 341L426.94 346.87Z" fill="#3c75a8" stroke="#1c232c" stroke-width="1.0" stroke-linejoin="round"/>
<path d="M417.26 340.66L426.38 334.8L436.06 341L426.94 346.87Z" fill="#3d77ab" stroke="#1c232c" stroke-width="1.0" stroke-linejoin="round"/>
<path d="M439.63 350.72L449.31 356.93L449.31 346.21L439.63 340Z" fill="#3b75a7" stroke="#1c232c" stroke-width="1.0" stroke-linejoin="round"/>
<path d="M449.31 356.93L458.43 351.06L458.43 340.34L449.31 346.21Z" fill="#3c77a9" stroke="#1c232c" stroke-width="1.0" stroke-linejoin="round"/>
<path d="M439.63 340L448.75 334.13L458.43 340.34L449.31 346.21Z" fill="#3d79ac" stroke="#1c232c" stroke-width="1.0" stroke-linejoin="round"/>
<path d="M462 351.13L471.68 357.34L471.68 347.09L462 340.88Z" fill="#3c77a9" stroke="#1c232c" stroke-width="1.0" stroke-linejoin="round"/>
<path d="M471.68 357.34L480.8 351.47L480.8 341.22L471.68 347.09Z" fill="#3d79ab" stroke="#1c232c" stroke-width="1.0" stroke-linejoin="round"/>
<path d="M462 340.88L471.12 335.02L480.8 341.22L471.68 347.09Z" fill="#3e7bae" stroke="#1c232c" stroke-width="1.0" stroke-linejoin="round"/>
<path d="M484.37 351.54L494.05 357.75L494.05 352.9L484.37 346.69Z" fill="#3d79ab" stroke="#1c232c" stroke-width="1.0" stroke-linejoin="round"/>
<path d="M494.05 357.75L503.17 351.88L503.17 347.03L494.05 352.9Z" fill="#3e7bad" stroke="#1c232c" stroke-width="1.0" stroke-linejoin="round"/>
<path d="M484.37 346.69L493.49 340.83L503.17 347.03L494.05 352.9Z" fill="#3f7db0" stroke="#1c232c" stroke-width="1.0" stroke-linejoin="round"/>
<path d="M506.74 351.95L516.42 358.16L516.42 348.57L506.74 342.37Z" fill="#3e7bad" stroke="#1c232c" stroke-width="1.0" stroke-linejoin="round"/>
<path d="M516.42 358.16L525.54 352.29L525.54 342.71L516.42 348.57Z" fill="#3f7daf" stroke="#1c232c" stroke-width="1.0" stroke-linejoin="round"/>
<path d="M506.74 342.37L515.86 336.5L525.54 342.71L516.42 348.57Z" fill="#407fb2" stroke="#1c232c" stroke-width="1.0" stroke-linejoin="round"/>
<path d="M529.11 352.36L538.79 358.57L538.79 352.33L529.11 346.12Z" fill="#3f7daf" stroke="#1c232c" stroke-width="1.0" stroke-linejoin="round"/>
<path d="M538.79 358.57L547.91 352.7L547.91 346.47L538.79 352.33Z" fill="#407fb1" stroke="#1c232c" stroke-width="1.0" stroke-linejoin="round"/>
<path d="M529.11 346.12L538.23 340.26L547.91 346.47L538.79 352.33Z" fill="#4181b4" stroke="#1c232c" stroke-width="1.0" stroke-linejoin="round"/>
<path d="M551.48 352.77L561.16 358.98L561.16 349.08L551.48 342.88Z" fill="#4080b2" stroke="#1c232c" stroke-width="1.0" stroke-linejoin="round"/>
<path d="M561.16 358.98L570.28 353.11L570.28 343.22L561.16 349.08Z" fill="#4182b4" stroke="#1c232c" stroke-width="1.0" stroke-linejoin="round"/>
<path d="M551.48 342.88L560.6 337.01L570.28 343.22L561.16 349.08Z" fill="#4284b7" stroke="#1c232c" stroke-width="1.0" stroke-linejoin="round"/>
<path d="M573.85 353.18L583.53 359.39L583.53 345.39L573.85 339.18Z" fill="#4183b3" stroke="#1c232c" stroke-width="1.0" stroke-linejoin="round"/>
<path d="M583.53 359.39L592.65 353.52L592.65 339.53L583.53 345.39Z" fill="#4285b6" stroke="#1c232c" stroke-width="1.0" stroke-linejoin="round"/>
<path d="M573.85 339.18L582.97 333.32L592.65 339.53L583.53 345.39Z" fill="#4387b9" stroke="#1c232c" stroke-width="1.0" stroke-linejoin="round"/>
<path d="M596.22 353.59L605.9 359.8L605.9 351.25L596.22 345.04Z" fill="#4286b5" stroke="#1c232c" stroke-width="1.0" stroke-linejoin="round"/>
<path d="M605.9 359.8L615.02 353.93L615.02 345.39L605.9 351.25Z" fill="#4388b8" stroke="#1c232c" stroke-width="1.0" stroke-linejoin="round"/>
<path d="M596.22 345.04L605.34 339.18L615.02 345.39L605.9 351.25Z" fill="#448abb" stroke="#1c232c" stroke-width="1.0" stroke-linejoin="round"/>
<path d="M618.59 354L628.27 360.21L628.27 354.73L618.59 348.52Z" fill="#4389b8" stroke="#1c232c" stroke-width="1.0" stroke-linejoin="round"/>
<path d="M628.27 360.21L637.39 354.34L637.39 348.87L628.27 354.73Z" fill="#448bbb" stroke="#1c232c" stroke-width="1.0" stroke-linejoin="round"/>
<path d="M618.59 348.52L627.71 342.66L637.39 348.87L628.27 354.73Z" fill="#458dbe" stroke="#1c232c" stroke-width="1.0" stroke-linejoin="round"/>
<path d="M227.45 353.6L236.57 347.73L246.25 353.94L237.13 359.8Z" fill="#396da1" stroke="#1c232c" stroke-width="1.0" stroke-linejoin="round"/>
<path d="M249.82 354.01L258.94 348.14L268.62 354.35L259.5 360.21Z" fill="#396da2" stroke="#1c232c" stroke-width="1.0" stroke-linejoin="round"/>
<path d="M272.19 354.42L281.31 348.55L290.99 354.76L281.87 360.62Z" fill="#396ea3" stroke="#1c232c" stroke-width="1.0" stroke-linejoin="round"/>
<path d="M294.56 355.24L304.24 361.45L304.24 359.92L294.56 353.71Z" fill="#386c9e" stroke="#1c232c" stroke-width="1.0" stroke-linejoin="round"/>
<path d="M304.24 361.45L313.36 355.58L313.36 354.06L304.24 359.92Z" fill="#396da1" stroke="#1c232c" stroke-width="1.0" stroke-linejoin="round"/>
<path d="M294.56 353.71L303.68 347.85L313.36 354.06L304.24 359.92Z" fill="#3a6fa3" stroke="#1c232c" stroke-width="1.0" stroke-linejoin="round"/>
<path d="M316.93 355.1L326.05 349.24L335.73 355.44L326.61 361.31Z" fill="#3a70a4" stroke="#1c232c" stroke-width="1.0" stroke-linejoin="round"/>
<path d="M339.3 356.06L348.98 362.27L348.98 357.72L339.3 351.52Z" fill="#386ea0" stroke="#1c232c" stroke-width="1.0" stroke-linejoin="round"/>
<path d="M348.98 362.27L358.1 356.4L358.1 351.86L348.98 357.72Z" fill="#396fa3" stroke="#1c232c" stroke-width="1.0" stroke-linejoin="round"/>
<path d="M339.3 351.52L348.42 345.65L358.1 351.86L348.98 357.72Z" fill="#3a71a5" stroke="#1c232c" stroke-width="1.0" stroke-linejoin="round"/>
<path d="M361.67 356.47L371.35 362.68L371.35 356.6L361.67 350.39Z" fill="#396fa2" stroke="#1c232c" stroke-width="1.0" stroke-linejoin="round"/>
<path d="M371.35 362.68L380.47 356.81L380.47 350.73L371.35 356.6Z" fill="#3a70a4" stroke="#1c232c" stroke-width="1.0" stroke-linejoin="round"/>
<path d="M361.67 350.39L370.79 344.52L380.47 350.73L371.35 356.6Z" fill="#3b72a7" stroke="#1c232c" stroke-width="1.0" stroke-linejoin="round"/>
<path d="M384.04 356.88L393.72 363.09L393.72 356.83L384.04 350.62Z" fill="#3971a3" stroke="#1c232c" stroke-width="1.0" stroke-linejoin="round"/>
<path d="M393.72 363.09L402.84 357.22L402.84 350.96L393.72 356.83Z" fill="#3a72a5" stroke="#1c232c" stroke-width="1.0" stroke-linejoin="round"/>
<path d="M384.04 350.62L393.16 344.76L402.84 350.96L393.72 356.83Z" fill="#3b74a8" stroke="#1c232c" stroke-width="1.0" stroke-linejoin="round"/>
<path d="M406.41 357.29L416.09 363.5L416.09 352.1L406.41 345.89Z" fill="#3a71a4" stroke="#1c232c" stroke-width="1.0" stroke-linejoin="round"/>
<path d="M416.09 363.5L425.21 357.63L425.21 346.24L416.09 352.1Z" fill="#3b73a6" stroke="#1c232c" stroke-width="1.0" stroke-linejoin="round"/>
<path d="M406.41 345.89L415.53 340.03L425.21 346.24L416.09 352.1Z" fill="#3c75a9" stroke="#1c232c" stroke-width="1.0" stroke-linejoin="round"/>
<path d="M428.78 357.7L438.46 363.91L438.46 358.98L428.78 352.78Z" fill="#3b73a6" stroke="#1c232c" stroke-width="1.0" stroke-linejoin="round"/>
<path d="M438.46 363.91L447.58 358.04L447.58 353.12L438.46 358.98Z" fill="#3c75a8" stroke="#1c232c" stroke-width="1.0" stroke-linejoin="round"/>
<path d="M428.78 352.78L437.9 346.91L447.58 353.12L438.46 358.98Z" fill="#3d77ab" stroke="#1c232c" stroke-width="1.0" stroke-linejoin="round"/>
<path d="M451.15 358.11L460.83 364.32L460.83 359.92L451.15 353.72Z" fill="#3b75a7" stroke="#1c232c" stroke-width="1.0" stroke-linejoin="round"/>
<path d="M460.83 364.32L469.95 358.45L469.95 354.06L460.83 359.92Z" fill="#3c77a9" stroke="#1c232c" stroke-width="1.0" stroke-linejoin="round"/>
<path d="M451.15 353.72L460.27 347.85L469.95 354.06L460.83 359.92Z" fill="#3d79ac" stroke="#1c232c" stroke-width="1.0" stroke-linejoin="round"/>
<path d="M473.52 358.52L483.2 364.73L483.2 353.71L473.52 347.5Z" fill="#3c77a9" stroke="#1c232c" stroke-width="1.0" stroke-linejoin="round"/>
<path d="M483.2 364.73L492.32 358.86L492.32 347.85L483.2 353.71Z" fill="#3d79ab" stroke="#1c232c" stroke-width="1.0" stroke-linejoin="round"/>
<path d="M473.52 347.5L482.64 341.64L492.32 347.85L483.2 353.71Z" fill="#3e7bae" stroke="#1c232c" stroke-width="1.0" stroke-linejoin="round"/>
<path d="M495.89 358.93L505.57 365.14L505.57 360.37L495.89 354.16Z" fill="#3d79ab" stroke="#1c232c" stroke-width="1.0" stroke-linejoin="round"/>
<path d="M505.57 365.14L514.69 359.27L514.69 354.51L505.57 360.37Z" fill="#3e7bad" stroke="#1c232c" stroke-width="1.0" stroke-linejoin="round"/>
<path d="M495.89 354.16L505.01 348.3L514.69 354.51L505.57 360.37Z" fill="#3f7db0" stroke="#1c232c" stroke-width="1.0" stroke-linejoin="round"/>
<path d="M518.26 359.34L527.94 365.55L527.94 351.15L518.26 344.94Z" fill="#3e7bad" stroke="#1c232c" stroke-width="1.0" stroke-linejoin="round"/>
<path d="M527.94 365.55L537.06 359.68L537.06 345.29L527.94 351.15Z" fill="#3f7daf" stroke="#1c232c" stroke-width="1.0" stroke-linejoin="round"/>
<path d="M518.26 344.94L527.38 339.08L537.06 345.29L527.94 351.15Z" fill="#407fb2" stroke="#1c232c" stroke-width="1.0" stroke-linejoin="round"/>
<path d="M540.63 359.75L550.31 365.96L550.31 349.65L540.63 343.45Z" fill="#3f7daf" stroke="#1c232c" stroke-width="1.0" stroke-linejoin="round"/>
<path d="M550.31 365.96L559.43 360.09L559.43 343.79L550.31 349.65Z" fill="#407fb1" stroke="#1c232c" stroke-width="1.0" stroke-linejoin="round"/>
<path d="M540.63 343.45L549.75 337.58L559.43 343.79L550.31 349.65Z" fill="#4181b4" stroke="#1c232c" stroke-width="1.0" stroke-linejoin="round"/>
<path d="M563 360.16L572.68 366.37L572.68 357.53L563 351.33Z" fill="#4080b2" stroke="#1c232c" stroke-width="1.0" stroke-linejoin="round"/>
<path d="M572.68 366.37L581.8 360.5L581.8 351.67L572.68 357.53Z" fill="#4182b4" stroke="#1c232c" stroke-width="1.0" stroke-linejoin="round"/>
<path d="M563 351.33L572.12 345.46L581.8 351.67L572.68 357.53Z" fill="#4284b7" stroke="#1c232c" stroke-width="1.0" stroke-linejoin="round"/>
<path d="M585.37 360.57L595.05 366.78L595.05 363.11L585.37 356.9Z" fill="#4183b3" stroke="#1c232c" stroke-width="1.0" stroke-linejoin="round"/>
<path d="M595.05 366.78L604.17 360.91L604.17 357.24L595.05 363.11Z" fill="#4285b6" stroke="#1c232c" stroke-width="1.0" stroke-linejoin="round"/>
<path d="M585.37 356.9L594.49 351.04L604.17 357.24L595.05 363.11Z" fill="#4387b9" stroke="#1c232c" stroke-width="1.0" stroke-linejoin="round"/>
<path d="M607.74 360.98L617.42 367.19L617.42 362.63L607.74 356.42Z" fill="#4286b5" stroke="#1c232c" stroke-width="1.0" stroke-linejoin="round"/>
<path d="M617.42 367.19L626.54 361.32L626.54 356.76L617.42 362.63Z" fill="#4388b8" stroke="#1c232c" stroke-width="1.0" stroke-linejoin="round"/>
<path d="M607.74 356.42L616.86 350.55L626.54 356.76L617.42 362.63Z" fill="#448abb" stroke="#1c232c" stroke-width="1.0" stroke-linejoin="round"/>
<path d="M216.6 360.58L225.72 354.71L235.4 360.92L226.28 366.78Z" fill="#386ca1" stroke="#1c232c" stroke-width="1.0" stroke-linejoin="round"/>
<path d="M238.97 360.99L248.09 355.12L257.77 361.33L248.65 367.19Z" fill="#396da1" stroke="#1c232c" stroke-width="1.0" stroke-linejoin="round"/>
<path d="M261.34 361.4L270.46 355.53L280.14 361.74L271.02 367.6Z" fill="#396da2" stroke="#1c232c" stroke-width="1.0" stroke-linejoin="round"/>
<path d="M283.71 362.22L293.39 368.43L293.39 366.64L283.71 360.44Z" fill="#376b9e" stroke="#1c232c" stroke-width="1.0" stroke-linejoin="round"/>
<path d="M293.39 368.43L302.51 362.56L302.51 360.78L293.39 366.64Z" fill="#386ca1" stroke="#1c232c" stroke-width="1.0" stroke-linejoin="round"/>
<path d="M283.71 360.44L292.83 354.57L302.51 360.78L293.39 366.64Z" fill="#396ea3" stroke="#1c232c" stroke-width="1.0" stroke-linejoin="round"/>
<path d="M306.08 362.63L315.76 368.84L315.76 360.27L306.08 354.06Z" fill="#386c9e" stroke="#1c232c" stroke-width="1.0" stroke-linejoin="round"/>
<path d="M315.76 368.84L324.88 362.97L324.88 354.41L315.76 360.27Z" fill="#396da1" stroke="#1c232c" stroke-width="1.0" stroke-linejoin="round"/>
<path d="M306.08 354.06L315.2 348.2L324.88 354.41L315.76 360.27Z" fill="#3a6fa3" stroke="#1c232c" stroke-width="1.0" stroke-linejoin="round"/>
<path d="M328.45 363.04L338.13 369.25L338.13 361.12L328.45 354.92Z" fill="#386d9f" stroke="#1c232c" stroke-width="1.0" stroke-linejoin="round"/>
<path d="M338.13 369.25L347.25 363.38L347.25 355.26L338.13 361.12Z" fill="#396ea2" stroke="#1c232c" stroke-width="1.0" stroke-linejoin="round"/>
<path d="M328.45 354.92L337.57 349.05L347.25 355.26L338.13 361.12Z" fill="#3a70a4" stroke="#1c232c" stroke-width="1.0" stroke-linejoin="round"/>
<path d="M350.82 363.45L360.5 369.66L360.5 362.36L350.82 356.15Z" fill="#386ea0" stroke="#1c232c" stroke-width="1.0" stroke-linejoin="round"/>
<path d="M360.5 369.66L369.62 363.79L369.62 356.5L360.5 362.36Z" fill="#396fa3" stroke="#1c232c" stroke-width="1.0" stroke-linejoin="round"/>
<path d="M350.82 356.15L359.94 350.29L369.62 356.5L360.5 362.36Z" fill="#3a71a5" stroke="#1c232c" stroke-width="1.0" stroke-linejoin="round"/>
<path d="M373.19 363.86L382.87 370.07L382.87 358.94L373.19 352.73Z" fill="#396fa2" stroke="#1c232c" stroke-width="1.0" stroke-linejoin="round"/>
<path d="M382.87 370.07L391.99 364.2L391.99 353.07L382.87 358.94Z" fill="#3a70a4" stroke="#1c232c" stroke-width="1.0" stroke-linejoin="round"/>
<path d="M373.19 352.73L382.31 346.87L391.99 353.07L382.87 358.94Z" fill="#3b72a7" stroke="#1c232c" stroke-width="1.0" stroke-linejoin="round"/>
<path d="M395.56 364.27L405.24 370.48L405.24 360.84L395.56 354.63Z" fill="#3971a3" stroke="#1c232c" stroke-width="1.0" stroke-linejoin="round"/>
<path d="M405.24 370.48L414.36 364.61L414.36 354.98L405.24 360.84Z" fill="#3a72a5" stroke="#1c232c" stroke-width="1.0" stroke-linejoin="round"/>
<path d="M395.56 354.63L404.68 348.77L414.36 354.98L405.24 360.84Z" fill="#3b74a8" stroke="#1c232c" stroke-width="1.0" stroke-linejoin="round"/>
<path d="M417.93 364.68L427.61 370.89L427.61 362.59L417.93 356.39Z" fill="#3a71a4" stroke="#1c232c" stroke-width="1.0" stroke-linejoin="round"/>
<path d="M427.61 370.89L436.73 365.02L436.73 356.73L427.61 362.59Z" fill="#3b73a6" stroke="#1c232c" stroke-width="1.0" stroke-linejoin="round"/>
<path d="M417.93 356.39L427.05 350.52L436.73 356.73L427.61 362.59Z" fill="#3c75a9" stroke="#1c232c" stroke-width="1.0" stroke-linejoin="round"/>
<path d="M440.3 365.09L449.98 371.3L449.98 357.93L440.3 351.73Z" fill="#3b73a6" stroke="#1c232c" stroke-width="1.0" stroke-linejoin="round"/>
<path d="M449.98 371.3L459.1 365.43L459.1 352.07L449.98 357.93Z" fill="#3c75a8" stroke="#1c232c" stroke-width="1.0" stroke-linejoin="round"/>
<path d="M440.3 351.73L449.42 345.86L459.1 352.07L449.98 357.93Z" fill="#3d77ab" stroke="#1c232c" stroke-width="1.0" stroke-linejoin="round"/>
<path d="M462.67 365.5L472.35 371.71L472.35 360.28L462.67 354.08Z" fill="#3b75a7" stroke="#1c232c" stroke-width="1.0" stroke-linejoin="round"/>
<path d="M472.35 371.71L481.47 365.84L481.47 354.42L472.35 360.28Z" fill="#3c77a9" stroke="#1c232c" stroke-width="1.0" stroke-linejoin="round"/>
<path d="M462.67 354.08L471.79 348.21L481.47 354.42L472.35 360.28Z" fill="#3d79ac" stroke="#1c232c" stroke-width="1.0" stroke-linejoin="round"/>
<path d="M485.04 365.91L494.72 372.12L494.72 362.44L485.04 356.23Z" fill="#3c77a9" stroke="#1c232c" stroke-width="1.0" stroke-linejoin="round"/>
<path d="M494.72 372.12L503.84 366.25L503.84 356.58L494.72 362.44Z" fill="#3d79ab" stroke="#1c232c" stroke-width="1.0" stroke-linejoin="round"/>
<path d="M485.04 356.23L494.16 350.37L503.84 356.58L494.72 362.44Z" fill="#3e7bae" stroke="#1c232c" stroke-width="1.0" stroke-linejoin="round"/>
<path d="M507.41 366.32L517.09 372.53L517.09 363.71L507.41 357.5Z" fill="#3d79ab" stroke="#1c232c" stroke-width="1.0" stroke-linejoin="round"/>
<path d="M517.09 372.53L526.21 366.66L526.21 357.85L517.09 363.71Z" fill="#3e7bad" stroke="#1c232c" stroke-width="1.0" stroke-linejoin="round"/>
<path d="M507.41 357.5L516.53 351.64L526.21 357.85L517.09 363.71Z" fill="#3f7db0" stroke="#1c232c" stroke-width="1.0" stroke-linejoin="round"/>
<path d="M529.78 366.73L539.46 372.94L539.46 365.49L529.78 359.28Z" fill="#3e7bad" stroke="#1c232c" stroke-width="1.0" stroke-linejoin="round"/>
<path d="M539.46 372.94L548.58 367.07L548.58 359.62L539.46 365.49Z" fill="#3f7daf" stroke="#1c232c" stroke-width="1.0" stroke-linejoin="round"/>
<path d="M529.78 359.28L538.9 353.42L548.58 359.62L539.46 365.49Z" fill="#407fb2" stroke="#1c232c" stroke-width="1.0" stroke-linejoin="round"/>
<path d="M552.15 367.14L561.83 373.35L561.83 367.62L552.15 361.41Z" fill="#3f7daf" stroke="#1c232c" stroke-width="1.0" stroke-linejoin="round"/>
<path d="M561.83 373.35L570.95 367.48L570.95 361.76L561.83 367.62Z" fill="#407fb1" stroke="#1c232c" stroke-width="1.0" stroke-linejoin="round"/>
<path d="M552.15 361.41L561.27 355.55L570.95 361.76L561.83 367.62Z" fill="#4181b4" stroke="#1c232c" stroke-width="1.0" stroke-linejoin="round"/>
<path d="M574.52 367.55L584.2 373.76L584.2 369.49L574.52 363.28Z" fill="#4080b2" stroke="#1c232c" stroke-width="1.0" stroke-linejoin="round"/>
<path d="M584.2 373.76L593.32 367.89L593.32 363.62L584.2 369.49Z" fill="#4182b4" stroke="#1c232c" stroke-width="1.0" stroke-linejoin="round"/>
<path d="M574.52 363.28L583.64 357.42L593.32 363.62L584.2 369.49Z" fill="#4284b7" stroke="#1c232c" stroke-width="1.0" stroke-linejoin="round"/>
<path d="M596.89 367.96L606.57 374.17L606.57 363.56L596.89 357.35Z" fill="#4183b3" stroke="#1c232c" stroke-width="1.0" stroke-linejoin="round"/>
<path d="M606.57 374.17L615.69 368.3L615.69 357.7L606.57 363.56Z" fill="#4285b6" stroke="#1c232c" stroke-width="1.0" stroke-linejoin="round"/>
<path d="M596.89 357.35L606.01 351.49L615.69 357.7L606.57 363.56Z" fill="#4387b9" stroke="#1c232c" stroke-width="1.0" stroke-linejoin="round"/>
<path d="M205.75 367.56L214.87 361.69L224.55 367.9L215.43 373.76Z" fill="#386ca1" stroke="#1c232c" stroke-width="1.0" stroke-linejoin="round"/>
<path d="M228.12 367.97L237.24 362.1L246.92 368.31L237.8 374.17Z" fill="#386ca1" stroke="#1c232c" stroke-width="1.0" stroke-linejoin="round"/>
<path d="M250.49 368.38L259.61 362.51L269.29 368.72L260.17 374.58Z" fill="#396da1" stroke="#1c232c" stroke-width="1.0" stroke-linejoin="round"/>
<path d="M272.86 369.2L282.54 375.41L282.54 373.59L272.86 367.38Z" fill="#376a9d" stroke="#1c232c" stroke-width="1.0" stroke-linejoin="round"/>
<path d="M282.54 375.41L291.66 369.54L291.66 367.72L282.54 373.59Z" fill="#386ba0" stroke="#1c232c" stroke-width="1.0" stroke-linejoin="round"/>
<path d="M272.86 367.38L281.98 361.52L291.66 367.72L282.54 373.59Z" fill="#396da2" stroke="#1c232c" stroke-width="1.0" stroke-linejoin="round"/>
<path d="M295.23 369.61L304.91 375.82L304.91 374.03L295.23 367.83Z" fill="#376b9e" stroke="#1c232c" stroke-width="1.0" stroke-linejoin="round"/>
<path d="M304.91 375.82L314.03 369.95L314.03 368.17L304.91 374.03Z" fill="#386ca1" stroke="#1c232c" stroke-width="1.0" stroke-linejoin="round"/>
<path d="M295.23 367.83L304.35 361.96L314.03 368.17L304.91 374.03Z" fill="#396ea3" stroke="#1c232c" stroke-width="1.0" stroke-linejoin="round"/>
<path d="M317.6 370.02L327.28 376.23L327.28 370.12L317.6 363.91Z" fill="#386c9e" stroke="#1c232c" stroke-width="1.0" stroke-linejoin="round"/>
<path d="M327.28 376.23L336.4 370.36L336.4 364.26L327.28 370.12Z" fill="#396da1" stroke="#1c232c" stroke-width="1.0" stroke-linejoin="round"/>
<path d="M317.6 363.91L326.72 358.05L336.4 364.26L327.28 370.12Z" fill="#3a6fa3" stroke="#1c232c" stroke-width="1.0" stroke-linejoin="round"/>
<path d="M339.97 369.88L349.09 364.01L358.77 370.22L349.65 376.09Z" fill="#3a70a4" stroke="#1c232c" stroke-width="1.0" stroke-linejoin="round"/>
<path d="M362.34 370.84L372.02 377.05L372.02 365.74L362.34 359.53Z" fill="#386ea0" stroke="#1c232c" stroke-width="1.0" stroke-linejoin="round"/>
<path d="M372.02 377.05L381.14 371.18L381.14 359.87L372.02 365.74Z" fill="#396fa3" stroke="#1c232c" stroke-width="1.0" stroke-linejoin="round"/>
<path d="M362.34 359.53L371.46 353.67L381.14 359.87L372.02 365.74Z" fill="#3a71a5" stroke="#1c232c" stroke-width="1.0" stroke-linejoin="round"/>
<path d="M384.71 371.25L394.39 377.46L394.39 362.33L384.71 356.12Z" fill="#396fa2" stroke="#1c232c" stroke-width="1.0" stroke-linejoin="round"/>
<path d="M394.39 377.46L403.51 371.59L403.51 356.47L394.39 362.33Z" fill="#3a70a4" stroke="#1c232c" stroke-width="1.0" stroke-linejoin="round"/>
<path d="M384.71 356.12L393.83 350.26L403.51 356.47L394.39 362.33Z" fill="#3b72a7" stroke="#1c232c" stroke-width="1.0" stroke-linejoin="round"/>
<path d="M407.08 371.66L416.76 377.87L416.76 367.75L407.08 361.54Z" fill="#3971a3" stroke="#1c232c" stroke-width="1.0" stroke-linejoin="round"/>
<path d="M416.76 377.87L425.88 372L425.88 361.88L416.76 367.75Z" fill="#3a72a5" stroke="#1c232c" stroke-width="1.0" stroke-linejoin="round"/>
<path d="M407.08 361.54L416.2 355.67L425.88 361.88L416.76 367.75Z" fill="#3b74a8" stroke="#1c232c" stroke-width="1.0" stroke-linejoin="round"/>
<path d="M429.45 372.07L439.13 378.28L439.13 369.48L429.45 363.28Z" fill="#3a71a4" stroke="#1c232c" stroke-width="1.0" stroke-linejoin="round"/>
<path d="M439.13 378.28L448.25 372.41L448.25 363.62L439.13 369.48Z" fill="#3b73a6" stroke="#1c232c" stroke-width="1.0" stroke-linejoin="round"/>
<path d="M429.45 363.28L438.57 357.41L448.25 363.62L439.13 369.48Z" fill="#3c75a9" stroke="#1c232c" stroke-width="1.0" stroke-linejoin="round"/>
<path d="M451.82 372.48L461.5 378.69L461.5 369.31L451.82 363.1Z" fill="#3b73a6" stroke="#1c232c" stroke-width="1.0" stroke-linejoin="round"/>
<path d="M461.5 378.69L470.62 372.82L470.62 363.44L461.5 369.31Z" fill="#3c75a8" stroke="#1c232c" stroke-width="1.0" stroke-linejoin="round"/>
<path d="M451.82 363.1L460.94 357.24L470.62 363.44L461.5 369.31Z" fill="#3d77ab" stroke="#1c232c" stroke-width="1.0" stroke-linejoin="round"/>
<path d="M474.19 372.89L483.87 379.1L483.87 359.36L474.19 353.15Z" fill="#3b75a7" stroke="#1c232c" stroke-width="1.0" stroke-linejoin="round"/>
<path d="M483.87 379.1L492.99 373.23L492.99 353.49L483.87 359.36Z" fill="#3c77a9" stroke="#1c232c" stroke-width="1.0" stroke-linejoin="round"/>
<path d="M474.19 353.15L483.31 347.29L492.99 353.49L483.87 359.36Z" fill="#3d79ac" stroke="#1c232c" stroke-width="1.0" stroke-linejoin="round"/>
<path d="M496.56 373.3L506.24 379.51L506.24 371.75L496.56 365.55Z" fill="#3c77a9" stroke="#1c232c" stroke-width="1.0" stroke-linejoin="round"/>
<path d="M506.24 379.51L515.36 373.64L515.36 365.89L506.24 371.75Z" fill="#3d79ab" stroke="#1c232c" stroke-width="1.0" stroke-linejoin="round"/>
<path d="M496.56 365.55L505.68 359.68L515.36 365.89L506.24 371.75Z" fill="#3e7bae" stroke="#1c232c" stroke-width="1.0" stroke-linejoin="round"/>
<path d="M518.93 373.71L528.61 379.92L528.61 369.2L518.93 362.99Z" fill="#3d79ab" stroke="#1c232c" stroke-width="1.0" stroke-linejoin="round"/>
<path d="M528.61 379.92L537.73 374.05L537.73 363.34L528.61 369.2Z" fill="#3e7bad" stroke="#1c232c" stroke-width="1.0" stroke-linejoin="round"/>
<path d="M518.93 362.99L528.05 357.13L537.73 363.34L528.61 369.2Z" fill="#3f7db0" stroke="#1c232c" stroke-width="1.0" stroke-linejoin="round"/>
<path d="M541.3 374.12L550.98 380.33L550.98 374.98L541.3 368.78Z" fill="#3e7bad" stroke="#1c232c" stroke-width="1.0" stroke-linejoin="round"/>
<path d="M550.98 380.33L560.1 374.46L560.1 369.12L550.98 374.98Z" fill="#3f7daf" stroke="#1c232c" stroke-width="1.0" stroke-linejoin="round"/>
<path d="M541.3 368.78L550.42 362.91L560.1 369.12L550.98 374.98Z" fill="#407fb2" stroke="#1c232c" stroke-width="1.0" stroke-linejoin="round"/>
<path d="M563.67 374.53L573.35 380.74L573.35 372.1L563.67 365.89Z" fill="#3f7daf" stroke="#1c232c" stroke-width="1.0" stroke-linejoin="round"/>
<path d="M573.35 380.74L582.47 374.87L582.47 366.23L573.35 372.1Z" fill="#407fb1" stroke="#1c232c" stroke-width="1.0" stroke-linejoin="round"/>
<path d="M563.67 365.89L572.79 360.03L582.47 366.23L573.35 372.1Z" fill="#4181b4" stroke="#1c232c" stroke-width="1.0" stroke-linejoin="round"/>
<path d="M586.04 374.94L595.72 381.15L595.72 374.4L586.04 368.19Z" fill="#4080b2" stroke="#1c232c" stroke-width="1.0" stroke-linejoin="round"/>
<path d="M595.72 381.15L604.84 375.28L604.84 368.54L595.72 374.4Z" fill="#4182b4" stroke="#1c232c" stroke-width="1.0" stroke-linejoin="round"/>
<path d="M586.04 368.19L595.16 362.33L604.84 368.54L595.72 374.4Z" fill="#4284b7" stroke="#1c232c" stroke-width="1.0" stroke-linejoin="round"/>
<path d="M194.9 374.54L204.02 368.67L213.7 374.88L204.58 380.74Z" fill="#386ba0" stroke="#1c232c" stroke-width="1.0" stroke-linejoin="round"/>
<path d="M217.27 374.95L226.39 369.08L236.07 375.29L226.95 381.15Z" fill="#386ca1" stroke="#1c232c" stroke-width="1.0" stroke-linejoin="round"/>
<path d="M239.64 375.36L248.76 369.49L258.44 375.7L249.32 381.56Z" fill="#386ca1" stroke="#1c232c" stroke-width="1.0" stroke-linejoin="round"/>
<path d="M262.01 376.18L271.69 382.39L271.69 381.28L262.01 375.07Z" fill="#376a9c" stroke="#1c232c" stroke-width="1.0" stroke-linejoin="round"/>
<path d="M271.69 382.39L280.81 376.52L280.81 375.41L271.69 381.28Z" fill="#386b9f" stroke="#1c232c" stroke-width="1.0" stroke-linejoin="round"/>
<path d="M262.01 375.07L271.13 369.21L280.81 375.41L271.69 381.28Z" fill="#396da1" stroke="#1c232c" stroke-width="1.0" stroke-linejoin="round"/>
<path d="M284.38 376.59L294.06 382.8L294.06 378.35L284.38 372.14Z" fill="#376a9d" stroke="#1c232c" stroke-width="1.0" stroke-linejoin="round"/>
<path d="M294.06 382.8L303.18 376.93L303.18 372.49L294.06 378.35Z" fill="#386ba0" stroke="#1c232c" stroke-width="1.0" stroke-linejoin="round"/>
<path d="M284.38 372.14L293.5 366.28L303.18 372.49L294.06 378.35Z" fill="#396da2" stroke="#1c232c" stroke-width="1.0" stroke-linejoin="round"/>
<path d="M306.75 377L316.43 383.21L316.43 368.85L306.75 362.64Z" fill="#376b9e" stroke="#1c232c" stroke-width="1.0" stroke-linejoin="round"/>
<path d="M316.43 383.21L325.55 377.34L325.55 362.98L316.43 368.85Z" fill="#386ca1" stroke="#1c232c" stroke-width="1.0" stroke-linejoin="round"/>
<path d="M306.75 362.64L315.87 356.78L325.55 362.98L316.43 368.85Z" fill="#396ea3" stroke="#1c232c" stroke-width="1.0" stroke-linejoin="round"/>
<path d="M329.12 377.41L338.8 383.62L338.8 374L329.12 367.79Z" fill="#386c9e" stroke="#1c232c" stroke-width="1.0" stroke-linejoin="round"/>
<path d="M338.8 383.62L347.92 377.75L347.92 368.13L338.8 374Z" fill="#396da1" stroke="#1c232c" stroke-width="1.0" stroke-linejoin="round"/>
<path d="M329.12 367.79L338.24 361.93L347.92 368.13L338.8 374Z" fill="#3a6fa3" stroke="#1c232c" stroke-width="1.0" stroke-linejoin="round"/>
<path d="M351.49 377.82L361.17 384.03L361.17 373.44L351.49 367.24Z" fill="#386d9f" stroke="#1c232c" stroke-width="1.0" stroke-linejoin="round"/>
<path d="M361.17 384.03L370.29 378.16L370.29 367.58L361.17 373.44Z" fill="#396ea2" stroke="#1c232c" stroke-width="1.0" stroke-linejoin="round"/>
<path d="M351.49 367.24L360.61 361.37L370.29 367.58L361.17 373.44Z" fill="#3a70a4" stroke="#1c232c" stroke-width="1.0" stroke-linejoin="round"/>
<path d="M373.86 378.23L383.54 384.44L383.54 367.78L373.86 361.57Z" fill="#386ea0" stroke="#1c232c" stroke-width="1.0" stroke-linejoin="round"/>
<path d="M383.54 384.44L392.66 378.57L392.66 361.92L383.54 367.78Z" fill="#396fa3" stroke="#1c232c" stroke-width="1.0" stroke-linejoin="round"/>
<path d="M373.86 361.57L382.98 355.71L392.66 361.92L383.54 367.78Z" fill="#3a71a5" stroke="#1c232c" stroke-width="1.0" stroke-linejoin="round"/>
<path d="M396.23 378.64L405.91 384.85L405.91 379L396.23 372.79Z" fill="#396fa2" stroke="#1c232c" stroke-width="1.0" stroke-linejoin="round"/>
<path d="M405.91 384.85L415.03 378.98L415.03 373.13L405.91 379Z" fill="#3a70a4" stroke="#1c232c" stroke-width="1.0" stroke-linejoin="round"/>
<path d="M396.23 372.79L405.35 366.93L415.03 373.13L405.91 379Z" fill="#3b72a7" stroke="#1c232c" stroke-width="1.0" stroke-linejoin="round"/>
<path d="M418.6 379.05L428.28 385.26L428.28 376.11L418.6 369.9Z" fill="#3971a3" stroke="#1c232c" stroke-width="1.0" stroke-linejoin="round"/>
<path d="M428.28 385.26L437.4 379.39L437.4 370.25L428.28 376.11Z" fill="#3a72a5" stroke="#1c232c" stroke-width="1.0" stroke-linejoin="round"/>
<path d="M418.6 369.9L427.72 364.04L437.4 370.25L428.28 376.11Z" fill="#3b74a8" stroke="#1c232c" stroke-width="1.0" stroke-linejoin="round"/>
<path d="M440.97 379.46L450.65 385.67L450.65 375L440.97 368.79Z" fill="#3a71a4" stroke="#1c232c" stroke-width="1.0" stroke-linejoin="round"/>
<path d="M450.65 385.67L459.77 379.8L459.77 369.14L450.65 375Z" fill="#3b73a6" stroke="#1c232c" stroke-width="1.0" stroke-linejoin="round"/>
<path d="M440.97 368.79L450.09 362.93L459.77 369.14L450.65 375Z" fill="#3c75a9" stroke="#1c232c" stroke-width="1.0" stroke-linejoin="round"/>
<path d="M463.34 379.87L473.02 386.08L473.02 380.11L463.34 373.9Z" fill="#3b73a6" stroke="#1c232c" stroke-width="1.0" stroke-linejoin="round"/>
<path d="M473.02 386.08L482.14 380.21L482.14 374.24L473.02 380.11Z" fill="#3c75a8" stroke="#1c232c" stroke-width="1.0" stroke-linejoin="round"/>
<path d="M463.34 373.9L472.46 368.03L482.14 374.24L473.02 380.11Z" fill="#3d77ab" stroke="#1c232c" stroke-width="1.0" stroke-linejoin="round"/>
<path d="M485.71 380.28L495.39 386.49L495.39 376.62L485.71 370.42Z" fill="#3b75a7" stroke="#1c232c" stroke-width="1.0" stroke-linejoin="round"/>
<path d="M495.39 386.49L504.51 380.62L504.51 370.76L495.39 376.62Z" fill="#3c77a9" stroke="#1c232c" stroke-width="1.0" stroke-linejoin="round"/>
<path d="M485.71 370.42L494.83 364.55L504.51 370.76L495.39 376.62Z" fill="#3d79ac" stroke="#1c232c" stroke-width="1.0" stroke-linejoin="round"/>
<path d="M508.08 380.69L517.76 386.9L517.76 381.01L508.08 374.8Z" fill="#3c77a9" stroke="#1c232c" stroke-width="1.0" stroke-linejoin="round"/>
<path d="M517.76 386.9L526.88 381.03L526.88 375.15L517.76 381.01Z" fill="#3d79ab" stroke="#1c232c" stroke-width="1.0" stroke-linejoin="round"/>
<path d="M508.08 374.8L517.2 368.94L526.88 375.15L517.76 381.01Z" fill="#3e7bae" stroke="#1c232c" stroke-width="1.0" stroke-linejoin="round"/>
<path d="M530.45 381.1L540.13 387.31L540.13 376.51L530.45 370.31Z" fill="#3d79ab" stroke="#1c232c" stroke-width="1.0" stroke-linejoin="round"/>
<path d="M540.13 387.31L549.25 381.44L549.25 370.65L540.13 376.51Z" fill="#3e7bad" stroke="#1c232c" stroke-width="1.0" stroke-linejoin="round"/>
<path d="M530.45 370.31L539.57 364.44L549.25 370.65L540.13 376.51Z" fill="#3f7db0" stroke="#1c232c" stroke-width="1.0" stroke-linejoin="round"/>
<path d="M552.82 381.51L562.5 387.72L562.5 377.87L552.82 371.67Z" fill="#3e7bad" stroke="#1c232c" stroke-width="1.0" stroke-linejoin="round"/>
<path d="M562.5 387.72L571.62 381.85L571.62 372.01L562.5 377.87Z" fill="#3f7daf" stroke="#1c232c" stroke-width="1.0" stroke-linejoin="round"/>
<path d="M552.82 371.67L561.94 365.8L571.62 372.01L562.5 377.87Z" fill="#407fb2" stroke="#1c232c" stroke-width="1.0" stroke-linejoin="round"/>
<path d="M575.19 381.92L584.87 388.13L584.87 375.5L575.19 369.29Z" fill="#3f7daf" stroke="#1c232c" stroke-width="1.0" stroke-linejoin="round"/>
<path d="M584.87 388.13L593.99 382.26L593.99 369.63L584.87 375.5Z" fill="#407fb1" stroke="#1c232c" stroke-width="1.0" stroke-linejoin="round"/>
<path d="M575.19 369.29L584.31 363.42L593.99 369.63L584.87 375.5Z" fill="#4181b4" stroke="#1c232c" stroke-width="1.0" stroke-linejoin="round"/>
<path d="M184.05 381.52L193.17 375.65L202.85 381.86L193.73 387.72Z" fill="#386ba0" stroke="#1c232c" stroke-width="1.0" stroke-linejoin="round"/>
<path d="M206.42 381.93L215.54 376.06L225.22 382.27L216.1 388.13Z" fill="#386ba0" stroke="#1c232c" stroke-width="1.0" stroke-linejoin="round"/>
<path d="M228.79 382.34L237.91 376.47L247.59 382.68L238.47 388.54Z" fill="#386ca1" stroke="#1c232c" stroke-width="1.0" stroke-linejoin="round"/>
<path d="M251.16 383.16L260.84 389.37L260.84 388.43L251.16 382.22Z" fill="#36699c" stroke="#1c232c" stroke-width="1.0" stroke-linejoin="round"/>
<path d="M260.84 389.37L269.96 383.5L269.96 382.56L260.84 388.43Z" fill="#376a9f" stroke="#1c232c" stroke-width="1.0" stroke-linejoin="round"/>
<path d="M251.16 382.22L260.28 376.36L269.96 382.56L260.84 388.43Z" fill="#386ca1" stroke="#1c232c" stroke-width="1.0" stroke-linejoin="round"/>
<path d="M273.53 383.57L283.21 389.78L283.21 385.75L273.53 379.54Z" fill="#376a9c" stroke="#1c232c" stroke-width="1.0" stroke-linejoin="round"/>
<path d="M283.21 389.78L292.33 383.91L292.33 379.89L283.21 385.75Z" fill="#386b9f" stroke="#1c232c" stroke-width="1.0" stroke-linejoin="round"/>
<path d="M273.53 379.54L282.65 373.68L292.33 379.89L283.21 385.75Z" fill="#396da1" stroke="#1c232c" stroke-width="1.0" stroke-linejoin="round"/>
<path d="M295.9 383.98L305.58 390.19L305.58 379.74L295.9 373.53Z" fill="#376a9d" stroke="#1c232c" stroke-width="1.0" stroke-linejoin="round"/>
<path d="M305.58 390.19L314.7 384.32L314.7 373.88L305.58 379.74Z" fill="#386ba0" stroke="#1c232c" stroke-width="1.0" stroke-linejoin="round"/>
<path d="M295.9 373.53L305.02 367.67L314.7 373.88L305.58 379.74Z" fill="#396da2" stroke="#1c232c" stroke-width="1.0" stroke-linejoin="round"/>
<path d="M318.27 384.39L327.95 390.6L327.95 385.84L318.27 379.64Z" fill="#376b9e" stroke="#1c232c" stroke-width="1.0" stroke-linejoin="round"/>
<path d="M327.95 390.6L337.07 384.73L337.07 379.98L327.95 385.84Z" fill="#386ca1" stroke="#1c232c" stroke-width="1.0" stroke-linejoin="round"/>
<path d="M318.27 379.64L327.39 373.77L337.07 379.98L327.95 385.84Z" fill="#396ea3" stroke="#1c232c" stroke-width="1.0" stroke-linejoin="round"/>
<path d="M340.64 384.8L350.32 391.01L350.32 385.39L340.64 379.18Z" fill="#386c9e" stroke="#1c232c" stroke-width="1.0" stroke-linejoin="round"/>
<path d="M350.32 391.01L359.44 385.14L359.44 379.53L350.32 385.39Z" fill="#396da1" stroke="#1c232c" stroke-width="1.0" stroke-linejoin="round"/>
<path d="M340.64 379.18L349.76 373.32L359.44 379.53L350.32 385.39Z" fill="#3a6fa3" stroke="#1c232c" stroke-width="1.0" stroke-linejoin="round"/>
<path d="M363.01 385.21L372.69 391.42L372.69 386.09L363.01 379.88Z" fill="#386d9f" stroke="#1c232c" stroke-width="1.0" stroke-linejoin="round"/>
<path d="M372.69 391.42L381.81 385.55L381.81 380.23L372.69 386.09Z" fill="#396ea2" stroke="#1c232c" stroke-width="1.0" stroke-linejoin="round"/>
<path d="M363.01 379.88L372.13 374.02L381.81 380.23L372.69 386.09Z" fill="#3a70a4" stroke="#1c232c" stroke-width="1.0" stroke-linejoin="round"/>
<path d="M385.38 385.62L395.06 391.83L395.06 377.76L385.38 371.55Z" fill="#386ea0" stroke="#1c232c" stroke-width="1.0" stroke-linejoin="round"/>
<path d="M395.06 391.83L404.18 385.96L404.18 371.89L395.06 377.76Z" fill="#396fa3" stroke="#1c232c" stroke-width="1.0" stroke-linejoin="round"/>
<path d="M385.38 371.55L394.5 365.69L404.18 371.89L395.06 377.76Z" fill="#3a71a5" stroke="#1c232c" stroke-width="1.0" stroke-linejoin="round"/>
<path d="M407.75 386.03L417.43 392.24L417.43 378.9L407.75 372.69Z" fill="#396fa2" stroke="#1c232c" stroke-width="1.0" stroke-linejoin="round"/>
<path d="M417.43 392.24L426.55 386.37L426.55 373.04L417.43 378.9Z" fill="#3a70a4" stroke="#1c232c" stroke-width="1.0" stroke-linejoin="round"/>
<path d="M407.75 372.69L416.87 366.83L426.55 373.04L417.43 378.9Z" fill="#3b72a7" stroke="#1c232c" stroke-width="1.0" stroke-linejoin="round"/>
<path d="M430.12 386.44L439.8 392.65L439.8 387.81L430.12 381.61Z" fill="#3971a3" stroke="#1c232c" stroke-width="1.0" stroke-linejoin="round"/>
<path d="M439.8 392.65L448.92 386.78L448.92 381.95L439.8 387.81Z" fill="#3a72a5" stroke="#1c232c" stroke-width="1.0" stroke-linejoin="round"/>
<path d="M430.12 381.61L439.24 375.74L448.92 381.95L439.8 387.81Z" fill="#3b74a8" stroke="#1c232c" stroke-width="1.0" stroke-linejoin="round"/>
<path d="M452.49 386.85L462.17 393.06L462.17 388.73L452.49 382.53Z" fill="#3a71a4" stroke="#1c232c" stroke-width="1.0" stroke-linejoin="round"/>
<path d="M462.17 393.06L471.29 387.19L471.29 382.87L462.17 388.73Z" fill="#3b73a6" stroke="#1c232c" stroke-width="1.0" stroke-linejoin="round"/>
<path d="M452.49 382.53L461.61 376.66L471.29 382.87L462.17 388.73Z" fill="#3c75a9" stroke="#1c232c" stroke-width="1.0" stroke-linejoin="round"/>
<path d="M474.86 387.26L484.54 393.47L484.54 382.45L474.86 376.24Z" fill="#3b73a6" stroke="#1c232c" stroke-width="1.0" stroke-linejoin="round"/>
<path d="M484.54 393.47L493.66 387.6L493.66 376.59L484.54 382.45Z" fill="#3c75a8" stroke="#1c232c" stroke-width="1.0" stroke-linejoin="round"/>
<path d="M474.86 376.24L483.98 370.38L493.66 376.59L484.54 382.45Z" fill="#3d77ab" stroke="#1c232c" stroke-width="1.0" stroke-linejoin="round"/>
<path d="M497.23 387.67L506.91 393.88L506.91 388.27L497.23 382.06Z" fill="#3b75a7" stroke="#1c232c" stroke-width="1.0" stroke-linejoin="round"/>
<path d="M506.91 393.88L516.03 388.01L516.03 382.41L506.91 388.27Z" fill="#3c77a9" stroke="#1c232c" stroke-width="1.0" stroke-linejoin="round"/>
<path d="M497.23 382.06L506.35 376.2L516.03 382.41L506.91 388.27Z" fill="#3d79ac" stroke="#1c232c" stroke-width="1.0" stroke-linejoin="round"/>
<path d="M519.6 388.08L529.28 394.29L529.28 388.61L519.6 382.4Z" fill="#3c77a9" stroke="#1c232c" stroke-width="1.0" stroke-linejoin="round"/>
<path d="M529.28 394.29L538.4 388.42L538.4 382.75L529.28 388.61Z" fill="#3d79ab" stroke="#1c232c" stroke-width="1.0" stroke-linejoin="round"/>
<path d="M519.6 382.4L528.72 376.54L538.4 382.75L529.28 388.61Z" fill="#3e7bae" stroke="#1c232c" stroke-width="1.0" stroke-linejoin="round"/>
<path d="M541.97 388.49L551.65 394.7L551.65 379.07L541.97 372.86Z" fill="#3d79ab" stroke="#1c232c" stroke-width="1.0" stroke-linejoin="round"/>
<path d="M551.65 394.7L560.77 388.83L560.77 373.21L551.65 379.07Z" fill="#3e7bad" stroke="#1c232c" stroke-width="1.0" stroke-linejoin="round"/>
<path d="M541.97 372.86L551.09 367L560.77 373.21L551.65 379.07Z" fill="#3f7db0" stroke="#1c232c" stroke-width="1.0" stroke-linejoin="round"/>
<path d="M564.34 388.9L574.02 395.11L574.02 380.54L564.34 374.34Z" fill="#3e7bad" stroke="#1c232c" stroke-width="1.0" stroke-linejoin="round"/>
<path d="M574.02 395.11L583.14 389.24L583.14 374.68L574.02 380.54Z" fill="#3f7daf" stroke="#1c232c" stroke-width="1.0" stroke-linejoin="round"/>
<path d="M564.34 374.34L573.46 368.47L583.14 374.68L574.02 380.54Z" fill="#407fb2" stroke="#1c232c" stroke-width="1.0" stroke-linejoin="round"/>
<path d="M173.2 388.5L182.32 382.63L192 388.84L182.88 394.7Z" fill="#386ba0" stroke="#1c232c" stroke-width="1.0" stroke-linejoin="round"/>
<path d="M195.57 388.91L204.69 383.04L214.37 389.25L205.25 395.11Z" fill="#386ba0" stroke="#1c232c" stroke-width="1.0" stroke-linejoin="round"/>
<path d="M217.94 389.32L227.06 383.45L236.74 389.66L227.62 395.52Z" fill="#386ba0" stroke="#1c232c" stroke-width="1.0" stroke-linejoin="round"/>
<path d="M240.31 390.14L249.99 396.35L249.99 395.4L240.31 389.19Z" fill="#36699c" stroke="#1c232c" stroke-width="1.0" stroke-linejoin="round"/>
<path d="M249.99 396.35L259.11 390.48L259.11 389.54L249.99 395.4Z" fill="#376a9f" stroke="#1c232c" stroke-width="1.0" stroke-linejoin="round"/>
<path d="M240.31 389.19L249.43 383.33L259.11 389.54L249.99 395.4Z" fill="#386ca1" stroke="#1c232c" stroke-width="1.0" stroke-linejoin="round"/>
<path d="M262.68 390.55L272.36 396.76L272.36 395.38L262.68 389.17Z" fill="#36699c" stroke="#1c232c" stroke-width="1.0" stroke-linejoin="round"/>
<path d="M272.36 396.76L281.48 390.89L281.48 389.51L272.36 395.38Z" fill="#376a9f" stroke="#1c232c" stroke-width="1.0" stroke-linejoin="round"/>
<path d="M262.68 389.17L271.8 383.31L281.48 389.51L272.36 395.38Z" fill="#386ca1" stroke="#1c232c" stroke-width="1.0" stroke-linejoin="round"/>
<path d="M285.05 390.41L294.17 384.55L303.85 390.75L294.73 396.62Z" fill="#396da1" stroke="#1c232c" stroke-width="1.0" stroke-linejoin="round"/>
<path d="M307.42 391.37L317.1 397.58L317.1 392.29L307.42 386.08Z" fill="#376a9d" stroke="#1c232c" stroke-width="1.0" stroke-linejoin="round"/>
<path d="M317.1 397.58L326.22 391.71L326.22 386.43L317.1 392.29Z" fill="#386ba0" stroke="#1c232c" stroke-width="1.0" stroke-linejoin="round"/>
<path d="M307.42 386.08L316.54 380.22L326.22 386.43L317.1 392.29Z" fill="#396da2" stroke="#1c232c" stroke-width="1.0" stroke-linejoin="round"/>
<path d="M329.79 391.78L339.47 397.99L339.47 383.67L329.79 377.46Z" fill="#376b9e" stroke="#1c232c" stroke-width="1.0" stroke-linejoin="round"/>
<path d="M339.47 397.99L348.59 392.12L348.59 377.8L339.47 383.67Z" fill="#386ca1" stroke="#1c232c" stroke-width="1.0" stroke-linejoin="round"/>
<path d="M329.79 377.46L338.91 371.6L348.59 377.8L339.47 383.67Z" fill="#396ea3" stroke="#1c232c" stroke-width="1.0" stroke-linejoin="round"/>
<path d="M352.16 392.19L361.84 398.4L361.84 390.96L352.16 384.75Z" fill="#386c9e" stroke="#1c232c" stroke-width="1.0" stroke-linejoin="round"/>
<path d="M361.84 398.4L370.96 392.53L370.96 385.1L361.84 390.96Z" fill="#396da1" stroke="#1c232c" stroke-width="1.0" stroke-linejoin="round"/>
<path d="M352.16 384.75L361.28 378.89L370.96 385.1L361.84 390.96Z" fill="#3a6fa3" stroke="#1c232c" stroke-width="1.0" stroke-linejoin="round"/>
<path d="M374.53 392.6L384.21 398.81L384.21 383.23L374.53 377.02Z" fill="#386d9f" stroke="#1c232c" stroke-width="1.0" stroke-linejoin="round"/>
<path d="M384.21 398.81L393.33 392.94L393.33 377.37L384.21 383.23Z" fill="#396ea2" stroke="#1c232c" stroke-width="1.0" stroke-linejoin="round"/>
<path d="M374.53 377.02L383.65 371.16L393.33 377.37L384.21 383.23Z" fill="#3a70a4" stroke="#1c232c" stroke-width="1.0" stroke-linejoin="round"/>
<path d="M396.9 393.01L406.58 399.22L406.58 383.23L396.9 377.02Z" fill="#386ea0" stroke="#1c232c" stroke-width="1.0" stroke-linejoin="round"/>
<path d="M406.58 399.22L415.7 393.35L415.7 377.37L406.58 383.23Z" fill="#396fa3" stroke="#1c232c" stroke-width="1.0" stroke-linejoin="round"/>
<path d="M396.9 377.02L406.02 371.16L415.7 377.37L406.58 383.23Z" fill="#3a71a5" stroke="#1c232c" stroke-width="1.0" stroke-linejoin="round"/>
<path d="M419.27 393.42L428.95 399.63L428.95 390.81L419.27 384.61Z" fill="#396fa2" stroke="#1c232c" stroke-width="1.0" stroke-linejoin="round"/>
<path d="M428.95 399.63L438.07 393.76L438.07 384.95L428.95 390.81Z" fill="#3a70a4" stroke="#1c232c" stroke-width="1.0" stroke-linejoin="round"/>
<path d="M419.27 384.61L428.39 378.74L438.07 384.95L428.95 390.81Z" fill="#3b72a7" stroke="#1c232c" stroke-width="1.0" stroke-linejoin="round"/>
<path d="M441.64 393.83L451.32 400.04L451.32 395.53L441.64 389.32Z" fill="#3971a3" stroke="#1c232c" stroke-width="1.0" stroke-linejoin="round"/>
<path d="M451.32 400.04L460.44 394.17L460.44 389.67L451.32 395.53Z" fill="#3a72a5" stroke="#1c232c" stroke-width="1.0" stroke-linejoin="round"/>
<path d="M441.64 389.32L450.76 383.46L460.44 389.67L451.32 395.53Z" fill="#3b74a8" stroke="#1c232c" stroke-width="1.0" stroke-linejoin="round"/>
<path d="M464.01 394.24L473.69 400.45L473.69 388.24L464.01 382.03Z" fill="#3a71a4" stroke="#1c232c" stroke-width="1.0" stroke-linejoin="round"/>
<path d="M473.69 400.45L482.81 394.58L482.81 382.38L473.69 388.24Z" fill="#3b73a6" stroke="#1c232c" stroke-width="1.0" stroke-linejoin="round"/>
<path d="M464.01 382.03L473.13 376.17L482.81 382.38L473.69 388.24Z" fill="#3c75a9" stroke="#1c232c" stroke-width="1.0" stroke-linejoin="round"/>
<path d="M486.38 394.65L496.06 400.86L496.06 393.99L486.38 387.79Z" fill="#3b73a6" stroke="#1c232c" stroke-width="1.0" stroke-linejoin="round"/>
<path d="M496.06 400.86L505.18 394.99L505.18 388.13L496.06 393.99Z" fill="#3c75a8" stroke="#1c232c" stroke-width="1.0" stroke-linejoin="round"/>
<path d="M486.38 387.79L495.5 381.92L505.18 388.13L496.06 393.99Z" fill="#3d77ab" stroke="#1c232c" stroke-width="1.0" stroke-linejoin="round"/>
<path d="M508.75 394.51L517.87 388.65L527.55 394.85L518.43 400.72Z" fill="#3d79ac" stroke="#1c232c" stroke-width="1.0" stroke-linejoin="round"/>
<path d="M531.12 395.47L540.8 401.68L540.8 395.12L531.12 388.91Z" fill="#3c77a9" stroke="#1c232c" stroke-width="1.0" stroke-linejoin="round"/>
<path d="M540.8 401.68L549.92 395.81L549.92 389.25L540.8 395.12Z" fill="#3d79ab" stroke="#1c232c" stroke-width="1.0" stroke-linejoin="round"/>
<path d="M531.12 388.91L540.24 383.05L549.92 389.25L540.8 395.12Z" fill="#3e7bae" stroke="#1c232c" stroke-width="1.0" stroke-linejoin="round"/>
<path d="M553.49 395.88L563.17 402.09L563.17 391.32L553.49 385.12Z" fill="#3d79ab" stroke="#1c232c" stroke-width="1.0" stroke-linejoin="round"/>
<path d="M563.17 402.09L572.29 396.22L572.29 385.46L563.17 391.32Z" fill="#3e7bad" stroke="#1c232c" stroke-width="1.0" stroke-linejoin="round"/>
<path d="M553.49 385.12L562.61 379.25L572.29 385.46L563.17 391.32Z" fill="#3f7db0" stroke="#1c232c" stroke-width="1.0" stroke-linejoin="round"/>
<path d="M162.35 395.48L171.47 389.61L181.15 395.82L172.03 401.68Z" fill="#386ba0" stroke="#1c232c" stroke-width="1.0" stroke-linejoin="round"/>
<path d="M184.72 395.89L193.84 390.02L203.52 396.23L194.4 402.09Z" fill="#386ba0" stroke="#1c232c" stroke-width="1.0" stroke-linejoin="round"/>
<path d="M207.09 396.3L216.21 390.43L225.89 396.64L216.77 402.5Z" fill="#386ba0" stroke="#1c232c" stroke-width="1.0" stroke-linejoin="round"/>
<path d="M229.46 397.12L239.14 403.33L239.14 401.95L229.46 395.74Z" fill="#36689b" stroke="#1c232c" stroke-width="1.0" stroke-linejoin="round"/>
<path d="M239.14 403.33L248.26 397.46L248.26 396.09L239.14 401.95Z" fill="#37699e" stroke="#1c232c" stroke-width="1.0" stroke-linejoin="round"/>
<path d="M229.46 395.74L238.58 389.88L248.26 396.09L239.14 401.95Z" fill="#386ba0" stroke="#1c232c" stroke-width="1.0" stroke-linejoin="round"/>
<path d="M251.83 397.53L261.51 403.74L261.51 399.81L251.83 393.61Z" fill="#36699c" stroke="#1c232c" stroke-width="1.0" stroke-linejoin="round"/>
<path d="M261.51 403.74L270.63 397.87L270.63 393.95L261.51 399.81Z" fill="#376a9f" stroke="#1c232c" stroke-width="1.0" stroke-linejoin="round"/>
<path d="M251.83 393.61L260.95 387.74L270.63 393.95L261.51 399.81Z" fill="#386ca1" stroke="#1c232c" stroke-width="1.0" stroke-linejoin="round"/>
<path d="M274.2 397.94L283.88 404.15L283.88 397.68L274.2 391.47Z" fill="#36699c" stroke="#1c232c" stroke-width="1.0" stroke-linejoin="round"/>
<path d="M283.88 404.15L293 398.28L293 391.81L283.88 397.68Z" fill="#376a9f" stroke="#1c232c" stroke-width="1.0" stroke-linejoin="round"/>
<path d="M274.2 391.47L283.32 385.61L293 391.81L283.88 397.68Z" fill="#386ca1" stroke="#1c232c" stroke-width="1.0" stroke-linejoin="round"/>
<path d="M296.57 398.35L306.25 404.56L306.25 396.72L296.57 390.51Z" fill="#376a9c" stroke="#1c232c" stroke-width="1.0" stroke-linejoin="round"/>
<path d="M306.25 404.56L315.37 398.69L315.37 390.85L306.25 396.72Z" fill="#386b9f" stroke="#1c232c" stroke-width="1.0" stroke-linejoin="round"/>
<path d="M296.57 390.51L305.69 384.64L315.37 390.85L306.25 396.72Z" fill="#396da1" stroke="#1c232c" stroke-width="1.0" stroke-linejoin="round"/>
<path d="M318.94 398.76L328.62 404.97L328.62 399.34L318.94 393.14Z" fill="#376a9d" stroke="#1c232c" stroke-width="1.0" stroke-linejoin="round"/>
<path d="M328.62 404.97L337.74 399.1L337.74 393.48L328.62 399.34Z" fill="#386ba0" stroke="#1c232c" stroke-width="1.0" stroke-linejoin="round"/>
<path d="M318.94 393.14L328.06 387.27L337.74 393.48L328.62 399.34Z" fill="#396da2" stroke="#1c232c" stroke-width="1.0" stroke-linejoin="round"/>
<path d="M341.31 399.17L350.99 405.38L350.99 400.23L341.31 394.02Z" fill="#376b9e" stroke="#1c232c" stroke-width="1.0" stroke-linejoin="round"/>
<path d="M350.99 405.38L360.11 399.51L360.11 394.37L350.99 400.23Z" fill="#386ca1" stroke="#1c232c" stroke-width="1.0" stroke-linejoin="round"/>
<path d="M341.31 394.02L350.43 388.16L360.11 394.37L350.99 400.23Z" fill="#396ea3" stroke="#1c232c" stroke-width="1.0" stroke-linejoin="round"/>
<path d="M363.68 399.58L373.36 405.79L373.36 392.47L363.68 386.26Z" fill="#386c9e" stroke="#1c232c" stroke-width="1.0" stroke-linejoin="round"/>
<path d="M373.36 405.79L382.48 399.92L382.48 386.6L373.36 392.47Z" fill="#396da1" stroke="#1c232c" stroke-width="1.0" stroke-linejoin="round"/>
<path d="M363.68 386.26L372.8 380.39L382.48 386.6L373.36 392.47Z" fill="#3a6fa3" stroke="#1c232c" stroke-width="1.0" stroke-linejoin="round"/>
<path d="M386.05 399.99L395.73 406.2L395.73 392.78L386.05 386.58Z" fill="#386d9f" stroke="#1c232c" stroke-width="1.0" stroke-linejoin="round"/>
<path d="M395.73 406.2L404.85 400.33L404.85 386.92L395.73 392.78Z" fill="#396ea2" stroke="#1c232c" stroke-width="1.0" stroke-linejoin="round"/>
<path d="M386.05 386.58L395.17 380.71L404.85 386.92L395.73 392.78Z" fill="#3a70a4" stroke="#1c232c" stroke-width="1.0" stroke-linejoin="round"/>
<path d="M408.42 399.85L417.54 393.98L427.22 400.19L418.1 406.06Z" fill="#3a71a5" stroke="#1c232c" stroke-width="1.0" stroke-linejoin="round"/>
<path d="M430.79 400.81L440.47 407.02L440.47 397.91L430.79 391.7Z" fill="#396fa2" stroke="#1c232c" stroke-width="1.0" stroke-linejoin="round"/>
<path d="M440.47 407.02L449.59 401.15L449.59 392.04L440.47 397.91Z" fill="#3a70a4" stroke="#1c232c" stroke-width="1.0" stroke-linejoin="round"/>
<path d="M430.79 391.7L439.91 385.84L449.59 392.04L440.47 397.91Z" fill="#3b72a7" stroke="#1c232c" stroke-width="1.0" stroke-linejoin="round"/>
<path d="M453.16 401.22L462.84 407.43L462.84 398.02L453.16 391.81Z" fill="#3971a3" stroke="#1c232c" stroke-width="1.0" stroke-linejoin="round"/>
<path d="M462.84 407.43L471.96 401.56L471.96 392.16L462.84 398.02Z" fill="#3a72a5" stroke="#1c232c" stroke-width="1.0" stroke-linejoin="round"/>
<path d="M453.16 391.81L462.28 385.95L471.96 392.16L462.84 398.02Z" fill="#3b74a8" stroke="#1c232c" stroke-width="1.0" stroke-linejoin="round"/>
<path d="M475.53 401.63L485.21 407.84L485.21 402L475.53 395.79Z" fill="#3a71a4" stroke="#1c232c" stroke-width="1.0" stroke-linejoin="round"/>
<path d="M485.21 407.84L494.33 401.97L494.33 396.13L485.21 402Z" fill="#3b73a6" stroke="#1c232c" stroke-width="1.0" stroke-linejoin="round"/>
<path d="M475.53 395.79L484.65 389.93L494.33 396.13L485.21 402Z" fill="#3c75a9" stroke="#1c232c" stroke-width="1.0" stroke-linejoin="round"/>
<path d="M497.9 402.04L507.58 408.25L507.58 401.25L497.9 395.05Z" fill="#3b73a6" stroke="#1c232c" stroke-width="1.0" stroke-linejoin="round"/>
<path d="M507.58 408.25L516.7 402.38L516.7 395.39L507.58 401.25Z" fill="#3c75a8" stroke="#1c232c" stroke-width="1.0" stroke-linejoin="round"/>
<path d="M497.9 395.05L507.02 389.18L516.7 395.39L507.58 401.25Z" fill="#3d77ab" stroke="#1c232c" stroke-width="1.0" stroke-linejoin="round"/>
<path d="M520.27 402.45L529.95 408.66L529.95 394.08L520.27 387.88Z" fill="#3b75a7" stroke="#1c232c" stroke-width="1.0" stroke-linejoin="round"/>
<path d="M529.95 408.66L539.07 402.79L539.07 388.22L529.95 394.08Z" fill="#3c77a9" stroke="#1c232c" stroke-width="1.0" stroke-linejoin="round"/>
<path d="M520.27 387.88L529.39 382.01L539.07 388.22L529.95 394.08Z" fill="#3d79ac" stroke="#1c232c" stroke-width="1.0" stroke-linejoin="round"/>
<path d="M542.64 402.86L552.32 409.07L552.32 398.58L542.64 392.37Z" fill="#3c77a9" stroke="#1c232c" stroke-width="1.0" stroke-linejoin="round"/>
<path d="M552.32 409.07L561.44 403.2L561.44 392.72L552.32 398.58Z" fill="#3d79ab" stroke="#1c232c" stroke-width="1.0" stroke-linejoin="round"/>
<path d="M542.64 392.37L551.76 386.51L561.44 392.72L552.32 398.58Z" fill="#3e7bae" stroke="#1c232c" stroke-width="1.0" stroke-linejoin="round"/>
<path d="M151.5 402.87L161.18 409.08L161.18 348.21L151.5 342Z" fill="#294881" stroke="#1c232c" stroke-width="1.0" stroke-linejoin="round"/>
<path d="M161.18 409.08L170.3 403.21L170.3 342.34L161.18 348.21Z" fill="#294983" stroke="#1c232c" stroke-width="1.0" stroke-linejoin="round"/>
<path d="M151.5 342L160.62 336.14L170.3 342.34L161.18 348.21Z" fill="#2a4a85" stroke="#1c232c" stroke-width="1.0" stroke-linejoin="round"/>
<path d="M173.87 402.87L182.99 397L192.67 403.21L183.55 409.07Z" fill="#386ba0" stroke="#1c232c" stroke-width="1.0" stroke-linejoin="round"/>
<path d="M196.24 403.28L205.36 397.41L215.04 403.62L205.92 409.48Z" fill="#386ba0" stroke="#1c232c" stroke-width="1.0" stroke-linejoin="round"/>
<path d="M218.61 404.1L228.29 410.31L228.29 408.23L218.61 402.02Z" fill="#36689b" stroke="#1c232c" stroke-width="1.0" stroke-linejoin="round"/>
<path d="M228.29 410.31L237.41 404.44L237.41 402.36L228.29 408.23Z" fill="#37699e" stroke="#1c232c" stroke-width="1.0" stroke-linejoin="round"/>
<path d="M218.61 402.02L227.73 396.16L237.41 402.36L228.29 408.23Z" fill="#386ba0" stroke="#1c232c" stroke-width="1.0" stroke-linejoin="round"/>
<path d="M240.98 404.51L250.66 410.72L250.66 406.3L240.98 400.09Z" fill="#36689b" stroke="#1c232c" stroke-width="1.0" stroke-linejoin="round"/>
<path d="M250.66 410.72L259.78 404.85L259.78 400.44L250.66 406.3Z" fill="#37699e" stroke="#1c232c" stroke-width="1.0" stroke-linejoin="round"/>
<path d="M240.98 400.09L250.1 394.23L259.78 400.44L250.66 406.3Z" fill="#386ba0" stroke="#1c232c" stroke-width="1.0" stroke-linejoin="round"/>
<path d="M263.35 404.92L273.03 411.13L273.03 399.67L263.35 393.47Z" fill="#36699c" stroke="#1c232c" stroke-width="1.0" stroke-linejoin="round"/>
<path d="M273.03 411.13L282.15 405.26L282.15 393.81L273.03 399.67Z" fill="#376a9f" stroke="#1c232c" stroke-width="1.0" stroke-linejoin="round"/>
<path d="M263.35 393.47L272.47 387.6L282.15 393.81L273.03 399.67Z" fill="#386ca1" stroke="#1c232c" stroke-width="1.0" stroke-linejoin="round"/>
<path d="M285.72 404.78L294.84 398.92L304.52 405.12L295.4 410.99Z" fill="#386ca1" stroke="#1c232c" stroke-width="1.0" stroke-linejoin="round"/>
<path d="M308.09 405.74L317.77 411.95L317.77 398.51L308.09 392.31Z" fill="#376a9c" stroke="#1c232c" stroke-width="1.0" stroke-linejoin="round"/>
<path d="M317.77 411.95L326.89 406.08L326.89 392.65L317.77 398.51Z" fill="#386b9f" stroke="#1c232c" stroke-width="1.0" stroke-linejoin="round"/>
<path d="M308.09 392.31L317.21 386.44L326.89 392.65L317.77 398.51Z" fill="#396da1" stroke="#1c232c" stroke-width="1.0" stroke-linejoin="round"/>
<path d="M330.46 406.15L340.14 412.36L340.14 400.91L330.46 394.7Z" fill="#376a9d" stroke="#1c232c" stroke-width="1.0" stroke-linejoin="round"/>
<path d="M340.14 412.36L349.26 406.49L349.26 395.05L340.14 400.91Z" fill="#386ba0" stroke="#1c232c" stroke-width="1.0" stroke-linejoin="round"/>
<path d="M330.46 394.7L339.58 388.84L349.26 395.05L340.14 400.91Z" fill="#396da2" stroke="#1c232c" stroke-width="1.0" stroke-linejoin="round"/>
<path d="M352.83 406.56L362.51 412.77L362.51 398.54L352.83 392.34Z" fill="#376b9e" stroke="#1c232c" stroke-width="1.0" stroke-linejoin="round"/>
<path d="M362.51 412.77L371.63 406.9L371.63 392.68L362.51 398.54Z" fill="#386ca1" stroke="#1c232c" stroke-width="1.0" stroke-linejoin="round"/>
<path d="M352.83 392.34L361.95 386.47L371.63 392.68L362.51 398.54Z" fill="#396ea3" stroke="#1c232c" stroke-width="1.0" stroke-linejoin="round"/>
<path d="M375.2 406.97L384.88 413.18L384.88 408.38L375.2 402.17Z" fill="#386c9e" stroke="#1c232c" stroke-width="1.0" stroke-linejoin="round"/>
<path d="M384.88 413.18L394 407.31L394 402.51L384.88 408.38Z" fill="#396da1" stroke="#1c232c" stroke-width="1.0" stroke-linejoin="round"/>
<path d="M375.2 402.17L384.32 396.31L394 402.51L384.88 408.38Z" fill="#3a6fa3" stroke="#1c232c" stroke-width="1.0" stroke-linejoin="round"/>
<path d="M397.57 407.38L407.25 413.59L407.25 408.04L397.57 401.84Z" fill="#386d9f" stroke="#1c232c" stroke-width="1.0" stroke-linejoin="round"/>
<path d="M407.25 413.59L416.37 407.72L416.37 402.18L407.25 408.04Z" fill="#396ea2" stroke="#1c232c" stroke-width="1.0" stroke-linejoin="round"/>
<path d="M397.57 401.84L406.69 395.97L416.37 402.18L407.25 408.04Z" fill="#3a70a4" stroke="#1c232c" stroke-width="1.0" stroke-linejoin="round"/>
<path d="M419.94 407.79L429.62 414L429.62 408.44L419.94 402.23Z" fill="#386ea0" stroke="#1c232c" stroke-width="1.0" stroke-linejoin="round"/>
<path d="M429.62 414L438.74 408.13L438.74 402.57L429.62 408.44Z" fill="#396fa3" stroke="#1c232c" stroke-width="1.0" stroke-linejoin="round"/>
<path d="M419.94 402.23L429.06 396.37L438.74 402.57L429.62 408.44Z" fill="#3a71a5" stroke="#1c232c" stroke-width="1.0" stroke-linejoin="round"/>
<path d="M442.31 408.2L451.99 414.41L451.99 400.41L442.31 394.2Z" fill="#396fa2" stroke="#1c232c" stroke-width="1.0" stroke-linejoin="round"/>
<path d="M451.99 414.41L461.11 408.54L461.11 394.54L451.99 400.41Z" fill="#3a70a4" stroke="#1c232c" stroke-width="1.0" stroke-linejoin="round"/>
<path d="M442.31 394.2L451.43 388.34L461.11 394.54L451.99 400.41Z" fill="#3b72a7" stroke="#1c232c" stroke-width="1.0" stroke-linejoin="round"/>
<path d="M464.68 408.61L474.36 414.82L474.36 402.39L464.68 396.18Z" fill="#3971a3" stroke="#1c232c" stroke-width="1.0" stroke-linejoin="round"/>
<path d="M474.36 414.82L483.48 408.95L483.48 396.52L474.36 402.39Z" fill="#3a72a5" stroke="#1c232c" stroke-width="1.0" stroke-linejoin="round"/>
<path d="M464.68 396.18L473.8 390.32L483.48 396.52L474.36 402.39Z" fill="#3b74a8" stroke="#1c232c" stroke-width="1.0" stroke-linejoin="round"/>
<path d="M487.05 409.02L496.73 415.23L496.73 403.16L487.05 396.96Z" fill="#3a71a4" stroke="#1c232c" stroke-width="1.0" stroke-linejoin="round"/>
<path d="M496.73 415.23L505.85 409.36L505.85 397.3L496.73 403.16Z" fill="#3b73a6" stroke="#1c232c" stroke-width="1.0" stroke-linejoin="round"/>
<path d="M487.05 396.96L496.17 391.09L505.85 397.3L496.73 403.16Z" fill="#3c75a9" stroke="#1c232c" stroke-width="1.0" stroke-linejoin="round"/>
<path d="M509.42 409.43L519.1 415.64L519.1 404.33L509.42 398.13Z" fill="#3b73a6" stroke="#1c232c" stroke-width="1.0" stroke-linejoin="round"/>
<path d="M519.1 415.64L528.22 409.77L528.22 398.47L519.1 404.33Z" fill="#3c75a8" stroke="#1c232c" stroke-width="1.0" stroke-linejoin="round"/>
<path d="M509.42 398.13L518.54 392.26L528.22 398.47L519.1 404.33Z" fill="#3d77ab" stroke="#1c232c" stroke-width="1.0" stroke-linejoin="round"/>
<path d="M531.79 409.84L541.47 416.05L541.47 405.66L531.79 399.45Z" fill="#3b75a7" stroke="#1c232c" stroke-width="1.0" stroke-linejoin="round"/>
<path d="M541.47 416.05L550.59 410.18L550.59 399.8L541.47 405.66Z" fill="#3c77a9" stroke="#1c232c" stroke-width="1.0" stroke-linejoin="round"/>
<path d="M531.79 399.45L540.91 393.59L550.59 399.8L541.47 405.66Z" fill="#3d79ac" stroke="#1c232c" stroke-width="1.0" stroke-linejoin="round"/>
<path d="M140.65 409.85L150.33 416.06L150.33 355.19L140.65 348.98Z" fill="#294881" stroke="#1c232c" stroke-width="1.0" stroke-linejoin="round"/>
<path d="M150.33 416.06L159.45 410.19L159.45 349.32L150.33 355.19Z" fill="#294983" stroke="#1c232c" stroke-width="1.0" stroke-linejoin="round"/>
<path d="M140.65 348.98L149.77 343.12L159.45 349.32L150.33 355.19Z" fill="#2a4a85" stroke="#1c232c" stroke-width="1.0" stroke-linejoin="round"/>
<path d="M163.02 410.26L172.7 416.47L172.7 386.65L163.02 380.44Z" fill="#294881" stroke="#1c232c" stroke-width="1.0" stroke-linejoin="round"/>
<path d="M172.7 416.47L181.82 410.6L181.82 380.79L172.7 386.65Z" fill="#294983" stroke="#1c232c" stroke-width="1.0" stroke-linejoin="round"/>
<path d="M163.02 380.44L172.14 374.58L181.82 380.79L172.7 386.65Z" fill="#2a4a85" stroke="#1c232c" stroke-width="1.0" stroke-linejoin="round"/>
<path d="M185.39 410.26L194.51 404.39L204.19 410.6L195.07 416.46Z" fill="#386ba0" stroke="#1c232c" stroke-width="1.0" stroke-linejoin="round"/>
<path d="M207.76 410.28L216.88 404.42L226.56 410.62L217.44 416.49Z" fill="#386ba0" stroke="#1c232c" stroke-width="1.0" stroke-linejoin="round"/>
<path d="M230.13 411.49L239.81 417.7L239.81 411.04L230.13 404.83Z" fill="#36689b" stroke="#1c232c" stroke-width="1.0" stroke-linejoin="round"/>
<path d="M239.81 417.7L248.93 411.83L248.93 405.18L239.81 411.04Z" fill="#37699e" stroke="#1c232c" stroke-width="1.0" stroke-linejoin="round"/>
<path d="M230.13 404.83L239.25 398.97L248.93 405.18L239.81 411.04Z" fill="#386ba0" stroke="#1c232c" stroke-width="1.0" stroke-linejoin="round"/>
<path d="M252.5 411.35L261.62 405.49L271.3 411.69L262.18 417.56Z" fill="#386ba0" stroke="#1c232c" stroke-width="1.0" stroke-linejoin="round"/>
<path d="M274.87 412.31L284.55 418.52L284.55 400.75L274.87 394.55Z" fill="#36699c" stroke="#1c232c" stroke-width="1.0" stroke-linejoin="round"/>
<path d="M284.55 418.52L293.67 412.65L293.67 394.89L284.55 400.75Z" fill="#376a9f" stroke="#1c232c" stroke-width="1.0" stroke-linejoin="round"/>
<path d="M274.87 394.55L283.99 388.68L293.67 394.89L284.55 400.75Z" fill="#386ca1" stroke="#1c232c" stroke-width="1.0" stroke-linejoin="round"/>
<path d="M297.24 412.72L306.92 418.93L306.92 402.62L297.24 396.41Z" fill="#36699c" stroke="#1c232c" stroke-width="1.0" stroke-linejoin="round"/>
<path d="M306.92 418.93L316.04 413.06L316.04 396.76L306.92 402.62Z" fill="#376a9f" stroke="#1c232c" stroke-width="1.0" stroke-linejoin="round"/>
<path d="M297.24 396.41L306.36 390.55L316.04 396.76L306.92 402.62Z" fill="#386ca1" stroke="#1c232c" stroke-width="1.0" stroke-linejoin="round"/>
<path d="M319.61 413.13L329.29 419.34L329.29 413.95L319.61 407.74Z" fill="#376a9c" stroke="#1c232c" stroke-width="1.0" stroke-linejoin="round"/>
<path d="M329.29 419.34L338.41 413.47L338.41 408.08L329.29 413.95Z" fill="#386b9f" stroke="#1c232c" stroke-width="1.0" stroke-linejoin="round"/>
<path d="M319.61 407.74L328.73 401.88L338.41 408.08L329.29 413.95Z" fill="#396da1" stroke="#1c232c" stroke-width="1.0" stroke-linejoin="round"/>
<path d="M341.98 413.54L351.66 419.75L351.66 402.58L341.98 396.37Z" fill="#376a9d" stroke="#1c232c" stroke-width="1.0" stroke-linejoin="round"/>
<path d="M351.66 419.75L360.78 413.88L360.78 396.71L351.66 402.58Z" fill="#386ba0" stroke="#1c232c" stroke-width="1.0" stroke-linejoin="round"/>
<path d="M341.98 396.37L351.1 390.51L360.78 396.71L351.66 402.58Z" fill="#396da2" stroke="#1c232c" stroke-width="1.0" stroke-linejoin="round"/>
<path d="M364.35 413.95L374.03 420.16L374.03 415.85L364.35 409.64Z" fill="#376b9e" stroke="#1c232c" stroke-width="1.0" stroke-linejoin="round"/>
<path d="M374.03 420.16L383.15 414.29L383.15 409.99L374.03 415.85Z" fill="#386ca1" stroke="#1c232c" stroke-width="1.0" stroke-linejoin="round"/>
<path d="M364.35 409.64L373.47 403.78L383.15 409.99L374.03 415.85Z" fill="#396ea3" stroke="#1c232c" stroke-width="1.0" stroke-linejoin="round"/>
<path d="M386.72 414.36L396.4 420.57L396.4 408.93L386.72 402.73Z" fill="#386c9e" stroke="#1c232c" stroke-width="1.0" stroke-linejoin="round"/>
<path d="M396.4 420.57L405.52 414.7L405.52 403.07L396.4 408.93Z" fill="#396da1" stroke="#1c232c" stroke-width="1.0" stroke-linejoin="round"/>
<path d="M386.72 402.73L395.84 396.86L405.52 403.07L396.4 408.93Z" fill="#3a6fa3" stroke="#1c232c" stroke-width="1.0" stroke-linejoin="round"/>
<path d="M409.09 414.77L418.77 420.98L418.77 408.96L409.09 402.75Z" fill="#386d9f" stroke="#1c232c" stroke-width="1.0" stroke-linejoin="round"/>
<path d="M418.77 420.98L427.89 415.11L427.89 403.1L418.77 408.96Z" fill="#396ea2" stroke="#1c232c" stroke-width="1.0" stroke-linejoin="round"/>
<path d="M409.09 402.75L418.21 396.89L427.89 403.1L418.77 408.96Z" fill="#3a70a4" stroke="#1c232c" stroke-width="1.0" stroke-linejoin="round"/>
<path d="M431.46 415.18L441.14 421.39L441.14 415.41L431.46 409.21Z" fill="#386ea0" stroke="#1c232c" stroke-width="1.0" stroke-linejoin="round"/>
<path d="M441.14 421.39L450.26 415.52L450.26 409.55L441.14 415.41Z" fill="#396fa3" stroke="#1c232c" stroke-width="1.0" stroke-linejoin="round"/>
<path d="M431.46 409.21L440.58 403.34L450.26 409.55L441.14 415.41Z" fill="#3a71a5" stroke="#1c232c" stroke-width="1.0" stroke-linejoin="round"/>
<path d="M453.83 415.59L463.51 421.8L463.51 416.41L453.83 410.2Z" fill="#396fa2" stroke="#1c232c" stroke-width="1.0" stroke-linejoin="round"/>
<path d="M463.51 421.8L472.63 415.93L472.63 410.54L463.51 416.41Z" fill="#3a70a4" stroke="#1c232c" stroke-width="1.0" stroke-linejoin="round"/>
<path d="M453.83 410.2L462.95 404.34L472.63 410.54L463.51 416.41Z" fill="#3b72a7" stroke="#1c232c" stroke-width="1.0" stroke-linejoin="round"/>
<path d="M476.2 416L485.88 422.21L485.88 409.82L476.2 403.61Z" fill="#3971a3" stroke="#1c232c" stroke-width="1.0" stroke-linejoin="round"/>
<path d="M485.88 422.21L495 416.34L495 403.96L485.88 409.82Z" fill="#3a72a5" stroke="#1c232c" stroke-width="1.0" stroke-linejoin="round"/>
<path d="M476.2 403.61L485.32 397.75L495 403.96L485.88 409.82Z" fill="#3b74a8" stroke="#1c232c" stroke-width="1.0" stroke-linejoin="round"/>
<path d="M498.57 416.41L508.25 422.62L508.25 414.95L498.57 408.75Z" fill="#3a71a4" stroke="#1c232c" stroke-width="1.0" stroke-linejoin="round"/>
<path d="M508.25 422.62L517.37 416.75L517.37 409.09L508.25 414.95Z" fill="#3b73a6" stroke="#1c232c" stroke-width="1.0" stroke-linejoin="round"/>
<path d="M498.57 408.75L507.69 402.88L517.37 409.09L508.25 414.95Z" fill="#3c75a9" stroke="#1c232c" stroke-width="1.0" stroke-linejoin="round"/>
<path d="M520.94 416.82L530.62 423.03L530.62 419.17L520.94 412.97Z" fill="#3b73a6" stroke="#1c232c" stroke-width="1.0" stroke-linejoin="round"/>
<path d="M530.62 423.03L539.74 417.16L539.74 413.31L530.62 419.17Z" fill="#3c75a8" stroke="#1c232c" stroke-width="1.0" stroke-linejoin="round"/>
<path d="M520.94 412.97L530.06 407.1L539.74 413.31L530.62 419.17Z" fill="#3d77ab" stroke="#1c232c" stroke-width="1.0" stroke-linejoin="round"/>
<path d="M152.17 417.24L161.85 423.45L161.85 394.59L152.17 388.38Z" fill="#294881" stroke="#1c232c" stroke-width="1.0" stroke-linejoin="round"/>
<path d="M161.85 423.45L170.97 417.58L170.97 388.73L161.85 394.59Z" fill="#294983" stroke="#1c232c" stroke-width="1.0" stroke-linejoin="round"/>
<path d="M152.17 388.38L161.29 382.52L170.97 388.73L161.85 394.59Z" fill="#2a4a85" stroke="#1c232c" stroke-width="1.0" stroke-linejoin="round"/>
<path d="M174.54 417.65L184.22 423.86L184.22 391.15L174.54 384.95Z" fill="#294881" stroke="#1c232c" stroke-width="1.0" stroke-linejoin="round"/>
<path d="M184.22 423.86L193.34 417.99L193.34 385.29L184.22 391.15Z" fill="#294983" stroke="#1c232c" stroke-width="1.0" stroke-linejoin="round"/>
<path d="M174.54 384.95L183.66 379.08L193.34 385.29L184.22 391.15Z" fill="#2a4a85" stroke="#1c232c" stroke-width="1.0" stroke-linejoin="round"/>
<path d="M196.91 418.06L206.59 424.27L206.59 423.15L196.91 416.94Z" fill="#36689b" stroke="#1c232c" stroke-width="1.0" stroke-linejoin="round"/>
<path d="M206.59 424.27L215.71 418.4L215.71 417.28L206.59 423.15Z" fill="#37699e" stroke="#1c232c" stroke-width="1.0" stroke-linejoin="round"/>
<path d="M196.91 416.94L206.03 411.08L215.71 417.28L206.59 423.15Z" fill="#386ba0" stroke="#1c232c" stroke-width="1.0" stroke-linejoin="round"/>
<path d="M219.28 418.47L228.96 424.68L228.96 420.67L219.28 414.46Z" fill="#36689b" stroke="#1c232c" stroke-width="1.0" stroke-linejoin="round"/>
<path d="M228.96 424.68L238.08 418.81L238.08 414.8L228.96 420.67Z" fill="#37699e" stroke="#1c232c" stroke-width="1.0" stroke-linejoin="round"/>
<path d="M219.28 414.46L228.4 408.59L238.08 414.8L228.96 420.67Z" fill="#386ba0" stroke="#1c232c" stroke-width="1.0" stroke-linejoin="round"/>
<path d="M241.65 418.88L251.33 425.09L251.33 416.29L241.65 410.08Z" fill="#36689b" stroke="#1c232c" stroke-width="1.0" stroke-linejoin="round"/>
<path d="M251.33 425.09L260.45 419.22L260.45 410.43L251.33 416.29Z" fill="#37699e" stroke="#1c232c" stroke-width="1.0" stroke-linejoin="round"/>
<path d="M241.65 410.08L250.77 404.22L260.45 410.43L251.33 416.29Z" fill="#386ba0" stroke="#1c232c" stroke-width="1.0" stroke-linejoin="round"/>
<path d="M264.02 419.29L273.7 425.5L273.7 408.88L264.02 402.67Z" fill="#36689b" stroke="#1c232c" stroke-width="1.0" stroke-linejoin="round"/>
<path d="M273.7 425.5L282.82 419.63L282.82 403.02L273.7 408.88Z" fill="#37699e" stroke="#1c232c" stroke-width="1.0" stroke-linejoin="round"/>
<path d="M264.02 402.67L273.14 396.81L282.82 403.02L273.7 408.88Z" fill="#386ba0" stroke="#1c232c" stroke-width="1.0" stroke-linejoin="round"/>
<path d="M286.39 419.7L296.07 425.91L296.07 410.83L286.39 404.62Z" fill="#36699c" stroke="#1c232c" stroke-width="1.0" stroke-linejoin="round"/>
<path d="M296.07 425.91L305.19 420.04L305.19 404.96L296.07 410.83Z" fill="#376a9f" stroke="#1c232c" stroke-width="1.0" stroke-linejoin="round"/>
<path d="M286.39 404.62L295.51 398.76L305.19 404.96L296.07 410.83Z" fill="#386ca1" stroke="#1c232c" stroke-width="1.0" stroke-linejoin="round"/>
<path d="M308.76 420.11L318.44 426.32L318.44 410.84L308.76 404.63Z" fill="#36699c" stroke="#1c232c" stroke-width="1.0" stroke-linejoin="round"/>
<path d="M318.44 426.32L327.56 420.45L327.56 404.98L318.44 410.84Z" fill="#376a9f" stroke="#1c232c" stroke-width="1.0" stroke-linejoin="round"/>
<path d="M308.76 404.63L317.88 398.77L327.56 404.98L318.44 410.84Z" fill="#386ca1" stroke="#1c232c" stroke-width="1.0" stroke-linejoin="round"/>
<path d="M331.13 420.52L340.81 426.73L340.81 421.85L331.13 415.64Z" fill="#376a9c" stroke="#1c232c" stroke-width="1.0" stroke-linejoin="round"/>
<path d="M340.81 426.73L349.93 420.86L349.93 415.99L340.81 421.85Z" fill="#386b9f" stroke="#1c232c" stroke-width="1.0" stroke-linejoin="round"/>
<path d="M331.13 415.64L340.25 409.78L349.93 415.99L340.81 421.85Z" fill="#396da1" stroke="#1c232c" stroke-width="1.0" stroke-linejoin="round"/>
<path d="M353.5 420.93L363.18 427.14L363.18 414.35L353.5 408.14Z" fill="#376a9d" stroke="#1c232c" stroke-width="1.0" stroke-linejoin="round"/>
<path d="M363.18 427.14L372.3 421.27L372.3 408.48L363.18 414.35Z" fill="#386ba0" stroke="#1c232c" stroke-width="1.0" stroke-linejoin="round"/>
<path d="M353.5 408.14L362.62 402.28L372.3 408.48L363.18 414.35Z" fill="#396da2" stroke="#1c232c" stroke-width="1.0" stroke-linejoin="round"/>
<path d="M375.87 421.34L385.55 427.55L385.55 412.03L375.87 405.82Z" fill="#376b9e" stroke="#1c232c" stroke-width="1.0" stroke-linejoin="round"/>
<path d="M385.55 427.55L394.67 421.68L394.67 406.16L385.55 412.03Z" fill="#386ca1" stroke="#1c232c" stroke-width="1.0" stroke-linejoin="round"/>
<path d="M375.87 405.82L384.99 399.95L394.67 406.16L385.55 412.03Z" fill="#396ea3" stroke="#1c232c" stroke-width="1.0" stroke-linejoin="round"/>
<path d="M398.24 421.75L407.92 427.96L407.92 417.45L398.24 411.24Z" fill="#386c9e" stroke="#1c232c" stroke-width="1.0" stroke-linejoin="round"/>
<path d="M407.92 427.96L417.04 422.09L417.04 411.58L407.92 417.45Z" fill="#396da1" stroke="#1c232c" stroke-width="1.0" stroke-linejoin="round"/>
<path d="M398.24 411.24L407.36 405.37L417.04 411.58L407.92 417.45Z" fill="#3a6fa3" stroke="#1c232c" stroke-width="1.0" stroke-linejoin="round"/>
<path d="M420.61 422.16L430.29 428.37L430.29 415.25L420.61 409.04Z" fill="#386d9f" stroke="#1c232c" stroke-width="1.0" stroke-linejoin="round"/>
<path d="M430.29 428.37L439.41 422.5L439.41 409.39L430.29 415.25Z" fill="#396ea2" stroke="#1c232c" stroke-width="1.0" stroke-linejoin="round"/>
<path d="M420.61 409.04L429.73 403.18L439.41 409.39L430.29 415.25Z" fill="#3a70a4" stroke="#1c232c" stroke-width="1.0" stroke-linejoin="round"/>
<path d="M442.98 422.57L452.66 428.78L452.66 420.98L442.98 414.77Z" fill="#386ea0" stroke="#1c232c" stroke-width="1.0" stroke-linejoin="round"/>
<path d="M452.66 428.78L461.78 422.91L461.78 415.12L452.66 420.98Z" fill="#396fa3" stroke="#1c232c" stroke-width="1.0" stroke-linejoin="round"/>
<path d="M442.98 414.77L452.1 408.91L461.78 415.12L452.66 420.98Z" fill="#3a71a5" stroke="#1c232c" stroke-width="1.0" stroke-linejoin="round"/>
<path d="M465.35 422.98L475.03 429.19L475.03 416.61L465.35 410.41Z" fill="#396fa2" stroke="#1c232c" stroke-width="1.0" stroke-linejoin="round"/>
<path d="M475.03 429.19L484.15 423.32L484.15 410.75L475.03 416.61Z" fill="#3a70a4" stroke="#1c232c" stroke-width="1.0" stroke-linejoin="round"/>
<path d="M465.35 410.41L474.47 404.54L484.15 410.75L475.03 416.61Z" fill="#3b72a7" stroke="#1c232c" stroke-width="1.0" stroke-linejoin="round"/>
<path d="M487.72 423.39L497.4 429.6L497.4 422.23L487.72 416.02Z" fill="#3971a3" stroke="#1c232c" stroke-width="1.0" stroke-linejoin="round"/>
<path d="M497.4 429.6L506.52 423.73L506.52 416.37L497.4 422.23Z" fill="#3a72a5" stroke="#1c232c" stroke-width="1.0" stroke-linejoin="round"/>
<path d="M487.72 416.02L496.84 410.16L506.52 416.37L497.4 422.23Z" fill="#3b74a8" stroke="#1c232c" stroke-width="1.0" stroke-linejoin="round"/>
<path d="M510.09 423.8L519.77 430.01L519.77 420.07L510.09 413.87Z" fill="#3a71a4" stroke="#1c232c" stroke-width="1.0" stroke-linejoin="round"/>
<path d="M519.77 430.01L528.89 424.14L528.89 414.21L519.77 420.07Z" fill="#3b73a6" stroke="#1c232c" stroke-width="1.0" stroke-linejoin="round"/>
<path d="M510.09 413.87L519.21 408L528.89 414.21L519.77 420.07Z" fill="#3c75a9" stroke="#1c232c" stroke-width="1.0" stroke-linejoin="round"/>
<path d="M163.69 424.63L173.37 430.84L173.37 398.27L163.69 392.06Z" fill="#294881" stroke="#1c232c" stroke-width="1.0" stroke-linejoin="round"/>
<path d="M173.37 430.84L182.49 424.97L182.49 392.41L173.37 398.27Z" fill="#294983" stroke="#1c232c" stroke-width="1.0" stroke-linejoin="round"/>
<path d="M163.69 392.06L172.81 386.2L182.49 392.41L173.37 398.27Z" fill="#2a4a85" stroke="#1c232c" stroke-width="1.0" stroke-linejoin="round"/>
<path d="M186.06 425.04L195.74 431.25L195.74 429.05L186.06 422.84Z" fill="#294881" stroke="#1c232c" stroke-width="1.0" stroke-linejoin="round"/>
<path d="M195.74 431.25L204.86 425.38L204.86 423.18L195.74 429.05Z" fill="#294983" stroke="#1c232c" stroke-width="1.0" stroke-linejoin="round"/>
<path d="M186.06 422.84L195.18 416.98L204.86 423.18L195.74 429.05Z" fill="#2a4a85" stroke="#1c232c" stroke-width="1.0" stroke-linejoin="round"/>
<path d="M208.43 425.45L218.11 431.66L218.11 426.68L208.43 420.47Z" fill="#36689b" stroke="#1c232c" stroke-width="1.0" stroke-linejoin="round"/>
<path d="M218.11 431.66L227.23 425.79L227.23 420.81L218.11 426.68Z" fill="#37699e" stroke="#1c232c" stroke-width="1.0" stroke-linejoin="round"/>
<path d="M208.43 420.47L217.55 414.61L227.23 420.81L218.11 426.68Z" fill="#386ba0" stroke="#1c232c" stroke-width="1.0" stroke-linejoin="round"/>
<path d="M230.8 425.86L240.48 432.07L240.48 427.97L230.8 421.76Z" fill="#36689b" stroke="#1c232c" stroke-width="1.0" stroke-linejoin="round"/>
<path d="M240.48 432.07L249.6 426.2L249.6 422.1L240.48 427.97Z" fill="#37699e" stroke="#1c232c" stroke-width="1.0" stroke-linejoin="round"/>
<path d="M230.8 421.76L239.92 415.9L249.6 422.1L240.48 427.97Z" fill="#386ba0" stroke="#1c232c" stroke-width="1.0" stroke-linejoin="round"/>
<path d="M253.17 426.27L262.85 432.48L262.85 427.04L253.17 420.83Z" fill="#36689b" stroke="#1c232c" stroke-width="1.0" stroke-linejoin="round"/>
<path d="M262.85 432.48L271.97 426.61L271.97 421.18L262.85 427.04Z" fill="#37699e" stroke="#1c232c" stroke-width="1.0" stroke-linejoin="round"/>
<path d="M253.17 420.83L262.29 414.97L271.97 421.18L262.85 427.04Z" fill="#386ba0" stroke="#1c232c" stroke-width="1.0" stroke-linejoin="round"/>
<path d="M275.54 426.68L285.22 432.89L285.22 428.64L275.54 422.43Z" fill="#36689b" stroke="#1c232c" stroke-width="1.0" stroke-linejoin="round"/>
<path d="M285.22 432.89L294.34 427.02L294.34 422.77L285.22 428.64Z" fill="#37699e" stroke="#1c232c" stroke-width="1.0" stroke-linejoin="round"/>
<path d="M275.54 422.43L284.66 416.56L294.34 422.77L285.22 428.64Z" fill="#386ba0" stroke="#1c232c" stroke-width="1.0" stroke-linejoin="round"/>
<path d="M297.91 427.09L307.59 433.3L307.59 423.31L297.91 417.1Z" fill="#36699c" stroke="#1c232c" stroke-width="1.0" stroke-linejoin="round"/>
<path d="M307.59 433.3L316.71 427.43L316.71 417.45L307.59 423.31Z" fill="#376a9f" stroke="#1c232c" stroke-width="1.0" stroke-linejoin="round"/>
<path d="M297.91 417.1L307.03 411.24L316.71 417.45L307.59 423.31Z" fill="#386ca1" stroke="#1c232c" stroke-width="1.0" stroke-linejoin="round"/>
<path d="M320.28 427.5L329.96 433.71L329.96 421.36L320.28 415.15Z" fill="#36699c" stroke="#1c232c" stroke-width="1.0" stroke-linejoin="round"/>
<path d="M329.96 433.71L339.08 427.84L339.08 415.5L329.96 421.36Z" fill="#376a9f" stroke="#1c232c" stroke-width="1.0" stroke-linejoin="round"/>
<path d="M320.28 415.15L329.4 409.29L339.08 415.5L329.96 421.36Z" fill="#386ca1" stroke="#1c232c" stroke-width="1.0" stroke-linejoin="round"/>
<path d="M342.65 427.91L352.33 434.12L352.33 423.7L342.65 417.49Z" fill="#376a9c" stroke="#1c232c" stroke-width="1.0" stroke-linejoin="round"/>
<path d="M352.33 434.12L361.45 428.25L361.45 417.84L352.33 423.7Z" fill="#386b9f" stroke="#1c232c" stroke-width="1.0" stroke-linejoin="round"/>
<path d="M342.65 417.49L351.77 411.63L361.45 417.84L352.33 423.7Z" fill="#396da1" stroke="#1c232c" stroke-width="1.0" stroke-linejoin="round"/>
<path d="M365.02 428.32L374.7 434.53L374.7 427.45L365.02 421.24Z" fill="#376a9d" stroke="#1c232c" stroke-width="1.0" stroke-linejoin="round"/>
<path d="M374.7 434.53L383.82 428.66L383.82 421.59L374.7 427.45Z" fill="#386ba0" stroke="#1c232c" stroke-width="1.0" stroke-linejoin="round"/>
<path d="M365.02 421.24L374.14 415.38L383.82 421.59L374.7 427.45Z" fill="#396da2" stroke="#1c232c" stroke-width="1.0" stroke-linejoin="round"/>
<path d="M387.39 428.73L397.07 434.94L397.07 429.21L387.39 423Z" fill="#376b9e" stroke="#1c232c" stroke-width="1.0" stroke-linejoin="round"/>
<path d="M397.07 434.94L406.19 429.07L406.19 423.34L397.07 429.21Z" fill="#386ca1" stroke="#1c232c" stroke-width="1.0" stroke-linejoin="round"/>
<path d="M387.39 423L396.51 417.14L406.19 423.34L397.07 429.21Z" fill="#396ea3" stroke="#1c232c" stroke-width="1.0" stroke-linejoin="round"/>
<path d="M409.76 429.14L419.44 435.35L419.44 430.57L409.76 424.36Z" fill="#386c9e" stroke="#1c232c" stroke-width="1.0" stroke-linejoin="round"/>
<path d="M419.44 435.35L428.56 429.48L428.56 424.71L419.44 430.57Z" fill="#396da1" stroke="#1c232c" stroke-width="1.0" stroke-linejoin="round"/>
<path d="M409.76 424.36L418.88 418.5L428.56 424.71L419.44 430.57Z" fill="#3a6fa3" stroke="#1c232c" stroke-width="1.0" stroke-linejoin="round"/>
<path d="M432.13 429.55L441.81 435.76L441.81 431.72L432.13 425.51Z" fill="#386d9f" stroke="#1c232c" stroke-width="1.0" stroke-linejoin="round"/>
<path d="M441.81 435.76L450.93 429.89L450.93 425.85L441.81 431.72Z" fill="#396ea2" stroke="#1c232c" stroke-width="1.0" stroke-linejoin="round"/>
<path d="M432.13 425.51L441.25 419.64L450.93 425.85L441.81 431.72Z" fill="#3a70a4" stroke="#1c232c" stroke-width="1.0" stroke-linejoin="round"/>
<path d="M454.5 429.96L464.18 436.17L464.18 422.27L454.5 416.06Z" fill="#386ea0" stroke="#1c232c" stroke-width="1.0" stroke-linejoin="round"/>
<path d="M464.18 436.17L473.3 430.3L473.3 416.4L464.18 422.27Z" fill="#396fa3" stroke="#1c232c" stroke-width="1.0" stroke-linejoin="round"/>
<path d="M454.5 416.06L463.62 410.2L473.3 416.4L464.18 422.27Z" fill="#3a71a5" stroke="#1c232c" stroke-width="1.0" stroke-linejoin="round"/>
<path d="M476.87 430.37L486.55 436.58L486.55 423.15L476.87 416.94Z" fill="#396fa2" stroke="#1c232c" stroke-width="1.0" stroke-linejoin="round"/>
<path d="M486.55 436.58L495.67 430.71L495.67 417.28L486.55 423.15Z" fill="#3a70a4" stroke="#1c232c" stroke-width="1.0" stroke-linejoin="round"/>
<path d="M476.87 416.94L485.99 411.08L495.67 417.28L486.55 423.15Z" fill="#3b72a7" stroke="#1c232c" stroke-width="1.0" stroke-linejoin="round"/>
<path d="M499.24 430.78L508.92 436.99L508.92 431.22L499.24 425.01Z" fill="#3971a3" stroke="#1c232c" stroke-width="1.0" stroke-linejoin="round"/>
<path d="M508.92 436.99L518.04 431.12L518.04 425.36L508.92 431.22Z" fill="#3a72a5" stroke="#1c232c" stroke-width="1.0" stroke-linejoin="round"/>
<path d="M499.24 425.01L508.36 419.15L518.04 425.36L508.92 431.22Z" fill="#3b74a8" stroke="#1c232c" stroke-width="1.0" stroke-linejoin="round"/>
<path d="M175.21 432.02L184.89 438.23L184.89 436.03L175.21 429.82Z" fill="#294881" stroke="#1c232c" stroke-width="1.0" stroke-linejoin="round"/>
<path d="M184.89 438.23L194.01 432.36L194.01 430.16L184.89 436.03Z" fill="#294983" stroke="#1c232c" stroke-width="1.0" stroke-linejoin="round"/>
<path d="M175.21 429.82L184.33 423.96L194.01 430.16L184.89 436.03Z" fill="#2a4a85" stroke="#1c232c" stroke-width="1.0" stroke-linejoin="round"/>
<path d="M197.58 432.43L207.26 438.64L207.26 436.9L197.58 430.7Z" fill="#294881" stroke="#1c232c" stroke-width="1.0" stroke-linejoin="round"/>
<path d="M207.26 438.64L216.38 432.77L216.38 431.04L207.26 436.9Z" fill="#294983" stroke="#1c232c" stroke-width="1.0" stroke-linejoin="round"/>
<path d="M197.58 430.7L206.7 424.83L216.38 431.04L207.26 436.9Z" fill="#2a4a85" stroke="#1c232c" stroke-width="1.0" stroke-linejoin="round"/>
<path d="M219.95 432.84L229.63 439.05L229.63 434.39L219.95 428.19Z" fill="#36689b" stroke="#1c232c" stroke-width="1.0" stroke-linejoin="round"/>
<path d="M229.63 439.05L238.75 433.18L238.75 428.53L229.63 434.39Z" fill="#37699e" stroke="#1c232c" stroke-width="1.0" stroke-linejoin="round"/>
<path d="M219.95 428.19L229.07 422.32L238.75 428.53L229.63 434.39Z" fill="#386ba0" stroke="#1c232c" stroke-width="1.0" stroke-linejoin="round"/>
<path d="M242.32 433.25L252 439.46L252 427.98L242.32 421.77Z" fill="#36689b" stroke="#1c232c" stroke-width="1.0" stroke-linejoin="round"/>
<path d="M252 439.46L261.12 433.59L261.12 422.12L252 427.98Z" fill="#37699e" stroke="#1c232c" stroke-width="1.0" stroke-linejoin="round"/>
<path d="M242.32 421.77L251.44 415.91L261.12 422.12L252 427.98Z" fill="#386ba0" stroke="#1c232c" stroke-width="1.0" stroke-linejoin="round"/>
<path d="M264.69 433.66L274.37 439.87L274.37 429.47L264.69 423.27Z" fill="#36689b" stroke="#1c232c" stroke-width="1.0" stroke-linejoin="round"/>
<path d="M274.37 439.87L283.49 434L283.49 423.61L274.37 429.47Z" fill="#37699e" stroke="#1c232c" stroke-width="1.0" stroke-linejoin="round"/>
<path d="M264.69 423.27L273.81 417.4L283.49 423.61L274.37 429.47Z" fill="#386ba0" stroke="#1c232c" stroke-width="1.0" stroke-linejoin="round"/>
<path d="M287.06 434.07L296.74 440.28L296.74 423.32L287.06 417.11Z" fill="#36689b" stroke="#1c232c" stroke-width="1.0" stroke-linejoin="round"/>
<path d="M296.74 440.28L305.86 434.41L305.86 417.45L296.74 423.32Z" fill="#37699e" stroke="#1c232c" stroke-width="1.0" stroke-linejoin="round"/>
<path d="M287.06 417.11L296.18 411.25L305.86 417.45L296.74 423.32Z" fill="#386ba0" stroke="#1c232c" stroke-width="1.0" stroke-linejoin="round"/>
<path d="M309.43 434.48L319.11 440.69L319.11 433.14L309.43 426.93Z" fill="#36699c" stroke="#1c232c" stroke-width="1.0" stroke-linejoin="round"/>
<path d="M319.11 440.69L328.23 434.82L328.23 427.27L319.11 433.14Z" fill="#376a9f" stroke="#1c232c" stroke-width="1.0" stroke-linejoin="round"/>
<path d="M309.43 426.93L318.55 421.06L328.23 427.27L319.11 433.14Z" fill="#386ca1" stroke="#1c232c" stroke-width="1.0" stroke-linejoin="round"/>
<path d="M331.8 434.89L341.48 441.1L341.48 431.11L331.8 424.91Z" fill="#36699c" stroke="#1c232c" stroke-width="1.0" stroke-linejoin="round"/>
<path d="M341.48 441.1L350.6 435.23L350.6 425.25L341.48 431.11Z" fill="#376a9f" stroke="#1c232c" stroke-width="1.0" stroke-linejoin="round"/>
<path d="M331.8 424.91L340.92 419.04L350.6 425.25L341.48 431.11Z" fill="#386ca1" stroke="#1c232c" stroke-width="1.0" stroke-linejoin="round"/>
<path d="M354.17 435.3L363.85 441.51L363.85 434.62L354.17 428.41Z" fill="#376a9c" stroke="#1c232c" stroke-width="1.0" stroke-linejoin="round"/>
<path d="M363.85 441.51L372.97 435.64L372.97 428.75L363.85 434.62Z" fill="#386b9f" stroke="#1c232c" stroke-width="1.0" stroke-linejoin="round"/>
<path d="M354.17 428.41L363.29 422.55L372.97 428.75L363.85 434.62Z" fill="#396da1" stroke="#1c232c" stroke-width="1.0" stroke-linejoin="round"/>
<path d="M376.54 435.71L386.22 441.92L386.22 436.85L376.54 430.65Z" fill="#376a9d" stroke="#1c232c" stroke-width="1.0" stroke-linejoin="round"/>
<path d="M386.22 441.92L395.34 436.05L395.34 430.99L386.22 436.85Z" fill="#386ba0" stroke="#1c232c" stroke-width="1.0" stroke-linejoin="round"/>
<path d="M376.54 430.65L385.66 424.78L395.34 430.99L386.22 436.85Z" fill="#396da2" stroke="#1c232c" stroke-width="1.0" stroke-linejoin="round"/>
<path d="M398.91 436.12L408.59 442.33L408.59 427.7L398.91 421.49Z" fill="#376b9e" stroke="#1c232c" stroke-width="1.0" stroke-linejoin="round"/>
<path d="M408.59 442.33L417.71 436.46L417.71 421.83L408.59 427.7Z" fill="#386ca1" stroke="#1c232c" stroke-width="1.0" stroke-linejoin="round"/>
<path d="M398.91 421.49L408.03 415.63L417.71 421.83L408.59 427.7Z" fill="#396ea3" stroke="#1c232c" stroke-width="1.0" stroke-linejoin="round"/>
<path d="M421.28 436.53L430.96 442.74L430.96 430.72L421.28 424.51Z" fill="#386c9e" stroke="#1c232c" stroke-width="1.0" stroke-linejoin="round"/>
<path d="M430.96 442.74L440.08 436.87L440.08 424.86L430.96 430.72Z" fill="#396da1" stroke="#1c232c" stroke-width="1.0" stroke-linejoin="round"/>
<path d="M421.28 424.51L430.4 418.65L440.08 424.86L430.96 430.72Z" fill="#3a6fa3" stroke="#1c232c" stroke-width="1.0" stroke-linejoin="round"/>
<path d="M443.65 436.94L453.33 443.15L453.33 430.04L443.65 423.83Z" fill="#386d9f" stroke="#1c232c" stroke-width="1.0" stroke-linejoin="round"/>
<path d="M453.33 443.15L462.45 437.28L462.45 424.17L453.33 430.04Z" fill="#396ea2" stroke="#1c232c" stroke-width="1.0" stroke-linejoin="round"/>
<path d="M443.65 423.83L452.77 417.97L462.45 424.17L453.33 430.04Z" fill="#3a70a4" stroke="#1c232c" stroke-width="1.0" stroke-linejoin="round"/>
<path d="M466.02 437.35L475.7 443.56L475.7 425.3L466.02 419.09Z" fill="#386ea0" stroke="#1c232c" stroke-width="1.0" stroke-linejoin="round"/>
<path d="M475.7 443.56L484.82 437.69L484.82 419.43L475.7 425.3Z" fill="#396fa3" stroke="#1c232c" stroke-width="1.0" stroke-linejoin="round"/>
<path d="M466.02 419.09L475.14 413.23L484.82 419.43L475.7 425.3Z" fill="#3a71a5" stroke="#1c232c" stroke-width="1.0" stroke-linejoin="round"/>
<path d="M488.39 437.76L498.07 443.97L498.07 438.06L488.39 431.86Z" fill="#396fa2" stroke="#1c232c" stroke-width="1.0" stroke-linejoin="round"/>
<path d="M498.07 443.97L507.19 438.1L507.19 432.2L498.07 438.06Z" fill="#3a70a4" stroke="#1c232c" stroke-width="1.0" stroke-linejoin="round"/>
<path d="M488.39 431.86L497.51 425.99L507.19 432.2L498.07 438.06Z" fill="#3b72a7" stroke="#1c232c" stroke-width="1.0" stroke-linejoin="round"/>
<path d="M186.73 439.41L196.41 445.62L196.41 443.88L186.73 437.68Z" fill="#294881" stroke="#1c232c" stroke-width="1.0" stroke-linejoin="round"/>
<path d="M196.41 445.62L205.53 439.75L205.53 438.02L196.41 443.88Z" fill="#294983" stroke="#1c232c" stroke-width="1.0" stroke-linejoin="round"/>
<path d="M186.73 437.68L195.85 431.81L205.53 438.02L196.41 443.88Z" fill="#2a4a85" stroke="#1c232c" stroke-width="1.0" stroke-linejoin="round"/>
<path d="M209.1 439.82L218.78 446.03L218.78 444.63L209.1 438.42Z" fill="#294881" stroke="#1c232c" stroke-width="1.0" stroke-linejoin="round"/>
<path d="M218.78 446.03L227.9 440.16L227.9 438.77L218.78 444.63Z" fill="#294983" stroke="#1c232c" stroke-width="1.0" stroke-linejoin="round"/>
<path d="M209.1 438.42L218.22 432.56L227.9 438.77L218.78 444.63Z" fill="#2a4a85" stroke="#1c232c" stroke-width="1.0" stroke-linejoin="round"/>
<path d="M231.47 440.23L241.15 446.44L241.15 436.12L231.47 429.91Z" fill="#36689b" stroke="#1c232c" stroke-width="1.0" stroke-linejoin="round"/>
<path d="M241.15 446.44L250.27 440.57L250.27 430.26L241.15 436.12Z" fill="#37699e" stroke="#1c232c" stroke-width="1.0" stroke-linejoin="round"/>
<path d="M231.47 429.91L240.59 424.05L250.27 430.26L241.15 436.12Z" fill="#386ba0" stroke="#1c232c" stroke-width="1.0" stroke-linejoin="round"/>
<path d="M253.84 440.64L263.52 446.85L263.52 438.92L253.84 432.71Z" fill="#36689b" stroke="#1c232c" stroke-width="1.0" stroke-linejoin="round"/>
<path d="M263.52 446.85L272.64 440.98L272.64 433.06L263.52 438.92Z" fill="#37699e" stroke="#1c232c" stroke-width="1.0" stroke-linejoin="round"/>
<path d="M253.84 432.71L262.96 426.85L272.64 433.06L263.52 438.92Z" fill="#386ba0" stroke="#1c232c" stroke-width="1.0" stroke-linejoin="round"/>
<path d="M276.21 441.05L285.89 447.26L285.89 431.7L276.21 425.5Z" fill="#36689b" stroke="#1c232c" stroke-width="1.0" stroke-linejoin="round"/>
<path d="M285.89 447.26L295.01 441.39L295.01 425.84L285.89 431.7Z" fill="#37699e" stroke="#1c232c" stroke-width="1.0" stroke-linejoin="round"/>
<path d="M276.21 425.5L285.33 419.63L295.01 425.84L285.89 431.7Z" fill="#386ba0" stroke="#1c232c" stroke-width="1.0" stroke-linejoin="round"/>
<path d="M298.58 441.46L308.26 447.67L308.26 439.82L298.58 433.61Z" fill="#36689b" stroke="#1c232c" stroke-width="1.0" stroke-linejoin="round"/>
<path d="M308.26 447.67L317.38 441.8L317.38 433.96L308.26 439.82Z" fill="#37699e" stroke="#1c232c" stroke-width="1.0" stroke-linejoin="round"/>
<path d="M298.58 433.61L307.7 427.75L317.38 433.96L308.26 439.82Z" fill="#386ba0" stroke="#1c232c" stroke-width="1.0" stroke-linejoin="round"/>
<path d="M320.95 441.87L330.63 448.08L330.63 442.54L320.95 436.33Z" fill="#36699c" stroke="#1c232c" stroke-width="1.0" stroke-linejoin="round"/>
<path d="M330.63 448.08L339.75 442.21L339.75 436.68L330.63 442.54Z" fill="#376a9f" stroke="#1c232c" stroke-width="1.0" stroke-linejoin="round"/>
<path d="M320.95 436.33L330.07 430.47L339.75 436.68L330.63 442.54Z" fill="#386ca1" stroke="#1c232c" stroke-width="1.0" stroke-linejoin="round"/>
<path d="M343.32 442.28L353 448.49L353 441.92L343.32 435.71Z" fill="#36699c" stroke="#1c232c" stroke-width="1.0" stroke-linejoin="round"/>
<path d="M353 448.49L362.12 442.62L362.12 436.06L353 441.92Z" fill="#376a9f" stroke="#1c232c" stroke-width="1.0" stroke-linejoin="round"/>
<path d="M343.32 435.71L352.44 429.85L362.12 436.06L353 441.92Z" fill="#386ca1" stroke="#1c232c" stroke-width="1.0" stroke-linejoin="round"/>
<path d="M365.69 442.69L375.37 448.9L375.37 443.27L365.69 437.06Z" fill="#376a9c" stroke="#1c232c" stroke-width="1.0" stroke-linejoin="round"/>
<path d="M375.37 448.9L384.49 443.03L384.49 437.41L375.37 443.27Z" fill="#386b9f" stroke="#1c232c" stroke-width="1.0" stroke-linejoin="round"/>
<path d="M365.69 437.06L374.81 431.2L384.49 437.41L375.37 443.27Z" fill="#396da1" stroke="#1c232c" stroke-width="1.0" stroke-linejoin="round"/>
<path d="M388.06 443.1L397.74 449.31L397.74 441.22L388.06 435.01Z" fill="#376a9d" stroke="#1c232c" stroke-width="1.0" stroke-linejoin="round"/>
<path d="M397.74 449.31L406.86 443.44L406.86 435.35L397.74 441.22Z" fill="#386ba0" stroke="#1c232c" stroke-width="1.0" stroke-linejoin="round"/>
<path d="M388.06 435.01L397.18 429.14L406.86 435.35L397.74 441.22Z" fill="#396da2" stroke="#1c232c" stroke-width="1.0" stroke-linejoin="round"/>
<path d="M410.43 443.51L420.11 449.72L420.11 444.46L410.43 438.25Z" fill="#376b9e" stroke="#1c232c" stroke-width="1.0" stroke-linejoin="round"/>
<path d="M420.11 449.72L429.23 443.85L429.23 438.6L420.11 444.46Z" fill="#386ca1" stroke="#1c232c" stroke-width="1.0" stroke-linejoin="round"/>
<path d="M410.43 438.25L419.55 432.39L429.23 438.6L420.11 444.46Z" fill="#396ea3" stroke="#1c232c" stroke-width="1.0" stroke-linejoin="round"/>
<path d="M432.8 443.92L442.48 450.13L442.48 443.99L432.8 437.78Z" fill="#386c9e" stroke="#1c232c" stroke-width="1.0" stroke-linejoin="round"/>
<path d="M442.48 450.13L451.6 444.26L451.6 438.13L442.48 443.99Z" fill="#396da1" stroke="#1c232c" stroke-width="1.0" stroke-linejoin="round"/>
<path d="M432.8 437.78L441.92 431.92L451.6 438.13L442.48 443.99Z" fill="#3a6fa3" stroke="#1c232c" stroke-width="1.0" stroke-linejoin="round"/>
<path d="M455.17 444.33L464.85 450.54L464.85 437.09L455.17 430.88Z" fill="#386d9f" stroke="#1c232c" stroke-width="1.0" stroke-linejoin="round"/>
<path d="M464.85 450.54L473.97 444.67L473.97 431.23L464.85 437.09Z" fill="#396ea2" stroke="#1c232c" stroke-width="1.0" stroke-linejoin="round"/>
<path d="M455.17 430.88L464.29 425.02L473.97 431.23L464.85 437.09Z" fill="#3a70a4" stroke="#1c232c" stroke-width="1.0" stroke-linejoin="round"/>
<path d="M477.54 444.74L487.22 450.95L487.22 435.15L477.54 428.94Z" fill="#386ea0" stroke="#1c232c" stroke-width="1.0" stroke-linejoin="round"/>
<path d="M487.22 450.95L496.34 445.08L496.34 429.29L487.22 435.15Z" fill="#396fa3" stroke="#1c232c" stroke-width="1.0" stroke-linejoin="round"/>
<path d="M477.54 428.94L486.66 423.08L496.34 429.29L487.22 435.15Z" fill="#3a71a5" stroke="#1c232c" stroke-width="1.0" stroke-linejoin="round"/>
<path d="M198.25 446.8L207.93 453.01L207.93 451.61L198.25 445.4Z" fill="#294881" stroke="#1c232c" stroke-width="1.0" stroke-linejoin="round"/>
<path d="M207.93 453.01L217.05 447.14L217.05 445.75L207.93 451.61Z" fill="#294983" stroke="#1c232c" stroke-width="1.0" stroke-linejoin="round"/>
<path d="M198.25 445.4L207.37 439.54L217.05 445.75L207.93 451.61Z" fill="#2a4a85" stroke="#1c232c" stroke-width="1.0" stroke-linejoin="round"/>
<path d="M220.62 447.21L230.3 453.42L230.3 452.26L220.62 446.05Z" fill="#294881" stroke="#1c232c" stroke-width="1.0" stroke-linejoin="round"/>
<path d="M230.3 453.42L239.42 447.55L239.42 446.4L230.3 452.26Z" fill="#294983" stroke="#1c232c" stroke-width="1.0" stroke-linejoin="round"/>
<path d="M220.62 446.05L229.74 440.19L239.42 446.4L230.3 452.26Z" fill="#2a4a85" stroke="#1c232c" stroke-width="1.0" stroke-linejoin="round"/>
<path d="M242.99 447.62L252.67 453.83L252.67 440.3L242.99 434.09Z" fill="#36689b" stroke="#1c232c" stroke-width="1.0" stroke-linejoin="round"/>
<path d="M252.67 453.83L261.79 447.96L261.79 434.44L252.67 440.3Z" fill="#37699e" stroke="#1c232c" stroke-width="1.0" stroke-linejoin="round"/>
<path d="M242.99 434.09L252.11 428.23L261.79 434.44L252.67 440.3Z" fill="#386ba0" stroke="#1c232c" stroke-width="1.0" stroke-linejoin="round"/>
<path d="M265.36 448.03L275.04 454.24L275.04 444.86L265.36 438.65Z" fill="#36689b" stroke="#1c232c" stroke-width="1.0" stroke-linejoin="round"/>
<path d="M275.04 454.24L284.16 448.37L284.16 438.99L275.04 444.86Z" fill="#37699e" stroke="#1c232c" stroke-width="1.0" stroke-linejoin="round"/>
<path d="M265.36 438.65L274.48 432.79L284.16 438.99L275.04 444.86Z" fill="#386ba0" stroke="#1c232c" stroke-width="1.0" stroke-linejoin="round"/>
<path d="M287.73 448.44L297.41 454.65L297.41 446.4L287.73 440.19Z" fill="#36689b" stroke="#1c232c" stroke-width="1.0" stroke-linejoin="round"/>
<path d="M297.41 454.65L306.53 448.78L306.53 440.53L297.41 446.4Z" fill="#37699e" stroke="#1c232c" stroke-width="1.0" stroke-linejoin="round"/>
<path d="M287.73 440.19L296.85 434.32L306.53 440.53L297.41 446.4Z" fill="#386ba0" stroke="#1c232c" stroke-width="1.0" stroke-linejoin="round"/>
<path d="M310.1 448.85L319.78 455.06L319.78 443.47L310.1 437.27Z" fill="#36689b" stroke="#1c232c" stroke-width="1.0" stroke-linejoin="round"/>
<path d="M319.78 455.06L328.9 449.19L328.9 437.61L319.78 443.47Z" fill="#37699e" stroke="#1c232c" stroke-width="1.0" stroke-linejoin="round"/>
<path d="M310.1 437.27L319.22 431.4L328.9 437.61L319.78 443.47Z" fill="#386ba0" stroke="#1c232c" stroke-width="1.0" stroke-linejoin="round"/>
<path d="M332.47 449.26L342.15 455.47L342.15 448.29L332.47 442.08Z" fill="#36699c" stroke="#1c232c" stroke-width="1.0" stroke-linejoin="round"/>
<path d="M342.15 455.47L351.27 449.6L351.27 442.43L342.15 448.29Z" fill="#376a9f" stroke="#1c232c" stroke-width="1.0" stroke-linejoin="round"/>
<path d="M332.47 442.08L341.59 436.22L351.27 442.43L342.15 448.29Z" fill="#386ca1" stroke="#1c232c" stroke-width="1.0" stroke-linejoin="round"/>
<path d="M354.84 449.67L364.52 455.88L364.52 451.61L354.84 445.4Z" fill="#36699c" stroke="#1c232c" stroke-width="1.0" stroke-linejoin="round"/>
<path d="M364.52 455.88L373.64 450.01L373.64 445.75L364.52 451.61Z" fill="#376a9f" stroke="#1c232c" stroke-width="1.0" stroke-linejoin="round"/>
<path d="M354.84 445.4L363.96 439.54L373.64 445.75L364.52 451.61Z" fill="#386ca1" stroke="#1c232c" stroke-width="1.0" stroke-linejoin="round"/>
<path d="M377.21 450.08L386.89 456.29L386.89 446.81L377.21 440.6Z" fill="#376a9c" stroke="#1c232c" stroke-width="1.0" stroke-linejoin="round"/>
<path d="M386.89 456.29L396.01 450.42L396.01 440.95L386.89 446.81Z" fill="#386b9f" stroke="#1c232c" stroke-width="1.0" stroke-linejoin="round"/>
<path d="M377.21 440.6L386.33 434.74L396.01 440.95L386.89 446.81Z" fill="#396da1" stroke="#1c232c" stroke-width="1.0" stroke-linejoin="round"/>
<path d="M399.58 449.94L408.7 444.07L418.38 450.28L409.26 456.15Z" fill="#396da2" stroke="#1c232c" stroke-width="1.0" stroke-linejoin="round"/>
<path d="M421.95 450.9L431.63 457.11L431.63 441.34L421.95 435.13Z" fill="#376b9e" stroke="#1c232c" stroke-width="1.0" stroke-linejoin="round"/>
<path d="M431.63 457.11L440.75 451.24L440.75 435.47L431.63 441.34Z" fill="#386ca1" stroke="#1c232c" stroke-width="1.0" stroke-linejoin="round"/>
<path d="M421.95 435.13L431.07 429.27L440.75 435.47L431.63 441.34Z" fill="#396ea3" stroke="#1c232c" stroke-width="1.0" stroke-linejoin="round"/>
<path d="M444.32 451.31L454 457.52L454 450.56L444.32 444.35Z" fill="#386c9e" stroke="#1c232c" stroke-width="1.0" stroke-linejoin="round"/>
<path d="M454 457.52L463.12 451.65L463.12 444.7L454 450.56Z" fill="#396da1" stroke="#1c232c" stroke-width="1.0" stroke-linejoin="round"/>
<path d="M444.32 444.35L453.44 438.49L463.12 444.7L454 450.56Z" fill="#3a6fa3" stroke="#1c232c" stroke-width="1.0" stroke-linejoin="round"/>
<path d="M466.69 451.72L476.37 457.93L476.37 452.58L466.69 446.38Z" fill="#386d9f" stroke="#1c232c" stroke-width="1.0" stroke-linejoin="round"/>
<path d="M476.37 457.93L485.49 452.06L485.49 446.72L476.37 452.58Z" fill="#396ea2" stroke="#1c232c" stroke-width="1.0" stroke-linejoin="round"/>
<path d="M466.69 446.38L475.81 440.51L485.49 446.72L476.37 452.58Z" fill="#3a70a4" stroke="#1c232c" stroke-width="1.0" stroke-linejoin="round"/>
<path d="M209.77 454.19L219.45 460.4L219.45 459.24L209.77 453.03Z" fill="#294881" stroke="#1c232c" stroke-width="1.0" stroke-linejoin="round"/>
<path d="M219.45 460.4L228.57 454.53L228.57 453.38L219.45 459.24Z" fill="#294983" stroke="#1c232c" stroke-width="1.0" stroke-linejoin="round"/>
<path d="M209.77 453.03L218.89 447.17L228.57 453.38L219.45 459.24Z" fill="#2a4a85" stroke="#1c232c" stroke-width="1.0" stroke-linejoin="round"/>
<path d="M232.14 454.6L241.82 460.81L241.82 459.82L232.14 453.61Z" fill="#294881" stroke="#1c232c" stroke-width="1.0" stroke-linejoin="round"/>
<path d="M241.82 460.81L250.94 454.94L250.94 453.96L241.82 459.82Z" fill="#294983" stroke="#1c232c" stroke-width="1.0" stroke-linejoin="round"/>
<path d="M232.14 453.61L241.26 447.75L250.94 453.96L241.82 459.82Z" fill="#2a4a85" stroke="#1c232c" stroke-width="1.0" stroke-linejoin="round"/>
<path d="M254.51 455.01L264.19 461.22L264.19 457.17L254.51 450.97Z" fill="#36689b" stroke="#1c232c" stroke-width="1.0" stroke-linejoin="round"/>
<path d="M264.19 461.22L273.31 455.35L273.31 451.31L264.19 457.17Z" fill="#37699e" stroke="#1c232c" stroke-width="1.0" stroke-linejoin="round"/>
<path d="M254.51 450.97L263.63 445.1L273.31 451.31L264.19 457.17Z" fill="#386ba0" stroke="#1c232c" stroke-width="1.0" stroke-linejoin="round"/>
<path d="M276.88 455.42L286.56 461.63L286.56 450.51L276.88 444.3Z" fill="#36689b" stroke="#1c232c" stroke-width="1.0" stroke-linejoin="round"/>
<path d="M286.56 461.63L295.68 455.76L295.68 444.64L286.56 450.51Z" fill="#37699e" stroke="#1c232c" stroke-width="1.0" stroke-linejoin="round"/>
<path d="M276.88 444.3L286 438.43L295.68 444.64L286.56 450.51Z" fill="#386ba0" stroke="#1c232c" stroke-width="1.0" stroke-linejoin="round"/>
<path d="M299.25 455.83L308.93 462.04L308.93 457.18L299.25 450.98Z" fill="#36689b" stroke="#1c232c" stroke-width="1.0" stroke-linejoin="round"/>
<path d="M308.93 462.04L318.05 456.17L318.05 451.32L308.93 457.18Z" fill="#37699e" stroke="#1c232c" stroke-width="1.0" stroke-linejoin="round"/>
<path d="M299.25 450.98L308.37 445.11L318.05 451.32L308.93 457.18Z" fill="#386ba0" stroke="#1c232c" stroke-width="1.0" stroke-linejoin="round"/>
<path d="M321.62 456.24L331.3 462.45L331.3 450.25L321.62 444.04Z" fill="#36689b" stroke="#1c232c" stroke-width="1.0" stroke-linejoin="round"/>
<path d="M331.3 462.45L340.42 456.58L340.42 444.39L331.3 450.25Z" fill="#37699e" stroke="#1c232c" stroke-width="1.0" stroke-linejoin="round"/>
<path d="M321.62 444.04L330.74 438.18L340.42 444.39L331.3 450.25Z" fill="#386ba0" stroke="#1c232c" stroke-width="1.0" stroke-linejoin="round"/>
<path d="M343.99 456.65L353.67 462.86L353.67 454.05L343.99 447.84Z" fill="#36699c" stroke="#1c232c" stroke-width="1.0" stroke-linejoin="round"/>
<path d="M353.67 462.86L362.79 456.99L362.79 448.19L353.67 454.05Z" fill="#376a9f" stroke="#1c232c" stroke-width="1.0" stroke-linejoin="round"/>
<path d="M343.99 447.84L353.11 441.98L362.79 448.19L353.67 454.05Z" fill="#386ca1" stroke="#1c232c" stroke-width="1.0" stroke-linejoin="round"/>
<path d="M366.36 457.06L376.04 463.27L376.04 456.51L366.36 450.3Z" fill="#36699c" stroke="#1c232c" stroke-width="1.0" stroke-linejoin="round"/>
<path d="M376.04 463.27L385.16 457.4L385.16 450.65L376.04 456.51Z" fill="#376a9f" stroke="#1c232c" stroke-width="1.0" stroke-linejoin="round"/>
<path d="M366.36 450.3L375.48 444.44L385.16 450.65L376.04 456.51Z" fill="#386ca1" stroke="#1c232c" stroke-width="1.0" stroke-linejoin="round"/>
<path d="M388.73 457.47L398.41 463.68L398.41 455.86L388.73 449.65Z" fill="#376a9c" stroke="#1c232c" stroke-width="1.0" stroke-linejoin="round"/>
<path d="M398.41 463.68L407.53 457.81L407.53 449.99L398.41 455.86Z" fill="#386b9f" stroke="#1c232c" stroke-width="1.0" stroke-linejoin="round"/>
<path d="M388.73 449.65L397.85 443.79L407.53 449.99L398.41 455.86Z" fill="#396da1" stroke="#1c232c" stroke-width="1.0" stroke-linejoin="round"/>
<path d="M411.1 457.88L420.78 464.09L420.78 448.97L411.1 442.76Z" fill="#376a9d" stroke="#1c232c" stroke-width="1.0" stroke-linejoin="round"/>
<path d="M420.78 464.09L429.9 458.22L429.9 443.1L420.78 448.97Z" fill="#386ba0" stroke="#1c232c" stroke-width="1.0" stroke-linejoin="round"/>
<path d="M411.1 442.76L420.22 436.9L429.9 443.1L420.78 448.97Z" fill="#396da2" stroke="#1c232c" stroke-width="1.0" stroke-linejoin="round"/>
<path d="M433.47 458.29L443.15 464.5L443.15 460.05L433.47 453.84Z" fill="#376b9e" stroke="#1c232c" stroke-width="1.0" stroke-linejoin="round"/>
<path d="M443.15 464.5L452.27 458.63L452.27 454.18L443.15 460.05Z" fill="#386ca1" stroke="#1c232c" stroke-width="1.0" stroke-linejoin="round"/>
<path d="M433.47 453.84L442.59 447.98L452.27 454.18L443.15 460.05Z" fill="#396ea3" stroke="#1c232c" stroke-width="1.0" stroke-linejoin="round"/>
<path d="M455.84 458.7L465.52 464.91L465.52 454.55L455.84 448.34Z" fill="#386c9e" stroke="#1c232c" stroke-width="1.0" stroke-linejoin="round"/>
<path d="M465.52 464.91L474.64 459.04L474.64 448.68L465.52 454.55Z" fill="#396da1" stroke="#1c232c" stroke-width="1.0" stroke-linejoin="round"/>
<path d="M455.84 448.34L464.96 442.47L474.64 448.68L465.52 454.55Z" fill="#3a6fa3" stroke="#1c232c" stroke-width="1.0" stroke-linejoin="round"/>
<path d="M221.29 461.58L230.97 467.79L230.97 466.8L221.29 460.59Z" fill="#294881" stroke="#1c232c" stroke-width="1.0" stroke-linejoin="round"/>
<path d="M230.97 467.79L240.09 461.92L240.09 460.94L230.97 466.8Z" fill="#294983" stroke="#1c232c" stroke-width="1.0" stroke-linejoin="round"/>
<path d="M221.29 460.59L230.41 454.73L240.09 460.94L230.97 466.8Z" fill="#2a4a85" stroke="#1c232c" stroke-width="1.0" stroke-linejoin="round"/>
<path d="M243.66 461.99L253.34 468.2L253.34 467.33L243.66 461.13Z" fill="#294881" stroke="#1c232c" stroke-width="1.0" stroke-linejoin="round"/>
<path d="M253.34 468.2L262.46 462.33L262.46 461.47L253.34 467.33Z" fill="#294983" stroke="#1c232c" stroke-width="1.0" stroke-linejoin="round"/>
<path d="M243.66 461.13L252.78 455.26L262.46 461.47L253.34 467.33Z" fill="#2a4a85" stroke="#1c232c" stroke-width="1.0" stroke-linejoin="round"/>
<path d="M266.03 462.4L275.71 468.61L275.71 453.14L266.03 446.94Z" fill="#36689b" stroke="#1c232c" stroke-width="1.0" stroke-linejoin="round"/>
<path d="M275.71 468.61L284.83 462.74L284.83 447.28L275.71 453.14Z" fill="#37699e" stroke="#1c232c" stroke-width="1.0" stroke-linejoin="round"/>
<path d="M266.03 446.94L275.15 441.07L284.83 447.28L275.71 453.14Z" fill="#386ba0" stroke="#1c232c" stroke-width="1.0" stroke-linejoin="round"/>
<path d="M288.4 462.81L298.08 469.02L298.08 462.97L288.4 456.77Z" fill="#36689b" stroke="#1c232c" stroke-width="1.0" stroke-linejoin="round"/>
<path d="M298.08 469.02L307.2 463.15L307.2 457.11L298.08 462.97Z" fill="#37699e" stroke="#1c232c" stroke-width="1.0" stroke-linejoin="round"/>
<path d="M288.4 456.77L297.52 450.9L307.2 457.11L298.08 462.97Z" fill="#386ba0" stroke="#1c232c" stroke-width="1.0" stroke-linejoin="round"/>
<path d="M310.77 463.22L320.45 469.43L320.45 455.83L310.77 449.62Z" fill="#36689b" stroke="#1c232c" stroke-width="1.0" stroke-linejoin="round"/>
<path d="M320.45 469.43L329.57 463.56L329.57 449.96L320.45 455.83Z" fill="#37699e" stroke="#1c232c" stroke-width="1.0" stroke-linejoin="round"/>
<path d="M310.77 449.62L319.89 443.76L329.57 449.96L320.45 455.83Z" fill="#386ba0" stroke="#1c232c" stroke-width="1.0" stroke-linejoin="round"/>
<path d="M333.14 463.63L342.82 469.84L342.82 462.72L333.14 456.51Z" fill="#36689b" stroke="#1c232c" stroke-width="1.0" stroke-linejoin="round"/>
<path d="M342.82 469.84L351.94 463.97L351.94 456.86L342.82 462.72Z" fill="#37699e" stroke="#1c232c" stroke-width="1.0" stroke-linejoin="round"/>
<path d="M333.14 456.51L342.26 450.65L351.94 456.86L342.82 462.72Z" fill="#386ba0" stroke="#1c232c" stroke-width="1.0" stroke-linejoin="round"/>
<path d="M355.51 464.04L365.19 470.25L365.19 456.67L355.51 450.46Z" fill="#36699c" stroke="#1c232c" stroke-width="1.0" stroke-linejoin="round"/>
<path d="M365.19 470.25L374.31 464.38L374.31 450.8L365.19 456.67Z" fill="#376a9f" stroke="#1c232c" stroke-width="1.0" stroke-linejoin="round"/>
<path d="M355.51 450.46L364.63 444.6L374.31 450.8L365.19 456.67Z" fill="#386ca1" stroke="#1c232c" stroke-width="1.0" stroke-linejoin="round"/>
<path d="M377.88 464.45L387.56 470.66L387.56 457.34L377.88 451.13Z" fill="#36699c" stroke="#1c232c" stroke-width="1.0" stroke-linejoin="round"/>
<path d="M387.56 470.66L396.68 464.79L396.68 451.48L387.56 457.34Z" fill="#376a9f" stroke="#1c232c" stroke-width="1.0" stroke-linejoin="round"/>
<path d="M377.88 451.13L387 445.27L396.68 451.48L387.56 457.34Z" fill="#386ca1" stroke="#1c232c" stroke-width="1.0" stroke-linejoin="round"/>
<path d="M400.25 464.86L409.93 471.07L409.93 465.9L400.25 459.69Z" fill="#376a9c" stroke="#1c232c" stroke-width="1.0" stroke-linejoin="round"/>
<path d="M409.93 471.07L419.05 465.2L419.05 460.04L409.93 465.9Z" fill="#386b9f" stroke="#1c232c" stroke-width="1.0" stroke-linejoin="round"/>
<path d="M400.25 459.69L409.37 453.83L419.05 460.04L409.93 465.9Z" fill="#396da1" stroke="#1c232c" stroke-width="1.0" stroke-linejoin="round"/>
<path d="M422.62 465.27L432.3 471.48L432.3 462.06L422.62 455.86Z" fill="#376a9d" stroke="#1c232c" stroke-width="1.0" stroke-linejoin="round"/>
<path d="M432.3 471.48L441.42 465.61L441.42 456.2L432.3 462.06Z" fill="#386ba0" stroke="#1c232c" stroke-width="1.0" stroke-linejoin="round"/>
<path d="M422.62 455.86L431.74 449.99L441.42 456.2L432.3 462.06Z" fill="#396da2" stroke="#1c232c" stroke-width="1.0" stroke-linejoin="round"/>
<path d="M444.99 465.68L454.67 471.89L454.67 455.52L444.99 449.31Z" fill="#376b9e" stroke="#1c232c" stroke-width="1.0" stroke-linejoin="round"/>
<path d="M454.67 471.89L463.79 466.02L463.79 449.66L454.67 455.52Z" fill="#386ca1" stroke="#1c232c" stroke-width="1.0" stroke-linejoin="round"/>
<path d="M444.99 449.31L454.11 443.45L463.79 449.66L454.67 455.52Z" fill="#396ea3" stroke="#1c232c" stroke-width="1.0" stroke-linejoin="round"/>
<path d="M232.81 468.97L242.49 475.18L242.49 474.31L232.81 468.11Z" fill="#294881" stroke="#1c232c" stroke-width="1.0" stroke-linejoin="round"/>
<path d="M242.49 475.18L251.61 469.31L251.61 468.45L242.49 474.31Z" fill="#294983" stroke="#1c232c" stroke-width="1.0" stroke-linejoin="round"/>
<path d="M232.81 468.11L241.93 462.24L251.61 468.45L242.49 474.31Z" fill="#2a4a85" stroke="#1c232c" stroke-width="1.0" stroke-linejoin="round"/>
<path d="M255.18 468.61L264.3 462.74L273.98 468.95L264.86 474.81Z" fill="#2a4a85" stroke="#1c232c" stroke-width="1.0" stroke-linejoin="round"/>
<path d="M277.55 469.79L287.23 476L287.23 467.58L277.55 461.37Z" fill="#36689b" stroke="#1c232c" stroke-width="1.0" stroke-linejoin="round"/>
<path d="M287.23 476L296.35 470.13L296.35 461.71L287.23 467.58Z" fill="#37699e" stroke="#1c232c" stroke-width="1.0" stroke-linejoin="round"/>
<path d="M277.55 461.37L286.67 455.51L296.35 461.71L287.23 467.58Z" fill="#386ba0" stroke="#1c232c" stroke-width="1.0" stroke-linejoin="round"/>
<path d="M299.92 470.2L309.6 476.41L309.6 463.22L299.92 457.02Z" fill="#36689b" stroke="#1c232c" stroke-width="1.0" stroke-linejoin="round"/>
<path d="M309.6 476.41L318.72 470.54L318.72 457.36L309.6 463.22Z" fill="#37699e" stroke="#1c232c" stroke-width="1.0" stroke-linejoin="round"/>
<path d="M299.92 457.02L309.04 451.15L318.72 457.36L309.6 463.22Z" fill="#386ba0" stroke="#1c232c" stroke-width="1.0" stroke-linejoin="round"/>
<path d="M322.29 470.61L331.97 476.82L331.97 460.35L322.29 454.14Z" fill="#36689b" stroke="#1c232c" stroke-width="1.0" stroke-linejoin="round"/>
<path d="M331.97 476.82L341.09 470.95L341.09 454.49L331.97 460.35Z" fill="#37699e" stroke="#1c232c" stroke-width="1.0" stroke-linejoin="round"/>
<path d="M322.29 454.14L331.41 448.28L341.09 454.49L331.97 460.35Z" fill="#386ba0" stroke="#1c232c" stroke-width="1.0" stroke-linejoin="round"/>
<path d="M344.66 471.02L354.34 477.23L354.34 462.75L344.66 456.54Z" fill="#36689b" stroke="#1c232c" stroke-width="1.0" stroke-linejoin="round"/>
<path d="M354.34 477.23L363.46 471.36L363.46 456.89L354.34 462.75Z" fill="#37699e" stroke="#1c232c" stroke-width="1.0" stroke-linejoin="round"/>
<path d="M344.66 456.54L353.78 450.68L363.46 456.89L354.34 462.75Z" fill="#386ba0" stroke="#1c232c" stroke-width="1.0" stroke-linejoin="round"/>
<path d="M367.03 471.43L376.71 477.64L376.71 465.5L367.03 459.29Z" fill="#36699c" stroke="#1c232c" stroke-width="1.0" stroke-linejoin="round"/>
<path d="M376.71 477.64L385.83 471.77L385.83 459.64L376.71 465.5Z" fill="#376a9f" stroke="#1c232c" stroke-width="1.0" stroke-linejoin="round"/>
<path d="M367.03 459.29L376.15 453.43L385.83 459.64L376.71 465.5Z" fill="#386ca1" stroke="#1c232c" stroke-width="1.0" stroke-linejoin="round"/>
<path d="M389.4 471.84L399.08 478.05L399.08 465.19L389.4 458.98Z" fill="#36699c" stroke="#1c232c" stroke-width="1.0" stroke-linejoin="round"/>
<path d="M399.08 478.05L408.2 472.18L408.2 459.33L399.08 465.19Z" fill="#376a9f" stroke="#1c232c" stroke-width="1.0" stroke-linejoin="round"/>
<path d="M389.4 458.98L398.52 453.12L408.2 459.33L399.08 465.19Z" fill="#386ca1" stroke="#1c232c" stroke-width="1.0" stroke-linejoin="round"/>
<path d="M411.77 472.25L421.45 478.46L421.45 469.11L411.77 462.9Z" fill="#376a9c" stroke="#1c232c" stroke-width="1.0" stroke-linejoin="round"/>
<path d="M421.45 478.46L430.57 472.59L430.57 463.25L421.45 469.11Z" fill="#386b9f" stroke="#1c232c" stroke-width="1.0" stroke-linejoin="round"/>
<path d="M411.77 462.9L420.89 457.04L430.57 463.25L421.45 469.11Z" fill="#396da1" stroke="#1c232c" stroke-width="1.0" stroke-linejoin="round"/>
<path d="M434.14 472.66L443.82 478.87L443.82 474.37L434.14 468.16Z" fill="#376a9d" stroke="#1c232c" stroke-width="1.0" stroke-linejoin="round"/>
<path d="M443.82 478.87L452.94 473L452.94 468.5L443.82 474.37Z" fill="#386ba0" stroke="#1c232c" stroke-width="1.0" stroke-linejoin="round"/>
<path d="M434.14 468.16L443.26 462.3L452.94 468.5L443.82 474.37Z" fill="#396da2" stroke="#1c232c" stroke-width="1.0" stroke-linejoin="round"/>
<path d="M244.33 475.59L253.45 469.72L263.13 475.93L254.01 481.79Z" fill="#2a4a85" stroke="#1c232c" stroke-width="1.0" stroke-linejoin="round"/>
<path d="M266.7 476.06L275.82 470.2L285.5 476.4L276.38 482.27Z" fill="#2a4a85" stroke="#1c232c" stroke-width="1.0" stroke-linejoin="round"/>
<path d="M289.07 477.18L298.75 483.39L298.75 477.85L289.07 471.64Z" fill="#36689b" stroke="#1c232c" stroke-width="1.0" stroke-linejoin="round"/>
<path d="M298.75 483.39L307.87 477.52L307.87 471.98L298.75 477.85Z" fill="#37699e" stroke="#1c232c" stroke-width="1.0" stroke-linejoin="round"/>
<path d="M289.07 471.64L298.19 465.78L307.87 471.98L298.75 477.85Z" fill="#386ba0" stroke="#1c232c" stroke-width="1.0" stroke-linejoin="round"/>
<path d="M311.44 477.59L321.12 483.8L321.12 479.4L311.44 473.19Z" fill="#36689b" stroke="#1c232c" stroke-width="1.0" stroke-linejoin="round"/>
<path d="M321.12 483.8L330.24 477.93L330.24 473.54L321.12 479.4Z" fill="#37699e" stroke="#1c232c" stroke-width="1.0" stroke-linejoin="round"/>
<path d="M311.44 473.19L320.56 467.33L330.24 473.54L321.12 479.4Z" fill="#386ba0" stroke="#1c232c" stroke-width="1.0" stroke-linejoin="round"/>
<path d="M333.81 478L343.49 484.21L343.49 473.21L333.81 467Z" fill="#36689b" stroke="#1c232c" stroke-width="1.0" stroke-linejoin="round"/>
<path d="M343.49 484.21L352.61 478.34L352.61 467.34L343.49 473.21Z" fill="#37699e" stroke="#1c232c" stroke-width="1.0" stroke-linejoin="round"/>
<path d="M333.81 467L342.93 461.14L352.61 467.34L343.49 473.21Z" fill="#386ba0" stroke="#1c232c" stroke-width="1.0" stroke-linejoin="round"/>
<path d="M356.18 478.41L365.86 484.62L365.86 480.62L356.18 474.41Z" fill="#36689b" stroke="#1c232c" stroke-width="1.0" stroke-linejoin="round"/>
<path d="M365.86 484.62L374.98 478.75L374.98 474.76L365.86 480.62Z" fill="#37699e" stroke="#1c232c" stroke-width="1.0" stroke-linejoin="round"/>
<path d="M356.18 474.41L365.3 468.55L374.98 474.76L365.86 480.62Z" fill="#386ba0" stroke="#1c232c" stroke-width="1.0" stroke-linejoin="round"/>
<path d="M378.55 478.82L388.23 485.03L388.23 473.66L378.55 467.45Z" fill="#36699c" stroke="#1c232c" stroke-width="1.0" stroke-linejoin="round"/>
<path d="M388.23 485.03L397.35 479.16L397.35 467.8L388.23 473.66Z" fill="#376a9f" stroke="#1c232c" stroke-width="1.0" stroke-linejoin="round"/>
<path d="M378.55 467.45L387.67 461.59L397.35 467.8L388.23 473.66Z" fill="#386ca1" stroke="#1c232c" stroke-width="1.0" stroke-linejoin="round"/>
<path d="M400.92 479.23L410.6 485.44L410.6 470.8L400.92 464.59Z" fill="#36699c" stroke="#1c232c" stroke-width="1.0" stroke-linejoin="round"/>
<path d="M410.6 485.44L419.72 479.57L419.72 464.94L410.6 470.8Z" fill="#376a9f" stroke="#1c232c" stroke-width="1.0" stroke-linejoin="round"/>
<path d="M400.92 464.59L410.04 458.73L419.72 464.94L410.6 470.8Z" fill="#386ca1" stroke="#1c232c" stroke-width="1.0" stroke-linejoin="round"/>
<path d="M423.29 479.64L432.97 485.85L432.97 477.39L423.29 471.18Z" fill="#376a9c" stroke="#1c232c" stroke-width="1.0" stroke-linejoin="round"/>
<path d="M432.97 485.85L442.09 479.98L442.09 471.53L432.97 477.39Z" fill="#386b9f" stroke="#1c232c" stroke-width="1.0" stroke-linejoin="round"/>
<path d="M423.29 471.18L432.41 465.32L442.09 471.53L432.97 477.39Z" fill="#396da1" stroke="#1c232c" stroke-width="1.0" stroke-linejoin="round"/>
<path d="M255.85 483.04L264.97 477.18L274.65 483.38L265.53 489.25Z" fill="#2a4a85" stroke="#1c232c" stroke-width="1.0" stroke-linejoin="round"/>
<path d="M278.22 483.49L287.34 477.63L297.02 483.84L287.9 489.7Z" fill="#2a4a85" stroke="#1c232c" stroke-width="1.0" stroke-linejoin="round"/>
<path d="M300.59 484.57L310.27 490.78L310.27 474.25L300.59 468.04Z" fill="#36689b" stroke="#1c232c" stroke-width="1.0" stroke-linejoin="round"/>
<path d="M310.27 490.78L319.39 484.91L319.39 468.38L310.27 474.25Z" fill="#37699e" stroke="#1c232c" stroke-width="1.0" stroke-linejoin="round"/>
<path d="M300.59 468.04L309.71 462.18L319.39 468.38L310.27 474.25Z" fill="#386ba0" stroke="#1c232c" stroke-width="1.0" stroke-linejoin="round"/>
<path d="M322.96 484.98L332.64 491.19L332.64 477.22L322.96 471.01Z" fill="#36689b" stroke="#1c232c" stroke-width="1.0" stroke-linejoin="round"/>
<path d="M332.64 491.19L341.76 485.32L341.76 471.36L332.64 477.22Z" fill="#37699e" stroke="#1c232c" stroke-width="1.0" stroke-linejoin="round"/>
<path d="M322.96 471.01L332.08 465.15L341.76 471.36L332.64 477.22Z" fill="#386ba0" stroke="#1c232c" stroke-width="1.0" stroke-linejoin="round"/>
<path d="M345.33 485.39L355.01 491.6L355.01 486.05L345.33 479.84Z" fill="#36689b" stroke="#1c232c" stroke-width="1.0" stroke-linejoin="round"/>
<path d="M355.01 491.6L364.13 485.73L364.13 480.18L355.01 486.05Z" fill="#37699e" stroke="#1c232c" stroke-width="1.0" stroke-linejoin="round"/>
<path d="M345.33 479.84L354.45 473.97L364.13 480.18L355.01 486.05Z" fill="#386ba0" stroke="#1c232c" stroke-width="1.0" stroke-linejoin="round"/>
<path d="M367.7 485.8L377.38 492.01L377.38 476.94L367.7 470.74Z" fill="#36689b" stroke="#1c232c" stroke-width="1.0" stroke-linejoin="round"/>
<path d="M377.38 492.01L386.5 486.14L386.5 471.08L377.38 476.94Z" fill="#37699e" stroke="#1c232c" stroke-width="1.0" stroke-linejoin="round"/>
<path d="M367.7 470.74L376.82 464.87L386.5 471.08L377.38 476.94Z" fill="#386ba0" stroke="#1c232c" stroke-width="1.0" stroke-linejoin="round"/>
<path d="M390.07 486.21L399.75 492.42L399.75 481.74L390.07 475.53Z" fill="#36699c" stroke="#1c232c" stroke-width="1.0" stroke-linejoin="round"/>
<path d="M399.75 492.42L408.87 486.55L408.87 475.88L399.75 481.74Z" fill="#376a9f" stroke="#1c232c" stroke-width="1.0" stroke-linejoin="round"/>
<path d="M390.07 475.53L399.19 469.67L408.87 475.88L399.75 481.74Z" fill="#386ca1" stroke="#1c232c" stroke-width="1.0" stroke-linejoin="round"/>
<path d="M412.44 486.62L422.12 492.83L422.12 479.94L412.44 473.74Z" fill="#36699c" stroke="#1c232c" stroke-width="1.0" stroke-linejoin="round"/>
<path d="M422.12 492.83L431.24 486.96L431.24 474.08L422.12 479.94Z" fill="#376a9f" stroke="#1c232c" stroke-width="1.0" stroke-linejoin="round"/>
<path d="M412.44 473.74L421.56 467.87L431.24 474.08L422.12 479.94Z" fill="#386ca1" stroke="#1c232c" stroke-width="1.0" stroke-linejoin="round"/>
<path d="M267.37 490.47L276.49 484.61L286.17 490.82L277.05 496.68Z" fill="#2a4a85" stroke="#1c232c" stroke-width="1.0" stroke-linejoin="round"/>
<path d="M289.74 490.92L298.86 485.05L308.54 491.26L299.42 497.12Z" fill="#2a4a85" stroke="#1c232c" stroke-width="1.0" stroke-linejoin="round"/>
<path d="M312.11 491.96L321.79 498.17L321.79 492.44L312.11 486.24Z" fill="#36689b" stroke="#1c232c" stroke-width="1.0" stroke-linejoin="round"/>
<path d="M321.79 498.17L330.91 492.3L330.91 486.58L321.79 492.44Z" fill="#37699e" stroke="#1c232c" stroke-width="1.0" stroke-linejoin="round"/>
<path d="M312.11 486.24L321.23 480.37L330.91 486.58L321.79 492.44Z" fill="#386ba0" stroke="#1c232c" stroke-width="1.0" stroke-linejoin="round"/>
<path d="M334.48 492.37L344.16 498.58L344.16 492.35L334.48 486.15Z" fill="#36689b" stroke="#1c232c" stroke-width="1.0" stroke-linejoin="round"/>
<path d="M344.16 498.58L353.28 492.71L353.28 486.49L344.16 492.35Z" fill="#37699e" stroke="#1c232c" stroke-width="1.0" stroke-linejoin="round"/>
<path d="M334.48 486.15L343.6 480.28L353.28 486.49L344.16 492.35Z" fill="#386ba0" stroke="#1c232c" stroke-width="1.0" stroke-linejoin="round"/>
<path d="M356.85 492.78L366.53 498.99L366.53 489.06L356.85 482.85Z" fill="#36689b" stroke="#1c232c" stroke-width="1.0" stroke-linejoin="round"/>
<path d="M366.53 498.99L375.65 493.12L375.65 483.2L366.53 489.06Z" fill="#37699e" stroke="#1c232c" stroke-width="1.0" stroke-linejoin="round"/>
<path d="M356.85 482.85L365.97 476.99L375.65 483.2L366.53 489.06Z" fill="#386ba0" stroke="#1c232c" stroke-width="1.0" stroke-linejoin="round"/>
<path d="M379.22 493.19L388.9 499.4L388.9 493.69L379.22 487.49Z" fill="#36689b" stroke="#1c232c" stroke-width="1.0" stroke-linejoin="round"/>
<path d="M388.9 499.4L398.02 493.53L398.02 487.83L388.9 493.69Z" fill="#37699e" stroke="#1c232c" stroke-width="1.0" stroke-linejoin="round"/>
<path d="M379.22 487.49L388.34 481.62L398.02 487.83L388.9 493.69Z" fill="#386ba0" stroke="#1c232c" stroke-width="1.0" stroke-linejoin="round"/>
<path d="M401.59 493.6L411.27 499.81L411.27 493.54L401.59 487.34Z" fill="#36699c" stroke="#1c232c" stroke-width="1.0" stroke-linejoin="round"/>
<path d="M411.27 499.81L420.39 493.94L420.39 487.68L411.27 493.54Z" fill="#376a9f" stroke="#1c232c" stroke-width="1.0" stroke-linejoin="round"/>
<path d="M401.59 487.34L410.71 481.47L420.39 487.68L411.27 493.54Z" fill="#386ca1" stroke="#1c232c" stroke-width="1.0" stroke-linejoin="round"/>
<path d="M278.89 497.9L288.01 492.03L297.69 498.24L288.57 504.1Z" fill="#2a4a85" stroke="#1c232c" stroke-width="1.0" stroke-linejoin="round"/>
<path d="M301.26 498.33L310.38 492.47L320.06 498.67L310.94 504.54Z" fill="#2a4a85" stroke="#1c232c" stroke-width="1.0" stroke-linejoin="round"/>
<path d="M323.63 499.35L333.31 505.56L333.31 496.75L323.63 490.55Z" fill="#36689b" stroke="#1c232c" stroke-width="1.0" stroke-linejoin="round"/>
<path d="M333.31 505.56L342.43 499.69L342.43 490.89L333.31 496.75Z" fill="#37699e" stroke="#1c232c" stroke-width="1.0" stroke-linejoin="round"/>
<path d="M323.63 490.55L332.75 484.68L342.43 490.89L333.31 496.75Z" fill="#386ba0" stroke="#1c232c" stroke-width="1.0" stroke-linejoin="round"/>
<path d="M346 499.76L355.68 505.97L355.68 493.68L346 487.47Z" fill="#36689b" stroke="#1c232c" stroke-width="1.0" stroke-linejoin="round"/>
<path d="M355.68 505.97L364.8 500.1L364.8 487.82L355.68 493.68Z" fill="#37699e" stroke="#1c232c" stroke-width="1.0" stroke-linejoin="round"/>
<path d="M346 487.47L355.12 481.61L364.8 487.82L355.68 493.68Z" fill="#386ba0" stroke="#1c232c" stroke-width="1.0" stroke-linejoin="round"/>
<path d="M368.37 500.17L378.05 506.38L378.05 491.14L368.37 484.94Z" fill="#36689b" stroke="#1c232c" stroke-width="1.0" stroke-linejoin="round"/>
<path d="M378.05 506.38L387.17 500.51L387.17 485.28L378.05 491.14Z" fill="#37699e" stroke="#1c232c" stroke-width="1.0" stroke-linejoin="round"/>
<path d="M368.37 484.94L377.49 479.07L387.17 485.28L378.05 491.14Z" fill="#386ba0" stroke="#1c232c" stroke-width="1.0" stroke-linejoin="round"/>
<path d="M390.74 500.58L400.42 506.79L400.42 493.81L390.74 487.6Z" fill="#36689b" stroke="#1c232c" stroke-width="1.0" stroke-linejoin="round"/>
<path d="M400.42 506.79L409.54 500.92L409.54 487.95L400.42 493.81Z" fill="#37699e" stroke="#1c232c" stroke-width="1.0" stroke-linejoin="round"/>
<path d="M390.74 487.6L399.86 481.74L409.54 487.95L400.42 493.81Z" fill="#386ba0" stroke="#1c232c" stroke-width="1.0" stroke-linejoin="round"/>
<path d="M290.41 505.31L299.53 499.45L309.21 505.65L300.09 511.52Z" fill="#2a4a85" stroke="#1c232c" stroke-width="1.0" stroke-linejoin="round"/>
<path d="M312.78 505.74L321.9 499.87L331.58 506.08L322.46 511.94Z" fill="#2a4a85" stroke="#1c232c" stroke-width="1.0" stroke-linejoin="round"/>
<path d="M335.15 506.74L344.83 512.95L344.83 499.68L335.15 493.47Z" fill="#36689b" stroke="#1c232c" stroke-width="1.0" stroke-linejoin="round"/>
<path d="M344.83 512.95L353.95 507.08L353.95 493.82L344.83 499.68Z" fill="#37699e" stroke="#1c232c" stroke-width="1.0" stroke-linejoin="round"/>
<path d="M335.15 493.47L344.27 487.61L353.95 493.82L344.83 499.68Z" fill="#386ba0" stroke="#1c232c" stroke-width="1.0" stroke-linejoin="round"/>
<path d="M357.52 507.15L367.2 513.36L367.2 503.53L357.52 497.32Z" fill="#36689b" stroke="#1c232c" stroke-width="1.0" stroke-linejoin="round"/>
<path d="M367.2 513.36L376.32 507.49L376.32 497.67L367.2 503.53Z" fill="#37699e" stroke="#1c232c" stroke-width="1.0" stroke-linejoin="round"/>
<path d="M357.52 497.32L366.64 491.46L376.32 497.67L367.2 503.53Z" fill="#386ba0" stroke="#1c232c" stroke-width="1.0" stroke-linejoin="round"/>
<path d="M379.89 507.56L389.57 513.77L389.57 503.11L379.89 496.9Z" fill="#36689b" stroke="#1c232c" stroke-width="1.0" stroke-linejoin="round"/>
<path d="M389.57 513.77L398.69 507.9L398.69 497.25L389.57 503.11Z" fill="#37699e" stroke="#1c232c" stroke-width="1.0" stroke-linejoin="round"/>
<path d="M379.89 496.9L389.01 491.04L398.69 497.25L389.57 503.11Z" fill="#386ba0" stroke="#1c232c" stroke-width="1.0" stroke-linejoin="round"/>
<path d="M301.93 512.72L311.05 506.85L320.73 513.06L311.61 518.92Z" fill="#2a4a85" stroke="#1c232c" stroke-width="1.0" stroke-linejoin="round"/>
<path d="M324.3 513.14L333.42 507.27L343.1 513.48L333.98 519.35Z" fill="#2a4a85" stroke="#1c232c" stroke-width="1.0" stroke-linejoin="round"/>
<path d="M346.67 514.13L356.35 520.34L356.35 515.51L346.67 509.3Z" fill="#36689b" stroke="#1c232c" stroke-width="1.0" stroke-linejoin="round"/>
<path d="M356.35 520.34L365.47 514.47L365.47 509.64L356.35 515.51Z" fill="#37699e" stroke="#1c232c" stroke-width="1.0" stroke-linejoin="round"/>
<path d="M346.67 509.3L355.79 503.44L365.47 509.64L356.35 515.51Z" fill="#386ba0" stroke="#1c232c" stroke-width="1.0" stroke-linejoin="round"/>
<path d="M369.04 514.54L378.72 520.75L378.72 512.21L369.04 506Z" fill="#36689b" stroke="#1c232c" stroke-width="1.0" stroke-linejoin="round"/>
<path d="M378.72 520.75L387.84 514.88L387.84 506.35L378.72 512.21Z" fill="#37699e" stroke="#1c232c" stroke-width="1.0" stroke-linejoin="round"/>
<path d="M369.04 506L378.16 500.14L387.84 506.35L378.72 512.21Z" fill="#386ba0" stroke="#1c232c" stroke-width="1.0" stroke-linejoin="round"/>
<path d="M313.45 520.12L322.57 514.25L332.25 520.46L323.13 526.33Z" fill="#2a4a85" stroke="#1c232c" stroke-width="1.0" stroke-linejoin="round"/>
<path d="M335.82 520.54L344.94 514.67L354.62 520.88L345.5 526.74Z" fill="#2a4a85" stroke="#1c232c" stroke-width="1.0" stroke-linejoin="round"/>
<path d="M358.19 521.52L367.87 527.73L367.87 514.49L358.19 508.28Z" fill="#36689b" stroke="#1c232c" stroke-width="1.0" stroke-linejoin="round"/>
<path d="M367.87 527.73L376.99 521.86L376.99 508.63L367.87 514.49Z" fill="#37699e" stroke="#1c232c" stroke-width="1.0" stroke-linejoin="round"/>
<path d="M358.19 508.28L367.31 502.42L376.99 508.63L367.87 514.49Z" fill="#386ba0" stroke="#1c232c" stroke-width="1.0" stroke-linejoin="round"/>
<path d="M324.97 527.52L334.09 521.65L343.77 527.86L334.65 533.72Z" fill="#2a4a85" stroke="#1c232c" stroke-width="1.0" stroke-linejoin="round"/>
<path d="M347.34 527.93L356.46 522.07L366.14 528.28L357.02 534.14Z" fill="#2a4a85" stroke="#1c232c" stroke-width="1.0" stroke-linejoin="round"/>
<path d="M336.49 534.91L345.61 529.05L355.29 535.26L346.17 541.12Z" fill="#2a4a85" stroke="#1c232c" stroke-width="1.0" stroke-linejoin="round"/>
</g>
<line x1="140.7" y1="271" x2="140.7" y2="408.6" stroke="#6a6a6a" stroke-width="0.9" />
<line x1="140.7" y1="408.6" x2="131.2" y2="402.5" stroke="#6a6a6a" stroke-width="0.9" />
<line x1="140.7" y1="339.8" x2="131.2" y2="333.7" stroke="#6a6a6a" stroke-width="0.9" />
<line x1="140.7" y1="271" x2="131.2" y2="264.9" stroke="#6a6a6a" stroke-width="0.9" />
<text x="120.5" y="270" font-size="29.8" text-anchor="end" fill="#111" font-family="'Liberation Sans', Arial, sans-serif" >1</text>
<text x="119.5" y="339.2" font-size="29.8" text-anchor="end" fill="#111" font-family="'Liberation Sans', Arial, sans-serif" >0.5</text>
<text x="121" y="396.7" font-size="29.8" text-anchor="end" fill="#111" font-family="'Liberation Sans', Arial, sans-serif" >0</text>
<line x1="144.62" y1="413.51" x2="136.22" y2="418.71" stroke="#6a6a6a" stroke-width="0.9" />
<line x1="156.15" y1="420.9" x2="147.75" y2="426.1" stroke="#6a6a6a" stroke-width="0.9" />
<line x1="167.66" y1="428.29" x2="159.26" y2="433.49" stroke="#6a6a6a" stroke-width="0.9" />
<line x1="179.19" y1="435.68" x2="170.78" y2="440.88" stroke="#6a6a6a" stroke-width="0.9" />
<line x1="225.26" y1="465.24" x2="216.86" y2="470.44" stroke="#6a6a6a" stroke-width="0.9" />
<line x1="282.87" y1="502.19" x2="274.47" y2="507.39" stroke="#6a6a6a" stroke-width="0.9" />
<line x1="340.46" y1="539.14" x2="332.06" y2="544.34" stroke="#6a6a6a" stroke-width="0.9" />
<text x="107.5" y="416.2" font-size="21.5" text-anchor="end" fill="#111" font-family="'Liberation Sans', Arial, sans-serif" >QE</text>
<text x="124" y="437.6" font-size="21.5" text-anchor="end" fill="#111" font-family="'Liberation Sans', Arial, sans-serif" >CCW</text>
<text x="142.5" y="458" font-size="21.5" text-anchor="end" fill="#111" font-family="'Liberation Sans', Arial, sans-serif" >CW</text>
<text x="154.5" y="479" font-size="29.8" text-anchor="middle" fill="#111" font-family="'Liberation Sans', Arial, sans-serif" >1</text>
<text x="199" y="505.5" font-size="29.8" text-anchor="middle" fill="#111" font-family="'Liberation Sans', Arial, sans-serif" >5</text>
<text x="249" y="541.4" font-size="29.8" text-anchor="middle" fill="#111" font-family="'Liberation Sans', Arial, sans-serif" >10</text>
<text x="306.5" y="578.8" font-size="29.8" text-anchor="middle" fill="#111" font-family="'Liberation Sans', Arial, sans-serif" >15</text>
<line x1="395.05" y1="511.43" x2="403.45" y2="517.03" stroke="#6a6a6a" stroke-width="0.9" />
<line x1="449.3" y1="476.53" x2="457.7" y2="482.13" stroke="#6a6a6a" stroke-width="0.9" />
<line x1="503.55" y1="441.63" x2="511.95" y2="447.23" stroke="#6a6a6a" stroke-width="0.9" />
<line x1="557.8" y1="406.73" x2="566.2" y2="412.33" stroke="#6a6a6a" stroke-width="0.9" />
<line x1="612.05" y1="371.83" x2="620.45" y2="377.43" stroke="#6a6a6a" stroke-width="0.9" />
<line x1="666.3" y1="336.93" x2="674.7" y2="342.53" stroke="#6a6a6a" stroke-width="0.9" />
<text x="422" y="551.6" font-size="29.8" text-anchor="middle" fill="#111" font-family="'Liberation Sans', Arial, sans-serif" >5</text>
<text x="486.5" y="515.6" font-size="29.8" text-anchor="middle" fill="#111" font-family="'Liberation Sans', Arial, sans-serif" >10</text>
<text x="541" y="481" font-size="29.8" text-anchor="middle" fill="#111" font-family="'Liberation Sans', Arial, sans-serif" >15</text>
<text x="593.7" y="447.2" font-size="29.8" text-anchor="middle" fill="#111" font-family="'Liberation Sans', Arial, sans-serif" >20</text>
<text x="648.3" y="412.5" font-size="29.8" text-anchor="middle" fill="#111" font-family="'Liberation Sans', Arial, sans-serif" >25</text>
<text x="702" y="376.5" font-size="29.8" text-anchor="middle" fill="#111" font-family="'Liberation Sans', Arial, sans-serif" >30</text>
<rect x="808.4" y="86.7" width="23.7" height="452.2" fill="url(#gcb)" stroke="#888" stroke-width="0.9"/>
<text x="840" y="95.6" font-size="24.5" fill="#111" font-family="'Liberation Sans', Arial, sans-serif">10<tspan dx="0.5" dy="-12.5" font-size="15.5">2</tspan></text>
<line x1="832.1" y1="292.2" x2="828.1" y2="292.2" stroke="#555" stroke-width="0.9" />
<text x="840" y="301.1" font-size="24.5" fill="#111" font-family="'Liberation Sans', Arial, sans-serif">10<tspan dx="0.5" dy="-12.5" font-size="15.5">1</tspan></text>
<line x1="832.1" y1="498.2" x2="828.1" y2="498.2" stroke="#555" stroke-width="0.9" />
<text x="840" y="507.8" font-size="24.5" fill="#111" font-family="'Liberation Sans', Arial, sans-serif">10<tspan dx="0.5" dy="-12.5" font-size="15.5">0</tspan></text>
<g transform="translate(211.11,54.58) scale(0.9719)"><text font-size="33.8" fill="#151515" font-family="'Liberation Sans', Arial, sans-serif" >Topological atom mirror,<tspan dx="6" >J</tspan><tspan font-size="28.4" dy="11.3" dx="1.5" >0</tspan><tspan dy="-11.3" dx="7.5" >=</tspan><tspan dx="9.5" >8</tspan><tspan font-size="35.5" font-family="'Liberation Serif', 'Times New Roman', serif" dx="2.5" >Γ</tspan></text></g>
<g transform="translate(823.74,52.94) scale(1.0250)"><text font-size="37.3" fill="#151515" font-family="'Liberation Sans', Arial, sans-serif" >(a)</text></g>
<g transform="translate(43.00,374.80) rotate(-90) scale(0.9701)"><text font-size="34" fill="#151515" font-family="'Liberation Sans', Arial, sans-serif" >|<tspan font-family="'Liberation Serif', 'Times New Roman', serif" dx="1" font-style="italic">ψ</tspan><tspan font-size="26" dy="16.4" dx="1" >k</tspan><tspan dy="-16.4" dx="1" >|</tspan><tspan font-size="27" dy="-17.5" dx="2" >2</tspan></text></g>
<g transform="translate(99.61,507.34) rotate(34.5) scale(1.0068)"><text font-size="32.5" fill="#151515" font-family="'Liberation Sans', Arial, sans-serif" >Cells index</text></g>
<g transform="translate(492.68,581.21) rotate(-33.8) scale(1.0292)"><text font-size="31.5" fill="#151515" font-family="'Liberation Sans', Arial, sans-serif" >Eigenstates index<tspan font-size="39" font-family="'Liberation Serif', 'Times New Roman', serif" dx="20" font-style="italic">m</tspan></text></g>
<g transform="translate(789.00,255.12) rotate(-90) scale(1.0613)"><text font-size="27.5" fill="#151515" font-family="'Liberation Sans', Arial, sans-serif" ><tspan fill="#2d5582">−</tspan> 2Im[<tspan font-style="italic">E</tspan>] / <tspan font-size="31" font-family="'Liberation Serif', 'Times New Roman', serif" font-style="italic">γ</tspan><tspan font-size="22" dy="7" >0</tspan></text></g>
<g transform="translate(823.55,682.81) scale(1.0200)"><text font-size="37.3" fill="#151515" font-family="'Liberation Sans', Arial, sans-serif" >(b)</text></g>
<g transform="translate(377.25,1265.67) scale(1.0312)"><text font-size="31.5" fill="#151515" font-family="'Liberation Sans', Arial, sans-serif" >Re[<tspan dx="5" font-style="italic">E</tspan><tspan dx="5" >] / g</tspan></text></g>
<g transform="translate(50.47,1052.81) rotate(-90) scale(1.1553)"><text font-size="31.5" fill="#315682" font-family="'Liberation Sans', Arial, sans-serif" >− 2Im[<tspan font-style="italic">E</tspan>] / <tspan font-size="36" font-family="'Liberation Serif', 'Times New Roman', serif" font-style="italic">γ</tspan><tspan font-size="26" dy="8" >0</tspan></text></g>
<g transform="translate(848.20,1074.22) rotate(-90) scale(1.1064)"><text font-size="31.5" fill="#e3517a" font-family="'Liberation Sans', Arial, sans-serif" >− 2Im[<tspan font-style="italic">E</tspan><tspan font-size="25" dy="8" >bare</tspan><tspan dy="-8" >] / </tspan><tspan font-size="36" font-family="'Liberation Serif', 'Times New Roman', serif" font-style="italic">γ</tspan><tspan font-size="26" dy="8" >0</tspan></text></g>
<g transform="translate(152.03,1000.03) scale(0.9844)"><text font-size="30" fill="#33567f" font-family="'Liberation Sans', Arial, sans-serif" font-weight="bold">Subradiant</text></g>
<g transform="translate(337.80,1134.30) scale(1.0000)"><text font-size="25.5" fill="#6fbaa6" font-family="'Liberation Sans', Arial, sans-serif" font-weight="bold">Polaritonic states</text></g>
<g transform="translate(237.41,1058.79) scale(0.9875)"><text font-size="29" fill="#315682" font-family="'Liberation Serif', 'Times New Roman', serif" ><tspan font-style="italic">m</tspan> = 1</text></g>
<g transform="translate(592.66,1059.11) scale(1.0226)"><text font-size="29" fill="#315682" font-family="'Liberation Serif', 'Times New Roman', serif" ><tspan font-style="italic">m</tspan> = 2</text></g>
<g transform="translate(1673.81,49.30) scale(0.9902)"><text font-size="37.3" fill="#151515" font-family="'Liberation Sans', Arial, sans-serif" >(c)</text></g>
<g transform="translate(1202.42,637.92) scale(0.9938)"><text font-size="32.5" fill="#151515" font-family="'Liberation Sans', Arial, sans-serif" >Number of atoms<tspan dx="22" font-style="italic">N</tspan></text></g>
<g transform="translate(934.58,369.47) rotate(-90) scale(1.0607)"><text font-size="38" fill="#151515" font-family="'Liberation Serif', 'Times New Roman', serif" >Γ<tspan font-size="27" font-family="'Liberation Sans', Arial, sans-serif" dy="9" dx="1" >p</tspan><tspan font-family="'Liberation Sans', Arial, sans-serif" dy="-9" > / </tspan><tspan font-style="italic">γ</tspan><tspan font-size="27" font-family="'Liberation Sans', Arial, sans-serif" dy="9" dx="1" >0</tspan></text></g>
<g transform="translate(1195.73,279.13) scale(0.9758)"><text font-size="29" fill="#6d6d6d" font-family="'Liberation Sans', Arial, sans-serif" >Classical mirror</text></g>
<g transform="translate(1321.31,350.45) scale(0.9686)"><text font-size="28.8" fill="#151515" font-family="'Liberation Sans', Arial, sans-serif" >Trivial atom mirror ( J<tspan font-size="25" dy="8" dx="2" >0</tspan><tspan dy="-8" > = 0 )</tspan></text></g>
<g transform="translate(1533.49,439.46) scale(1.0256)"><text font-size="29.5" fill="#2d5582" font-family="'Liberation Sans', Arial, sans-serif" >J<tspan font-size="25" dy="8" dx="2" >0</tspan><tspan dy="-8" dx="3" >=</tspan><tspan dx="8" >5</tspan><tspan font-size="31.5" font-family="'Liberation Serif', 'Times New Roman', serif" dx="2" >Γ</tspan></text></g>
<g transform="translate(1508.89,503.76) scale(1.0092)"><text font-size="29.5" fill="#44ad8d" font-family="'Liberation Sans', Arial, sans-serif" >J<tspan font-size="25" dy="8" dx="2" >0</tspan><tspan dy="-8" dx="3" >=</tspan><tspan dx="8" >10</tspan><tspan font-size="31.5" font-family="'Liberation Serif', 'Times New Roman', serif" dx="2" >Γ</tspan></text></g>
<g transform="translate(1066.69,535.31) scale(1.0171)"><text font-size="29.5" fill="#e45478" font-family="'Liberation Sans', Arial, sans-serif" >J<tspan font-size="25" dy="8" dx="2" >0</tspan><tspan dy="-8" dx="3" >=</tspan><tspan dx="8" >8</tspan><tspan font-size="31.5" font-family="'Liberation Serif', 'Times New Roman', serif" dx="2" >Γ</tspan></text></g>
<g transform="translate(1521.94,303.74) scale(1.0543)"><text font-size="25" fill="#151515" font-family="'Liberation Sans', Arial, sans-serif" >J<tspan font-size="21" dy="7" dx="1" >0</tspan><tspan dy="-7" > / </tspan><tspan font-size="27" font-family="'Liberation Serif', 'Times New Roman', serif" >Γ</tspan></text></g>
<g transform="translate(1370.68,211.08) rotate(-90) scale(1.0830)"><text font-size="29" fill="#151515" font-family="'Liberation Serif', 'Times New Roman', serif" >Γ<tspan font-size="21" font-family="'Liberation Sans', Arial, sans-serif" dy="7" dx="1" >p</tspan><tspan font-family="'Liberation Sans', Arial, sans-serif" dy="-7" > / </tspan>Γ<tspan font-size="21" font-family="'Liberation Sans', Arial, sans-serif" dy="7" dx="1" >p</tspan><tspan font-size="21" font-family="'Liberation Sans', Arial, sans-serif" dy="-20" dx="-11" >0</tspan></text></g>
<g transform="translate(1483.31,156.18) rotate(45) scale(0.9707)"><text font-size="22.5" fill="#2d5582" font-family="'Liberation Serif', 'Times New Roman', serif" >κ<tspan font-family="'Liberation Sans', Arial, sans-serif" > = 18</tspan><tspan font-size="24" >γ</tspan><tspan font-size="17" font-family="'Liberation Sans', Arial, sans-serif" dy="5" >0</tspan></text></g>
<g transform="translate(1445.53,178.52) rotate(45) scale(0.9540)"><text font-size="22.5" fill="#e45478" font-family="'Liberation Serif', 'Times New Roman', serif" >κ<tspan font-family="'Liberation Sans', Arial, sans-serif" > = 20</tspan><tspan font-size="24" >γ</tspan><tspan font-size="17" font-family="'Liberation Sans', Arial, sans-serif" dy="5" >0</tspan></text></g>
<g transform="translate(1578.39,209.41) rotate(-21) scale(0.9461)"><text font-size="22.5" fill="#44ad8d" font-family="'Liberation Serif', 'Times New Roman', serif" >κ<tspan font-family="'Liberation Sans', Arial, sans-serif" > = 22</tspan><tspan font-size="24" >γ</tspan><tspan font-size="17" font-family="'Liberation Sans', Arial, sans-serif" dy="5" >0</tspan></text></g>
<g transform="translate(1674.17,681.40) scale(1.0018)"><text font-size="37.3" fill="#151515" font-family="'Liberation Sans', Arial, sans-serif" >(d)</text></g>
<g transform="translate(1079.17,684.76) scale(1.0083)"><text font-size="31" fill="#151515" font-family="'Liberation Sans', Arial, sans-serif" >Probability distributions of cavity polaritons</text></g>
<g transform="translate(1008.68,697.89) scale(1.0201)"><text font-size="29" fill="#151515" font-family="'Liberation Sans', Arial, sans-serif" >x10<tspan font-size="17.5" dy="-15" >-2</tspan></text></g>
<g transform="translate(1298.20,1264.80) scale(1.0000)"><text font-size="32.5" fill="#151515" font-family="'Liberation Sans', Arial, sans-serif" >Cells index</text></g>
<g transform="translate(941.44,984.00) rotate(-90) scale(0.9287)"><text font-size="34" fill="#151515" font-family="'Liberation Sans', Arial, sans-serif" >|<tspan font-family="'Liberation Serif', 'Times New Roman', serif" dx="1" font-style="italic">ψ</tspan><tspan font-size="25" dy="8" dx="1" font-weight="bold" font-style="italic">k</tspan><tspan dy="-8" dx="1" >|</tspan><tspan font-size="25" dy="-17" dx="2" >2</tspan></text></g>
<g transform="translate(1395.22,780.01) scale(0.9727)"><text font-size="28.8" fill="#151515" font-family="'Liberation Sans', Arial, sans-serif" >Trivial, J<tspan font-size="25" dy="8" dx="2" >0</tspan><tspan dy="-8" > = 0</tspan></text></g>
<g transform="translate(1395.21,823.28) scale(0.9837)"><text font-size="28.8" fill="#151515" font-family="'Liberation Sans', Arial, sans-serif" >Topological, J<tspan font-size="25" dy="8" dx="2" >0</tspan><tspan dy="-8" > = 8</tspan><tspan font-size="31" font-family="'Liberation Serif', 'Times New Roman', serif" dx="3" >Γ</tspan></text></g>
<g transform="translate(1395.22,866.49) scale(0.9839)"><text font-size="28.8" fill="#151515" font-family="'Liberation Sans', Arial, sans-serif" >Topological, J<tspan font-size="25" dy="8" dx="2" >0</tspan><tspan dy="-8" > = 10</tspan><tspan font-size="31" font-family="'Liberation Serif', 'Times New Roman', serif" dx="3" >Γ</tspan></text></g></svg></body></html>
